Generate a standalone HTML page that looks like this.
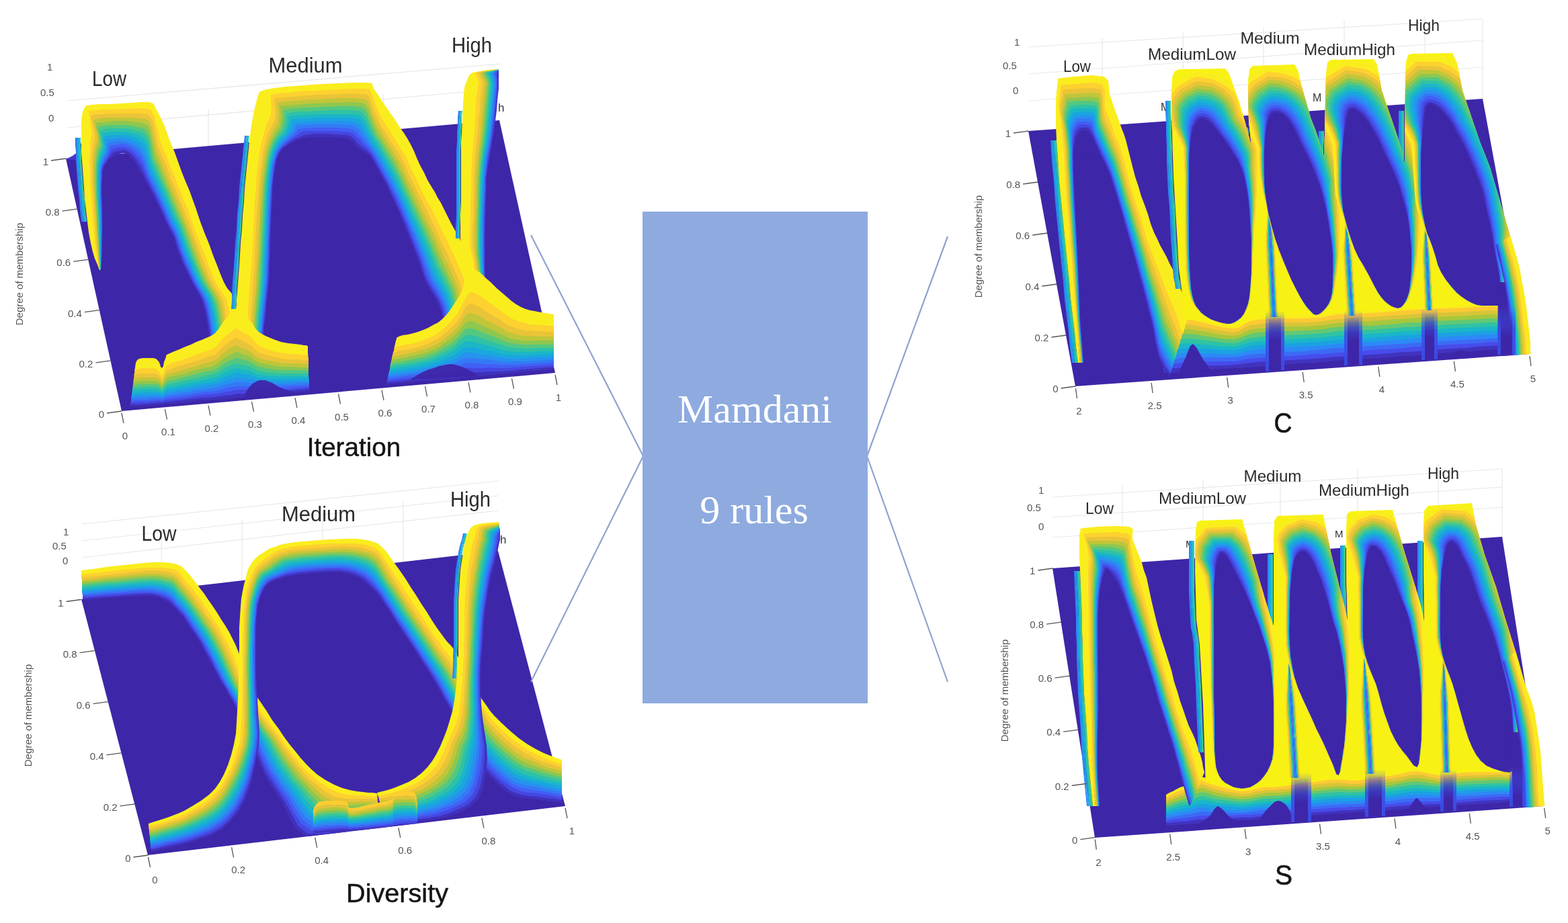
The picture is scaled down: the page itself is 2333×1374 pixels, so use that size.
<!DOCTYPE html>
<html><head><meta charset="utf-8"><style>html,body{margin:0;padding:0;background:#fff;overflow:hidden}svg{display:block}</style></head><body>
<svg xmlns="http://www.w3.org/2000/svg" width="2333" height="1374" viewBox="0 0 2333 1374">
<defs><clipPath id="cTL"><polygon points="60.0,0.0 870.0,0.0 870.0,551.1 60.0,622.7"/></clipPath>
<clipPath id="cBL"><polygon points="60.0,700.0 880.0,700.0 880.0,1195.4 60.0,1291.9"/></clipPath>
<clipPath id="cTR"><polygon points="1450.0,0.0 2330.0,0.0 2330.0,523.2 1450.0,585.7"/></clipPath>
<clipPath id="u1"><polygon points="1762,492 1758,430 1754,400 1750,330 1746,263 1744,200 1743,150 1744,115 1748,106 1755,103 1823,102 1829,110 1836,130 1843,150 1852,180 1860,210 1862,218 1858,180 1857,150 1857,122 1859,103 1864,98 1926,96 1931,104 1936,126 1943,150 1950,175 1959,198 1966,220 1970,232 1971,200 1972,150 1973,110 1975,93 1980,89 2044,88 2049,96 2056,135 2069,173 2082,211 2088,232 2090,245 2090,200 2091,122 2092,92 2095,82 2100,80 2161,79 2168,94 2176,135 2189,173 2202,211 2217,249 2232,300 2247,351 2261,400 2270,450 2276,500 2277,528 2250,473 2231,455 2180,455 2110,458 2079,460 2040,463 1990,465 1958,470 1900,471 1860,475 1836,487 1790,477 1762,475"/></clipPath>
<linearGradient id="g1" gradientUnits="userSpaceOnUse" x1="0.0" y1="462.0" x2="0.0" y2="497.0"><stop offset="0" stop-color="#3a4ee8" stop-opacity="0.00"/><stop offset="1" stop-color="#3a4ee8" stop-opacity="0.90"/></linearGradient>
<linearGradient id="g2" gradientUnits="userSpaceOnUse" x1="0.0" y1="470.0" x2="0.0" y2="507.0"><stop offset="0" stop-color="#3e26a8" stop-opacity="0.00"/><stop offset="1" stop-color="#3e26a8" stop-opacity="1.00"/></linearGradient>
<linearGradient id="g3" gradientUnits="userSpaceOnUse" x1="0.0" y1="462.0" x2="0.0" y2="497.0"><stop offset="0" stop-color="#3a4ee8" stop-opacity="0.00"/><stop offset="1" stop-color="#3a4ee8" stop-opacity="0.90"/></linearGradient>
<linearGradient id="g4" gradientUnits="userSpaceOnUse" x1="0.0" y1="470.0" x2="0.0" y2="507.0"><stop offset="0" stop-color="#3e26a8" stop-opacity="0.00"/><stop offset="1" stop-color="#3e26a8" stop-opacity="1.00"/></linearGradient>
<linearGradient id="g5" gradientUnits="userSpaceOnUse" x1="0.0" y1="458.0" x2="0.0" y2="493.0"><stop offset="0" stop-color="#3a4ee8" stop-opacity="0.00"/><stop offset="1" stop-color="#3a4ee8" stop-opacity="0.90"/></linearGradient>
<linearGradient id="g6" gradientUnits="userSpaceOnUse" x1="0.0" y1="466.0" x2="0.0" y2="503.0"><stop offset="0" stop-color="#3e26a8" stop-opacity="0.00"/><stop offset="1" stop-color="#3e26a8" stop-opacity="1.00"/></linearGradient>
<linearGradient id="g7" gradientUnits="userSpaceOnUse" x1="0.0" y1="455.0" x2="0.0" y2="490.0"><stop offset="0" stop-color="#3a4ee8" stop-opacity="0.00"/><stop offset="1" stop-color="#3a4ee8" stop-opacity="0.90"/></linearGradient>
<linearGradient id="g8" gradientUnits="userSpaceOnUse" x1="0.0" y1="463.0" x2="0.0" y2="500.0"><stop offset="0" stop-color="#3e26a8" stop-opacity="0.00"/><stop offset="1" stop-color="#3e26a8" stop-opacity="1.00"/></linearGradient>
<clipPath id="cBR"><polygon points="1450.0,690.0 2333.0,690.0 2333.0,1197.5 1450.0,1259.1"/></clipPath>
<clipPath id="u2"><polygon points="1794,1172 1790,1050 1785,960 1780,922 1778,850 1779,790 1781,777 1786,775 1848,773 1853,790 1863,826 1877,874 1889,915 1895,932 1895,850 1895,802 1896,775 1901,768 1969,766 1971,778 1981,826 1993,874 2001,905 2005,925 2003,850 2003,790 2004,765 2010,761 2072,759 2077,778 2091,826 2106,874 2115,905 2119,925 2118,850 2118,790 2119,760 2125,753 2190,749 2195,778 2209,826 2226,874 2240,922 2255,970 2269,1018 2283,1060 2292,1120 2298,1200 2265,1173 2251,1150 2180,1149 2140,1153 2108,1146 2070,1153 2020,1161 1990,1159 1950,1163 1905,1170 1880,1171 1848,1177 1810,1168 1794,1165"/></clipPath>
<linearGradient id="g9" gradientUnits="userSpaceOnUse" x1="0.0" y1="1150.0" x2="0.0" y2="1185.0"><stop offset="0" stop-color="#3a4ee8" stop-opacity="0.00"/><stop offset="1" stop-color="#3a4ee8" stop-opacity="0.90"/></linearGradient>
<linearGradient id="g10" gradientUnits="userSpaceOnUse" x1="0.0" y1="1158.0" x2="0.0" y2="1195.0"><stop offset="0" stop-color="#3e26a8" stop-opacity="0.00"/><stop offset="1" stop-color="#3e26a8" stop-opacity="1.00"/></linearGradient>
<linearGradient id="g11" gradientUnits="userSpaceOnUse" x1="0.0" y1="1145.0" x2="0.0" y2="1180.0"><stop offset="0" stop-color="#3a4ee8" stop-opacity="0.00"/><stop offset="1" stop-color="#3a4ee8" stop-opacity="0.90"/></linearGradient>
<linearGradient id="g12" gradientUnits="userSpaceOnUse" x1="0.0" y1="1153.0" x2="0.0" y2="1190.0"><stop offset="0" stop-color="#3e26a8" stop-opacity="0.00"/><stop offset="1" stop-color="#3e26a8" stop-opacity="1.00"/></linearGradient>
<linearGradient id="g13" gradientUnits="userSpaceOnUse" x1="0.0" y1="1145.0" x2="0.0" y2="1180.0"><stop offset="0" stop-color="#3a4ee8" stop-opacity="0.00"/><stop offset="1" stop-color="#3a4ee8" stop-opacity="0.90"/></linearGradient>
<linearGradient id="g14" gradientUnits="userSpaceOnUse" x1="0.0" y1="1153.0" x2="0.0" y2="1190.0"><stop offset="0" stop-color="#3e26a8" stop-opacity="0.00"/><stop offset="1" stop-color="#3e26a8" stop-opacity="1.00"/></linearGradient>
<linearGradient id="g15" gradientUnits="userSpaceOnUse" x1="0.0" y1="1140.0" x2="0.0" y2="1175.0"><stop offset="0" stop-color="#3a4ee8" stop-opacity="0.00"/><stop offset="1" stop-color="#3a4ee8" stop-opacity="0.90"/></linearGradient>
<linearGradient id="g16" gradientUnits="userSpaceOnUse" x1="0.0" y1="1148.0" x2="0.0" y2="1185.0"><stop offset="0" stop-color="#3e26a8" stop-opacity="0.00"/><stop offset="1" stop-color="#3e26a8" stop-opacity="1.00"/></linearGradient></defs>
<rect width="2333" height="1374" fill="#fff"/>
<g stroke="#e6e6e6" stroke-width="1.2" fill="none">
<line x1="180" y1="175" x2="180" y2="240"/>
<line x1="310" y1="163" x2="310" y2="228"/>
<line x1="440" y1="152" x2="440" y2="217"/>
<line x1="570" y1="141" x2="570" y2="206"/>
<line x1="700" y1="129" x2="700" y2="194"/>
<polyline points="100,190 745,132"/><polyline points="100,150 745,95"/>
</g>
<text x="741.0" y="166.0" font-family="Liberation Sans, Arial, sans-serif" font-size="17.0" font-weight="normal" fill="#333">h</text>
<polygon points="181,612 826,555 743,179 98,236" fill="#3e26a8"/>
<g clip-path="url(#cTL)">
<polygon points="98,237 108,232 116,226 121,212 126,240" fill="#4636c8"/>
<polygon points="123,330 121,313 120,296 118,280 117,265 116,252 115,239 115,227 114,216 114,205 112,205 112,216 113,227 113,239 114,252 115,265 116,280 118,296 119,313 121,330" fill="#3676f6"/>
<polygon points="125,330 123,313 121,296 120,280 118,265 117,252 117,239 116,227 116,216 116,205 114,205 114,216 114,227 115,239 115,252 116,265 118,280 119,296 121,313 123,330" fill="#2791ef"/>
<polygon points="126,330 125,313 123,296 121,280 120,265 119,252 118,239 118,227 118,216 117,205 115,205 115,216 116,227 116,239 117,252 118,265 119,280 121,296 122,313 124,330" fill="#18a9dd"/>
<polygon points="128,330 126,313 124,296 123,280 122,265 121,252 120,239 119,227 119,216 119,205 117,205 117,216 117,227 118,239 119,252 120,265 121,280 122,296 124,313 126,330" fill="#1fb9bf"/>
<polygon points="129,330 127,313 126,296 124,280 123,265 122,252 121,239 121,227 120,216 120,205 118,205 119,216 119,227 119,239 120,252 121,265 122,280 124,296 126,313 127,330" fill="#34c69c"/>
<polygon points="150,402 150,394 151,385 151,375 151,361 151,345 151,330 151,316 150,302 150,289 150,276 150,264 150,255 151,248 152,244 154,241 155,237 157,234 159,231 161,229 163,226 165,223 167,222 170,221 173,220 178,219 183,219 189,220 194,223 200,228 204,233 208,237 210,242 213,246 215,252 218,258 221,264 223,269 226,274 229,280 232,287 236,295 240,304 244,312 247,321 251,329 255,336 258,343 262,351 265,360 268,369 272,380 277,393 284,407 290,420 295,429 300,437 304,445 307,453 309,460 311,469 313,480 314,492 316,505 312,505 310,493 308,481 306,470 304,461 302,453 299,445 295,437 290,429 285,420 279,407 272,393 267,380 263,370 261,361 258,353 254,346 251,339 247,332 244,324 240,317 237,309 233,301 229,294 226,287 223,281 221,277 218,272 215,267 213,263 210,258 207,253 205,249 202,244 198,239 194,233 190,229 186,228 182,228 178,229 175,230 172,231 170,232 168,233 165,235 163,237 161,239 159,242 157,245 155,248 154,251 153,256 152,265 152,277 152,290 152,303 153,316 153,330 153,345 152,361 152,375 151,385 151,394 150,402" fill="#4031bb"/>
<polygon points="150,402 150,394 150,385 150,375 150,361 150,345 150,330 150,316 149,302 149,289 149,276 149,264 149,254 150,248 151,243 153,240 154,236 156,232 158,229 160,226 161,223 162,219 164,217 167,216 170,216 176,215 182,215 188,215 194,218 200,223 206,227 209,232 211,236 214,241 216,248 219,254 222,260 224,266 227,271 230,277 234,285 238,293 242,302 245,310 249,319 253,327 256,335 260,342 264,350 267,359 270,369 274,380 279,393 286,407 292,420 297,429 302,437 306,445 309,452 310,460 312,469 314,480 316,492 318,504 314,505 312,493 310,481 308,470 306,461 304,453 301,445 297,437 292,429 287,420 281,407 274,393 269,380 265,370 262,360 260,352 256,345 252,338 249,331 245,323 242,315 238,307 234,299 231,291 227,284 224,279 222,274 219,269 216,263 214,258 211,252 209,248 206,243 203,238 199,233 194,228 189,225 185,223 180,224 175,225 172,225 170,226 167,228 166,230 164,233 162,235 160,238 158,241 156,244 154,247 153,250 152,256 152,265 151,277 151,290 152,303 152,316 152,330 152,345 152,361 152,375 151,385 151,394 150,402" fill="#4647e1"/>
<polygon points="150,402 150,394 150,385 150,375 150,361 150,345 150,330 149,316 148,302 148,289 148,276 148,263 148,253 149,247 150,242 152,238 153,234 155,230 157,227 158,224 159,220 160,214 162,213 164,212 168,211 174,211 181,210 188,211 194,214 201,218 207,222 210,226 213,230 215,235 218,243 220,250 223,257 226,262 228,268 231,274 235,282 239,291 243,299 247,308 250,317 254,326 258,334 262,341 265,349 269,358 272,369 276,380 281,393 288,407 294,420 299,429 304,437 308,445 311,452 312,459 314,468 316,479 318,492 320,504 315,505 314,492 312,480 310,469 308,460 306,453 303,445 299,437 294,429 289,420 283,407 276,393 271,380 267,369 264,360 261,351 258,344 254,337 250,329 247,321 243,313 240,305 236,297 232,289 228,281 225,275 223,270 220,265 218,259 215,253 213,246 210,242 208,237 204,233 200,228 194,223 189,220 183,219 178,219 173,220 170,221 167,222 165,223 164,227 162,230 161,233 159,236 157,239 155,242 153,246 152,249 151,255 151,265 150,277 150,289 151,302 151,316 152,330 152,345 151,361 151,375 151,385 150,394 150,402" fill="#425ff5"/>
<polygon points="150,402 150,394 150,385 149,375 149,361 149,345 149,330 148,316 148,302 147,288 147,275 147,263 147,253 148,246 149,241 150,237 152,232 154,229 156,225 157,221 157,216 157,210 159,208 161,207 165,207 171,206 179,206 187,206 195,209 202,212 208,216 212,220 214,224 217,229 219,238 222,246 224,253 227,259 229,264 232,271 236,279 240,288 244,297 248,306 252,316 256,324 260,332 263,340 267,348 270,358 274,368 278,380 284,393 290,408 296,420 301,429 306,437 310,445 313,452 314,459 316,468 318,479 320,491 322,504 317,504 315,492 313,480 311,469 310,460 308,452 305,445 301,437 296,429 291,420 285,407 278,393 273,380 269,369 266,359 263,350 259,342 255,335 252,328 248,320 245,311 241,303 237,294 233,286 229,278 226,272 224,267 221,262 219,255 216,248 214,241 212,236 209,231 206,227 201,223 194,218 188,215 182,214 176,215 170,216 167,216 164,217 162,219 162,224 161,228 159,231 157,234 155,237 154,241 152,244 151,248 150,254 150,264 150,276 150,289 150,302 151,316 151,330 151,345 151,361 151,375 151,385 150,394 150,402" fill="#347af6"/>
<polygon points="150,402 149,394 149,385 149,375 149,361 148,345 148,330 147,315 147,301 146,288 146,275 146,263 146,252 147,245 148,240 149,235 151,231 152,226 154,223 155,218 155,213 154,205 156,204 159,203 163,202 169,201 178,201 186,201 195,203 203,207 209,210 213,214 216,218 218,223 220,232 223,241 225,250 228,255 231,261 234,268 238,276 242,285 246,295 250,304 254,314 258,323 261,331 265,338 269,347 272,357 276,368 280,380 286,393 292,408 298,420 303,429 308,437 312,444 315,452 317,459 318,467 320,478 322,491 324,504 319,504 317,492 315,479 313,468 312,460 310,452 307,445 303,437 298,429 293,420 287,407 281,393 275,380 271,369 268,359 264,349 261,341 257,334 253,326 250,318 246,309 242,300 238,292 234,283 231,275 228,269 225,264 222,258 220,251 218,243 215,235 213,230 210,226 207,222 201,217 194,213 188,211 181,210 173,210 168,211 164,212 162,213 159,214 160,220 159,225 158,229 156,232 154,236 153,240 151,243 150,247 149,254 149,264 149,276 149,289 149,302 150,316 150,330 150,345 150,361 150,375 150,385 150,394 150,402" fill="#2792ef"/>
<polygon points="149,402 149,394 149,385 148,375 148,361 148,345 147,330 146,315 146,301 145,287 145,274 145,262 145,252 146,244 147,239 148,234 149,229 151,224 153,221 153,215 153,209 151,200 153,199 156,198 160,197 167,197 176,196 186,197 195,198 204,201 211,204 215,208 217,212 220,216 222,227 224,237 227,246 229,251 232,257 235,264 239,273 243,282 247,292 252,302 256,312 260,321 263,329 267,337 271,346 274,356 278,368 283,380 288,393 294,408 300,420 305,429 310,437 314,444 317,451 319,458 320,467 322,478 324,491 326,503 321,504 319,491 317,479 316,468 314,459 312,452 309,445 305,437 300,429 295,420 289,408 283,393 277,380 273,368 270,358 266,348 263,340 259,333 255,325 252,316 248,307 244,298 240,289 236,280 232,272 229,266 226,260 224,255 221,247 219,238 217,228 214,224 212,220 208,216 202,212 195,208 187,206 179,205 171,206 165,207 161,207 159,208 157,210 158,217 157,222 157,227 155,230 153,234 151,238 150,242 149,247 148,253 148,263 148,276 148,288 148,302 149,316 149,330 150,345 150,361 150,375 150,385 150,394 150,402" fill="#19a7de"/>
<polygon points="149,402 149,394 148,385 148,375 147,361 147,346 146,330 145,315 145,301 144,287 144,274 144,262 144,251 144,243 145,237 146,232 148,227 149,222 151,218 151,212 150,205 149,196 150,194 153,193 157,193 165,192 175,191 185,192 195,193 204,195 212,198 216,201 219,205 221,210 223,221 226,232 228,241 231,247 233,253 237,261 240,269 245,279 249,289 253,299 258,310 262,320 265,328 269,336 273,345 277,355 281,367 285,380 291,394 297,408 303,420 308,429 313,437 317,444 320,451 321,458 323,466 325,478 326,490 328,503 323,504 321,491 320,479 318,467 316,459 314,452 312,444 307,437 303,429 297,420 291,408 285,393 280,380 275,368 272,357 268,347 265,339 261,331 257,323 253,314 249,305 245,295 241,286 237,277 233,269 230,262 228,256 225,251 223,242 220,233 218,222 216,217 213,213 209,210 203,206 195,203 186,201 178,201 169,201 162,202 158,202 156,203 154,205 155,213 156,219 155,224 153,228 151,232 150,236 149,241 148,246 147,253 147,263 147,275 147,288 147,301 148,316 149,330 149,345 149,361 149,375 149,385 150,394 150,402" fill="#1bb7c6"/>
<polygon points="149,402 149,394 148,385 147,375 147,361 146,346 145,330 144,315 144,300 143,287 143,273 142,261 143,250 143,242 144,236 145,230 146,224 147,219 149,215 149,208 148,201 146,191 148,189 150,188 154,188 163,187 174,186 184,187 195,188 205,189 213,192 218,195 220,199 222,204 225,215 227,227 229,237 232,243 235,249 238,257 242,266 246,276 251,286 255,297 260,308 264,318 268,326 271,334 275,343 279,355 283,367 288,380 294,394 299,408 305,420 310,429 316,437 320,444 322,451 324,458 325,466 327,477 329,490 330,503 325,503 324,491 322,478 320,467 318,458 317,452 314,444 310,437 305,429 300,420 294,408 288,393 282,380 278,368 274,356 270,346 267,337 263,330 259,322 255,312 251,302 247,292 243,283 239,273 235,265 232,258 229,252 226,246 224,237 222,227 220,216 217,211 215,207 211,204 204,200 195,198 186,196 176,196 167,196 160,197 155,198 153,198 151,200 153,209 154,216 153,222 152,225 150,230 149,234 147,239 146,245 146,252 145,262 145,275 146,288 146,301 147,315 148,330 148,345 148,361 149,375 149,385 149,394 150,402" fill="#2ec2a7"/>
<polygon points="149,402 148,394 147,385 147,375 146,361 145,346 144,330 143,315 142,300 142,286 141,273 141,260 141,249 141,241 142,234 143,228 144,222 146,216 147,212 147,205 145,196 143,186 144,184 147,183 151,183 160,182 172,181 184,181 195,182 206,183 215,185 219,188 222,192 224,197 226,209 229,221 231,232 234,238 237,245 240,253 244,262 248,272 253,283 257,294 262,305 266,316 270,325 273,333 277,342 281,354 286,367 291,380 296,394 302,408 308,420 313,429 318,437 322,444 325,451 327,457 328,465 330,476 331,490 333,503 328,503 326,490 324,478 323,466 321,458 319,451 317,444 313,437 308,429 302,420 297,408 291,394 285,380 280,368 276,356 272,345 269,336 265,328 261,320 257,310 253,300 249,290 245,280 240,270 236,261 233,254 231,248 228,242 225,232 223,221 221,209 219,205 216,201 212,197 204,195 195,192 185,191 175,191 165,191 157,192 152,193 150,194 148,195 151,205 151,212 152,219 150,223 148,227 147,232 146,238 145,244 144,251 144,262 144,274 144,287 145,301 146,315 147,330 147,346 148,361 148,375 149,385 149,394 149,402" fill="#54c880"/>
<polygon points="149,402 148,394 147,385 146,375 145,361 144,346 143,330 142,315 141,300 140,286 140,272 139,260 139,248 140,239 140,232 141,225 142,219 143,213 145,208 144,200 142,191 140,180 141,179 143,178 148,177 158,177 171,176 183,176 195,176 207,177 216,179 221,182 223,185 226,190 228,203 230,215 233,226 236,233 238,240 242,248 246,258 250,269 255,280 260,291 264,303 269,314 272,323 276,331 280,341 284,353 289,366 294,380 300,394 306,408 311,420 316,429 322,437 326,444 328,450 330,457 331,465 333,476 334,489 336,502 330,503 329,490 327,477 325,466 324,458 322,451 319,444 315,437 310,429 305,420 299,408 293,394 288,380 283,367 279,355 275,343 271,334 267,326 264,318 260,308 255,297 251,286 246,276 242,266 238,257 235,249 232,243 229,237 227,226 225,215 223,203 220,198 218,194 214,191 205,189 195,187 184,186 173,186 162,186 154,187 149,188 147,188 145,190 148,201 149,209 150,216 148,220 146,225 145,230 144,236 143,242 143,250 143,261 143,274 143,287 144,301 145,315 145,330 146,346 147,361 147,375 148,385 149,394 149,402" fill="#8ec750"/>
<polygon points="149,402 148,394 146,385 145,375 144,361 142,346 141,330 140,315 139,299 138,285 138,271 137,259 137,247 138,238 138,230 139,222 140,215 141,209 142,204 141,195 139,186 136,175 138,173 140,172 145,172 155,171 169,171 182,170 195,170 208,171 218,172 223,174 225,178 227,183 230,196 232,209 235,220 238,227 241,234 244,243 248,253 253,264 257,276 262,288 267,300 272,311 275,320 279,329 283,339 287,352 292,366 298,380 303,394 309,408 315,420 320,429 325,437 329,444 332,450 333,456 334,464 336,475 338,489 339,502 333,503 332,490 330,476 328,465 327,457 325,451 323,444 319,437 314,429 308,420 303,408 297,394 291,380 286,367 282,354 277,342 274,332 270,324 266,316 262,305 257,294 253,283 248,272 244,262 240,252 237,245 234,238 231,231 229,220 226,208 224,196 222,191 220,187 215,184 206,182 195,181 184,180 172,180 160,181 151,182 146,182 144,183 142,185 145,196 147,204 147,212 146,217 144,222 143,228 142,234 142,241 141,250 141,260 141,273 142,286 142,300 143,315 144,330 145,346 146,361 147,375 147,385 148,394 149,402" fill="#c0c639"/>
<polygon points="149,402 147,394 145,385 144,375 142,361 141,346 140,330 138,314 137,299 136,284 135,270 135,258 135,246 135,236 135,227 136,219 137,211 138,204 139,199 138,190 136,180 133,169 134,167 136,167 142,166 153,165 167,165 181,164 195,164 209,164 219,165 224,167 227,170 229,175 232,188 234,201 237,213 240,220 243,228 246,237 251,247 255,259 260,271 265,284 270,296 275,308 279,318 282,327 286,337 291,350 296,365 302,380 308,394 313,408 319,420 324,429 329,437 333,444 336,450 337,455 338,463 340,474 341,488 343,501 336,502 335,489 333,476 332,464 330,456 329,450 326,444 322,437 317,429 312,420 306,408 300,394 295,380 290,366 285,353 280,340 276,331 273,322 269,313 265,302 260,290 255,279 251,268 246,257 242,247 239,239 236,232 233,225 231,214 228,201 226,189 223,184 221,180 216,177 207,176 195,175 183,175 170,175 157,175 148,176 143,177 141,178 139,179 142,190 144,200 145,208 143,213 142,218 141,225 140,232 139,239 139,248 139,259 139,272 140,286 141,300 142,315 143,330 144,346 145,361 146,375 147,385 148,394 149,402" fill="#e9c438"/>
<polygon points="149,402 146,394 144,385 142,375 140,361 139,346 137,330 136,314 134,298 133,283 132,269 132,256 131,244 131,233 131,223 132,214 132,205 133,198 134,192 133,182 131,172 129,163 131,161 133,160 138,160 150,159 165,158 181,158 195,157 210,156 221,157 226,159 229,162 231,167 234,179 237,192 240,204 243,212 246,219 250,229 254,240 259,252 264,265 269,278 274,292 279,304 283,315 286,324 290,334 296,349 302,365 308,380 313,394 319,408 324,420 329,429 335,437 339,443 341,449 342,454 343,462 345,473 346,487 348,501 340,502 339,488 337,475 335,464 334,456 333,450 330,444 326,437 321,429 316,420 310,408 305,394 299,380 294,366 288,351 284,338 280,328 276,320 273,310 268,299 263,286 258,274 253,263 249,251 245,241 241,232 238,225 235,218 233,206 230,193 228,181 225,176 223,173 218,170 208,169 195,169 182,169 168,169 155,170 144,170 139,171 137,172 135,173 138,184 140,194 141,203 140,208 139,214 138,221 137,229 137,237 137,247 137,258 137,271 138,285 139,299 140,315 141,330 142,346 143,361 145,375 146,385 147,394 149,402" fill="#fdd12f"/>
<polygon points="148,402 145,394 141,385 138,375 135,362 132,346 130,330 128,313 126,296 125,280 124,266 123,252 122,239 121,225 121,212 121,200 121,189 121,180 122,172 123,166 125,162 127,159 128,157 130,157 136,156 148,155 164,155 180,154 195,153 210,152 222,152 228,154 230,157 232,162 236,169 241,179 245,188 248,196 251,205 255,215 260,227 265,241 270,255 276,270 282,284 287,298 291,309 294,318 298,330 304,346 311,363 317,380 323,395 328,408 333,420 338,429 344,436 348,443 350,448 351,453 352,460 353,472 355,486 356,500 345,501 344,488 342,474 341,462 339,455 338,449 336,443 332,437 326,429 321,420 316,408 310,394 305,380 299,365 293,350 288,336 284,325 281,316 277,306 272,294 267,281 262,268 257,256 252,244 248,233 244,224 241,216 238,209 236,197 232,184 230,173 227,168 225,164 220,162 209,161 195,162 181,162 167,163 152,163 141,164 135,165 133,165 132,167 134,177 135,186 137,196 136,201 135,208 134,216 134,225 133,235 133,245 134,257 134,270 135,284 136,299 137,314 138,330 140,346 141,361 143,375 145,385 147,394 149,402" fill="#faed1e"/>
<polygon points="346,460 346,447 347,434 348,421 349,408 350,395 351,380 352,361 353,341 355,320 356,300 358,280 360,260 362,241 364,221 366,202 364,202 362,221 360,241 358,260 356,280 355,300 353,320 352,341 350,361 349,380 348,395 347,408 346,421 345,434 345,447 344,460" fill="#3676f6"/>
<polygon points="347,460 348,447 348,434 349,421 350,408 351,395 352,380 353,361 355,341 356,320 358,300 359,280 361,260 363,241 365,221 367,202 365,202 363,221 361,241 359,260 358,280 356,300 354,320 353,341 352,361 350,380 349,395 348,408 347,421 347,434 346,447 345,460" fill="#2791ef"/>
<polygon points="349,460 349,447 350,434 351,421 352,408 353,395 354,380 355,361 356,341 358,320 359,300 361,280 363,260 365,241 367,221 369,202 367,202 365,221 363,241 361,260 359,280 357,300 356,320 354,341 353,361 352,380 351,395 350,408 349,421 348,434 347,447 347,460" fill="#18a9dd"/>
<polygon points="350,460 351,447 351,434 352,421 353,408 354,395 355,380 356,361 358,341 359,320 361,300 362,280 364,260 366,241 368,221 370,202 368,202 366,221 364,241 362,260 360,280 359,300 357,320 356,341 354,361 353,380 352,395 351,408 350,421 349,434 349,447 348,460" fill="#1fb9bf"/>
<polygon points="351,460 352,447 352,434 353,421 354,408 355,395 356,380 357,361 359,341 360,320 362,300 363,280 365,260 367,241 369,221 371,202 370,202 368,221 366,241 364,260 362,280 360,300 359,320 357,341 356,361 355,380 353,395 352,408 352,421 351,434 350,447 350,460" fill="#34c69c"/>
<polygon points="389,500 390,487 391,473 392,460 394,447 395,434 396,421 397,408 397,395 398,380 399,361 399,341 400,320 401,299 403,278 404,260 406,246 409,235 412,226 417,218 424,211 431,206 436,202 442,199 448,196 457,195 466,195 475,195 484,195 493,195 502,195 510,196 517,196 523,198 528,202 533,206 538,211 542,216 547,220 552,225 558,233 563,242 568,251 573,260 578,269 582,278 586,287 590,295 594,304 598,313 602,322 606,331 609,340 613,348 616,356 620,365 624,375 628,384 631,394 635,404 638,414 642,421 646,428 650,435 654,441 657,448 660,454 662,461 663,469 665,476 660,480 659,473 657,467 655,460 652,453 649,447 645,440 641,434 637,427 633,420 630,411 626,400 623,390 619,380 616,371 612,362 609,354 605,345 602,337 598,328 595,319 591,310 587,302 583,293 579,285 575,276 570,267 565,258 560,249 555,239 550,232 545,228 540,225 535,222 530,217 525,212 520,208 515,206 511,205 505,205 497,204 489,204 480,204 471,204 463,204 455,205 448,207 441,209 435,212 428,216 421,221 416,228 412,236 410,247 408,260 406,278 405,299 404,320 403,341 403,361 402,380 401,395 401,408 400,421 399,434 397,447 396,460 395,473 393,487 392,500" fill="#4031bb"/>
<polygon points="387,500 389,487 390,473 391,460 392,447 394,434 395,421 396,408 396,395 397,380 398,361 398,341 399,320 400,299 402,278 403,260 405,246 408,235 411,225 416,217 423,210 429,204 434,200 440,196 445,192 453,191 463,190 473,190 482,190 492,190 500,191 509,191 518,191 525,193 530,196 534,201 539,206 543,211 548,216 553,222 559,230 564,239 569,249 574,258 579,266 583,275 588,284 592,292 596,301 600,310 604,320 608,329 611,337 615,345 618,354 622,363 626,373 630,382 633,392 637,402 640,411 644,419 648,426 652,433 656,439 659,445 661,452 663,459 665,467 666,474 662,478 660,472 659,465 657,458 654,451 651,445 647,438 643,432 639,425 635,418 631,408 628,398 625,388 621,378 617,369 614,360 610,351 607,343 604,335 600,326 596,317 592,308 588,299 584,291 580,282 576,273 571,264 566,255 561,246 556,237 551,229 546,224 541,221 536,217 531,212 527,207 522,203 516,201 510,201 504,200 495,200 487,199 478,199 469,199 460,200 452,201 446,204 440,206 434,210 427,215 420,220 415,227 411,236 409,247 407,260 405,278 404,299 403,320 402,341 401,361 401,380 400,395 400,408 399,421 398,434 396,447 395,460 394,473 392,487 391,500" fill="#4647e1"/>
<polygon points="386,500 387,487 389,473 390,460 391,447 392,434 393,421 394,408 395,395 396,380 396,361 397,341 398,320 399,299 400,278 402,260 404,246 406,234 410,224 415,215 421,208 428,202 433,197 437,193 441,188 450,186 460,186 470,186 480,185 490,185 499,186 509,186 518,186 527,187 532,191 536,195 540,200 545,207 550,212 554,219 560,227 565,236 570,246 575,255 580,264 585,272 589,281 593,290 597,299 601,308 605,317 609,326 613,335 616,343 620,351 624,361 628,370 632,380 635,390 639,399 642,408 646,416 650,424 654,431 658,437 661,443 663,450 665,457 667,465 668,473 664,477 662,470 661,462 659,455 656,449 653,442 649,436 645,429 641,423 637,415 633,406 630,396 627,386 623,376 619,366 615,357 612,349 609,341 605,332 601,323 598,314 594,305 590,296 586,288 581,280 577,271 572,262 567,253 562,243 557,234 552,226 547,221 542,216 538,211 533,206 528,201 523,198 517,196 510,196 502,195 493,195 484,195 475,195 466,195 456,195 448,196 443,200 438,204 432,208 426,213 419,219 414,227 410,236 408,246 406,260 404,278 403,299 402,320 401,341 400,361 400,380 399,395 398,408 398,421 396,434 395,447 394,460 392,473 391,487 390,500" fill="#425ff5"/>
<polygon points="385,500 386,487 387,473 388,460 390,447 391,434 392,421 393,408 394,395 394,380 395,361 396,341 397,320 398,299 399,278 401,260 403,246 405,234 408,223 413,214 420,206 426,200 431,195 434,190 437,183 447,182 457,181 468,181 478,181 487,181 497,181 508,181 519,181 528,182 534,185 537,190 541,195 546,202 551,209 556,216 561,224 566,233 572,243 577,252 582,261 586,269 590,278 594,287 599,296 603,305 607,315 611,324 615,332 618,340 622,349 626,358 630,368 634,378 637,387 641,397 644,406 648,414 653,421 657,428 660,435 663,441 665,447 667,455 669,463 670,471 665,475 664,468 663,460 661,453 658,446 655,440 651,434 647,427 643,420 639,412 636,403 632,393 629,383 625,374 621,364 617,355 614,346 610,338 607,330 603,321 599,312 595,302 591,294 587,285 583,277 578,268 573,259 569,250 563,241 558,231 553,223 548,217 543,212 539,206 534,201 530,196 525,193 518,191 509,191 500,190 491,190 482,190 473,190 463,190 453,191 444,192 440,197 436,202 431,206 424,211 418,218 412,226 409,235 406,246 405,260 403,278 402,299 400,320 400,341 399,361 398,380 398,395 397,408 396,421 395,434 394,447 392,460 391,473 390,487 389,500" fill="#347af6"/>
<polygon points="384,500 385,487 386,473 387,460 388,447 389,434 391,421 391,408 392,395 393,380 393,361 394,341 395,320 396,299 398,278 399,260 401,245 404,233 407,223 412,213 418,205 424,198 428,192 431,186 434,179 443,177 454,176 465,176 475,176 485,176 496,176 508,175 520,175 530,177 536,180 539,184 543,189 547,197 552,205 557,213 562,221 568,230 573,240 578,249 583,257 588,266 592,275 596,284 600,293 604,302 609,312 613,321 616,330 620,338 624,346 628,355 632,365 636,375 640,384 643,394 647,403 651,411 655,419 659,426 662,432 665,438 668,444 669,452 671,461 672,469 667,474 666,466 665,458 663,451 660,444 657,438 653,431 650,425 645,417 641,409 638,400 634,391 631,381 627,371 623,362 619,352 616,344 612,336 608,327 605,318 601,309 597,300 593,291 588,282 584,274 580,265 575,256 570,247 565,238 559,228 554,220 549,213 545,207 540,200 536,195 532,191 527,187 518,186 509,185 499,185 489,185 480,185 470,185 460,186 450,186 441,187 438,194 434,199 429,204 423,210 416,217 411,225 408,235 405,246 403,260 402,278 400,299 399,320 398,341 398,361 397,380 396,395 396,408 395,421 394,434 392,447 391,460 390,473 389,487 387,500" fill="#2792ef"/>
<polygon points="382,500 383,487 384,473 385,460 387,447 388,434 389,421 390,408 390,395 391,380 392,361 393,341 394,320 395,299 396,278 398,260 400,245 402,233 405,222 410,212 416,203 422,196 426,189 428,182 430,174 440,172 451,172 463,171 473,171 483,170 494,170 507,170 521,170 532,171 538,174 541,178 544,183 548,192 553,201 558,209 563,218 569,227 574,237 580,245 584,254 589,263 593,272 598,281 602,290 606,299 610,309 615,318 618,327 622,335 626,343 630,353 634,363 638,372 642,382 645,391 649,400 653,408 658,416 661,423 665,430 667,435 670,442 672,450 673,459 674,467 670,472 668,464 667,456 665,448 662,441 659,435 656,429 652,422 648,415 644,407 640,398 637,388 633,378 629,369 625,359 621,350 617,341 614,333 610,325 606,316 602,306 598,297 594,288 590,279 586,270 581,262 576,253 571,244 566,234 561,225 555,217 550,210 546,202 541,194 538,189 534,185 528,182 519,180 508,180 497,180 487,180 478,180 468,181 457,181 446,182 437,183 435,190 432,196 427,202 421,208 415,215 410,224 406,234 404,246 402,260 400,278 399,299 398,320 397,341 396,361 395,380 395,395 394,408 393,421 392,434 391,447 390,460 388,473 387,487 386,500" fill="#19a7de"/>
<polygon points="381,500 382,487 383,473 384,460 385,447 386,434 387,421 388,408 389,395 389,380 390,361 391,341 392,320 393,299 395,278 396,260 398,245 400,232 404,221 409,210 414,201 420,193 424,186 425,179 426,169 436,168 448,167 460,166 471,166 481,165 493,165 507,165 522,165 533,166 539,168 542,172 545,177 550,187 554,196 559,206 565,214 571,224 576,233 581,242 586,251 591,259 595,268 599,277 603,287 608,296 612,306 617,315 621,324 624,332 628,340 632,350 637,360 641,370 645,379 648,388 652,396 656,405 660,413 664,421 667,427 670,432 672,439 674,447 675,456 677,465 672,470 670,461 669,453 667,445 665,439 662,433 658,426 654,419 650,412 646,403 642,395 639,385 636,376 631,366 627,356 623,347 620,338 616,330 612,322 608,313 604,303 600,294 596,285 591,276 587,267 583,258 578,250 573,241 567,231 562,222 556,214 552,205 547,198 543,188 539,184 536,179 530,176 520,175 508,175 496,175 485,175 475,175 465,176 454,176 443,177 433,178 432,187 429,193 426,200 419,206 413,214 408,223 405,234 402,246 400,260 399,278 397,299 396,320 395,341 395,361 394,380 393,395 392,408 392,421 391,434 389,447 388,460 387,473 386,487 385,500" fill="#1bb7c6"/>
<polygon points="379,500 380,487 381,473 382,460 383,447 384,434 385,421 386,408 387,395 388,380 388,361 389,341 390,320 391,299 393,279 395,260 396,245 399,232 402,220 407,208 412,198 418,190 421,182 422,175 422,164 433,163 445,162 457,161 468,160 479,160 491,160 506,159 523,159 535,160 541,162 544,166 547,171 551,182 556,192 560,202 566,210 572,220 578,229 583,238 588,247 592,256 597,265 601,274 605,283 610,293 614,303 619,312 623,321 627,328 630,337 635,346 639,357 644,366 647,376 651,384 654,393 659,401 663,410 667,418 670,424 673,429 675,436 677,444 678,454 679,463 674,468 673,459 671,450 669,442 667,436 664,430 661,424 657,416 653,408 649,400 645,391 642,382 638,373 634,363 630,353 625,344 622,335 618,327 614,319 610,310 606,300 601,290 597,281 593,272 589,264 584,255 579,246 574,237 569,228 563,218 558,210 553,201 548,192 544,183 541,178 538,174 532,171 521,170 507,170 494,170 483,170 473,170 462,171 451,171 439,172 430,173 429,183 427,190 424,197 417,204 411,212 406,222 403,233 401,245 399,260 397,278 396,299 395,320 394,341 393,361 392,380 391,395 391,408 390,421 389,434 388,447 386,460 385,473 384,487 383,500" fill="#2ec2a7"/>
<polygon points="377,500 378,487 379,473 380,460 381,447 382,434 383,421 384,408 385,395 385,380 386,361 387,341 388,320 389,299 391,279 393,260 394,244 397,231 400,218 404,206 410,196 416,187 418,178 419,170 418,159 429,157 442,156 455,156 466,155 477,154 489,154 505,154 523,153 537,154 543,156 546,160 548,165 552,176 557,187 562,198 568,206 574,216 579,225 585,234 590,243 594,252 599,261 603,270 607,279 612,289 617,299 621,309 625,317 629,325 633,333 637,343 642,353 646,363 650,372 654,380 657,389 662,398 666,407 670,415 673,421 675,426 677,432 679,441 681,451 682,461 677,466 675,456 674,447 672,439 670,433 667,427 664,421 660,413 656,405 651,397 648,388 644,379 641,370 636,360 632,350 628,340 624,332 620,324 616,316 612,306 608,297 603,287 599,278 595,269 591,260 586,251 581,242 576,234 570,224 565,214 559,206 554,197 550,187 546,176 542,172 540,168 534,165 522,164 507,164 492,164 481,165 470,165 460,166 448,166 436,167 426,169 426,179 424,187 421,195 415,202 409,211 405,221 401,232 399,245 397,260 395,278 394,299 393,320 392,341 391,361 390,380 390,395 389,408 388,421 387,434 386,447 385,460 383,473 383,487 382,500" fill="#54c880"/>
<polygon points="375,500 376,487 377,473 377,460 379,447 380,434 381,421 381,408 382,395 383,380 384,361 385,341 386,320 387,299 389,279 390,260 392,244 394,230 397,217 402,204 407,193 413,184 415,174 415,165 414,154 425,152 438,151 452,150 463,149 474,149 487,148 505,148 524,147 539,148 545,150 547,153 550,158 554,170 559,182 564,193 570,202 576,212 581,221 587,230 592,238 596,247 601,256 605,266 609,275 614,285 619,295 624,305 628,313 632,321 636,329 640,339 645,350 650,360 653,368 657,376 661,385 665,394 669,403 673,411 676,417 678,422 681,429 682,438 684,448 685,458 679,463 678,454 676,444 675,436 672,429 670,424 667,418 663,410 659,402 654,393 651,384 647,376 643,367 639,357 635,347 630,337 626,328 623,321 619,312 614,303 610,293 605,283 601,274 597,265 592,256 588,247 583,238 578,230 572,220 566,210 560,202 556,192 551,181 547,170 544,165 542,162 536,159 523,158 506,158 491,159 479,159 468,160 457,160 445,161 432,162 422,164 422,174 421,183 419,191 413,199 407,209 402,220 399,232 397,245 395,260 393,279 392,299 391,320 390,341 389,361 388,380 387,395 387,408 386,421 385,434 384,447 382,460 381,473 381,487 380,500" fill="#8ec750"/>
<polygon points="373,500 373,487 374,473 375,460 376,447 377,434 378,421 379,408 379,395 380,380 381,361 382,341 383,320 385,299 386,279 388,260 390,244 392,229 395,215 399,202 404,189 410,180 411,169 410,160 410,149 421,147 435,145 449,144 460,144 472,143 485,142 504,142 525,141 541,141 548,143 549,147 551,152 555,164 560,176 565,188 571,197 578,207 583,216 589,225 594,233 599,242 603,251 607,261 612,271 617,281 622,291 627,301 631,309 635,317 639,325 644,335 649,346 653,356 657,364 661,372 664,380 669,389 673,399 677,407 680,413 682,418 684,424 686,434 687,444 688,455 682,461 681,451 679,441 678,432 676,426 673,420 670,414 666,406 662,398 658,389 654,380 650,372 647,363 642,353 638,343 633,333 629,325 625,317 621,309 617,299 612,289 607,279 603,270 599,260 594,251 590,242 585,234 579,225 574,216 568,206 562,197 557,187 553,175 549,164 546,159 544,155 537,153 524,152 505,153 489,153 476,154 465,154 454,155 441,156 428,157 417,158 418,170 418,178 416,188 410,196 405,207 400,219 397,231 395,244 393,260 391,279 390,299 388,320 387,341 387,361 386,380 385,395 384,408 383,421 382,434 381,447 380,460 379,473 378,487 378,500" fill="#c0c639"/>
<polygon points="370,500 370,487 371,473 371,460 372,447 373,434 374,421 375,408 376,395 377,380 378,361 379,341 380,320 381,300 383,279 384,260 386,243 388,228 391,213 396,199 401,185 406,174 406,163 405,154 405,143 417,141 431,140 446,138 458,137 469,137 483,136 504,135 526,134 543,135 550,137 551,140 553,144 557,157 562,169 568,182 574,191 580,201 586,210 591,219 597,227 601,236 606,245 610,255 615,265 620,275 625,286 630,296 634,304 639,312 643,320 648,330 653,341 657,351 661,359 665,366 669,374 673,384 678,394 681,403 684,409 686,413 688,419 690,429 691,440 692,452 686,458 684,447 683,437 681,428 679,421 677,417 674,411 670,402 666,393 661,384 658,376 654,368 650,359 646,349 641,339 636,329 632,320 628,313 624,304 620,295 615,284 610,274 605,265 601,255 597,246 592,237 587,229 582,220 576,211 570,201 564,192 559,181 554,169 550,157 548,152 546,149 540,147 524,146 505,146 487,147 474,148 463,148 451,149 438,150 424,151 413,153 414,164 414,174 413,184 407,193 402,204 397,217 394,230 392,244 390,260 388,279 387,299 386,320 385,341 384,361 383,380 382,395 381,408 381,421 380,434 378,447 377,460 377,473 376,487 375,500" fill="#e9c438"/>
<polygon points="365,500 366,487 366,473 367,460 367,447 368,434 369,421 370,408 371,395 372,380 373,361 374,341 375,320 377,300 378,279 380,260 382,243 384,226 387,211 390,194 395,179 400,167 400,155 399,146 400,137 412,134 427,133 442,132 454,131 466,130 481,129 503,128 527,127 546,127 552,129 553,132 555,137 559,148 565,161 570,174 577,183 583,193 589,203 595,211 600,220 605,228 610,238 614,248 619,258 624,269 629,279 634,289 639,297 643,305 648,313 653,324 658,335 663,345 667,353 671,360 674,367 679,377 683,388 687,397 690,403 692,407 693,413 695,423 696,435 697,448 689,454 688,443 687,432 685,423 683,417 681,412 678,406 674,397 670,388 666,378 662,370 658,363 654,354 650,344 645,334 640,324 636,315 632,308 628,299 623,290 618,279 613,269 608,259 604,249 600,240 595,231 590,223 584,214 578,205 572,195 566,186 561,174 556,162 552,150 550,145 548,142 542,140 525,139 504,140 485,141 471,141 460,142 448,143 434,144 420,145 408,147 409,158 410,168 409,178 404,188 398,201 394,215 391,229 389,244 387,260 385,279 384,299 382,320 381,341 380,361 379,380 379,395 378,408 377,421 376,434 375,447 374,460 373,473 373,487 372,500" fill="#fdd12f"/>
<polygon points="352,500 352,487 352,473 352,460 352,447 353,434 354,421 355,408 356,395 357,380 358,361 360,341 361,320 363,300 364,280 366,260 368,240 370,221 372,202 375,181 379,161 383,145 386,137 390,135 397,133 409,131 425,129 440,128 453,127 465,126 480,125 502,124 528,123 547,123 554,124 554,127 556,132 562,140 568,150 575,160 582,170 589,180 595,190 601,198 606,206 611,215 616,225 620,235 625,246 631,257 636,268 642,278 647,286 651,294 656,302 661,312 667,324 672,334 676,341 680,348 684,355 689,365 693,377 697,387 699,392 701,396 702,402 703,413 705,426 706,440 695,450 693,438 692,426 690,416 689,410 687,406 684,400 680,391 676,381 671,371 667,363 664,356 660,348 655,338 650,327 645,317 641,309 636,301 632,293 627,283 622,272 617,262 612,252 608,242 603,232 598,224 593,216 588,207 581,197 575,187 569,178 563,166 558,153 554,142 552,137 551,134 544,132 527,132 503,133 483,134 468,135 457,135 444,136 430,138 415,139 403,141 403,150 404,160 403,171 398,182 393,197 389,212 386,227 384,243 382,260 381,279 379,300 378,320 377,341 376,361 375,380 374,395 373,408 372,421 371,434 370,447 369,460 369,473 368,487 368,500" fill="#faed1e"/>
<polygon points="680,355 680,337 680,319 681,300 681,280 681,259 681,240 681,224 681,210 682,197 682,186 683,175 684,165 682,165 681,175 681,186 680,197 680,210 679,224 679,240 679,259 679,280 679,300 679,319 678,337 678,355" fill="#3676f6"/>
<polygon points="681,355 681,337 682,319 682,300 682,280 682,259 682,240 682,224 682,210 683,197 683,186 684,175 685,165 683,165 682,175 682,186 681,197 681,210 680,224 680,240 680,259 680,280 680,300 680,319 680,337 679,355" fill="#2791ef"/>
<polygon points="682,355 682,337 683,319 683,300 683,280 683,259 683,240 683,224 684,210 684,197 685,186 685,175 686,165 684,165 684,175 683,186 682,197 682,210 682,224 681,240 681,259 681,280 681,300 681,319 681,337 680,355" fill="#18a9dd"/>
<polygon points="683,355 684,337 684,319 684,300 684,280 684,259 684,240 684,224 685,210 685,197 686,186 686,175 687,165 686,165 685,175 684,186 684,197 683,210 683,224 683,240 683,259 683,280 683,300 682,319 682,337 682,355" fill="#1fb9bf"/>
<polygon points="684,355 684,337 685,319 685,300 685,280 685,259 685,240 685,224 686,210 686,197 687,186 687,175 688,165 687,165 686,175 685,186 685,197 684,210 684,224 684,240 684,259 684,280 684,300 684,319 683,337 683,355" fill="#34c69c"/>
<polygon points="720,420 720,413 720,406 719,398 719,390 719,382 719,369 719,348 719,323 720,300 720,282 721,266 723,249 725,232 728,214 731,197 733,180 734,163 736,149 737,139 737,131 738,125 738,119 738,114 737,110 739,107 740,106 742,104 742,104 742,106 742,107 742,110 742,114 742,119 742,125 742,132 741,140 740,150 739,164 737,180 735,197 732,214 729,232 726,250 724,266 724,282 723,300 722,323 722,349 722,370 722,383 722,392 722,400 722,407 722,414 722,420" fill="#4031bb"/>
<polygon points="720,420 719,413 719,406 719,398 718,390 718,381 718,368 718,348 718,323 719,300 719,282 720,265 721,249 724,231 727,214 730,197 731,180 733,163 734,149 735,139 736,131 737,125 736,119 736,114 735,110 737,107 739,105 742,104 742,104 741,106 740,107 740,110 740,114 741,119 741,125 740,132 740,139 739,150 737,164 736,180 734,197 731,214 728,232 725,250 723,266 723,282 722,300 722,323 721,349 721,370 721,383 721,392 721,399 721,407 721,414 721,420" fill="#4647e1"/>
<polygon points="719,420 718,413 718,405 718,397 717,389 717,381 717,368 717,347 717,323 718,300 718,282 719,265 720,249 723,231 726,214 728,197 730,180 732,163 733,149 734,138 735,131 735,125 735,119 734,114 733,110 735,107 739,105 742,104 742,104 740,106 739,107 738,110 738,114 739,119 739,125 739,131 738,139 737,149 736,163 734,180 732,197 730,214 726,232 724,249 722,266 722,282 721,300 720,323 720,348 720,369 720,382 720,391 720,399 721,407 721,413 721,420" fill="#425ff5"/>
<polygon points="718,420 718,412 717,405 717,397 716,389 716,380 716,367 716,347 716,323 717,300 717,282 718,265 719,248 721,231 724,214 727,197 729,180 730,163 731,148 732,138 733,131 734,124 733,118 732,113 731,109 734,107 738,105 742,104 742,104 740,105 737,107 735,110 737,114 738,119 738,125 738,131 737,139 736,149 735,163 733,180 731,197 728,214 725,232 723,249 721,266 721,282 720,300 719,323 719,348 719,369 719,382 719,391 720,398 720,406 720,413 720,420" fill="#347af6"/>
<polygon points="717,420 717,412 716,404 716,396 715,388 715,380 714,367 714,347 715,323 715,300 716,282 717,265 718,248 720,231 723,214 725,197 727,180 728,162 730,148 731,138 731,131 732,124 731,118 730,113 728,109 732,107 737,105 742,104 742,104 739,105 736,107 733,110 735,114 736,119 737,125 736,131 735,139 734,149 733,163 731,180 730,197 727,214 724,231 721,249 720,265 719,282 719,300 718,323 718,348 718,368 718,381 718,390 719,398 719,406 719,413 720,420" fill="#2792ef"/>
<polygon points="717,420 716,412 715,404 715,395 714,387 713,379 713,366 713,347 714,322 714,300 715,281 715,264 716,248 718,231 721,214 723,197 725,179 727,162 728,148 729,138 730,130 730,124 729,118 728,113 726,109 730,107 736,105 742,104 742,104 738,105 734,107 731,109 732,114 734,119 735,125 734,131 734,138 733,149 731,163 730,180 728,197 725,214 722,231 720,249 719,265 718,282 718,300 717,323 717,347 717,368 717,381 717,389 718,397 718,405 718,413 719,420" fill="#19a7de"/>
<polygon points="716,420 715,412 714,403 714,394 713,386 712,378 712,366 712,346 712,322 713,300 713,281 714,264 715,247 717,230 719,214 722,197 723,179 725,162 726,147 727,137 728,130 729,124 727,118 725,113 724,109 729,107 735,105 742,104 742,104 737,105 732,107 728,109 730,113 732,118 733,124 733,131 732,138 731,148 730,163 728,180 726,197 724,214 721,231 719,248 718,265 717,282 716,300 716,323 715,347 715,367 716,380 716,388 717,396 717,405 718,412 718,420" fill="#1bb7c6"/>
<polygon points="715,420 714,411 713,403 712,394 711,386 711,377 710,365 710,346 711,322 711,300 712,281 712,264 713,247 715,230 717,214 720,197 721,179 723,162 724,147 725,137 726,130 727,124 725,118 723,113 721,109 727,106 734,105 741,103 742,104 736,105 730,107 726,109 728,113 730,118 731,124 731,131 730,138 729,148 728,162 726,180 724,197 722,214 719,231 717,248 716,265 715,281 715,300 714,323 714,347 714,367 714,379 715,388 715,396 716,404 717,412 717,420" fill="#2ec2a7"/>
<polygon points="714,420 713,411 712,402 711,393 710,385 709,377 708,364 708,345 709,322 709,300 710,281 710,263 711,246 713,230 715,213 717,197 719,179 720,161 722,146 723,136 723,130 724,124 723,118 720,113 718,109 725,106 733,105 741,103 742,104 735,105 728,107 723,109 725,113 728,118 729,124 729,130 728,137 727,147 726,162 724,179 722,197 720,214 718,230 716,247 714,264 714,281 713,300 713,322 712,346 712,366 713,379 713,387 714,395 715,403 716,412 716,420" fill="#54c880"/>
<polygon points="713,420 712,411 710,401 709,392 708,384 707,376 706,364 706,345 707,322 707,300 708,281 708,263 709,246 711,229 713,213 715,197 716,179 718,161 719,146 720,136 721,129 722,124 720,118 717,113 716,109 723,106 732,105 741,103 741,103 734,105 726,106 721,109 723,113 725,118 727,124 726,130 726,137 725,147 723,162 722,179 720,197 718,214 716,230 714,247 713,264 712,281 712,300 711,322 711,346 711,365 711,378 712,386 713,394 714,403 714,411 715,420" fill="#8ec750"/>
<polygon points="711,420 710,410 709,400 708,390 706,382 705,374 704,363 704,344 705,322 705,300 705,281 706,263 707,245 708,229 710,213 712,197 713,179 715,160 716,145 717,135 718,129 719,124 717,118 714,113 713,108 721,106 731,105 741,103 741,103 733,105 724,106 718,109 720,113 723,118 725,124 724,130 723,137 722,146 721,161 719,179 718,197 716,213 713,230 712,246 711,264 710,281 710,300 709,322 709,345 709,365 709,377 710,385 711,393 712,402 713,411 714,420" fill="#c0c639"/>
<polygon points="710,420 708,409 707,399 705,389 704,381 702,373 701,362 701,343 702,321 702,300 703,281 703,262 704,244 705,228 707,213 708,197 709,179 711,160 712,144 713,135 714,129 715,123 713,118 710,112 709,108 718,106 730,105 741,103 741,103 732,105 722,106 715,109 717,113 719,118 722,124 721,129 720,136 719,146 718,161 716,179 715,197 713,213 711,229 709,246 708,263 708,281 707,300 707,322 706,345 706,364 707,376 708,384 709,392 710,401 712,410 713,420" fill="#e9c438"/>
<polygon points="707,420 705,409 704,397 702,387 700,378 698,371 697,360 697,342 698,321 698,300 698,280 699,261 699,243 700,227 702,213 703,197 704,178 705,159 706,143 708,134 709,128 710,123 708,117 705,112 706,108 716,106 728,104 741,103 741,103 731,105 720,106 712,108 713,113 716,118 718,123 717,129 716,135 715,145 714,160 712,179 711,197 709,213 707,229 706,245 705,263 705,281 704,300 704,322 703,344 703,362 704,374 706,382 707,390 708,400 710,410 711,420" fill="#fdd12f"/>
<polygon points="700,420 697,406 695,392 692,380 689,372 687,365 685,355 685,339 685,320 686,300 686,280 686,259 686,240 686,225 686,212 687,197 688,178 689,157 690,140 691,131 692,126 694,122 696,117 698,112 703,108 714,106 727,104 741,103 741,103 729,105 717,106 708,108 708,112 710,117 713,123 711,128 711,134 709,144 708,159 707,179 706,197 704,213 703,228 702,244 701,262 701,281 700,300 700,321 699,343 699,361 700,372 702,380 704,388 705,398 707,409 709,420" fill="#faed1e"/>
<polygon points="195,599 196,599 196,598 199,598 205,597 213,597 221,597 227,596 232,596 236,595 238,596 240,596 241,596 243,596 244,595 246,594 247,594 247,594 250,593 257,593 267,592 276,590 284,589 292,588 300,587 307,586 314,585 320,585 325,584 329,583 333,582 337,581 341,581 345,580 348,579 350,579 352,579 354,578 357,578 360,578 364,578 368,578 372,578 376,579 380,579 386,579 395,579 407,579 418,578 428,577 439,576 447,576 452,575 456,575 460,575 460,582 456,582 453,583 447,583 439,584 428,585 418,586 407,587 395,588 386,589 380,589 376,590 372,590 368,590 364,591 360,591 357,591 354,592 352,592 350,592 348,593 345,593 341,593 337,594 333,594 329,594 325,595 320,595 314,595 307,596 300,596 292,597 284,598 276,599 267,600 257,601 250,601 247,601 247,601 246,601 244,601 243,602 241,602 240,602 238,602 236,602 232,603 226,603 220,604 212,604 204,605 198,605 195,605 195,606 194,606" fill="#4031bb"/>
<polygon points="195,596 196,596 197,595 199,595 206,594 214,594 221,594 227,593 232,593 236,593 238,593 240,594 241,594 243,593 244,592 246,591 247,591 247,591 250,590 257,589 267,588 276,587 284,585 292,584 300,583 307,582 314,581 320,580 325,579 329,578 333,577 337,576 341,575 345,574 348,574 350,573 352,573 354,573 357,573 360,573 364,573 368,573 372,573 376,574 380,575 386,575 395,575 407,575 418,575 428,574 439,573 447,573 452,572 456,572 460,572 460,579 456,579 452,580 447,580 439,581 428,582 418,583 407,584 395,584 386,585 380,585 376,585 372,585 368,585 364,586 360,586 357,586 354,586 352,586 350,587 348,587 345,588 341,588 337,589 333,589 329,590 325,590 320,591 314,591 307,592 300,592 292,593 284,594 276,595 267,596 257,597 250,598 247,598 247,598 246,598 244,599 243,599 241,600 240,600 238,599 236,599 232,600 226,600 220,601 213,601 205,602 198,602 196,602 195,603 194,603" fill="#4647e1"/>
<polygon points="196,593 196,593 197,592 200,591 206,591 214,591 222,590 227,590 232,590 236,590 238,590 240,591 241,592 243,591 244,589 246,588 247,588 247,587 250,587 257,586 267,584 276,583 284,582 292,580 300,579 307,578 314,577 320,576 325,575 329,573 333,572 337,571 341,569 345,569 348,568 350,567 352,567 354,567 357,567 360,567 364,568 368,568 372,568 376,569 380,570 386,571 395,571 407,571 418,571 428,571 439,570 447,570 452,569 456,569 460,569 460,576 456,576 452,577 447,577 439,578 428,579 418,579 407,580 395,581 386,581 380,581 376,580 372,580 368,580 364,580 360,580 357,580 354,580 352,581 350,581 348,581 345,582 341,583 337,583 333,584 329,585 325,586 320,586 314,587 307,587 300,588 292,589 284,591 276,592 267,593 257,594 250,595 247,595 247,595 246,595 244,596 243,597 241,597 240,597 238,597 236,596 232,597 227,597 221,598 213,598 205,598 199,599 196,599 195,600 195,600" fill="#425ff5"/>
<polygon points="196,590 197,589 197,589 200,588 206,588 215,587 222,587 228,587 232,587 236,587 238,588 240,589 241,589 243,588 244,586 246,585 247,584 247,584 250,583 257,582 267,581 276,579 284,578 292,576 300,574 307,573 314,572 320,571 325,570 329,568 333,566 337,565 341,564 345,563 348,562 350,561 352,561 354,561 357,561 360,562 364,562 368,562 372,563 376,564 380,565 386,566 395,567 407,567 418,568 428,567 439,567 447,566 452,566 456,566 460,566 460,573 456,573 452,573 447,574 439,574 428,575 418,576 407,576 395,577 386,577 380,576 376,576 372,575 368,575 364,575 360,575 357,575 354,575 352,575 350,575 348,576 345,576 341,577 337,578 333,579 329,580 325,581 320,582 314,583 307,583 300,584 292,585 284,587 276,588 267,589 257,590 250,591 247,592 247,592 246,592 244,593 243,594 241,595 240,595 238,594 236,594 232,594 227,594 221,595 214,595 205,595 199,596 196,596 196,597 195,597" fill="#347af6"/>
<polygon points="196,587 197,586 198,585 201,584 207,584 215,584 222,583 228,583 232,583 236,584 238,585 240,586 241,586 243,585 244,583 246,582 247,581 247,580 250,580 257,578 267,577 276,575 284,573 292,572 300,570 307,569 314,568 320,566 325,565 329,562 333,560 337,559 341,557 345,556 348,555 350,555 352,554 354,554 357,555 360,555 364,556 368,557 372,557 376,559 380,560 386,562 395,563 407,563 418,564 429,564 439,563 447,563 452,563 456,563 459,563 460,570 456,570 452,570 447,570 439,571 428,572 418,572 407,572 395,572 386,572 380,571 376,570 372,570 368,569 364,569 360,569 357,569 354,568 352,568 350,569 348,569 345,570 341,571 337,572 333,573 329,574 325,576 320,577 314,578 307,579 300,580 292,581 284,583 276,584 267,585 257,587 250,588 247,588 247,588 246,589 244,590 243,591 241,592 240,592 238,591 236,591 232,591 227,591 221,591 214,592 206,592 200,592 197,593 196,593 195,594" fill="#2792ef"/>
<polygon points="197,584 198,583 198,582 201,581 207,580 215,580 223,580 228,580 232,580 236,580 238,581 240,583 241,584 243,582 244,580 246,578 247,577 247,577 250,576 257,574 267,573 276,571 284,569 292,567 300,565 307,564 314,563 320,561 325,559 329,557 333,555 337,553 341,551 345,550 348,549 350,548 352,547 354,548 357,548 360,549 364,550 368,550 372,552 376,553 380,555 386,557 395,558 407,559 418,560 429,560 439,559 447,559 452,559 456,559 459,559 460,567 456,567 452,567 447,567 439,567 428,568 418,568 407,568 395,568 386,567 380,566 376,565 372,564 368,564 364,563 360,563 357,562 354,562 352,562 350,562 348,563 345,564 341,565 337,566 333,567 329,569 325,571 320,572 314,573 307,574 300,575 292,577 284,578 276,580 267,581 257,583 250,584 247,585 247,585 246,586 244,587 243,589 241,590 240,589 238,588 236,587 232,587 227,587 222,588 214,588 206,588 200,589 197,589 197,590 196,591" fill="#19a7de"/>
<polygon points="197,580 198,579 199,578 202,577 208,576 216,576 223,576 228,576 233,576 236,577 238,578 240,580 241,581 243,579 244,577 246,575 247,573 247,573 250,572 257,570 267,568 276,566 284,564 292,562 300,560 307,559 314,558 320,556 325,553 329,551 333,548 337,546 341,544 345,543 348,542 350,541 352,540 354,541 357,541 360,542 364,543 368,544 372,545 376,547 380,550 386,552 395,553 407,555 418,556 429,556 439,556 447,555 452,555 456,555 459,556 459,563 456,563 452,563 447,563 439,564 429,564 418,564 407,564 395,564 386,563 380,561 376,560 372,558 368,557 364,557 360,556 357,556 354,555 352,555 350,556 348,556 345,557 341,559 337,560 333,561 329,563 325,565 320,567 314,569 307,570 300,571 292,572 284,574 276,576 267,577 257,579 250,580 247,581 247,581 246,582 244,584 243,586 241,587 240,586 238,585 236,584 232,584 228,584 222,584 215,584 207,585 201,585 198,586 197,587 196,587" fill="#1bb7c6"/>
<polygon points="198,576 198,575 199,574 202,573 208,572 216,572 224,572 229,572 233,572 236,573 238,575 240,577 241,578 243,576 244,573 246,571 247,569 247,569 250,568 257,566 267,564 276,561 284,559 292,557 300,555 307,554 314,552 320,550 325,547 329,544 333,542 337,539 341,537 345,536 348,534 350,533 352,533 354,533 357,534 360,535 364,536 368,537 372,539 376,541 380,544 386,546 395,548 407,550 418,551 429,552 439,551 447,551 452,551 456,552 459,552 459,560 456,560 452,560 447,560 439,560 429,560 418,560 407,560 395,559 386,558 380,556 376,554 372,552 368,551 364,550 360,550 357,549 354,548 352,548 350,549 348,549 345,550 341,552 337,553 333,555 329,557 325,560 320,562 314,563 307,565 300,566 292,568 284,569 276,571 267,573 257,575 250,576 247,577 247,578 246,579 244,580 243,583 241,584 240,583 238,582 236,581 232,580 228,580 223,580 215,580 207,581 201,581 198,582 197,583 197,584" fill="#2ec2a7"/>
<polygon points="198,572 199,571 200,569 203,568 209,568 217,568 224,567 229,568 233,568 236,569 238,571 240,573 241,574 243,572 244,569 246,567 247,565 247,564 250,563 257,561 267,559 276,556 284,554 292,552 300,550 307,548 314,546 320,544 325,541 329,538 333,534 337,532 341,530 345,528 348,526 350,525 352,525 354,525 357,526 360,528 364,529 368,530 372,532 376,535 380,538 386,541 395,543 407,545 418,546 429,547 439,547 447,547 452,547 456,547 459,548 459,556 456,556 452,556 447,556 439,556 429,556 418,556 407,555 395,554 386,552 380,550 376,548 372,546 368,544 364,544 360,543 357,542 354,541 352,541 350,541 348,542 345,543 341,545 337,546 333,548 329,551 325,554 320,556 314,558 307,559 300,561 292,563 284,564 276,566 267,568 257,570 250,572 247,573 247,574 246,575 244,577 243,579 241,581 240,580 238,578 236,577 233,576 228,576 223,576 216,576 208,577 202,577 199,578 198,579 197,580" fill="#54c880"/>
<polygon points="199,568 200,566 200,565 203,564 209,563 218,563 225,563 229,563 233,564 236,565 238,567 240,570 241,571 243,569 244,565 246,562 247,560 247,559 250,558 257,556 267,553 276,551 284,548 292,546 300,544 307,542 314,540 320,537 325,534 329,530 333,527 337,524 341,521 345,519 348,517 350,516 352,516 354,516 357,518 360,519 364,521 368,522 372,524 376,527 380,531 386,534 395,537 407,539 418,541 429,542 439,542 447,542 452,543 456,543 459,543 459,552 456,551 452,551 447,551 439,551 429,551 418,551 407,550 395,548 386,546 380,544 376,541 372,539 368,537 364,536 360,535 357,534 354,533 352,532 350,533 348,534 345,535 341,537 337,539 333,541 329,544 325,547 320,550 314,552 307,553 300,555 292,557 284,559 276,561 267,563 257,566 250,567 247,569 247,569 246,571 244,573 243,576 241,577 240,577 238,575 236,573 233,572 229,572 224,572 216,572 208,572 202,573 199,574 198,575 198,576" fill="#8ec750"/>
<polygon points="199,563 200,561 201,560 204,558 210,558 218,557 225,557 230,558 233,559 236,560 238,563 240,565 241,567 243,564 244,560 246,557 247,555 247,554 250,552 257,550 267,547 276,545 284,542 292,539 300,537 307,535 314,533 320,530 325,526 329,522 333,518 337,515 341,512 345,510 348,508 350,507 352,506 354,507 357,509 360,510 364,512 368,514 372,516 376,519 380,524 386,527 395,531 407,533 418,535 429,537 439,537 447,537 452,537 455,538 459,538 459,547 456,547 452,547 447,547 439,546 429,546 418,546 407,544 395,542 386,540 380,537 376,534 372,531 368,529 364,528 360,527 357,525 354,524 352,524 350,524 348,525 345,527 341,529 337,531 333,534 329,537 325,540 320,543 314,546 307,547 300,549 292,551 284,553 276,556 267,558 257,560 250,562 247,564 247,565 246,566 244,569 243,572 241,574 240,573 238,571 236,569 233,568 229,567 224,567 217,567 209,567 203,568 200,569 199,570 198,572" fill="#c0c639"/>
<polygon points="200,557 201,555 202,554 205,552 211,552 219,551 226,551 230,552 233,553 236,555 238,557 240,561 241,562 243,560 244,555 246,551 247,549 247,548 250,546 257,543 267,540 276,537 284,535 292,532 300,529 307,527 314,525 320,522 325,517 329,512 333,508 337,504 341,501 345,499 348,497 350,495 352,495 354,496 357,498 360,500 364,502 368,504 372,506 376,510 380,515 386,519 395,523 407,526 418,529 429,530 439,531 447,531 452,532 455,532 459,532 459,542 456,542 452,542 447,541 439,541 429,541 418,540 407,538 395,536 386,533 380,530 376,526 372,523 368,521 364,519 360,518 357,516 354,515 352,514 350,514 348,516 345,517 341,519 337,522 333,525 329,528 325,533 320,536 314,538 307,540 300,542 292,545 284,547 276,550 267,552 257,555 250,557 247,558 247,559 246,561 244,564 243,568 241,570 240,569 238,566 236,564 233,563 229,562 225,562 218,562 210,562 203,563 201,564 200,565 199,567" fill="#e9c438"/>
<polygon points="201,550 202,548 203,546 206,545 212,544 220,544 227,544 231,545 234,546 236,548 238,551 239,555 241,556 243,553 244,548 246,544 247,542 247,540 250,538 257,535 267,532 276,529 284,526 292,523 300,520 307,517 314,514 320,511 325,506 329,501 333,496 337,492 341,488 345,485 348,483 350,481 352,481 354,482 357,484 360,487 364,489 368,491 372,494 376,499 380,504 386,509 395,514 407,518 418,521 429,522 439,523 447,524 452,524 455,525 458,525 459,536 455,536 452,536 447,535 439,535 429,535 418,534 407,531 395,528 386,525 380,521 376,517 372,513 368,511 364,509 360,507 357,505 354,504 352,503 350,503 348,505 345,506 341,509 337,512 333,515 329,519 325,524 320,528 314,530 307,532 300,535 292,537 284,540 276,542 267,545 257,548 250,551 247,552 247,553 246,555 244,559 243,563 241,565 240,564 238,561 236,558 233,557 230,556 225,556 219,556 210,556 204,557 201,558 200,559 199,561" fill="#fdd12f"/>
<polygon points="202,540 203,538 204,536 207,534 213,533 221,533 228,533 232,534 234,536 236,538 238,542 239,546 241,548 243,545 244,539 246,534 247,531 247,529 250,527 257,524 267,520 276,516 284,513 292,509 300,506 307,503 314,500 320,496 325,490 329,484 333,478 337,473 341,469 345,466 348,463 350,462 352,461 354,462 357,465 360,468 364,471 368,473 372,477 376,482 380,489 386,495 395,500 407,505 418,509 429,511 439,512 447,513 452,514 455,514 458,515 458,529 455,529 452,528 447,528 439,527 429,527 418,525 407,523 395,519 386,515 380,510 376,505 372,501 368,498 364,496 360,494 357,492 354,490 352,489 350,489 348,491 345,493 341,496 337,499 333,503 329,507 325,512 320,517 314,520 307,523 300,525 292,528 284,531 276,534 267,537 257,540 250,543 247,545 247,546 246,548 244,552 243,557 241,559 240,558 238,555 236,552 234,550 231,549 226,548 219,548 211,548 205,549 202,550 201,552 200,554" fill="#faed1e"/>
<polygon points="362,593 365,587 368,580 372,575 376,571 381,568 386,566 391,566 395,566 400,568 405,570 410,573 415,576 420,578 425,580 430,582 434,583 437,584 440,585" fill="#3e26a8" opacity="0.95"/>
<polygon points="576,565 578,565 579,565 581,565 587,564 594,563 602,562 608,562 615,561 622,560 629,559 636,558 642,557 647,556 652,555 657,554 662,553 667,552 671,551 675,550 678,549 681,548 685,547 688,546 691,546 694,545 698,545 701,545 705,545 710,545 715,546 720,546 726,545 732,545 737,546 742,546 748,546 755,546 763,546 770,545 777,545 783,545 791,544 801,543 812,542 824,542 824,550 812,551 800,552 789,553 781,554 775,554 768,555 761,556 753,556 746,557 740,557 735,558 730,558 724,559 718,559 713,560 708,560 704,561 700,561 696,561 693,562 690,562 687,562 683,563 680,563 677,563 674,564 670,564 665,564 660,565 655,565 650,565 645,566 640,566 634,567 627,567 620,568 613,569 607,569 600,570 593,571 586,571 580,572 577,572 576,572 575,572" fill="#4031bb"/>
<polygon points="577,562 578,562 579,562 582,562 588,561 595,560 602,559 609,558 616,557 622,556 629,555 636,554 643,553 648,552 653,550 657,549 663,548 668,547 672,546 676,544 679,543 682,542 685,540 688,539 691,539 695,538 698,538 702,538 706,538 711,539 715,539 721,540 727,540 732,540 738,541 743,541 749,542 756,542 764,542 771,541 777,541 784,541 791,540 801,539 813,539 824,538 824,547 812,547 800,548 790,549 782,550 775,550 769,551 761,552 754,552 747,553 741,553 736,553 731,553 725,553 719,554 714,554 709,554 705,554 701,554 697,555 694,555 690,555 687,556 684,556 681,557 677,557 674,558 671,559 666,559 661,560 656,560 651,561 646,562 641,562 634,563 628,564 621,565 614,565 607,566 601,567 593,568 586,568 581,569 578,569 577,569 576,569" fill="#4647e1"/>
<polygon points="578,560 579,559 580,559 582,558 588,558 596,557 603,556 610,555 616,554 623,553 630,551 637,550 643,549 649,547 654,546 658,544 663,543 668,542 673,540 676,538 679,537 682,535 686,534 689,532 692,531 695,531 699,531 702,531 707,532 711,532 716,533 722,534 727,534 733,534 739,535 744,536 750,537 757,537 765,537 772,537 778,537 785,537 792,536 802,536 813,535 824,534 824,543 812,544 801,545 790,545 783,546 776,546 770,547 762,547 755,548 748,548 742,548 737,548 731,547 726,547 720,548 714,548 710,548 705,548 701,547 697,548 694,548 691,548 688,549 684,550 681,550 678,551 675,552 671,553 667,554 662,555 656,556 652,557 647,557 642,558 635,559 628,560 621,561 615,562 608,563 601,564 594,564 587,565 581,566 578,566 577,566 576,566" fill="#425ff5"/>
<polygon points="578,556 579,556 580,556 583,555 589,554 596,553 604,552 610,551 617,550 624,549 631,547 638,546 644,544 650,543 654,541 659,539 664,538 669,536 673,534 677,532 680,530 683,528 686,526 689,525 692,524 696,523 699,523 703,524 707,524 712,525 717,526 722,527 728,528 734,529 739,530 745,531 751,532 758,533 766,533 773,533 779,533 785,532 793,532 802,531 813,531 824,530 824,539 813,540 801,541 791,541 783,542 777,542 771,543 763,543 756,543 749,543 743,543 738,542 732,542 726,542 721,542 715,541 710,541 706,541 702,540 698,540 695,540 691,541 688,542 685,543 682,544 679,545 676,546 672,548 667,549 662,550 657,551 653,552 648,553 642,554 636,555 629,556 622,557 616,558 609,559 602,560 595,561 587,562 582,563 579,563 578,563 577,563" fill="#347af6"/>
<polygon points="579,553 580,553 581,552 584,551 589,551 597,550 604,549 611,547 618,546 625,545 632,543 639,542 645,540 651,538 655,536 660,534 665,532 670,530 674,528 678,526 681,523 684,521 687,519 690,517 693,516 696,515 700,515 704,516 708,517 713,518 718,520 723,521 729,521 735,522 740,524 746,526 752,527 759,528 767,528 774,528 780,528 786,528 794,528 803,527 813,527 824,526 824,535 813,536 802,537 792,537 784,538 778,538 772,538 764,538 757,539 750,538 744,538 738,537 733,536 727,535 721,535 716,535 711,534 707,533 702,533 699,533 695,533 692,533 689,534 685,536 682,537 679,538 676,540 673,542 668,543 663,544 658,546 653,547 649,548 643,550 637,551 630,552 623,554 616,555 609,556 603,557 595,558 588,559 582,559 580,560 579,560 578,560" fill="#2792ef"/>
<polygon points="580,550 581,549 582,549 584,548 590,547 598,546 605,545 612,544 619,542 626,541 633,539 640,537 646,535 651,533 656,531 661,529 666,526 670,524 675,522 678,519 681,516 684,514 687,511 690,509 693,508 697,507 700,507 704,508 709,509 714,511 719,512 724,514 730,515 735,516 741,518 747,520 753,522 761,523 768,523 775,523 781,523 787,523 794,523 804,523 814,522 824,522 824,531 813,532 802,532 793,533 785,533 779,534 773,534 766,534 758,534 751,533 745,532 739,531 734,530 728,529 722,529 717,528 712,527 707,526 703,525 699,525 696,525 692,525 689,526 686,528 683,530 680,532 677,534 673,536 669,537 664,539 659,541 654,542 649,544 644,545 638,547 631,548 624,550 617,551 610,552 603,553 596,554 589,555 583,556 580,556 579,557 578,557" fill="#19a7de"/>
<polygon points="581,546 581,546 582,545 585,544 591,543 598,542 606,541 613,539 620,538 627,536 634,534 641,532 647,530 652,528 657,525 662,523 667,520 671,518 676,515 679,512 682,509 685,506 688,503 691,500 694,499 697,498 701,499 705,499 710,501 715,503 720,505 725,506 731,508 736,509 742,512 748,514 755,516 762,517 769,518 776,518 782,518 788,518 795,518 804,518 814,518 824,518 824,527 813,527 803,528 793,528 786,529 780,529 774,529 767,529 759,528 752,528 746,527 740,525 734,523 729,522 723,522 718,521 713,519 708,518 704,517 700,517 696,517 693,517 690,518 687,520 684,522 681,525 678,527 674,529 670,531 665,533 660,535 655,537 650,539 645,540 639,542 632,544 625,546 618,547 611,548 604,549 597,550 589,551 584,552 581,553 580,553 579,554" fill="#1bb7c6"/>
<polygon points="581,543 582,542 583,541 586,540 592,539 599,538 607,537 614,535 621,534 628,532 635,530 642,527 648,525 653,522 658,519 663,517 667,514 672,511 676,508 680,504 683,501 686,497 689,494 691,491 695,490 698,489 702,489 706,490 710,492 715,494 721,497 726,499 731,500 737,502 743,505 749,508 756,510 763,511 770,512 778,513 784,513 789,513 796,513 805,513 814,513 824,513 824,523 814,523 803,523 794,524 787,524 781,524 775,524 768,524 760,523 753,522 747,521 741,519 735,517 730,515 724,514 719,513 714,512 709,510 704,509 700,508 697,508 693,508 690,510 687,512 684,514 681,517 678,520 675,522 670,525 666,527 661,529 656,531 651,533 646,536 640,538 633,539 626,541 619,543 612,544 605,545 598,546 590,547 584,548 582,549 581,550 580,550" fill="#2ec2a7"/>
<polygon points="582,539 583,538 584,537 587,535 592,534 600,533 608,532 615,530 622,529 629,527 636,525 643,522 649,519 655,516 659,513 664,510 668,507 673,504 677,500 681,496 684,492 687,488 689,485 692,482 695,480 699,479 702,480 707,481 711,483 716,485 722,488 727,490 732,492 738,495 744,498 751,501 757,504 764,505 772,506 779,507 785,508 791,508 797,508 806,508 815,508 824,508 824,518 814,518 804,518 795,518 788,519 782,519 776,518 769,518 762,517 755,516 748,514 742,512 736,510 731,508 725,507 720,505 715,503 710,501 705,500 701,499 697,499 694,499 691,501 688,503 685,506 682,509 679,512 675,515 671,518 666,521 662,523 657,525 652,528 647,530 641,533 634,535 627,537 620,538 613,540 606,541 598,542 591,543 585,544 582,545 581,546 580,546" fill="#54c880"/>
<polygon points="583,534 584,533 585,532 588,531 593,530 601,528 609,527 616,525 623,524 630,521 637,519 644,516 650,513 656,510 660,506 665,503 670,499 674,496 678,492 682,488 685,483 688,479 690,475 693,471 696,469 699,468 703,469 708,470 712,473 718,476 723,479 728,481 734,484 739,486 745,490 752,494 759,497 766,499 773,500 780,501 786,502 792,502 798,502 806,502 815,502 824,502 824,513 814,513 805,513 796,513 789,513 784,513 778,513 770,512 763,511 756,510 749,507 743,505 737,502 732,500 726,498 721,496 716,494 711,492 706,490 702,489 698,489 695,489 691,491 689,494 686,497 683,501 680,504 676,508 672,511 667,514 663,516 658,519 653,522 648,525 642,527 635,530 628,532 621,533 614,535 607,536 599,538 592,539 586,540 583,541 582,542 581,542" fill="#8ec750"/>
<polygon points="584,529 585,528 586,527 589,525 594,524 602,523 610,521 617,520 624,518 631,516 638,513 645,510 652,506 657,503 662,499 666,495 671,491 675,487 679,483 683,478 686,473 689,468 691,464 694,460 697,457 700,456 704,457 709,459 713,461 719,465 724,468 729,471 735,474 740,477 747,481 754,485 760,489 768,491 775,493 782,494 788,495 793,495 799,495 807,496 816,496 824,496 824,507 815,507 806,507 797,507 791,507 785,507 779,507 772,506 765,505 757,503 751,500 744,497 738,494 733,491 727,489 722,487 717,484 711,482 707,480 703,478 699,478 695,479 692,481 690,484 687,487 684,491 681,495 677,499 673,503 669,506 664,509 659,512 655,516 649,519 643,521 636,524 629,526 622,528 615,530 608,531 600,533 593,534 587,535 584,536 583,537 582,538" fill="#c0c639"/>
<polygon points="585,524 586,522 587,521 590,519 596,518 603,517 611,515 618,513 626,511 633,509 640,506 647,502 653,499 659,494 663,490 668,486 672,481 676,477 680,472 684,467 687,461 690,455 692,451 695,446 697,443 701,443 705,443 710,445 715,448 720,452 726,456 731,460 736,463 742,467 748,471 755,476 762,480 769,483 777,485 784,486 789,487 795,487 801,488 808,488 816,489 824,489 824,501 815,501 806,501 799,501 792,500 786,500 781,500 774,499 766,497 759,495 752,492 746,488 740,485 734,482 728,479 723,477 718,473 713,470 708,468 703,467 699,466 696,467 693,469 690,473 688,477 685,481 682,486 678,490 674,494 670,498 665,501 661,505 656,508 651,512 644,515 637,518 630,520 623,522 616,524 609,526 601,527 594,529 588,530 585,531 584,532 583,533" fill="#e9c438"/>
<polygon points="587,517 588,515 588,513 591,512 597,510 605,509 613,507 620,505 627,503 634,500 642,497 649,493 655,489 661,484 665,479 669,474 674,469 678,464 682,459 685,453 688,446 691,440 693,434 696,429 698,426 702,426 706,427 711,429 716,432 722,437 727,441 733,445 738,449 744,454 750,459 757,464 765,469 772,472 779,474 786,476 792,477 797,478 803,478 809,479 817,480 824,480 824,494 816,494 807,493 800,493 794,493 788,492 782,492 775,490 768,489 761,486 754,483 747,478 741,474 735,471 730,468 725,465 719,461 714,457 709,455 704,453 700,452 697,453 694,456 691,460 689,464 686,469 683,474 680,479 676,484 671,488 667,492 662,496 658,500 652,504 646,507 639,511 632,513 625,516 617,518 610,520 602,521 595,522 589,524 586,525 585,526 585,528" fill="#fdd12f"/>
<polygon points="589,507 590,505 590,503 593,501 599,499 607,498 615,496 622,494 630,491 637,488 644,484 652,480 658,475 663,470 668,464 672,458 676,452 680,446 684,440 687,433 690,425 693,418 695,412 697,406 700,402 704,401 708,402 713,405 718,409 724,415 730,420 735,425 740,430 746,435 753,441 761,448 768,453 775,457 782,460 789,462 795,463 800,464 805,465 811,466 818,467 824,468 824,485 816,485 809,484 802,484 796,483 790,483 785,482 778,480 771,478 763,475 756,471 749,466 743,461 737,457 732,453 726,450 721,445 715,441 710,438 706,436 702,435 698,436 695,439 693,444 690,449 687,454 684,460 681,466 677,471 673,476 668,481 664,485 659,490 654,494 648,498 641,502 633,505 626,508 619,510 612,512 604,513 596,515 590,516 588,518 587,519 586,521" fill="#faed1e"/>
<polygon points="610,565 615,562 620,559 625,556 631,553 638,550 645,548 653,545 663,543 671,542 678,543 684,545 690,547 696,550 702,553 706,556 709,558 710,559 712,560" fill="#3e26a8" opacity="0.95"/>
</g>
<g stroke="#555" stroke-width="1.3">
<line x1="159.0" y1="615.0" x2="181.0" y2="612.0"/>
<line x1="142.4" y1="539.8" x2="164.4" y2="536.8"/>
<line x1="125.8" y1="464.6" x2="147.8" y2="461.6"/>
<line x1="109.2" y1="389.4" x2="131.2" y2="386.4"/>
<line x1="92.6" y1="314.2" x2="114.6" y2="311.2"/>
<line x1="76.0" y1="239.0" x2="98.0" y2="236.0"/>
<line x1="181.0" y1="615.0" x2="184.0" y2="630.0"/>
<line x1="245.5" y1="609.3" x2="248.5" y2="624.3"/>
<line x1="310.0" y1="603.6" x2="313.0" y2="618.6"/>
<line x1="374.5" y1="597.9" x2="377.5" y2="612.9"/>
<line x1="439.0" y1="592.2" x2="442.0" y2="607.2"/>
<line x1="503.5" y1="586.5" x2="506.5" y2="601.5"/>
<line x1="568.0" y1="580.8" x2="571.0" y2="595.8"/>
<line x1="632.5" y1="575.1" x2="635.5" y2="590.1"/>
<line x1="697.0" y1="569.4" x2="700.0" y2="584.4"/>
<line x1="761.5" y1="563.7" x2="764.5" y2="578.7"/>
<line x1="826.0" y1="558.0" x2="829.0" y2="573.0"/>
</g>
<g font-family="Liberation Sans, Arial, sans-serif" font-size="15" fill="#555">
<text x="155.0" y="622.0" text-anchor="end">0</text>
<text x="138.4" y="546.8" text-anchor="end">0.2</text>
<text x="121.8" y="471.6" text-anchor="end">0.4</text>
<text x="105.2" y="396.4" text-anchor="end">0.6</text>
<text x="88.6" y="321.2" text-anchor="end">0.8</text>
<text x="72.0" y="246.0" text-anchor="end">1</text>
<text x="186.0" y="654.0" text-anchor="middle">0</text>
<text x="250.5" y="648.3" text-anchor="middle">0.1</text>
<text x="315.0" y="642.6" text-anchor="middle">0.2</text>
<text x="379.5" y="636.9" text-anchor="middle">0.3</text>
<text x="444.0" y="631.2" text-anchor="middle">0.4</text>
<text x="508.5" y="625.5" text-anchor="middle">0.5</text>
<text x="573.0" y="619.8" text-anchor="middle">0.6</text>
<text x="637.5" y="614.1" text-anchor="middle">0.7</text>
<text x="702.0" y="608.4" text-anchor="middle">0.8</text>
<text x="766.5" y="602.7" text-anchor="middle">0.9</text>
<text x="831.0" y="597.0" text-anchor="middle">1</text>
<text transform="translate(34,408) rotate(-90)" text-anchor="middle" font-size="15">Degree of membership</text>
<text x="70" y="105">1</text><text x="60" y="143">0.5</text><text x="72" y="181">0</text>
</g>
<text x="137.0" y="128.0" font-family="Liberation Sans, Arial, sans-serif" font-size="31.0" font-weight="normal" fill="#2b2b2b" textLength="51.0" lengthAdjust="spacingAndGlyphs">Low</text>
<text x="399.5" y="108.0" font-family="Liberation Sans, Arial, sans-serif" font-size="31.0" font-weight="normal" fill="#2b2b2b" textLength="110.0" lengthAdjust="spacingAndGlyphs">Medium</text>
<text x="672.0" y="78.0" font-family="Liberation Sans, Arial, sans-serif" font-size="31.0" font-weight="normal" fill="#2b2b2b" textLength="60.0" lengthAdjust="spacingAndGlyphs">High</text>
<text x="456.7" y="678.5" font-family="Liberation Sans, Arial, sans-serif" font-size="39.0" font-weight="normal" fill="#141414" textLength="139.5" lengthAdjust="spacingAndGlyphs" stroke="#141414" stroke-width="0.5">Iteration</text>
<g stroke="#e8e8e8" stroke-width="1.2" fill="none">
<polyline points="122,830 742,760"/><polyline points="122,805 742,738"/><polyline points="122,780 742,716"/>
<line x1="240" y1="788" x2="240" y2="878"/>
<line x1="360" y1="774" x2="360" y2="864"/>
<line x1="480" y1="761" x2="480" y2="851"/>
<line x1="600" y1="747" x2="600" y2="837"/>
</g>
<text x="744.0" y="809.0" font-family="Liberation Sans, Arial, sans-serif" font-size="17.0" font-weight="normal" fill="#333">h</text>
<polygon points="220,1273 841,1200 741,820 121,892" fill="#3e26a8"/>
<g clip-path="url(#cBL)">
<polygon points="123,888 141,887 159,885 176,884 194,882 211,881 226,881 236,883 244,886 250,889 254,892 257,894 260,898 265,902 270,908 275,914 279,920 283,926 287,933 292,939 296,946 301,953 305,961 310,970 314,978 318,986 322,993 326,1001 330,1009 334,1016 339,1025 344,1033 349,1041 355,1053 363,1069 372,1089 381,1107 387,1121 392,1134 399,1147 407,1161 416,1175 426,1190 436,1207 446,1225 462,1236 487,1237 516,1231 540,1226 552,1225 558,1225 565,1224 565,1230 559,1231 553,1231 540,1233 514,1239 482,1245 455,1245 439,1233 429,1214 420,1195 410,1180 400,1165 392,1150 386,1136 381,1123 375,1108 367,1089 358,1069 350,1052 344,1041 339,1033 335,1025 330,1017 326,1010 322,1003 318,995 314,988 310,980 306,972 301,964 297,956 293,949 288,942 284,936 280,930 276,924 272,918 267,913 262,907 258,903 255,900 252,897 248,895 242,892 235,889 225,887 211,887 194,888 176,889 159,890 141,892 123,893" fill="#4031bb"/>
<polygon points="123,886 141,884 158,883 176,881 194,880 211,879 226,879 236,880 244,883 250,886 255,889 258,892 261,896 266,900 271,906 276,912 280,918 284,924 289,931 293,938 298,945 303,952 307,960 312,969 316,977 320,985 324,993 328,1000 332,1008 336,1016 341,1025 345,1033 351,1042 357,1053 365,1069 375,1088 384,1106 390,1120 396,1133 402,1146 410,1159 420,1173 430,1187 439,1204 450,1221 465,1232 489,1232 517,1227 540,1223 552,1222 558,1221 564,1221 565,1227 559,1228 552,1228 540,1230 515,1235 484,1241 458,1241 443,1229 433,1210 423,1192 413,1177 404,1163 395,1149 389,1135 384,1122 378,1107 369,1089 360,1069 352,1052 346,1041 341,1033 337,1025 332,1017 328,1010 324,1002 320,995 316,987 312,979 307,971 303,963 299,955 294,948 290,941 285,935 281,928 277,922 273,916 268,911 263,905 259,901 256,897 253,895 249,892 243,889 235,886 225,884 211,884 194,885 176,887 159,888 141,889 123,891" fill="#4647e1"/>
<polygon points="123,883 140,882 158,880 176,879 194,877 211,876 226,876 237,878 245,880 251,883 256,886 259,889 262,893 267,898 272,904 277,910 281,916 286,923 290,930 295,937 300,944 304,951 309,959 314,968 318,976 322,984 325,992 329,1000 333,1008 338,1016 342,1024 347,1033 353,1042 359,1053 368,1070 377,1088 387,1105 393,1119 399,1132 406,1145 414,1158 423,1171 433,1185 443,1200 454,1216 468,1227 491,1228 518,1223 540,1220 552,1219 558,1218 564,1218 564,1224 558,1224 552,1225 540,1226 516,1231 487,1237 462,1236 447,1225 436,1207 427,1190 416,1175 407,1161 399,1147 392,1134 387,1121 381,1106 372,1089 362,1069 354,1053 348,1041 343,1033 338,1025 334,1017 329,1009 325,1001 321,994 318,986 314,978 309,970 305,962 300,954 296,947 291,940 287,933 283,927 278,920 274,914 269,909 264,903 260,899 257,895 254,892 250,889 243,886 236,884 226,882 211,882 194,883 176,884 159,885 141,887 123,888" fill="#425ff5"/>
<polygon points="122,881 140,879 158,878 176,876 194,875 212,873 226,873 237,875 245,877 252,880 257,883 260,887 263,891 268,896 273,902 278,908 283,914 287,921 292,928 297,935 301,942 306,950 311,958 315,967 320,975 324,983 327,991 331,999 335,1007 339,1015 344,1024 349,1033 355,1042 361,1054 370,1070 380,1088 390,1104 396,1118 402,1131 409,1143 417,1156 426,1169 436,1182 446,1197 457,1212 472,1222 494,1224 519,1220 540,1216 551,1215 557,1215 564,1215 564,1221 558,1221 552,1222 540,1223 517,1227 489,1232 465,1231 450,1220 440,1204 430,1187 420,1173 411,1159 402,1146 396,1133 390,1120 384,1106 375,1088 365,1069 356,1053 350,1041 345,1033 340,1025 335,1016 331,1008 327,1001 323,993 319,985 315,977 311,969 307,961 302,953 297,945 293,938 288,932 284,925 280,918 275,912 270,906 265,901 261,896 258,892 255,889 250,886 244,883 236,881 226,879 211,879 194,880 176,882 158,883 141,884 123,886" fill="#347af6"/>
<polygon points="122,878 140,877 158,875 176,873 194,872 212,871 227,870 238,872 246,874 253,877 258,880 261,884 264,888 269,893 274,899 279,906 284,912 289,919 294,926 298,934 303,941 308,949 313,957 317,966 322,975 326,982 329,990 333,998 337,1006 341,1015 346,1024 351,1033 357,1042 364,1054 373,1070 383,1087 393,1103 400,1117 406,1129 413,1142 421,1154 430,1167 440,1179 450,1193 461,1208 475,1218 496,1219 520,1216 540,1213 551,1212 557,1212 563,1211 564,1218 558,1218 552,1218 540,1219 518,1223 492,1228 469,1227 454,1216 443,1200 433,1184 423,1171 414,1158 406,1144 399,1132 393,1119 387,1105 377,1088 367,1070 358,1053 352,1042 347,1033 342,1024 337,1016 333,1008 329,1000 325,992 321,984 317,977 313,968 308,960 304,952 299,944 295,937 290,930 285,923 281,917 276,910 272,904 266,899 262,894 259,890 256,886 251,883 245,880 237,878 226,876 211,876 194,878 176,879 158,880 141,882 123,884" fill="#2792ef"/>
<polygon points="122,876 140,874 158,872 176,871 194,869 212,868 227,868 238,869 247,871 254,874 259,877 262,881 265,886 270,891 275,897 281,903 285,910 290,917 295,925 300,932 305,940 310,947 315,956 320,965 324,974 328,981 331,989 335,997 339,1006 343,1015 348,1024 353,1033 359,1043 366,1054 375,1070 386,1087 396,1103 403,1116 409,1128 416,1140 425,1152 433,1164 443,1176 454,1190 465,1204 479,1213 499,1215 522,1212 540,1209 551,1208 557,1208 563,1208 564,1214 557,1215 551,1215 540,1216 519,1219 494,1223 472,1222 458,1212 447,1197 437,1182 427,1169 418,1156 410,1143 403,1130 397,1118 390,1104 380,1088 370,1070 361,1054 354,1042 349,1033 344,1024 339,1015 335,1007 331,999 327,991 323,983 319,976 315,967 310,959 306,950 301,943 296,935 292,928 287,921 282,915 278,908 273,902 268,896 263,891 260,887 257,884 252,880 245,877 237,875 226,873 212,874 194,875 176,876 158,878 140,879 122,881" fill="#19a7de"/>
<polygon points="122,873 140,871 158,869 176,868 194,866 212,865 227,864 239,866 248,868 255,870 260,874 263,878 266,883 271,888 277,894 282,901 287,908 292,915 297,923 302,930 307,938 312,946 317,955 322,964 326,972 330,980 333,988 337,996 341,1005 345,1014 350,1024 356,1033 362,1043 369,1055 378,1070 389,1087 399,1102 406,1115 413,1127 420,1139 428,1150 437,1162 447,1173 457,1186 469,1199 483,1208 501,1210 523,1207 540,1205 550,1205 557,1205 563,1205 563,1211 557,1211 551,1212 540,1212 521,1215 497,1219 476,1217 461,1208 450,1193 440,1179 430,1166 421,1154 413,1142 406,1129 400,1117 393,1103 383,1087 373,1070 363,1054 357,1042 351,1033 346,1024 341,1015 337,1006 333,998 329,990 325,983 322,975 317,966 312,957 308,949 303,941 298,934 293,927 289,920 284,913 279,906 274,900 269,894 264,889 261,884 258,880 253,877 246,874 238,872 227,871 212,871 194,872 176,874 158,875 140,877 122,879" fill="#1bb7c6"/>
<polygon points="122,870 140,868 158,867 176,865 194,863 212,862 228,861 239,862 248,864 256,867 261,871 264,875 268,880 273,885 278,892 283,899 289,906 294,913 299,921 304,929 309,937 314,945 319,953 324,963 329,971 332,979 336,987 339,995 343,1004 347,1014 352,1024 358,1033 364,1043 371,1055 381,1070 392,1087 402,1101 410,1114 417,1126 424,1137 432,1149 441,1160 450,1171 461,1183 473,1195 486,1203 504,1205 524,1203 540,1202 550,1201 556,1201 563,1202 563,1208 557,1208 550,1208 540,1209 522,1211 499,1214 479,1212 465,1203 454,1190 444,1176 434,1164 425,1152 417,1140 410,1128 403,1116 396,1103 386,1087 375,1070 366,1054 359,1043 353,1033 348,1024 343,1015 339,1006 335,997 331,989 328,981 324,974 319,965 315,956 310,948 305,940 300,932 295,925 290,918 285,910 280,904 275,897 270,891 265,886 262,881 259,877 254,874 247,871 238,869 227,867 212,868 194,869 176,871 158,872 140,874 122,876" fill="#2ec2a7"/>
<polygon points="122,867 140,865 158,863 176,862 194,860 212,858 228,858 240,859 249,861 257,863 262,867 265,872 269,877 274,882 279,889 285,896 290,903 296,911 301,919 306,927 311,935 317,943 322,952 327,961 331,970 335,978 338,986 342,994 345,1003 350,1013 355,1023 360,1033 367,1044 374,1056 384,1070 395,1086 406,1100 413,1113 420,1124 428,1136 436,1147 444,1157 454,1168 465,1179 477,1190 490,1198 507,1200 525,1199 540,1198 549,1198 556,1198 562,1198 563,1204 557,1205 550,1205 540,1205 523,1207 502,1209 483,1207 469,1199 458,1186 447,1173 437,1162 429,1150 421,1139 413,1127 407,1115 400,1102 389,1087 378,1070 368,1055 362,1043 355,1033 350,1024 345,1014 341,1005 337,996 333,988 330,980 326,973 322,964 317,955 312,946 307,938 302,931 297,923 292,916 287,908 282,901 277,894 271,888 266,883 263,878 260,874 255,870 248,867 239,865 227,864 212,865 194,866 176,868 158,869 140,871 122,873" fill="#54c880"/>
<polygon points="122,864 140,862 158,860 176,858 194,857 213,855 228,854 240,855 250,857 258,859 263,863 266,868 270,873 275,879 281,886 287,893 292,901 298,909 303,917 309,925 314,933 319,941 324,951 329,960 334,969 337,977 341,984 344,993 348,1002 352,1013 357,1023 363,1034 370,1044 377,1056 387,1071 398,1086 409,1099 417,1112 424,1123 432,1134 440,1145 448,1155 458,1165 469,1175 481,1186 494,1193 510,1195 526,1195 540,1194 549,1194 556,1194 562,1195 563,1201 556,1201 550,1201 540,1201 524,1203 505,1204 487,1202 473,1194 461,1182 451,1170 441,1159 433,1148 425,1137 417,1125 410,1114 403,1101 392,1086 381,1070 371,1055 364,1043 358,1033 352,1024 347,1014 343,1004 339,995 336,987 332,979 329,971 324,963 319,953 314,945 309,936 304,929 299,921 294,913 289,906 283,898 278,892 273,885 268,880 264,875 261,870 256,866 248,864 239,862 228,861 212,861 194,863 176,865 158,866 140,868 122,870" fill="#8ec750"/>
<polygon points="122,861 140,859 158,857 176,855 195,853 213,851 229,851 241,851 251,853 259,855 264,859 268,864 272,870 277,875 283,882 288,890 294,898 300,906 306,914 311,923 317,931 322,940 327,949 332,958 337,968 340,975 344,983 347,991 351,1001 355,1012 360,1023 366,1034 373,1045 381,1057 391,1071 402,1085 413,1098 420,1110 428,1122 436,1132 444,1143 452,1152 461,1161 473,1171 485,1181 498,1188 512,1190 527,1190 540,1190 549,1190 555,1191 562,1191 562,1197 556,1197 549,1197 540,1197 525,1198 507,1199 491,1197 477,1189 465,1178 455,1167 445,1157 437,1146 428,1135 421,1124 414,1113 406,1100 395,1086 385,1070 375,1056 367,1044 361,1033 355,1023 350,1013 346,1003 342,994 338,985 335,978 331,970 327,961 322,952 317,943 312,935 306,927 301,919 296,911 290,903 285,896 280,889 274,882 269,876 265,871 262,867 257,862 249,860 240,858 228,857 212,858 194,859 176,861 158,863 140,865 122,867" fill="#c0c639"/>
<polygon points="121,857 140,855 158,853 176,851 195,849 213,847 229,846 242,847 252,848 260,850 266,855 270,859 274,865 279,871 285,878 291,886 296,894 303,903 308,912 314,920 320,929 325,937 331,947 336,957 340,966 344,974 347,981 350,990 354,1000 358,1011 363,1023 370,1034 377,1045 385,1057 395,1071 406,1085 416,1097 424,1109 432,1120 440,1131 448,1140 456,1150 466,1158 477,1167 490,1176 502,1182 515,1185 529,1185 540,1186 548,1186 555,1187 561,1187 562,1194 556,1194 549,1193 540,1193 526,1194 510,1194 495,1192 482,1185 469,1174 458,1164 449,1154 441,1144 433,1134 425,1123 417,1111 410,1099 399,1086 388,1071 378,1056 371,1044 364,1034 358,1023 353,1012 348,1002 345,992 341,984 338,977 334,969 330,960 325,950 320,941 314,933 309,924 304,916 298,908 292,900 287,892 281,885 276,878 271,873 267,867 263,862 258,858 250,856 240,854 228,854 213,854 194,856 176,858 158,859 140,862 122,864" fill="#e9c438"/>
<polygon points="121,853 140,851 158,848 176,846 195,844 213,842 230,842 242,842 253,843 262,845 268,849 272,854 276,860 281,866 287,874 293,882 299,890 306,899 312,908 318,917 324,926 329,935 335,945 340,954 345,964 348,972 351,979 354,988 358,998 362,1010 367,1022 374,1034 382,1046 390,1058 400,1071 410,1084 420,1096 428,1108 437,1119 445,1129 453,1138 461,1147 470,1155 481,1163 494,1170 507,1176 519,1179 530,1180 540,1181 548,1182 555,1183 561,1183 562,1190 555,1190 549,1189 540,1189 528,1189 513,1189 499,1186 486,1180 474,1170 462,1161 453,1152 445,1142 437,1132 429,1121 421,1110 413,1098 403,1085 392,1071 382,1057 374,1045 367,1034 361,1023 356,1012 352,1001 348,991 345,982 342,975 338,967 333,958 328,948 323,939 318,930 312,922 306,914 301,905 295,897 289,889 283,881 278,874 272,868 268,863 265,858 259,854 251,851 241,850 229,849 213,850 195,852 176,854 158,856 140,858 121,860" fill="#fdd12f"/>
<polygon points="121,849 139,847 158,844 176,842 195,840 214,838 230,837 243,837 254,838 263,840 270,843 274,847 279,852 285,859 291,867 297,875 304,884 310,893 317,903 323,912 329,922 335,931 341,941 346,951 351,961 354,969 357,976 360,985 364,996 368,1009 373,1022 380,1034 389,1047 397,1059 405,1072 414,1084 422,1096 430,1107 439,1118 447,1128 455,1137 463,1145 472,1153 484,1161 497,1168 509,1173 520,1176 531,1178 540,1179 548,1180 554,1180 561,1181 561,1186 555,1186 548,1185 540,1184 529,1184 516,1183 504,1180 491,1174 478,1166 467,1157 457,1149 449,1140 441,1130 433,1120 425,1109 417,1097 407,1085 397,1071 387,1058 379,1045 372,1034 365,1023 360,1011 356,999 352,989 349,980 346,973 342,965 338,956 332,946 327,936 321,927 316,919 310,910 304,901 298,892 292,884 286,876 280,869 275,863 270,857 267,852 261,848 252,846 242,845 229,845 213,845 195,847 176,849 158,851 140,853 121,856" fill="#faed1e"/>
<polygon points="225,1263 233,1261 241,1259 250,1256 259,1255 268,1253 279,1249 295,1244 312,1238 328,1229 340,1217 352,1203 361,1185 370,1162 377,1134 381,1110 383,1092 382,1076 381,1060 380,1040 379,1020 378,1000 378,982 378,966 378,950 379,935 379,921 380,909 382,900 383,893 385,886 388,879 391,873 395,867 400,863 406,861 412,858 418,856 425,854 432,852 439,851 447,850 458,849 473,847 491,846 507,846 519,848 529,851 537,855 543,858 547,862 552,866 557,871 562,877 568,885 575,894 582,906 589,918 597,930 605,942 613,954 622,966 630,979 637,991 644,1002 651,1013 657,1024 663,1034 668,1044 674,1055 683,1067 694,1080 702,1093 707,1106 711,1118 717,1131 730,1146 746,1161 761,1173 775,1178 788,1180 801,1182 813,1184 825,1185 836,1187 836,1195 824,1193 812,1192 800,1190 787,1189 774,1188 760,1183 744,1171 728,1155 715,1140 708,1126 705,1113 700,1100 691,1086 681,1073 672,1060 666,1049 660,1040 655,1030 649,1019 642,1008 635,996 627,984 619,971 611,959 603,947 595,935 587,923 580,911 573,900 566,890 560,883 555,878 550,873 545,869 541,865 535,861 527,857 517,854 506,852 491,852 474,853 460,854 450,855 442,856 435,857 428,858 421,860 415,862 409,864 403,866 398,870 394,875 391,881 388,888 386,894 384,901 383,910 382,922 381,935 381,950 381,966 381,982 381,1000 382,1020 383,1040 384,1060 385,1076 386,1091 385,1110 380,1136 374,1165 365,1190 355,1209 343,1223 330,1235 314,1244 296,1250 280,1255 268,1258 259,1260 250,1262 241,1264 233,1266 225,1268" fill="#4031bb"/>
<polygon points="224,1260 233,1258 241,1256 250,1254 259,1252 268,1250 279,1246 294,1241 311,1234 326,1225 339,1214 350,1200 359,1183 368,1160 375,1134 380,1110 381,1092 380,1076 379,1060 379,1040 378,1020 377,1000 377,982 377,966 377,950 378,935 378,921 379,909 381,900 382,892 384,885 387,878 390,871 394,866 399,862 405,859 411,857 417,854 423,852 431,850 438,848 446,847 457,846 472,845 491,843 507,843 519,845 529,848 538,851 544,855 548,858 553,863 558,868 563,874 569,882 576,892 583,904 591,916 598,928 606,940 615,952 623,964 631,977 639,989 645,1000 652,1011 658,1021 664,1031 669,1041 676,1052 685,1065 695,1077 704,1090 709,1102 712,1114 719,1126 731,1141 747,1156 762,1167 776,1173 789,1175 802,1177 813,1179 825,1181 836,1183 836,1191 824,1189 813,1188 801,1186 788,1185 775,1183 761,1178 745,1166 729,1150 716,1135 710,1122 706,1109 701,1097 692,1083 682,1070 673,1058 667,1047 661,1037 656,1027 650,1017 643,1005 636,994 628,982 620,969 612,957 604,945 596,933 588,921 581,909 573,898 567,888 561,880 556,875 551,870 546,865 542,861 536,858 528,854 518,851 506,849 491,849 474,850 459,851 449,852 441,853 434,855 426,856 420,858 414,860 408,863 402,865 397,869 393,874 390,880 387,887 385,894 383,901 382,910 381,921 380,935 380,950 380,966 380,982 380,1000 381,1020 382,1040 383,1060 384,1076 385,1092 383,1110 379,1135 372,1163 363,1188 353,1206 342,1220 329,1232 313,1241 295,1247 280,1252 268,1255 259,1257 250,1259 241,1261 233,1263 225,1265" fill="#4647e1"/>
<polygon points="224,1258 232,1255 241,1253 250,1251 258,1249 267,1247 279,1243 293,1238 310,1231 325,1222 337,1211 348,1198 357,1181 366,1159 373,1133 378,1110 379,1092 379,1076 378,1060 377,1040 377,1020 376,1000 376,982 376,966 376,950 377,935 377,921 378,909 379,899 381,892 383,885 386,877 389,870 393,865 398,861 403,858 409,855 415,852 422,850 429,847 436,846 444,844 455,843 472,842 491,841 508,841 520,842 530,845 538,848 545,851 549,855 554,859 559,865 564,872 570,880 577,890 584,902 592,914 599,925 608,938 616,950 624,962 632,975 640,987 647,998 653,1008 659,1018 665,1029 670,1039 677,1050 686,1062 696,1075 705,1086 710,1098 713,1109 720,1121 732,1136 748,1150 763,1162 777,1168 790,1171 802,1173 814,1175 825,1177 836,1179 836,1187 825,1185 813,1183 801,1181 788,1180 775,1178 762,1172 746,1161 730,1145 718,1131 711,1118 707,1106 703,1093 694,1081 683,1068 674,1055 668,1045 662,1035 657,1025 651,1014 644,1003 637,992 629,980 621,967 613,955 605,943 597,931 589,919 582,907 574,895 568,885 562,878 557,872 552,866 547,862 543,858 537,855 529,851 519,848 507,846 491,846 473,847 458,849 447,850 439,851 432,852 425,854 419,856 412,859 406,861 401,864 396,868 392,873 389,879 386,886 384,893 382,900 381,909 380,921 379,935 379,950 379,966 379,982 379,1000 379,1020 381,1040 381,1060 382,1076 383,1092 382,1110 377,1135 370,1162 361,1185 351,1203 340,1217 328,1228 312,1237 295,1244 279,1249 268,1252 259,1254 250,1256 241,1259 233,1261 224,1263" fill="#425ff5"/>
<polygon points="224,1255 232,1253 241,1250 250,1248 258,1246 267,1244 278,1240 293,1235 309,1228 324,1219 336,1208 346,1195 355,1178 364,1158 371,1133 376,1110 378,1092 377,1076 377,1060 376,1040 375,1020 375,1000 375,982 375,966 375,950 375,935 376,921 377,908 378,899 380,891 382,884 385,876 388,869 392,863 397,859 402,856 408,853 414,850 420,847 428,845 435,843 443,842 454,840 471,839 491,838 508,838 521,839 531,842 539,845 546,848 550,851 555,856 560,862 565,869 571,877 578,887 585,899 593,911 601,923 609,935 617,948 625,960 633,972 641,984 648,995 654,1005 660,1015 666,1026 671,1036 678,1048 687,1059 697,1071 706,1083 711,1094 715,1105 721,1116 734,1130 749,1145 764,1157 777,1163 790,1166 803,1168 814,1171 825,1173 836,1175 836,1183 825,1181 814,1179 802,1177 789,1175 776,1173 762,1167 747,1155 731,1140 719,1126 712,1113 709,1102 704,1090 695,1078 684,1065 675,1053 669,1042 663,1032 658,1022 652,1011 645,1001 638,990 630,978 622,965 614,953 606,940 598,928 590,917 583,905 575,893 569,883 563,875 558,869 553,863 548,858 544,855 538,852 529,848 519,845 507,844 491,844 472,845 457,846 446,847 438,848 431,850 424,852 417,855 411,857 405,860 399,862 395,866 391,872 387,878 385,886 383,892 381,900 380,909 379,921 378,935 378,950 377,966 377,982 378,1000 378,1020 379,1040 380,1060 381,1076 382,1092 380,1110 375,1134 368,1161 359,1183 350,1200 339,1214 326,1225 311,1234 294,1241 279,1246 268,1249 259,1252 250,1253 241,1256 233,1258 224,1260" fill="#347af6"/>
<polygon points="223,1252 232,1250 241,1247 250,1245 258,1243 267,1241 278,1237 292,1231 308,1224 323,1215 334,1205 344,1192 353,1176 362,1156 369,1132 374,1109 376,1092 376,1076 375,1060 375,1040 374,1020 373,1000 373,982 373,966 374,950 374,935 375,920 376,908 377,898 379,890 381,883 383,875 387,868 390,862 395,858 401,854 407,852 413,848 419,845 426,842 433,840 442,839 453,838 470,836 491,835 508,835 521,836 532,839 540,842 547,844 551,848 556,852 561,859 566,866 572,875 579,885 586,897 594,909 602,921 610,933 618,945 626,958 634,970 642,982 649,992 655,1002 661,1012 667,1023 672,1034 679,1045 688,1056 698,1068 708,1079 712,1090 716,1100 723,1112 735,1125 750,1140 765,1151 778,1158 791,1161 803,1164 815,1167 825,1169 836,1171 836,1179 825,1177 814,1175 802,1172 790,1170 777,1168 763,1162 748,1150 732,1135 720,1121 713,1109 710,1098 705,1086 696,1075 686,1062 676,1051 670,1040 665,1029 659,1019 653,1009 646,998 639,987 632,975 623,963 615,950 607,938 599,926 591,914 584,902 576,890 570,880 564,872 559,865 554,859 549,855 545,851 538,848 530,845 520,842 508,841 491,841 472,842 455,843 445,844 436,846 429,847 422,850 416,853 410,856 404,858 398,861 393,865 389,871 386,877 384,885 381,892 380,899 379,909 378,921 377,935 377,950 376,966 376,982 376,1000 377,1020 378,1040 378,1060 379,1076 380,1092 378,1110 373,1133 366,1159 357,1181 348,1197 337,1211 325,1222 310,1231 293,1238 278,1243 267,1246 258,1249 250,1251 241,1253 232,1255 224,1257" fill="#2792ef"/>
<polygon points="223,1249 232,1247 241,1244 250,1242 258,1240 267,1237 277,1234 291,1228 307,1221 322,1212 333,1201 342,1189 351,1174 360,1155 367,1131 372,1109 374,1092 374,1076 373,1060 373,1040 373,1020 372,1000 372,982 372,966 372,950 373,935 374,920 374,908 376,898 377,890 379,882 382,874 385,867 389,860 394,856 399,853 405,850 411,846 417,843 424,839 432,838 440,836 452,835 470,833 491,832 509,832 522,833 533,835 541,838 548,841 552,844 557,848 562,855 567,863 573,872 580,882 587,894 595,906 603,918 611,930 619,943 627,955 636,968 643,979 650,990 656,999 662,1009 668,1020 674,1031 680,1042 689,1054 700,1065 709,1076 714,1086 717,1096 724,1107 736,1120 751,1134 765,1146 779,1152 792,1156 804,1159 815,1162 826,1164 836,1167 836,1175 825,1173 814,1171 803,1168 790,1165 777,1162 764,1156 749,1145 734,1130 721,1116 715,1105 711,1094 706,1082 697,1072 687,1060 677,1048 671,1037 666,1026 660,1016 654,1006 647,996 640,985 633,973 625,960 616,948 608,936 600,924 592,912 585,900 577,888 571,878 565,869 560,862 555,856 550,851 546,848 539,845 531,842 521,839 508,838 491,838 471,839 454,840 443,842 435,843 428,845 421,848 414,851 408,854 402,856 397,859 392,864 388,869 385,876 382,884 380,891 379,899 377,908 376,921 376,935 375,950 375,966 375,982 375,1000 376,1020 376,1040 377,1060 378,1076 378,1092 377,1110 371,1133 364,1158 355,1178 346,1194 336,1207 324,1218 309,1227 293,1234 278,1240 267,1243 258,1246 250,1248 241,1250 232,1252 224,1255" fill="#19a7de"/>
<polygon points="223,1246 232,1244 241,1242 249,1239 258,1237 267,1234 277,1230 291,1225 306,1217 320,1208 331,1198 341,1186 349,1171 357,1153 365,1131 370,1109 372,1092 372,1076 372,1060 372,1040 371,1020 371,1000 371,982 371,966 371,950 372,935 372,920 373,907 374,897 376,889 378,881 381,873 384,865 388,859 392,854 398,851 404,848 409,844 416,840 423,837 430,835 439,833 451,832 469,830 490,829 509,828 523,830 533,832 542,834 549,837 553,840 558,845 563,852 568,860 574,869 581,879 589,891 596,904 604,916 612,928 620,940 629,953 637,965 644,977 651,987 658,996 664,1006 669,1017 675,1028 681,1039 691,1051 701,1062 710,1072 715,1082 719,1091 725,1102 737,1115 752,1129 766,1140 779,1147 792,1151 805,1155 816,1158 826,1160 836,1162 836,1170 825,1168 815,1166 803,1163 791,1161 778,1157 765,1151 750,1139 735,1125 723,1111 716,1100 713,1090 708,1079 699,1068 688,1057 679,1045 672,1034 667,1023 661,1013 655,1003 649,993 642,982 634,970 626,958 618,946 610,933 602,921 594,909 586,897 579,885 572,875 566,866 561,859 556,852 551,848 547,844 540,841 532,838 521,836 508,835 491,835 470,836 453,838 442,839 433,840 426,842 419,845 413,848 407,852 401,855 395,858 391,862 387,868 384,875 381,883 379,890 377,898 376,908 375,920 374,935 374,950 374,966 374,982 374,1000 374,1020 375,1040 375,1060 376,1076 376,1092 375,1109 369,1132 362,1156 353,1176 344,1191 334,1204 323,1215 308,1224 292,1231 278,1237 267,1240 258,1243 250,1245 241,1247 232,1249 223,1252" fill="#1bb7c6"/>
<polygon points="223,1244 232,1241 240,1238 249,1236 258,1234 266,1231 277,1227 290,1221 305,1214 319,1205 330,1195 339,1183 346,1168 355,1151 363,1130 368,1109 370,1092 370,1076 370,1060 370,1040 369,1020 369,1000 369,982 369,966 370,950 370,935 371,920 372,907 373,896 375,888 377,880 379,872 382,864 386,857 391,853 396,849 402,846 408,842 414,838 421,834 429,832 437,830 449,829 468,827 490,826 510,825 524,826 534,828 543,831 550,833 554,836 559,841 564,848 569,856 575,866 582,876 590,889 598,901 606,913 614,925 622,937 630,950 638,962 646,974 653,984 659,993 665,1002 671,1013 676,1025 683,1036 692,1047 702,1059 712,1068 716,1078 720,1087 727,1096 738,1109 753,1123 767,1134 780,1141 793,1146 805,1150 816,1153 826,1155 836,1158 836,1166 826,1164 815,1162 804,1159 792,1156 779,1152 765,1145 751,1134 736,1119 724,1106 718,1095 714,1086 709,1075 700,1065 689,1054 680,1043 674,1031 668,1020 662,1010 656,1000 650,990 643,980 635,968 627,955 619,943 611,931 603,919 595,907 587,894 580,883 573,872 567,863 562,855 557,848 552,844 548,841 541,838 533,835 522,833 509,831 491,832 470,833 452,835 440,836 432,837 424,839 417,843 411,846 405,850 399,853 394,856 389,861 385,867 382,874 380,882 378,890 376,898 375,908 374,920 373,935 373,950 372,966 372,982 372,1000 373,1020 373,1040 374,1060 374,1076 374,1092 373,1109 367,1131 360,1154 351,1173 342,1189 333,1201 321,1211 307,1220 291,1228 277,1233 267,1237 258,1239 250,1242 241,1244 232,1247 223,1249" fill="#2ec2a7"/>
<polygon points="222,1241 231,1238 240,1235 249,1233 258,1230 266,1228 276,1224 289,1218 304,1210 318,1201 328,1191 337,1180 344,1166 353,1150 360,1129 366,1109 368,1092 368,1076 368,1059 368,1040 368,1019 368,1000 368,982 368,966 368,950 369,934 369,920 370,906 371,896 373,887 375,879 378,870 381,862 385,856 389,851 394,847 400,843 406,839 412,835 419,831 427,829 436,827 448,825 467,824 490,822 510,822 524,823 535,825 544,827 551,829 555,832 560,837 565,844 570,853 576,863 584,873 591,885 599,898 607,910 615,922 623,934 632,947 640,959 647,971 654,980 660,989 666,999 672,1010 678,1021 684,1033 694,1044 704,1055 713,1064 718,1074 722,1082 728,1091 740,1104 754,1117 768,1128 781,1136 794,1141 806,1145 816,1148 826,1151 836,1153 836,1162 826,1159 816,1157 805,1154 792,1150 780,1146 766,1139 752,1128 737,1114 725,1101 719,1091 715,1082 710,1071 701,1062 691,1051 681,1040 675,1028 669,1017 664,1006 658,996 651,987 644,977 637,965 629,953 620,940 612,928 604,916 596,904 589,892 581,880 574,869 568,860 563,852 558,844 553,840 549,837 542,834 533,831 523,829 509,828 490,828 469,830 450,831 439,833 430,834 423,836 416,840 409,844 404,848 398,851 392,854 388,859 384,865 381,873 378,881 376,889 374,897 373,907 372,920 372,935 371,950 371,966 371,982 371,1000 371,1020 372,1040 372,1060 372,1076 372,1092 370,1109 365,1131 357,1153 348,1171 340,1185 331,1198 320,1208 306,1217 291,1224 277,1230 267,1234 258,1236 249,1239 241,1241 232,1244 223,1246" fill="#54c880"/>
<polygon points="222,1238 231,1235 240,1232 249,1229 258,1227 266,1224 276,1220 289,1214 303,1206 316,1197 326,1188 335,1177 342,1163 350,1148 358,1128 363,1109 365,1092 366,1076 366,1059 366,1040 366,1019 366,1000 366,982 366,966 366,950 367,934 368,919 368,906 370,895 371,886 373,878 376,869 379,861 383,854 387,849 392,845 398,841 404,837 410,832 417,828 425,826 434,824 446,822 466,820 490,819 511,818 525,819 536,821 545,823 552,825 557,828 562,832 567,840 572,849 578,859 585,870 593,882 601,895 609,907 617,919 625,931 633,944 641,956 649,968 656,977 662,985 668,995 674,1006 679,1017 686,1030 695,1041 705,1051 714,1060 719,1069 723,1077 729,1086 741,1098 755,1111 769,1122 782,1130 795,1135 807,1140 817,1144 826,1146 836,1149 836,1157 826,1155 816,1152 805,1149 793,1145 780,1141 767,1133 753,1122 738,1108 727,1096 720,1086 717,1077 712,1067 703,1058 692,1047 683,1036 676,1024 671,1013 665,1002 659,993 653,984 646,974 638,962 630,950 622,937 614,925 606,913 598,901 590,888 582,876 575,866 569,856 564,848 559,840 554,836 550,833 543,830 534,828 524,826 510,825 490,825 468,827 449,828 437,830 429,831 421,833 414,837 408,841 402,846 396,849 391,852 386,857 382,864 379,872 377,880 375,888 373,896 372,907 371,920 370,935 370,950 369,966 369,982 369,1000 369,1020 370,1040 370,1060 370,1076 370,1092 368,1109 362,1130 355,1151 346,1168 338,1182 329,1194 319,1204 305,1213 290,1221 276,1227 266,1231 258,1233 249,1235 240,1238 232,1241 223,1243" fill="#8ec750"/>
<polygon points="222,1234 231,1232 240,1229 249,1226 257,1224 266,1221 275,1217 288,1210 302,1202 315,1194 324,1184 332,1173 339,1160 348,1146 355,1127 361,1109 363,1092 363,1076 364,1059 364,1040 364,1019 364,1000 364,982 364,966 365,950 365,934 366,919 367,905 368,894 370,885 372,876 374,867 377,859 381,852 385,846 390,842 396,838 402,834 408,829 415,825 423,822 432,820 445,819 465,817 490,815 511,814 526,815 537,817 546,819 553,821 558,824 563,828 568,836 573,845 579,855 587,866 595,878 603,891 611,903 619,915 627,928 635,940 643,953 651,964 657,973 663,981 669,990 675,1001 681,1013 688,1026 697,1037 707,1047 716,1056 721,1065 725,1072 731,1080 742,1092 756,1105 770,1116 783,1124 795,1130 807,1135 817,1139 827,1141 836,1144 836,1153 826,1150 817,1148 806,1144 794,1140 781,1135 768,1127 754,1116 740,1103 728,1090 722,1081 718,1073 713,1064 704,1054 694,1044 685,1033 678,1021 672,1009 666,998 660,989 654,980 648,970 640,959 632,946 624,934 615,922 607,910 600,897 592,885 584,873 576,862 571,852 565,844 561,836 556,832 551,829 544,826 535,824 524,822 510,821 490,822 467,823 448,825 435,826 427,828 419,830 412,835 406,839 400,843 394,847 389,850 384,855 381,862 378,870 375,879 373,887 371,896 370,906 369,919 368,934 368,950 368,966 367,982 367,1000 368,1019 368,1040 368,1059 368,1076 368,1092 366,1109 360,1129 352,1149 344,1165 336,1179 328,1191 317,1200 304,1209 289,1217 276,1223 266,1227 258,1230 249,1232 240,1235 231,1238 222,1240" fill="#c0c639"/>
<polygon points="221,1231 231,1228 240,1226 249,1223 257,1220 265,1217 275,1213 287,1206 301,1198 313,1189 323,1180 330,1170 337,1158 345,1144 352,1126 358,1109 360,1092 361,1076 361,1059 361,1040 362,1019 362,1000 362,982 362,966 362,950 363,934 364,919 364,905 366,893 367,884 369,875 372,865 375,857 379,849 383,844 388,839 393,835 399,830 406,826 413,821 421,819 430,817 443,815 464,813 490,811 512,810 527,811 538,812 548,814 554,816 559,819 564,823 569,831 575,840 581,851 588,862 597,874 605,887 613,899 621,911 629,923 637,936 645,948 653,960 659,968 665,976 671,985 677,996 683,1009 690,1021 699,1032 709,1043 718,1052 722,1060 726,1066 733,1074 744,1086 757,1098 771,1109 783,1118 796,1124 808,1130 818,1133 827,1136 836,1139 836,1148 827,1145 817,1143 807,1139 795,1134 782,1129 769,1121 755,1110 741,1097 730,1085 723,1076 720,1068 715,1059 706,1050 696,1040 686,1029 680,1017 674,1005 668,994 662,984 656,976 649,967 642,955 633,943 625,930 617,918 609,906 601,894 593,881 585,869 578,858 572,848 567,839 562,831 557,827 552,824 545,822 536,820 525,818 511,817 490,818 466,820 446,821 433,823 425,825 417,827 410,831 403,836 398,841 392,844 387,848 383,853 379,860 376,869 373,877 371,886 369,895 368,906 367,919 367,934 366,950 366,966 366,982 366,1000 366,1019 366,1040 366,1059 365,1076 365,1092 363,1109 357,1128 350,1147 341,1163 334,1176 326,1187 316,1197 303,1206 289,1213 276,1220 266,1224 258,1226 249,1229 240,1232 231,1234 222,1237" fill="#e9c438"/>
<polygon points="221,1228 231,1225 240,1222 249,1219 257,1216 265,1213 274,1209 286,1202 300,1194 312,1185 321,1176 328,1166 334,1155 342,1141 348,1125 354,1108 356,1092 357,1076 358,1059 358,1040 359,1019 359,1000 359,983 359,966 360,950 360,934 361,918 362,904 363,892 365,882 367,873 369,863 372,854 376,846 380,840 385,836 390,831 396,826 403,822 411,817 419,814 428,812 441,810 463,808 490,806 513,806 528,806 540,807 549,809 556,811 561,813 566,817 571,825 577,834 583,845 591,856 599,869 607,881 615,894 623,906 631,918 640,931 648,943 655,954 662,963 668,970 674,978 680,990 686,1003 692,1016 701,1027 711,1038 719,1047 724,1055 728,1061 734,1068 745,1079 758,1091 772,1102 784,1111 797,1118 809,1124 818,1128 827,1131 836,1134 836,1143 827,1140 818,1137 807,1134 796,1129 783,1122 770,1114 756,1103 742,1090 731,1079 725,1071 721,1064 716,1055 708,1046 698,1035 688,1025 682,1012 676,1000 670,988 664,979 658,972 651,963 644,951 636,939 627,926 619,914 611,902 603,890 595,877 587,865 580,854 574,843 568,834 563,826 558,822 553,820 547,818 537,815 526,814 511,813 490,814 465,816 444,818 432,819 423,821 415,824 407,828 401,833 395,837 390,841 385,845 380,851 377,858 374,867 371,876 369,885 367,894 366,905 365,919 364,934 364,950 364,966 363,982 363,1000 363,1019 363,1040 363,1059 363,1076 362,1092 360,1109 354,1127 347,1145 339,1160 332,1172 324,1183 314,1193 302,1202 288,1209 275,1216 266,1220 257,1223 249,1225 240,1228 231,1231 222,1234" fill="#fdd12f"/>
<polygon points="221,1226 230,1223 240,1220 249,1217 257,1214 265,1211 274,1207 286,1200 299,1192 311,1183 320,1174 327,1164 333,1153 339,1139 344,1124 348,1108 351,1092 352,1076 353,1059 354,1040 355,1019 355,1000 355,983 356,966 356,950 356,934 357,918 358,903 359,891 361,880 363,870 366,860 368,850 372,842 376,836 380,831 386,826 393,822 400,817 409,814 417,811 426,809 440,807 463,805 490,803 513,802 529,802 540,803 550,805 557,807 562,809 567,813 573,819 579,827 586,837 594,848 603,861 611,874 619,886 627,899 635,911 643,924 651,936 659,947 665,955 671,961 677,969 683,981 689,995 696,1008 704,1021 712,1034 720,1045 725,1052 729,1058 735,1065 746,1076 759,1088 772,1099 785,1108 797,1115 809,1121 819,1125 827,1128 836,1131 836,1137 827,1135 818,1132 808,1128 796,1122 784,1116 771,1107 757,1096 744,1084 733,1073 727,1065 723,1059 718,1051 710,1041 700,1030 691,1019 684,1006 678,993 672,982 666,973 660,966 654,957 646,946 638,934 630,921 622,909 614,897 606,884 598,872 589,859 582,848 576,838 570,829 565,821 560,817 555,814 548,812 539,810 527,809 512,809 490,809 464,811 443,813 429,815 420,817 412,820 405,824 398,829 392,834 386,838 382,842 378,848 374,856 371,864 368,874 366,883 365,893 363,904 362,918 362,934 361,950 361,966 361,982 361,1000 360,1019 360,1040 360,1059 359,1076 358,1092 356,1108 350,1126 344,1143 336,1157 330,1169 322,1179 313,1188 301,1197 287,1205 275,1212 265,1216 257,1219 249,1222 240,1225 231,1227 221,1230" fill="#faed1e"/>
<polygon points="675,1010 675,993 676,977 677,960 677,944 676,927 677,911 677,894 678,878 679,862 680,848 682,835 684,823 686,813 688,803 691,794 689,794 687,803 684,813 682,823 680,835 678,848 677,862 676,878 675,894 675,911 675,927 675,944 675,960 674,977 674,993 673,1010" fill="#3676f6"/>
<polygon points="676,1010 677,993 677,977 678,960 678,944 678,927 678,911 678,894 679,878 680,862 681,848 683,835 685,823 687,813 689,803 692,794 690,794 688,803 685,813 683,823 681,835 680,848 678,862 677,878 677,894 676,911 676,927 676,944 676,960 676,977 675,993 674,1010" fill="#2791ef"/>
<polygon points="677,1010 678,993 678,977 679,960 679,944 679,927 679,911 679,894 680,878 681,862 682,848 684,835 686,823 688,813 691,803 693,794 691,794 689,803 687,813 684,823 682,835 681,848 679,862 678,878 678,894 677,911 677,927 677,944 677,960 677,977 676,993 675,1010" fill="#18a9dd"/>
<polygon points="678,1010 679,993 680,977 680,960 680,944 680,927 680,911 681,894 681,878 682,862 684,848 685,835 687,823 689,813 692,803 694,794 693,794 690,803 688,813 686,823 684,835 682,848 681,862 680,878 679,894 679,911 679,927 679,944 679,960 678,977 677,993 677,1010" fill="#1fb9bf"/>
<polygon points="679,1010 680,993 680,977 681,960 681,944 681,927 681,911 681,894 682,878 683,862 684,848 686,835 688,823 690,813 693,803 695,794 694,794 691,803 689,813 687,823 685,835 683,848 682,862 681,878 680,894 680,911 680,927 680,944 680,960 679,977 679,993 678,1010" fill="#34c69c"/>
<polygon points="573,1223 591,1221 608,1218 625,1216 638,1214 651,1211 664,1207 678,1201 692,1194 704,1183 711,1167 715,1146 717,1126 717,1107 715,1088 713,1069 712,1048 712,1028 711,1008 712,991 713,976 714,960 715,944 716,927 718,911 720,894 723,877 725,862 728,849 731,839 733,829 735,822 736,816 737,810 738,805 739,801 740,798 741,794 742,791 744,788 744,790 744,793 744,797 744,800 744,804 743,807 742,812 741,817 740,823 738,830 736,839 733,850 730,862 727,877 724,894 722,911 720,927 719,944 718,960 717,976 716,991 715,1008 715,1028 716,1049 718,1070 721,1090 724,1110 725,1130 723,1151 719,1173 712,1190 700,1201 685,1209 670,1214 657,1218 644,1220 630,1222 613,1224 594,1227 575,1229" fill="#4031bb"/>
<polygon points="572,1220 589,1218 606,1215 622,1213 635,1211 648,1208 660,1204 674,1198 688,1190 699,1179 706,1163 711,1144 713,1124 714,1106 713,1088 712,1068 711,1048 710,1028 710,1008 711,991 712,976 713,960 714,944 715,927 716,911 718,894 721,877 723,862 726,849 729,838 731,829 733,821 734,815 735,809 736,805 737,801 738,797 740,794 742,791 744,788 744,789 743,792 743,796 742,799 742,803 741,807 740,811 739,816 738,822 736,830 734,839 731,849 728,862 725,877 723,894 720,911 719,927 718,944 717,960 715,976 714,991 714,1008 714,1028 715,1049 716,1070 718,1089 721,1109 721,1128 719,1149 715,1170 708,1186 696,1198 681,1205 667,1211 654,1215 641,1217 627,1219 611,1221 592,1224 574,1226" fill="#4647e1"/>
<polygon points="572,1217 588,1215 604,1212 619,1210 632,1207 645,1204 657,1200 671,1194 684,1187 695,1176 702,1160 706,1141 709,1122 711,1105 710,1087 710,1068 709,1048 709,1028 709,1008 709,991 710,976 711,960 712,944 713,927 715,911 717,894 719,877 721,862 724,849 727,838 729,829 731,821 732,814 733,809 734,804 735,799 736,796 738,793 741,790 744,787 744,789 742,792 741,795 740,798 739,802 739,806 738,811 737,816 736,822 734,829 732,839 729,849 726,862 724,877 721,894 719,911 717,927 716,944 715,960 714,976 713,991 712,1008 712,1028 713,1049 714,1069 716,1089 718,1108 717,1126 715,1146 710,1166 703,1183 692,1194 678,1201 663,1207 651,1211 638,1214 624,1216 608,1218 591,1221 573,1223" fill="#425ff5"/>
<polygon points="571,1214 586,1211 602,1209 616,1207 629,1204 642,1201 654,1196 667,1190 680,1183 690,1172 697,1157 702,1139 705,1120 708,1103 708,1086 708,1067 707,1048 707,1027 707,1008 708,992 709,976 710,960 711,944 711,927 713,911 715,894 717,877 719,862 722,849 724,838 727,828 728,820 730,814 731,808 732,803 733,798 734,795 737,791 740,789 743,786 744,788 742,791 740,794 738,797 737,801 737,805 736,810 735,815 734,821 732,829 730,838 727,849 724,862 722,877 719,894 717,911 716,927 714,944 713,960 712,976 711,991 711,1008 711,1028 711,1048 712,1069 713,1088 714,1106 713,1124 710,1144 706,1163 699,1179 688,1190 674,1198 660,1203 648,1208 635,1210 622,1213 606,1215 589,1217 572,1220" fill="#347af6"/>
<polygon points="570,1210 584,1208 599,1206 613,1203 626,1201 638,1197 650,1193 663,1187 676,1179 686,1168 693,1154 697,1136 700,1118 704,1102 705,1085 706,1067 705,1047 705,1027 705,1009 706,992 707,976 708,960 709,944 710,927 711,911 713,894 715,877 717,862 720,849 722,838 724,828 726,820 728,813 729,807 730,802 730,797 731,793 735,790 739,788 743,785 744,787 741,790 738,793 736,796 735,800 735,804 734,809 733,814 731,821 730,829 727,838 725,849 722,862 720,877 717,894 715,911 714,927 713,944 712,960 711,976 710,991 709,1008 709,1028 710,1048 710,1068 711,1087 711,1105 709,1122 706,1141 702,1160 694,1176 684,1186 670,1194 657,1200 645,1204 632,1207 619,1210 604,1212 588,1214 571,1217" fill="#2792ef"/>
<polygon points="569,1207 583,1205 597,1203 610,1200 623,1197 635,1194 647,1189 659,1183 671,1175 681,1165 688,1150 693,1133 696,1116 701,1101 702,1084 703,1066 703,1047 703,1027 704,1009 704,992 705,976 706,960 707,944 708,927 709,911 711,894 713,877 715,862 717,849 720,838 722,828 724,819 725,812 727,806 727,801 728,796 729,792 733,789 738,787 743,785 743,786 740,789 737,791 734,795 733,799 732,803 732,808 731,814 729,820 727,828 725,838 722,849 720,862 718,877 715,894 713,911 712,927 711,944 710,960 709,976 708,992 707,1008 707,1027 708,1048 708,1068 708,1086 708,1104 704,1120 701,1139 697,1157 690,1172 679,1182 666,1190 653,1196 641,1201 629,1204 616,1206 601,1209 586,1211 571,1213" fill="#19a7de"/>
<polygon points="568,1204 581,1202 595,1200 607,1197 620,1194 632,1190 643,1185 655,1179 667,1171 677,1161 683,1147 688,1131 692,1114 697,1099 699,1083 701,1066 701,1047 701,1027 702,1009 702,992 703,976 704,960 705,944 706,927 707,911 708,894 710,877 713,862 715,849 717,837 719,827 721,819 723,811 725,805 725,800 725,795 727,791 732,788 737,786 743,784 743,785 739,788 735,790 731,793 730,797 730,802 730,807 728,813 727,820 725,828 723,838 720,849 718,862 715,877 713,894 711,911 710,927 709,944 708,960 707,976 706,992 706,1009 705,1027 706,1047 706,1067 705,1085 704,1102 700,1118 697,1136 692,1153 685,1168 675,1179 663,1186 650,1192 638,1197 626,1200 613,1203 599,1206 584,1208 570,1210" fill="#1bb7c6"/>
<polygon points="567,1201 579,1198 592,1196 604,1194 616,1190 628,1187 640,1181 651,1175 663,1167 672,1157 679,1144 684,1128 687,1112 693,1098 696,1082 698,1065 699,1047 699,1027 700,1009 701,992 701,976 702,960 703,944 704,927 705,911 706,894 708,877 710,862 712,849 714,837 717,827 718,818 720,811 722,804 722,798 723,794 725,790 730,787 736,785 743,783 743,785 738,787 733,789 729,792 728,796 728,801 727,806 726,812 724,819 722,828 720,838 718,849 715,862 713,877 711,894 709,911 708,927 707,944 706,960 706,976 705,992 704,1009 704,1027 704,1047 704,1066 703,1084 700,1101 696,1116 692,1133 688,1150 681,1164 671,1175 659,1182 646,1189 635,1194 623,1197 610,1200 597,1202 583,1205 569,1207" fill="#2ec2a7"/>
<polygon points="566,1197 578,1195 590,1193 601,1190 613,1187 625,1183 636,1178 647,1171 658,1163 667,1153 674,1140 679,1125 683,1110 689,1096 693,1081 696,1065 696,1046 697,1027 698,1009 698,992 699,976 700,960 701,944 701,927 702,911 704,894 705,877 707,862 709,849 712,837 714,827 716,817 717,810 719,803 720,797 720,793 722,788 728,786 735,784 743,782 743,784 737,786 731,788 727,791 725,795 725,800 725,805 723,811 721,819 720,827 717,837 715,849 713,862 711,877 709,894 707,911 706,927 705,944 704,960 704,976 703,992 702,1009 701,1027 701,1047 701,1066 699,1083 697,1099 691,1114 688,1130 683,1147 676,1160 666,1171 655,1178 643,1185 631,1190 619,1193 607,1196 594,1199 581,1201 568,1203" fill="#54c880"/>
<polygon points="565,1194 576,1191 587,1189 598,1187 610,1183 621,1179 632,1173 643,1167 653,1159 662,1149 669,1136 674,1122 678,1108 685,1094 690,1080 693,1064 694,1046 695,1027 695,1009 696,992 697,976 698,960 698,944 699,927 700,911 701,894 702,877 704,862 706,849 708,837 710,826 712,817 714,809 716,802 717,796 717,791 720,787 726,785 734,783 743,781 743,783 736,785 730,787 724,790 723,794 722,798 722,804 720,811 718,818 717,827 714,837 712,849 710,862 708,877 706,894 705,911 704,927 703,944 702,960 701,976 701,992 700,1009 699,1027 699,1047 698,1065 696,1082 693,1098 687,1112 683,1128 678,1143 671,1156 662,1166 651,1174 639,1181 628,1186 616,1190 604,1193 592,1196 579,1198 567,1200" fill="#8ec750"/>
<polygon points="564,1190 574,1188 584,1186 595,1183 606,1179 618,1175 629,1169 639,1162 649,1154 657,1145 664,1133 669,1119 673,1105 680,1093 686,1079 689,1063 691,1045 692,1027 693,1009 694,993 694,976 695,960 696,944 696,927 697,911 698,894 699,877 701,862 703,848 705,836 707,826 709,816 711,808 713,801 713,795 714,790 717,786 724,783 733,782 742,780 743,782 735,784 728,786 722,788 720,792 719,797 719,803 717,810 715,817 713,826 711,837 709,849 707,862 705,877 703,894 702,911 701,927 701,944 700,960 699,976 698,992 697,1009 697,1027 696,1046 695,1064 693,1081 689,1096 682,1109 678,1125 673,1139 666,1152 657,1162 647,1170 635,1177 624,1182 613,1186 601,1189 589,1192 577,1194 566,1196" fill="#c0c639"/>
<polygon points="563,1186 572,1184 582,1182 591,1179 602,1175 614,1171 624,1165 634,1158 644,1150 652,1140 658,1129 663,1116 668,1103 676,1091 681,1077 686,1062 687,1045 689,1027 690,1009 691,993 691,976 692,960 692,944 693,927 693,911 694,894 695,877 697,862 699,848 701,836 703,825 705,815 707,806 709,799 710,793 711,788 714,784 722,782 732,780 742,779 743,781 734,783 726,784 719,787 717,791 716,796 716,802 714,808 712,817 710,826 708,837 706,849 704,862 702,877 700,894 699,911 698,927 698,944 697,960 697,976 696,992 695,1009 694,1027 693,1046 692,1064 689,1080 684,1094 677,1107 673,1122 668,1136 661,1148 652,1158 642,1166 632,1173 621,1178 609,1182 598,1186 586,1189 576,1191 565,1193" fill="#e9c438"/>
<polygon points="562,1182 570,1180 579,1178 588,1175 598,1171 610,1166 620,1160 630,1153 638,1145 646,1135 652,1125 658,1113 663,1100 670,1088 676,1075 681,1061 683,1044 685,1027 686,1010 687,993 688,976 688,960 688,944 688,927 689,911 690,894 691,878 692,862 693,848 695,836 697,824 699,814 701,805 704,797 705,791 707,786 711,782 720,780 731,779 742,778 742,780 733,781 724,783 716,785 713,789 712,794 712,800 709,807 708,816 706,825 704,836 701,848 700,862 698,877 697,894 696,911 695,927 695,944 694,960 694,976 693,993 692,1009 691,1027 690,1045 688,1063 684,1078 679,1092 672,1105 668,1119 662,1132 656,1143 647,1153 638,1161 628,1168 617,1174 605,1178 594,1182 584,1185 574,1187 564,1189" fill="#fdd12f"/>
<polygon points="561,1180 569,1178 577,1176 586,1173 596,1169 608,1164 618,1158 627,1151 636,1142 643,1133 649,1123 655,1111 660,1099 665,1086 669,1073 673,1059 676,1043 678,1027 680,1010 681,993 682,977 682,960 682,944 682,927 682,911 682,894 683,878 684,862 685,848 687,835 689,823 691,812 693,802 696,794 699,788 702,784 708,781 718,779 730,778 742,777 742,779 732,780 721,781 713,783 709,787 708,792 707,798 704,806 702,814 700,825 698,836 696,848 695,862 693,877 692,894 691,911 691,927 691,944 690,960 690,976 689,993 688,1010 687,1027 685,1045 683,1062 679,1076 673,1090 667,1102 662,1115 656,1128 650,1139 642,1148 633,1157 623,1164 613,1169 601,1174 590,1178 581,1181 572,1183 562,1185" fill="#faed1e"/>
<polygon points="466,1236 467,1235 468,1235 470,1235 472,1234 474,1234 478,1234 485,1233 493,1233 500,1232 506,1232 512,1231 516,1231 518,1232 518,1232 520,1233 525,1232 533,1232 540,1231 547,1231 554,1230 561,1229 569,1228 577,1227 583,1227 585,1226 585,1226 586,1225 590,1225 595,1224 600,1223 605,1223 611,1223 615,1223 617,1222 618,1222 619,1222 620,1222 620,1222 621,1222 621,1226 620,1227 620,1227 619,1228 618,1228 617,1229 615,1229 611,1229 605,1230 600,1230 595,1231 590,1231 586,1232 585,1232 585,1232 583,1232 577,1233 569,1233 561,1234 554,1235 547,1235 540,1236 533,1236 525,1237 520,1237 518,1237 518,1237 516,1237 512,1237 506,1238 500,1238 493,1239 485,1239 478,1240 474,1240 472,1240 470,1240 468,1240 467,1240 466,1240" fill="#4132bc"/>
<polygon points="466,1233 467,1233 468,1232 470,1232 472,1231 474,1231 478,1231 485,1230 493,1229 500,1229 506,1228 512,1228 516,1228 518,1229 518,1230 520,1230 525,1230 533,1229 540,1229 547,1228 554,1227 561,1226 569,1225 577,1224 583,1224 585,1223 585,1222 586,1222 590,1221 595,1220 600,1220 605,1219 611,1219 615,1219 617,1219 618,1219 619,1219 620,1219 620,1220 621,1220 621,1224 620,1224 620,1225 619,1225 618,1225 617,1225 615,1226 611,1226 605,1226 600,1226 595,1227 590,1228 586,1228 585,1229 585,1229 583,1229 577,1230 569,1230 561,1231 554,1232 547,1233 540,1233 533,1234 525,1234 520,1235 518,1234 518,1234 516,1234 512,1234 506,1234 500,1235 493,1235 485,1236 478,1237 474,1237 472,1237 470,1237 468,1237 467,1237 466,1238" fill="#4649e5"/>
<polygon points="466,1231 467,1230 468,1229 470,1229 472,1228 474,1228 478,1227 485,1227 493,1226 500,1225 506,1225 512,1225 516,1225 518,1226 518,1227 520,1228 525,1228 533,1227 540,1226 547,1225 554,1224 561,1223 569,1222 577,1221 583,1221 585,1220 585,1219 586,1218 590,1217 595,1216 600,1216 605,1215 611,1215 615,1215 617,1216 618,1216 619,1216 620,1217 620,1217 621,1218 621,1222 620,1222 620,1222 619,1222 618,1222 617,1222 615,1222 611,1222 605,1222 600,1223 595,1223 590,1224 586,1225 585,1225 585,1226 583,1226 577,1227 569,1228 561,1229 554,1229 547,1230 540,1231 533,1232 525,1232 520,1232 518,1232 518,1231 516,1231 512,1231 506,1231 500,1232 493,1232 485,1233 478,1233 474,1234 472,1234 470,1234 468,1234 467,1235 466,1235" fill="#3f64f5"/>
<polygon points="466,1229 467,1227 468,1226 470,1225 472,1225 474,1224 478,1224 485,1223 493,1222 500,1222 506,1222 512,1222 516,1222 518,1223 518,1224 520,1225 525,1225 533,1224 540,1224 547,1223 554,1222 561,1220 569,1219 577,1218 583,1217 585,1216 585,1215 586,1214 590,1213 595,1212 600,1212 605,1212 611,1212 615,1212 617,1212 618,1212 619,1213 620,1214 620,1215 621,1215 621,1219 620,1219 620,1219 619,1219 618,1219 617,1218 615,1218 611,1218 605,1219 600,1219 595,1219 590,1220 586,1221 585,1222 585,1222 583,1223 577,1224 569,1225 561,1226 554,1227 547,1228 540,1228 533,1229 525,1230 520,1230 518,1229 518,1228 516,1228 512,1228 506,1228 500,1228 493,1229 485,1229 478,1230 474,1230 472,1231 470,1231 468,1232 467,1232 466,1233" fill="#3181f7"/>
<polygon points="466,1226 467,1225 468,1223 470,1222 472,1221 474,1221 478,1220 485,1220 493,1219 500,1219 506,1218 512,1218 516,1219 518,1220 518,1222 520,1223 525,1223 533,1222 540,1221 547,1220 554,1219 561,1218 569,1216 577,1215 583,1214 585,1213 585,1211 586,1210 590,1209 595,1209 600,1208 605,1208 611,1208 615,1208 617,1208 618,1209 619,1210 620,1211 620,1212 621,1213 621,1217 620,1217 620,1216 619,1216 618,1215 617,1215 615,1215 611,1215 605,1215 600,1215 595,1216 590,1216 586,1217 585,1218 585,1219 583,1220 577,1221 569,1222 561,1223 554,1224 547,1225 540,1226 533,1226 525,1227 520,1227 518,1227 518,1225 516,1225 512,1224 506,1225 500,1225 493,1225 485,1226 478,1227 474,1227 472,1227 470,1228 468,1229 467,1230 466,1231" fill="#2298e9"/>
<polygon points="466,1224 467,1222 468,1220 470,1219 472,1218 474,1217 478,1217 485,1216 493,1215 500,1215 506,1215 512,1215 516,1216 518,1217 518,1219 520,1220 525,1220 533,1219 540,1218 547,1217 554,1216 561,1215 569,1213 577,1212 583,1211 585,1209 585,1208 586,1206 590,1205 595,1204 600,1204 605,1204 611,1204 615,1204 617,1205 618,1206 619,1207 620,1208 620,1209 621,1211 621,1215 620,1214 620,1213 619,1212 618,1212 617,1211 615,1211 611,1211 605,1211 600,1211 595,1212 590,1212 586,1213 585,1214 585,1216 583,1217 577,1218 569,1219 561,1220 554,1221 547,1222 540,1223 533,1224 525,1225 520,1225 518,1224 518,1222 516,1221 512,1221 506,1221 500,1221 493,1222 485,1222 478,1223 474,1224 472,1224 470,1225 468,1226 467,1227 466,1228" fill="#13afd8"/>
<polygon points="466,1221 467,1219 468,1217 470,1216 472,1215 474,1214 478,1213 485,1212 493,1212 500,1211 506,1211 512,1211 516,1212 518,1214 518,1216 520,1217 525,1217 533,1216 540,1215 547,1214 554,1213 561,1211 569,1210 577,1209 583,1208 585,1206 585,1204 586,1202 590,1201 595,1200 600,1200 605,1200 611,1200 615,1200 617,1201 618,1202 619,1203 620,1205 620,1206 621,1208 621,1212 620,1211 620,1210 619,1209 618,1208 617,1208 615,1207 611,1207 605,1207 600,1207 595,1208 590,1208 586,1209 585,1211 585,1212 583,1214 577,1215 569,1216 561,1217 554,1218 547,1219 540,1220 533,1221 525,1222 520,1222 518,1221 518,1219 516,1218 512,1218 506,1218 500,1218 493,1218 485,1219 478,1219 474,1220 472,1221 470,1222 468,1223 467,1224 466,1226" fill="#24bcb7"/>
<polygon points="466,1218 467,1216 468,1214 470,1212 472,1211 474,1210 478,1209 485,1208 493,1208 500,1208 506,1208 512,1208 516,1209 518,1211 518,1213 520,1215 525,1214 533,1213 540,1212 547,1211 554,1210 561,1208 569,1207 577,1206 583,1204 585,1202 585,1200 586,1198 590,1197 595,1196 600,1196 605,1196 611,1196 615,1196 617,1197 618,1198 619,1200 620,1201 620,1203 621,1206 621,1210 620,1208 620,1207 619,1206 618,1205 617,1204 615,1203 611,1203 605,1203 600,1203 595,1203 590,1204 586,1205 585,1207 585,1209 583,1210 577,1212 569,1213 561,1214 554,1215 547,1216 540,1217 533,1218 525,1219 520,1219 518,1218 518,1216 516,1215 512,1214 506,1214 500,1214 493,1214 485,1215 478,1216 474,1216 472,1217 470,1218 468,1220 467,1221 466,1223" fill="#3ac895"/>
<polygon points="466,1215 467,1213 468,1211 470,1209 472,1207 474,1206 478,1205 485,1204 493,1204 500,1204 506,1204 512,1204 516,1205 518,1207 518,1210 520,1212 525,1212 533,1210 540,1209 547,1208 554,1206 561,1205 569,1204 577,1202 583,1201 585,1198 585,1195 586,1193 590,1192 595,1192 600,1191 605,1191 611,1191 615,1192 617,1193 618,1194 619,1196 620,1198 620,1200 621,1203 621,1207 620,1206 620,1204 619,1202 618,1201 617,1200 615,1199 611,1199 605,1199 600,1199 595,1199 590,1200 586,1201 585,1203 585,1205 583,1207 577,1208 569,1209 561,1211 554,1212 547,1213 540,1214 533,1216 525,1216 520,1217 518,1215 518,1213 516,1211 512,1211 506,1210 500,1210 493,1211 485,1211 478,1212 474,1213 472,1214 470,1215 468,1216 467,1218 466,1220" fill="#78c762"/>
<polygon points="466,1212 467,1210 468,1207 470,1205 472,1203 474,1202 478,1201 485,1200 493,1200 500,1200 506,1200 512,1200 516,1201 518,1204 518,1207 520,1209 525,1209 533,1207 540,1206 547,1205 554,1203 561,1201 569,1200 577,1199 583,1197 585,1194 585,1191 586,1189 590,1187 595,1187 600,1187 605,1186 611,1187 615,1187 617,1188 618,1190 619,1192 620,1195 620,1197 621,1200 621,1205 620,1203 620,1200 619,1199 618,1197 617,1196 615,1195 611,1194 605,1194 600,1194 595,1195 590,1195 586,1196 585,1198 585,1201 583,1203 577,1205 569,1206 561,1207 554,1209 547,1210 540,1211 533,1213 525,1214 520,1214 518,1212 518,1210 516,1208 512,1207 506,1206 500,1206 493,1207 485,1207 478,1208 474,1209 472,1210 470,1211 468,1213 467,1215 466,1217" fill="#b3c739"/>
<polygon points="466,1209 467,1206 468,1203 470,1201 472,1199 474,1197 478,1196 485,1195 493,1195 500,1195 506,1195 512,1196 516,1197 518,1200 518,1203 520,1205 525,1205 533,1204 540,1202 547,1201 554,1199 561,1198 569,1196 577,1195 583,1193 585,1190 585,1186 586,1183 590,1182 595,1182 600,1181 605,1181 611,1182 615,1182 617,1184 618,1186 619,1188 620,1191 620,1194 621,1197 621,1202 620,1199 620,1197 619,1195 618,1193 617,1191 615,1190 611,1190 605,1190 600,1190 595,1190 590,1190 586,1192 585,1194 585,1197 583,1199 577,1201 569,1202 561,1204 554,1205 547,1207 540,1208 533,1209 525,1211 520,1211 518,1209 518,1206 516,1204 512,1203 506,1202 500,1202 493,1202 485,1203 478,1204 474,1205 472,1206 470,1207 468,1210 467,1212 466,1214" fill="#e0c438"/>
<polygon points="466,1207 467,1204 468,1201 470,1198 472,1196 474,1194 478,1193 485,1192 493,1192 500,1192 506,1192 512,1193 516,1194 518,1197 518,1201 520,1203 525,1203 533,1202 540,1200 547,1198 554,1197 561,1195 569,1194 577,1192 583,1190 585,1187 585,1183 586,1180 590,1179 595,1178 600,1178 605,1178 611,1178 615,1179 617,1180 618,1183 619,1185 620,1188 620,1192 621,1195 621,1199 620,1196 620,1193 619,1190 618,1188 617,1187 615,1185 611,1185 605,1184 600,1185 595,1185 590,1185 586,1187 585,1189 585,1192 583,1195 577,1197 569,1199 561,1200 554,1202 547,1203 540,1205 533,1206 525,1207 520,1207 518,1205 518,1202 516,1199 512,1198 506,1198 500,1198 493,1198 485,1198 478,1199 474,1200 472,1201 470,1203 468,1206 467,1208 466,1211" fill="#fdcd32"/>
</g>
<g stroke="#555" stroke-width="1.3">
<line x1="198.5" y1="1276.0" x2="220.5" y2="1273.0"/>
<line x1="178.5" y1="1199.9" x2="200.5" y2="1196.9"/>
<line x1="158.5" y1="1123.8" x2="180.5" y2="1120.8"/>
<line x1="138.6" y1="1047.7" x2="160.6" y2="1044.7"/>
<line x1="118.6" y1="971.6" x2="140.6" y2="968.6"/>
<line x1="98.6" y1="895.5" x2="120.6" y2="892.5"/>
<line x1="220.5" y1="1276.0" x2="223.5" y2="1291.0"/>
<line x1="344.6" y1="1261.4" x2="347.6" y2="1276.4"/>
<line x1="468.7" y1="1246.8" x2="471.7" y2="1261.8"/>
<line x1="592.8" y1="1232.2" x2="595.8" y2="1247.2"/>
<line x1="716.9" y1="1217.6" x2="719.9" y2="1232.6"/>
<line x1="841.0" y1="1203.0" x2="844.0" y2="1218.0"/>
</g>
<g font-family="Liberation Sans, Arial, sans-serif" font-size="15" fill="#555">
<text x="194.5" y="1283.0" text-anchor="end">0</text>
<text x="174.5" y="1206.9" text-anchor="end">0.2</text>
<text x="154.5" y="1130.8" text-anchor="end">0.4</text>
<text x="134.6" y="1054.7" text-anchor="end">0.6</text>
<text x="114.6" y="978.6" text-anchor="end">0.8</text>
<text x="94.6" y="902.5" text-anchor="end">1</text>
<text x="230.5" y="1315.0" text-anchor="middle">0</text>
<text x="354.6" y="1300.4" text-anchor="middle">0.2</text>
<text x="478.7" y="1285.8" text-anchor="middle">0.4</text>
<text x="602.8" y="1271.2" text-anchor="middle">0.6</text>
<text x="726.9" y="1256.6" text-anchor="middle">0.8</text>
<text x="851.0" y="1242.0" text-anchor="middle">1</text>
<text transform="translate(47,1065) rotate(-90)" text-anchor="middle" font-size="15">Degree of membership</text>
<text x="94" y="797">1</text><text x="78" y="818">0.5</text><text x="93" y="840">0</text>
</g>
<text x="210.5" y="805.0" font-family="Liberation Sans, Arial, sans-serif" font-size="31.0" font-weight="normal" fill="#2b2b2b" textLength="52.0" lengthAdjust="spacingAndGlyphs">Low</text>
<text x="419.0" y="776.0" font-family="Liberation Sans, Arial, sans-serif" font-size="31.0" font-weight="normal" fill="#2b2b2b" textLength="110.0" lengthAdjust="spacingAndGlyphs">Medium</text>
<text x="670.0" y="754.0" font-family="Liberation Sans, Arial, sans-serif" font-size="31.0" font-weight="normal" fill="#2b2b2b" textLength="60.0" lengthAdjust="spacingAndGlyphs">High</text>
<text x="515.0" y="1343.0" font-family="Liberation Sans, Arial, sans-serif" font-size="39.0" font-weight="normal" fill="#141414" textLength="152.0" lengthAdjust="spacingAndGlyphs" stroke="#141414" stroke-width="0.5">Diversity</text>
<g stroke="#e8e8e8" stroke-width="1.2" fill="none">
<polyline points="1530,150 2206,100"/><polyline points="1530,110 2206,60"/><polyline points="1530,70 2206,28"/>
<line x1="1640" y1="57" x2="1640" y2="187"/>
<line x1="1760" y1="48" x2="1760" y2="178"/>
<line x1="1880" y1="40" x2="1880" y2="170"/>
<line x1="2000" y1="31" x2="2000" y2="161"/>
<line x1="2120" y1="23" x2="2120" y2="153"/>
<line x1="2206" y1="30" x2="2206" y2="147"/>
</g>
<text x="1727.0" y="165.0" font-family="Liberation Sans, Arial, sans-serif" font-size="16.0" font-weight="normal" fill="#333">M</text>
<text x="1953.0" y="151.0" font-family="Liberation Sans, Arial, sans-serif" font-size="16.0" font-weight="normal" fill="#333">M</text>
<polygon points="1600,575 2276,527 2206,147 1530,195" fill="#3e26a8"/>
<g clip-path="url(#cTR)">
<polygon points="1731,547 1735,546 1740,545 1745,544 1751,543 1757,542 1764,541 1771,541 1780,541 1790,540 1805,540 1822,540 1836,539 1845,538 1852,537 1860,536 1871,535 1885,534 1900,533 1919,532 1940,530 1958,529 1970,528 1979,527 1990,527 2006,525 2023,524 2040,523 2054,522 2067,521 2079,520 2088,520 2097,519 2110,518 2131,517 2157,515 2180,514 2200,512 2217,511 2231,510 2240,510 2245,511 2250,512 2257,513 2265,514 2272,515 2272,517 2265,518 2257,518 2250,519 2245,519 2240,520 2231,520 2217,521 2200,522 2180,524 2157,525 2131,527 2110,529 2097,530 2088,530 2079,531 2067,532 2054,533 2040,534 2023,535 2006,536 1990,537 1979,538 1970,539 1958,540 1940,541 1919,542 1900,544 1885,545 1871,546 1860,547 1852,547 1845,548 1836,548 1822,549 1805,550 1790,552 1780,552 1771,553 1764,553 1757,554 1751,554 1745,555 1740,555 1735,555 1731,556" fill="#4133be"/>
<polygon points="1731,541 1735,540 1740,539 1745,537 1751,536 1757,535 1764,534 1771,534 1780,534 1790,534 1805,534 1822,534 1836,534 1845,533 1852,531 1860,530 1871,529 1885,528 1900,527 1919,525 1940,524 1958,523 1970,522 1979,521 1990,520 2006,519 2023,518 2040,517 2054,516 2067,515 2079,514 2088,514 2097,513 2110,512 2131,511 2157,509 2180,508 2200,506 2217,505 2231,505 2240,505 2245,506 2250,508 2257,509 2265,511 2272,513 2272,516 2265,515 2257,515 2250,515 2245,514 2240,514 2231,514 2217,515 2200,516 2180,518 2157,519 2131,521 2110,523 2097,524 2088,524 2079,525 2067,526 2054,527 2040,528 2023,529 2006,530 1990,531 1979,532 1970,533 1958,534 1940,535 1919,536 1900,537 1885,538 1871,539 1860,540 1852,541 1845,542 1836,543 1822,544 1805,544 1790,545 1780,546 1771,546 1764,546 1757,547 1751,548 1745,548 1740,549 1735,550 1731,550" fill="#474cea"/>
<polygon points="1731,536 1735,534 1740,533 1745,531 1751,529 1757,528 1764,527 1771,527 1780,527 1790,527 1805,528 1822,528 1836,528 1845,527 1852,525 1860,523 1871,522 1885,521 1900,520 1919,519 1940,518 1958,517 1970,516 1979,515 1990,514 2006,513 2023,512 2040,511 2054,510 2067,509 2079,508 2088,507 2097,507 2110,506 2131,505 2157,503 2180,502 2200,500 2217,499 2231,499 2240,500 2245,502 2250,504 2257,506 2265,509 2272,512 2272,514 2265,513 2257,512 2250,511 2245,510 2240,509 2231,509 2217,509 2200,511 2180,512 2157,513 2131,515 2110,516 2097,517 2088,518 2079,519 2067,520 2054,520 2040,521 2023,523 2006,524 1990,525 1979,526 1970,527 1958,527 1940,529 1919,530 1900,531 1885,532 1871,533 1860,534 1852,535 1845,537 1836,538 1822,538 1805,538 1790,539 1780,539 1771,539 1764,539 1757,540 1751,541 1745,542 1740,543 1735,544 1731,545" fill="#3c6af5"/>
<polygon points="1731,531 1735,529 1740,526 1745,525 1751,523 1757,521 1764,520 1771,520 1780,520 1790,521 1805,522 1822,523 1836,523 1845,522 1852,519 1860,517 1871,516 1885,515 1900,514 1919,513 1940,512 1958,511 1970,510 1979,509 1990,508 2006,507 2023,506 2040,505 2054,504 2067,503 2079,502 2088,501 2097,501 2110,500 2131,498 2157,497 2180,496 2200,494 2217,493 2231,493 2240,495 2245,497 2250,500 2257,503 2265,507 2272,510 2272,513 2265,511 2257,509 2250,507 2245,505 2240,504 2231,503 2217,504 2200,505 2180,506 2157,507 2131,509 2110,510 2097,511 2088,512 2079,512 2067,513 2054,514 2040,515 2023,516 2006,517 1990,518 1979,519 1970,520 1958,521 1940,523 1919,524 1900,525 1885,526 1871,527 1860,528 1852,529 1845,531 1836,532 1822,532 1805,532 1790,532 1780,532 1771,532 1764,532 1757,533 1751,534 1745,536 1740,537 1735,538 1731,540" fill="#2d89f6"/>
<polygon points="1731,525 1735,523 1740,520 1745,518 1751,516 1757,514 1764,513 1771,513 1780,514 1790,515 1805,516 1822,517 1836,518 1845,516 1852,513 1860,511 1871,510 1885,509 1900,508 1919,507 1940,506 1958,505 1970,504 1979,503 1990,501 2006,500 2023,500 2040,499 2054,498 2067,497 2079,496 2088,495 2097,494 2110,494 2131,492 2157,491 2180,490 2200,488 2217,488 2231,488 2240,489 2245,492 2250,496 2257,500 2265,504 2272,509 2272,512 2265,508 2257,505 2250,503 2245,500 2240,498 2231,497 2217,498 2200,499 2180,500 2157,501 2131,503 2110,504 2097,505 2088,506 2079,506 2067,507 2054,508 2040,509 2023,510 2006,511 1990,512 1979,513 1970,514 1958,515 1940,516 1919,517 1900,518 1885,519 1871,520 1860,522 1852,524 1845,526 1836,527 1822,527 1805,526 1790,526 1780,525 1771,525 1764,525 1757,526 1751,528 1745,529 1740,531 1735,533 1731,534" fill="#1ca1e2"/>
<polygon points="1731,520 1735,517 1740,514 1745,512 1751,509 1757,507 1764,506 1771,506 1780,507 1790,508 1805,510 1822,512 1836,512 1845,510 1852,507 1860,505 1871,503 1885,502 1900,501 1919,500 1940,500 1958,499 1970,498 1979,496 1990,495 2006,494 2023,493 2040,492 2054,491 2067,490 2079,490 2088,489 2097,488 2110,487 2131,486 2157,485 2180,484 2200,482 2217,482 2231,482 2240,484 2245,487 2250,491 2257,496 2265,502 2272,508 2272,510 2265,506 2257,502 2250,498 2245,496 2240,493 2231,492 2217,492 2200,493 2180,494 2157,495 2131,497 2110,498 2097,499 2088,499 2079,500 2067,501 2054,502 2040,503 2023,504 2006,505 1990,506 1979,507 1970,508 1958,509 1940,510 1919,511 1900,512 1885,513 1871,514 1860,515 1852,518 1845,520 1836,521 1822,521 1805,520 1790,519 1780,519 1771,518 1764,518 1757,519 1751,521 1745,523 1740,525 1735,527 1731,529" fill="#1ab6c9"/>
<polygon points="1731,515 1735,511 1740,508 1745,505 1751,503 1757,500 1764,499 1771,499 1780,500 1790,502 1805,504 1822,506 1836,507 1845,505 1852,502 1860,499 1871,497 1885,496 1900,495 1919,494 1940,494 1958,493 1970,492 1979,490 1990,489 2006,488 2023,487 2040,486 2054,485 2067,484 2079,483 2088,483 2097,482 2110,481 2131,480 2157,479 2180,478 2200,477 2217,476 2231,476 2240,479 2245,483 2250,487 2257,493 2265,500 2272,506 2272,509 2265,504 2257,499 2250,494 2245,491 2240,488 2231,486 2217,486 2200,487 2180,488 2157,489 2131,491 2110,492 2097,493 2088,493 2079,494 2067,495 2054,496 2040,497 2023,498 2006,499 1990,500 1979,501 1970,502 1958,503 1940,504 1919,505 1900,506 1885,507 1871,508 1860,509 1852,512 1845,514 1836,516 1822,516 1805,514 1790,513 1780,512 1771,511 1764,511 1757,512 1751,514 1745,516 1740,519 1735,521 1731,524" fill="#2fc3a4"/>
<polygon points="1731,509 1735,506 1740,502 1745,499 1751,496 1757,493 1764,492 1771,492 1780,494 1790,495 1805,498 1822,500 1836,502 1845,499 1852,496 1860,492 1871,491 1885,490 1900,489 1919,488 1940,488 1958,487 1970,486 1979,484 1990,483 2006,482 2023,481 2040,480 2054,479 2067,478 2079,477 2088,477 2097,476 2110,475 2131,474 2157,473 2180,472 2200,471 2217,470 2231,471 2240,474 2245,478 2250,483 2257,490 2265,497 2272,505 2272,507 2265,501 2257,495 2250,490 2245,486 2240,483 2231,480 2217,480 2200,481 2180,482 2157,483 2131,485 2110,486 2097,487 2088,487 2079,488 2067,489 2054,490 2040,491 2023,492 2006,492 1990,493 1979,495 1970,496 1958,497 1940,498 1919,499 1900,500 1885,500 1871,502 1860,503 1852,506 1845,509 1836,511 1822,510 1805,508 1790,506 1780,505 1771,504 1764,504 1757,505 1751,508 1745,510 1740,513 1735,516 1731,519" fill="#62c874"/>
<polygon points="1731,504 1735,500 1740,496 1745,493 1751,489 1757,487 1764,485 1771,485 1780,487 1790,489 1805,492 1822,495 1836,496 1845,494 1852,490 1860,486 1871,484 1885,483 1900,482 1919,482 1940,481 1958,481 1970,479 1979,478 1990,476 2006,475 2023,475 2040,474 2054,473 2067,472 2079,471 2088,470 2097,470 2110,469 2131,468 2157,467 2180,466 2200,465 2217,464 2231,465 2240,468 2245,473 2250,479 2257,487 2265,495 2272,503 2272,506 2265,499 2257,492 2250,486 2245,481 2240,477 2231,475 2217,474 2200,475 2180,476 2157,477 2131,478 2110,480 2097,480 2088,481 2079,482 2067,483 2054,484 2040,485 2023,485 2006,486 1990,487 1979,488 1970,490 1958,491 1940,492 1919,493 1900,493 1885,494 1871,495 1860,497 1852,500 1845,503 1836,505 1822,505 1805,502 1790,500 1780,498 1771,497 1764,497 1757,498 1751,501 1745,504 1740,507 1735,510 1731,513" fill="#a6c73d"/>
<polygon points="1731,499 1735,494 1740,490 1745,486 1751,483 1757,480 1764,478 1771,478 1780,480 1790,482 1805,486 1822,489 1836,491 1845,488 1852,484 1860,480 1871,478 1885,477 1900,476 1919,476 1940,475 1958,475 1970,473 1979,472 1990,470 2006,469 2023,469 2040,468 2054,467 2067,466 2079,465 2088,464 2097,464 2110,463 2131,462 2157,461 2180,460 2200,459 2217,458 2231,459 2240,463 2245,468 2250,475 2257,483 2265,493 2272,502 2272,504 2265,497 2257,489 2250,482 2245,477 2240,472 2231,469 2217,468 2200,469 2180,470 2157,471 2131,472 2110,473 2097,474 2088,475 2079,475 2067,476 2054,477 2040,478 2023,479 2006,480 1990,481 1979,482 1970,484 1958,485 1940,486 1919,486 1900,487 1885,488 1871,489 1860,491 1852,494 1845,498 1836,500 1822,499 1805,496 1790,493 1780,492 1771,490 1764,490 1757,492 1751,494 1745,497 1740,500 1735,504 1731,508" fill="#d8c538"/>
<polygon points="1731,493 1735,489 1740,484 1745,480 1751,476 1757,473 1764,471 1771,471 1780,473 1790,476 1805,479 1822,484 1836,485 1845,483 1852,478 1860,474 1871,472 1885,471 1900,470 1919,469 1940,469 1958,469 1970,467 1979,465 1990,464 2006,463 2023,462 2040,462 2054,461 2067,460 2079,459 2088,458 2097,457 2110,457 2131,456 2157,455 2180,454 2200,453 2217,452 2231,454 2240,458 2245,464 2250,471 2257,480 2265,490 2272,500 2272,503 2265,494 2257,486 2250,478 2245,472 2240,467 2231,463 2217,462 2200,463 2180,464 2157,465 2131,466 2110,467 2097,468 2088,469 2079,469 2067,470 2054,471 2040,472 2023,473 2006,474 1990,475 1979,476 1970,478 1958,479 1940,480 1919,480 1900,481 1885,481 1871,483 1860,484 1852,488 1845,492 1836,495 1822,493 1805,490 1790,487 1780,485 1771,483 1764,483 1757,485 1751,487 1745,491 1740,494 1735,499 1731,503" fill="#fdca34"/>
<polygon points="1731,492 1735,487 1740,482 1745,478 1751,474 1757,471 1764,469 1771,469 1780,471 1790,474 1805,478 1822,482 1836,484 1845,481 1852,476 1860,472 1871,470 1885,469 1900,468 1919,468 1940,468 1958,467 1970,466 1979,464 1990,462 2006,461 2023,461 2040,460 2054,459 2067,458 2079,457 2088,456 2097,456 2110,455 2131,454 2157,453 2180,452 2200,451 2217,451 2231,452 2240,456 2245,462 2250,470 2257,479 2265,490 2272,500 2272,501 2265,492 2257,482 2250,474 2245,467 2240,462 2231,458 2217,456 2200,457 2180,458 2157,459 2131,460 2110,461 2097,462 2088,462 2079,463 2067,464 2054,465 2040,466 2023,467 2006,467 1990,468 1979,470 1970,472 1958,473 1940,474 1919,474 1900,474 1885,475 1871,476 1860,478 1852,482 1845,487 1836,489 1822,488 1805,484 1790,480 1780,478 1771,476 1764,476 1757,478 1751,481 1745,484 1740,488 1735,493 1731,497" fill="#faeb1f"/>
<polygon points="1752,560 1756,550 1761,539 1765,530 1768,522 1771,515 1775,512 1780,517 1785,526 1790,535 1796,543 1802,552 1808,560" fill="#3e26a8"/>
<polygon points="2150,535 2155,531 2160,527 2165,524 2169,522 2172,521 2175,521 2178,522 2182,523 2185,525 2188,527 2192,530 2195,533" fill="#3e26a8"/>
<polygon points="1597,230 1597,221 1598,215 1599,212 1600,208 1601,204 1603,201 1604,199 1606,197 1608,196 1609,195 1611,194 1613,194 1615,194 1616,194 1618,195 1620,197 1622,199 1624,202 1626,205 1628,210 1631,216 1635,224 1639,233" fill="#3e26a8"/>
<polygon points="1597,540 1595,517 1592,494 1589,470 1587,445 1584,419 1581,391 1578,362 1575,331 1572,300 1570,270 1568,239 1565,209 1563,209 1565,239 1568,270 1570,300 1573,331 1576,362 1579,391 1582,419 1584,445 1587,470 1590,494 1592,517 1595,540" fill="#2e87f7"/>
<polygon points="1599,540 1596,517 1594,494 1591,470 1589,445 1586,419 1583,391 1580,362 1577,331 1574,300 1572,270 1569,239 1567,209 1565,209 1567,239 1569,270 1572,300 1575,331 1578,362 1581,391 1584,419 1586,445 1589,470 1591,494 1594,517 1597,540" fill="#1f9de6"/>
<polygon points="1601,540 1598,517 1596,494 1593,470 1590,445 1588,419 1585,391 1582,362 1579,331 1576,300 1573,270 1571,239 1569,209 1567,209 1569,239 1571,270 1574,300 1576,331 1580,362 1583,391 1585,419 1588,445 1591,470 1593,494 1596,517 1599,540" fill="#14b2d3"/>
<polygon points="1603,540 1600,517 1597,494 1595,470 1592,445 1589,419 1587,391 1584,362 1581,331 1578,300 1575,270 1573,239 1571,209 1568,209 1571,239 1573,270 1575,300 1578,331 1581,362 1584,391 1587,419 1590,445 1592,470 1595,494 1598,517 1600,540" fill="#27beb3"/>
<polygon points="1604,540 1601,517 1599,494 1596,470 1593,445 1591,419 1588,391 1585,362 1582,331 1579,300 1577,270 1574,239 1572,209 1570,209 1572,239 1575,270 1577,300 1580,331 1583,362 1586,391 1589,419 1592,445 1594,470 1597,494 1600,517 1602,540" fill="#40c88f"/>
<polygon points="1611,540 1610,517 1608,494 1606,470 1605,445 1604,419 1603,391 1601,361 1599,329 1597,300 1596,273 1595,248 1595,228 1595,216 1596,208 1597,201 1598,196 1600,191 1602,188 1604,186 1606,185 1609,185 1613,185 1618,186 1623,187 1625,192 1627,197 1630,203 1635,213 1640,224 1644,235 1648,242 1651,248 1654,258 1659,274 1665,293 1671,313 1676,331 1682,349 1687,368 1692,386 1697,403 1702,421 1707,439 1711,457 1716,474 1719,489 1721,503 1724,514 1727,523 1730,529 1733,535 1736,541 1739,546 1743,552 1740,560 1737,555 1733,550 1730,545 1727,540 1725,534 1722,526 1720,514 1717,500 1714,484 1710,467 1705,448 1700,429 1695,411 1690,392 1685,374 1680,355 1674,337 1669,318 1663,298 1657,279 1652,263 1648,253 1645,247 1642,240 1637,230 1632,219 1628,210 1625,204 1622,200 1620,197 1618,195 1615,194 1613,194 1611,194 1608,195 1606,197 1604,200 1602,203 1600,208 1599,213 1598,219 1597,230 1597,249 1598,273 1599,300 1601,329 1602,361 1604,391 1605,419 1606,445 1607,470 1609,494 1610,517 1612,540" fill="#4031bb"/>
<polygon points="1611,540 1609,517 1607,494 1606,470 1605,445 1603,419 1602,391 1600,361 1598,329 1597,300 1596,273 1595,248 1594,228 1594,215 1595,206 1595,198 1597,192 1598,187 1601,184 1602,182 1604,181 1607,181 1612,180 1619,181 1624,183 1626,188 1628,194 1631,201 1635,211 1641,222 1645,233 1649,240 1651,246 1655,256 1660,272 1666,292 1672,311 1677,329 1682,347 1687,365 1692,383 1697,401 1702,418 1707,436 1712,454 1716,470 1719,485 1722,499 1725,510 1728,519 1731,525 1734,531 1737,537 1740,543 1744,549 1741,557 1738,552 1734,547 1731,541 1728,536 1725,530 1723,522 1720,510 1718,496 1715,480 1710,463 1706,445 1701,426 1696,408 1691,390 1686,372 1680,353 1675,335 1670,316 1664,297 1658,277 1653,261 1649,251 1646,245 1643,238 1638,228 1633,217 1629,208 1626,201 1624,196 1621,192 1618,190 1614,190 1611,190 1609,190 1606,191 1604,193 1602,196 1600,200 1598,205 1598,211 1597,218 1596,229 1597,249 1597,273 1599,300 1600,329 1602,361 1604,391 1605,419 1606,445 1607,470 1608,494 1610,517 1612,540" fill="#4647e1"/>
<polygon points="1611,540 1609,517 1607,494 1605,470 1604,445 1603,419 1602,391 1600,361 1598,329 1596,300 1595,273 1594,247 1594,227 1593,214 1594,204 1593,195 1595,188 1597,183 1599,180 1600,177 1602,176 1605,176 1612,176 1619,176 1625,178 1628,184 1629,191 1632,199 1636,208 1641,220 1646,231 1649,238 1652,244 1656,254 1661,270 1667,290 1672,309 1678,327 1683,345 1688,363 1693,380 1698,398 1703,415 1708,433 1713,450 1717,466 1720,481 1723,494 1726,506 1729,514 1732,521 1735,527 1738,533 1741,539 1745,545 1742,554 1738,549 1735,543 1732,537 1729,532 1726,526 1724,518 1721,506 1718,492 1715,477 1711,460 1706,442 1701,423 1696,405 1691,387 1686,369 1681,351 1676,333 1670,314 1665,295 1659,275 1654,259 1650,250 1647,243 1644,236 1639,226 1634,215 1630,205 1627,198 1625,193 1623,188 1618,186 1613,185 1609,185 1606,186 1604,186 1602,189 1600,192 1598,196 1597,202 1596,209 1596,217 1596,229 1596,248 1597,273 1598,300 1600,329 1602,361 1603,391 1604,419 1605,445 1606,470 1608,494 1610,517 1612,540" fill="#425ff5"/>
<polygon points="1611,540 1609,517 1607,494 1605,470 1604,445 1603,419 1601,391 1599,361 1597,329 1596,300 1594,273 1593,247 1593,227 1593,212 1592,202 1592,191 1593,184 1595,179 1597,175 1598,173 1600,172 1603,172 1611,171 1619,171 1627,173 1629,180 1630,187 1633,196 1637,206 1642,218 1647,229 1650,236 1653,242 1657,252 1662,268 1667,288 1673,307 1678,325 1684,342 1689,360 1694,378 1699,395 1703,412 1708,429 1713,446 1717,462 1721,476 1724,489 1727,501 1730,509 1733,516 1736,523 1739,529 1742,536 1746,542 1743,551 1740,545 1736,539 1733,533 1730,528 1727,521 1724,513 1722,501 1719,488 1716,473 1712,456 1707,438 1702,420 1697,403 1692,385 1687,367 1682,349 1676,331 1671,312 1665,293 1659,273 1654,257 1651,248 1648,241 1645,234 1640,224 1635,212 1630,203 1628,195 1626,189 1624,183 1619,181 1613,181 1607,181 1604,181 1602,182 1601,184 1599,187 1597,192 1595,198 1595,207 1595,216 1595,228 1595,248 1596,273 1597,300 1599,329 1601,361 1603,391 1604,419 1605,445 1606,470 1608,494 1610,517 1611,540" fill="#347af6"/>
<polygon points="1610,540 1609,517 1607,494 1605,470 1603,445 1602,419 1601,391 1599,361 1597,330 1595,300 1594,272 1593,247 1592,226 1592,211 1591,200 1590,188 1591,180 1593,175 1595,171 1596,168 1598,167 1602,167 1610,166 1620,166 1628,168 1631,176 1632,184 1634,193 1638,203 1643,216 1648,227 1651,234 1654,240 1658,250 1663,266 1668,285 1674,305 1679,322 1684,340 1689,357 1694,375 1699,392 1704,409 1709,426 1714,442 1718,457 1722,472 1725,485 1728,496 1731,504 1734,511 1737,518 1740,525 1743,532 1747,538 1744,547 1741,541 1737,535 1734,529 1731,523 1728,517 1725,508 1723,497 1720,483 1716,468 1712,452 1707,435 1702,417 1698,400 1693,382 1688,364 1682,346 1677,328 1672,310 1666,291 1660,271 1655,255 1652,246 1649,239 1646,232 1641,222 1636,210 1631,200 1629,192 1628,185 1625,178 1619,176 1612,176 1605,176 1602,177 1600,177 1599,180 1597,183 1595,188 1593,195 1594,205 1594,214 1594,228 1595,248 1596,273 1597,300 1599,329 1601,361 1602,391 1604,419 1605,445 1606,470 1607,494 1609,517 1611,540" fill="#2792ef"/>
<polygon points="1610,540 1608,517 1606,494 1604,470 1603,445 1602,419 1600,391 1598,361 1596,330 1594,300 1593,272 1592,246 1591,225 1590,210 1590,198 1588,184 1589,176 1591,170 1593,166 1594,163 1595,162 1599,162 1609,161 1620,161 1629,163 1632,172 1633,180 1635,190 1639,201 1644,213 1649,225 1652,232 1655,238 1659,247 1663,263 1669,283 1675,302 1680,320 1685,337 1690,354 1695,372 1700,389 1705,405 1710,422 1715,438 1719,453 1722,467 1725,479 1729,490 1732,499 1735,506 1738,513 1741,521 1745,527 1748,534 1745,544 1742,537 1738,531 1735,525 1732,518 1729,512 1726,503 1723,492 1720,479 1717,464 1713,448 1708,431 1703,414 1698,397 1693,379 1688,361 1683,344 1678,326 1673,308 1667,289 1661,269 1656,253 1653,243 1650,237 1647,230 1642,219 1637,207 1632,197 1630,188 1629,181 1627,173 1619,171 1611,171 1603,172 1600,172 1598,173 1597,175 1595,179 1593,184 1592,191 1593,203 1593,213 1594,227 1594,247 1595,273 1596,300 1598,329 1600,361 1602,391 1603,419 1604,445 1605,470 1607,494 1609,517 1611,540" fill="#19a7de"/>
<polygon points="1610,540 1608,517 1606,494 1604,470 1603,445 1601,419 1600,391 1598,361 1596,330 1594,300 1592,272 1591,246 1590,224 1589,209 1588,196 1586,181 1587,172 1589,166 1591,161 1592,158 1593,157 1597,157 1607,156 1621,156 1631,158 1634,167 1634,177 1636,187 1640,198 1646,211 1650,222 1654,229 1656,235 1660,245 1664,261 1670,281 1676,300 1681,317 1686,334 1691,351 1696,368 1701,385 1706,402 1710,418 1715,433 1720,448 1723,461 1726,474 1730,485 1733,494 1736,501 1739,508 1743,516 1746,523 1749,530 1746,540 1743,533 1740,527 1736,520 1733,513 1730,507 1727,498 1724,487 1721,474 1718,459 1714,444 1709,427 1704,410 1699,393 1694,376 1689,359 1684,341 1679,323 1673,306 1668,286 1662,267 1657,251 1654,241 1651,235 1648,228 1643,217 1638,205 1633,194 1631,185 1630,176 1628,168 1620,166 1610,166 1601,167 1598,167 1596,168 1595,170 1593,175 1591,180 1590,188 1591,201 1592,212 1593,226 1593,247 1594,273 1596,300 1597,329 1599,361 1601,391 1603,419 1604,445 1605,470 1607,494 1609,517 1611,540" fill="#1bb7c6"/>
<polygon points="1610,540 1608,517 1606,494 1604,470 1602,445 1601,419 1599,391 1597,361 1595,330 1593,300 1591,272 1590,245 1589,224 1588,207 1587,193 1584,177 1585,168 1587,161 1589,156 1590,153 1591,152 1595,152 1606,151 1621,151 1632,152 1635,162 1635,172 1637,183 1641,195 1647,208 1651,219 1655,227 1657,233 1661,242 1666,258 1671,278 1677,297 1682,314 1687,331 1692,348 1697,365 1702,381 1706,397 1711,413 1716,428 1720,442 1724,455 1727,468 1731,479 1734,488 1737,495 1741,503 1744,511 1747,518 1751,526 1748,536 1744,529 1741,522 1738,515 1734,508 1731,501 1728,492 1725,481 1722,468 1719,454 1714,439 1709,423 1705,407 1700,390 1695,373 1690,355 1685,338 1680,321 1674,303 1669,284 1663,264 1658,248 1655,239 1652,233 1649,225 1644,214 1639,202 1634,191 1632,181 1632,172 1630,163 1620,161 1608,161 1599,162 1595,162 1594,163 1593,166 1591,170 1589,176 1588,184 1590,198 1591,211 1592,226 1592,247 1593,272 1595,300 1597,330 1599,361 1601,391 1602,419 1603,445 1605,470 1606,494 1608,517 1610,540" fill="#2ec2a7"/>
<polygon points="1609,540 1607,517 1605,494 1603,470 1602,445 1600,419 1598,391 1596,361 1594,330 1592,300 1590,272 1589,245 1588,223 1587,205 1585,190 1582,173 1583,163 1585,156 1587,151 1587,148 1588,147 1593,147 1605,146 1621,145 1634,147 1637,157 1637,168 1638,180 1643,191 1648,205 1653,217 1656,224 1659,230 1662,239 1667,255 1672,275 1678,294 1683,311 1688,328 1693,344 1698,361 1703,377 1707,393 1712,408 1717,423 1721,436 1725,449 1729,461 1732,472 1735,481 1739,489 1742,497 1745,505 1749,513 1752,521 1749,531 1746,524 1742,517 1739,510 1736,502 1733,495 1729,486 1726,475 1723,462 1719,449 1715,434 1710,419 1705,402 1701,386 1696,369 1691,352 1686,335 1681,318 1675,300 1670,281 1664,261 1659,245 1656,236 1653,230 1650,223 1645,211 1640,198 1635,188 1634,177 1634,167 1631,157 1621,156 1607,156 1597,157 1593,157 1592,158 1591,161 1589,165 1587,172 1586,180 1588,196 1590,209 1591,225 1591,246 1593,272 1594,300 1596,330 1598,361 1600,391 1602,419 1603,445 1604,470 1606,494 1608,517 1610,540" fill="#54c880"/>
<polygon points="1609,540 1607,517 1605,494 1603,470 1601,445 1599,419 1598,391 1595,361 1593,330 1591,300 1589,271 1588,244 1587,222 1585,204 1583,187 1580,169 1581,158 1583,151 1584,145 1585,142 1586,142 1591,141 1604,140 1622,139 1636,141 1639,152 1638,163 1639,175 1644,187 1650,201 1654,213 1658,221 1660,226 1663,236 1668,252 1674,272 1679,291 1684,308 1689,324 1694,340 1699,356 1704,372 1708,388 1713,403 1718,417 1722,430 1726,442 1730,454 1733,464 1737,474 1740,482 1744,490 1747,499 1751,507 1754,516 1750,526 1747,519 1744,511 1740,504 1737,496 1734,488 1731,479 1727,468 1724,456 1720,443 1716,429 1711,414 1706,398 1702,382 1697,365 1692,348 1687,332 1682,315 1676,297 1671,278 1665,259 1661,242 1657,233 1655,227 1651,220 1647,208 1641,195 1637,184 1635,173 1635,162 1633,152 1621,150 1606,150 1595,151 1590,152 1589,153 1588,155 1587,160 1585,167 1584,176 1587,193 1588,207 1590,224 1590,246 1592,272 1593,300 1595,330 1597,361 1599,391 1601,419 1602,445 1604,470 1606,494 1608,517 1610,540" fill="#8ec750"/>
<polygon points="1608,540 1606,517 1604,494 1602,470 1600,445 1598,419 1597,391 1594,361 1592,330 1590,300 1588,271 1586,243 1585,220 1584,201 1581,184 1578,164 1579,153 1580,145 1582,140 1582,137 1583,136 1588,135 1603,134 1622,133 1637,134 1641,146 1640,158 1641,171 1646,183 1651,197 1656,210 1659,217 1662,223 1665,232 1670,248 1675,268 1680,287 1685,304 1690,319 1695,335 1700,351 1705,367 1710,382 1714,396 1719,409 1724,422 1728,434 1731,445 1735,456 1739,465 1742,474 1746,482 1749,491 1752,500 1756,509 1752,521 1749,513 1746,505 1742,497 1739,489 1735,481 1732,472 1729,461 1725,449 1721,436 1717,423 1712,408 1707,393 1703,377 1698,361 1693,344 1688,328 1683,311 1678,294 1672,275 1667,255 1662,239 1659,230 1656,224 1653,217 1648,205 1643,191 1638,180 1637,168 1637,156 1634,146 1622,144 1605,145 1593,146 1588,146 1587,147 1586,150 1585,155 1583,162 1582,172 1585,190 1587,205 1588,223 1589,245 1591,272 1592,300 1594,330 1596,361 1599,391 1600,419 1602,445 1603,470 1605,494 1607,517 1609,540" fill="#c0c639"/>
<polygon points="1608,540 1605,517 1603,494 1601,470 1599,445 1597,419 1595,391 1593,361 1591,330 1588,300 1586,271 1585,243 1584,219 1581,199 1579,180 1576,160 1577,148 1578,140 1579,133 1579,130 1580,129 1585,129 1602,127 1623,126 1639,128 1643,139 1642,151 1643,165 1648,177 1653,192 1658,205 1661,213 1664,218 1667,227 1671,244 1677,263 1682,282 1687,299 1692,314 1697,329 1701,345 1706,361 1711,375 1716,389 1721,401 1725,413 1729,424 1733,435 1737,445 1741,455 1744,464 1748,473 1752,483 1755,492 1758,502 1754,515 1751,506 1747,498 1744,489 1741,481 1737,472 1734,463 1730,452 1726,441 1723,429 1718,416 1713,402 1709,387 1704,372 1699,356 1694,339 1689,323 1684,307 1679,290 1674,271 1668,251 1664,235 1660,226 1658,220 1655,213 1650,201 1644,187 1640,175 1639,162 1639,150 1636,139 1622,138 1604,139 1590,140 1585,140 1584,141 1584,144 1582,150 1581,157 1580,168 1583,187 1585,203 1587,222 1588,244 1589,271 1591,300 1593,330 1595,361 1598,391 1599,419 1601,445 1603,470 1605,494 1607,517 1609,540" fill="#e9c438"/>
<polygon points="1607,540 1605,517 1602,494 1600,470 1598,445 1596,419 1594,391 1591,361 1589,330 1586,300 1584,270 1582,241 1581,216 1578,195 1576,175 1573,154 1574,142 1575,133 1576,126 1576,123 1576,122 1582,122 1600,120 1624,118 1641,120 1646,130 1645,143 1645,157 1650,170 1656,186 1661,199 1664,207 1666,212 1669,221 1674,238 1679,257 1684,276 1689,292 1694,307 1699,322 1703,337 1708,352 1713,366 1718,378 1722,390 1727,401 1731,411 1735,421 1739,431 1744,441 1747,451 1751,461 1755,471 1758,481 1761,492 1756,507 1753,498 1750,489 1746,480 1743,471 1739,462 1736,453 1732,442 1728,431 1724,419 1720,407 1715,394 1710,380 1705,365 1700,349 1696,333 1691,318 1686,302 1681,286 1675,267 1670,247 1666,231 1662,221 1660,216 1657,208 1652,196 1646,181 1642,169 1641,156 1641,144 1638,133 1623,131 1603,132 1587,133 1582,134 1581,135 1581,138 1580,144 1578,152 1577,163 1581,183 1583,201 1585,220 1586,243 1588,271 1589,300 1592,330 1594,361 1596,391 1598,419 1600,445 1602,470 1604,494 1606,517 1608,540" fill="#fdd12f"/>
<polygon points="1604,540 1601,517 1599,494 1596,470 1593,445 1591,419 1588,391 1585,362 1582,331 1579,300 1576,268 1574,237 1572,209 1571,186 1571,166 1571,150 1572,137 1573,128 1574,121 1574,117 1574,117 1580,116 1599,114 1624,112 1643,114 1649,120 1650,129 1651,140 1656,155 1662,172 1667,186 1670,194 1672,199 1675,208 1679,224 1684,244 1689,263 1694,278 1698,292 1703,305 1708,319 1712,333 1717,346 1722,356 1726,365 1731,374 1736,383 1740,392 1745,401 1750,411 1754,423 1758,434 1762,446 1765,458 1768,470 1760,497 1756,487 1753,477 1750,467 1746,458 1742,448 1738,439 1734,429 1730,418 1726,407 1721,396 1717,384 1712,371 1707,357 1702,341 1698,326 1693,311 1688,296 1683,280 1678,261 1673,241 1668,225 1665,215 1663,210 1659,202 1655,189 1649,174 1644,161 1644,148 1644,135 1640,125 1623,123 1601,125 1584,126 1579,127 1578,128 1578,131 1577,137 1576,146 1575,158 1578,178 1580,197 1582,218 1584,242 1585,270 1587,300 1590,330 1592,361 1595,391 1597,419 1599,445 1601,470 1603,494 1605,517 1607,540" fill="#faed1e"/>
<polygon points="1751,430 1750,421 1748,413 1747,400 1746,380 1744,355 1743,330 1742,307 1740,285 1739,263 1738,241 1738,220 1737,200 1737,182 1736,166 1736,150 1734,150 1734,166 1735,182 1735,200 1736,220 1736,241 1737,263 1738,285 1740,307 1741,330 1742,355 1744,380 1745,400 1746,413 1748,421 1749,430" fill="#2e87f7"/>
<polygon points="1753,430 1751,421 1750,413 1749,400 1747,380 1746,355 1745,330 1743,307 1742,285 1741,263 1740,241 1739,220 1739,200 1738,182 1738,166 1738,150 1736,150 1736,166 1736,182 1737,200 1737,220 1738,241 1739,263 1740,285 1741,307 1743,330 1744,355 1745,380 1747,400 1748,413 1749,421 1751,430" fill="#1f9de6"/>
<polygon points="1754,430 1753,421 1752,413 1750,400 1749,380 1748,355 1746,330 1745,307 1743,285 1742,263 1741,241 1741,220 1740,200 1740,182 1740,166 1739,150 1737,150 1737,166 1738,182 1738,200 1739,220 1739,241 1740,263 1741,285 1743,307 1744,330 1746,355 1747,380 1748,400 1750,413 1751,421 1752,430" fill="#14b2d3"/>
<polygon points="1756,430 1755,421 1753,413 1752,400 1751,380 1749,355 1748,330 1746,307 1745,285 1744,263 1743,241 1742,220 1742,200 1741,182 1741,166 1741,150 1739,150 1739,166 1739,182 1740,200 1740,220 1741,241 1742,263 1743,285 1744,307 1746,330 1747,355 1748,380 1750,400 1751,413 1752,421 1754,430" fill="#27beb3"/>
<polygon points="1757,430 1756,421 1754,413 1753,400 1752,380 1750,355 1749,330 1748,307 1746,285 1745,263 1744,241 1744,220 1743,200 1743,182 1742,166 1742,150 1740,150 1741,166 1741,182 1741,200 1742,220 1743,241 1743,263 1745,285 1746,307 1747,330 1749,355 1750,380 1751,400 1753,413 1754,421 1755,430" fill="#40c88f"/>
<polygon points="1853,215 1852,207 1852,198 1851,190 1849,190 1850,198 1850,207 1851,215" fill="#2e87f7"/>
<polygon points="1855,215 1854,207 1853,198 1853,190 1851,190 1851,198 1852,207 1853,215" fill="#1f9de6"/>
<polygon points="1856,215 1856,207 1855,198 1854,190 1852,190 1853,198 1854,207 1854,215" fill="#14b2d3"/>
<polygon points="1858,215 1857,207 1857,198 1856,190 1854,190 1854,198 1855,207 1856,215" fill="#27beb3"/>
<polygon points="1859,215 1858,207 1858,198 1857,190 1855,190 1856,198 1857,207 1857,215" fill="#40c88f"/>
<polygon points="1963,230 1963,218 1964,207 1964,195 1962,195 1962,207 1961,218 1961,230" fill="#2e87f7"/>
<polygon points="1965,230 1965,218 1965,207 1966,195 1964,195 1963,207 1963,218 1963,230" fill="#1f9de6"/>
<polygon points="1966,230 1967,218 1967,207 1967,195 1965,195 1965,207 1965,218 1964,230" fill="#14b2d3"/>
<polygon points="1968,230 1968,218 1969,207 1969,195 1967,195 1966,207 1966,218 1966,230" fill="#27beb3"/>
<polygon points="1969,230 1969,218 1970,207 1970,195 1968,195 1968,207 1968,218 1967,230" fill="#40c88f"/>
<polygon points="2083,243 2083,228 2083,214 2083,200 2083,188 2083,176 2083,165 2081,165 2081,176 2081,188 2081,200 2081,214 2081,228 2081,243" fill="#2e87f7"/>
<polygon points="2085,243 2085,228 2085,214 2085,200 2085,188 2085,176 2085,165 2083,165 2083,176 2083,188 2083,200 2083,214 2083,228 2083,243" fill="#1f9de6"/>
<polygon points="2086,243 2086,228 2086,214 2086,200 2086,188 2086,176 2086,165 2084,165 2084,176 2084,188 2084,200 2084,214 2084,228 2084,243" fill="#14b2d3"/>
<polygon points="2088,243 2088,228 2088,214 2088,200 2088,188 2088,176 2088,165 2086,165 2086,176 2086,188 2086,200 2086,214 2086,228 2086,243" fill="#27beb3"/>
<polygon points="2089,243 2089,228 2089,214 2089,200 2089,188 2089,176 2089,165 2087,165 2087,176 2087,188 2087,200 2087,214 2087,228 2087,243" fill="#40c88f"/>
<polygon points="1762,492 1758,430 1754,400 1750,330 1746,263 1744,200 1743,150 1744,115 1748,106 1755,103 1823,102 1829,110 1836,130 1843,150 1852,180 1860,210 1862,218 1858,180 1857,150 1857,122 1859,103 1864,98 1926,96 1931,104 1936,126 1943,150 1950,175 1959,198 1966,220 1970,232 1971,200 1972,150 1973,110 1975,93 1980,89 2044,88 2049,96 2056,135 2069,173 2082,211 2088,232 2090,245 2090,200 2091,122 2092,92 2095,82 2100,80 2161,79 2168,94 2176,135 2189,173 2202,211 2217,249 2232,300 2247,351 2261,400 2270,450 2276,500 2277,528 2250,473 2231,455 2180,455 2110,458 2079,460 2040,463 1990,465 1958,470 1900,471 1860,475 1836,487 1790,477 1762,475" fill="#f8f214"/>
<polygon points="1888,300 1888,310 1888,319 1889,329 1889,338 1889,348 1889,357 1890,367 1890,376 1891,386 1891,396 1891,405 1892,415 1892,424 1893,434 1893,443 1894,453 1894,462 1895,472 1896,472 1896,462 1895,453 1895,443 1894,434 1894,424 1893,415 1893,405 1892,396 1892,386 1892,376 1891,367 1891,357 1890,348 1890,338 1889,329 1889,319 1888,310 1888,300" fill="#425ef5"/>
<polygon points="1888,300 1888,310 1888,319 1888,329 1888,338 1888,348 1888,357 1889,367 1889,376 1890,386 1890,396 1891,405 1891,415 1891,424 1892,434 1892,443 1893,453 1893,462 1894,472 1895,472 1895,462 1894,453 1894,443 1893,434 1893,424 1892,415 1892,405 1892,396 1891,386 1891,376 1890,367 1890,357 1889,348 1889,338 1889,329 1889,319 1888,310 1888,300" fill="#2e87f7"/>
<polygon points="1888,300 1888,310 1888,319 1888,329 1888,338 1887,348 1888,357 1888,367 1888,376 1889,386 1889,396 1890,405 1890,415 1891,424 1891,434 1891,443 1892,453 1892,462 1893,472 1894,472 1894,462 1893,453 1893,443 1892,434 1892,424 1892,415 1891,405 1891,396 1890,386 1890,376 1889,367 1889,357 1889,348 1889,338 1888,329 1888,319 1888,310 1888,300" fill="#19a7de"/>
<polygon points="1887,300 1887,310 1887,319 1887,329 1887,338 1887,348 1887,357 1887,367 1887,376 1888,386 1888,396 1889,405 1889,415 1890,424 1890,434 1890,443 1891,453 1891,462 1892,472 1893,472 1893,462 1892,453 1892,443 1891,434 1891,424 1891,415 1890,405 1890,396 1889,386 1889,376 1888,367 1888,357 1888,348 1888,338 1888,329 1888,319 1888,310 1888,300" fill="#26bdb4"/>
<polygon points="1887,300 1887,310 1887,319 1886,329 1886,338 1886,348 1886,357 1886,367 1886,376 1887,386 1887,396 1888,405 1888,415 1888,424 1889,434 1889,443 1890,453 1890,462 1891,472 1892,472 1892,462 1891,453 1891,443 1891,434 1890,424 1890,415 1889,405 1889,396 1888,386 1888,376 1887,367 1887,357 1887,348 1887,338 1887,329 1887,319 1887,310 1887,300" fill="#5ac87a"/>
<polygon points="1887,300 1887,310 1886,319 1886,329 1885,338 1885,348 1885,357 1885,367 1885,376 1886,386 1886,396 1886,405 1887,415 1887,424 1888,434 1888,443 1889,453 1889,462 1890,472 1891,472 1891,462 1890,453 1890,443 1889,434 1889,424 1889,415 1888,405 1888,396 1887,386 1887,376 1886,367 1886,357 1886,348 1886,338 1887,329 1887,319 1887,310 1887,300" fill="#b1c739"/>
<polygon points="1887,300 1886,310 1886,319 1885,329 1884,338 1884,348 1883,357 1883,367 1884,376 1884,386 1885,396 1885,405 1886,415 1886,424 1887,434 1887,443 1887,453 1888,462 1888,472 1890,472 1890,462 1889,453 1889,443 1888,434 1888,424 1887,415 1887,405 1887,396 1886,386 1886,376 1885,367 1885,357 1885,348 1886,338 1886,329 1886,319 1887,310 1887,300" fill="#f1c438"/>
<polygon points="1887,300 1886,310 1885,319 1884,329 1884,338 1883,348 1882,357 1882,367 1883,376 1883,386 1883,396 1884,405 1884,415 1885,424 1885,434 1886,443 1886,453 1887,462 1887,472 1889,472 1888,462 1888,453 1887,443 1887,434 1887,424 1886,415 1886,405 1885,396 1885,386 1884,376 1884,367 1884,357 1884,348 1885,338 1885,329 1886,319 1886,310 1887,300" fill="#fbe522"/>
<polygon points="1888,300 1889,310 1889,319 1890,329 1891,338 1891,348 1892,357 1892,367 1893,376 1893,386 1894,396 1894,405 1895,415 1895,424 1895,434 1896,443 1896,453 1897,462 1897,472 1896,472 1896,462 1895,453 1895,443 1894,434 1894,424 1893,415 1893,405 1892,396 1892,386 1892,376 1891,367 1891,357 1890,348 1890,338 1889,329 1889,319 1888,310 1888,300" fill="#3f65f5"/>
<polygon points="1888,300 1889,310 1890,319 1890,329 1891,338 1892,348 1893,357 1893,367 1894,376 1894,386 1895,396 1895,405 1895,415 1896,424 1896,434 1897,443 1897,453 1898,462 1898,472 1897,472 1896,462 1896,453 1895,443 1895,434 1895,424 1894,415 1894,405 1893,396 1893,386 1892,376 1892,367 1891,357 1891,348 1890,338 1890,329 1889,319 1889,310 1888,300" fill="#2397ea"/>
<polygon points="1888,300 1889,310 1890,319 1891,329 1892,338 1893,348 1893,357 1894,367 1895,376 1895,386 1895,396 1896,405 1896,415 1897,424 1897,434 1898,443 1898,453 1899,462 1899,472 1898,472 1897,462 1897,453 1896,443 1896,434 1895,424 1895,415 1895,405 1894,396 1894,386 1893,376 1893,367 1892,357 1892,348 1891,338 1890,329 1890,319 1889,310 1888,300" fill="#21babc"/>
<polygon points="1889,300 1890,310 1891,319 1892,329 1893,338 1894,348 1894,357 1895,367 1896,376 1896,386 1896,396 1897,405 1897,415 1898,424 1898,434 1899,443 1899,453 1900,462 1900,472 1899,472 1898,462 1898,453 1897,443 1897,434 1896,424 1896,415 1895,405 1895,396 1895,386 1894,376 1894,367 1893,357 1892,348 1892,338 1891,329 1890,319 1889,310 1888,300" fill="#69c86e"/>
<polygon points="1889,300 1890,310 1891,319 1892,329 1893,338 1895,348 1896,357 1896,367 1897,376 1897,386 1898,396 1898,405 1898,415 1899,424 1899,434 1900,443 1900,453 1901,462 1901,472 1900,472 1899,462 1899,453 1898,443 1898,434 1897,424 1897,415 1896,405 1896,396 1896,386 1895,376 1895,367 1894,357 1893,348 1892,338 1891,329 1890,319 1889,310 1889,300" fill="#d1c539"/>
<polygon points="1889,300 1890,310 1892,319 1893,329 1894,338 1896,348 1897,357 1897,367 1898,376 1898,386 1899,396 1899,405 1900,415 1900,424 1901,434 1901,443 1901,453 1902,462 1902,472 1901,472 1900,462 1900,453 1899,443 1899,434 1898,424 1898,415 1898,405 1897,396 1897,386 1896,376 1896,367 1895,357 1894,348 1893,338 1892,329 1891,319 1890,310 1889,300" fill="#fcde27"/>
<polygon points="2003,325 2003,333 2003,341 2004,349 2004,357 2004,365 2005,373 2005,381 2006,389 2006,398 2007,406 2007,414 2008,422 2008,430 2009,438 2009,446 2010,454 2010,462 2011,470 2012,470 2012,462 2011,454 2010,446 2010,438 2010,430 2009,422 2008,414 2008,406 2008,398 2007,389 2006,381 2006,373 2006,365 2005,357 2004,349 2004,341 2004,333 2003,325" fill="#425ef5"/>
<polygon points="2003,325 2003,333 2003,341 2003,349 2003,357 2004,365 2004,373 2004,381 2005,389 2005,398 2006,406 2006,414 2007,422 2007,430 2008,438 2008,446 2009,454 2009,462 2010,470 2011,470 2011,462 2010,454 2010,446 2009,438 2009,430 2008,422 2008,414 2007,406 2007,398 2006,389 2006,381 2005,373 2005,365 2004,357 2004,349 2004,341 2003,333 2003,325" fill="#2e87f7"/>
<polygon points="2003,325 2003,333 2003,341 2003,349 2003,357 2003,365 2003,373 2003,381 2004,389 2004,398 2005,406 2005,414 2006,422 2006,430 2007,438 2007,446 2008,454 2008,462 2009,470 2010,470 2010,462 2009,454 2009,446 2008,438 2008,430 2007,422 2007,414 2006,406 2006,398 2005,389 2005,381 2004,373 2004,365 2004,357 2004,349 2003,341 2003,333 2003,325" fill="#19a7de"/>
<polygon points="2002,325 2002,333 2002,341 2002,349 2002,357 2002,365 2002,373 2002,381 2003,389 2003,398 2004,406 2004,414 2005,422 2005,430 2006,438 2006,446 2007,454 2007,462 2008,470 2009,470 2009,462 2008,454 2008,446 2007,438 2007,430 2006,422 2006,414 2005,406 2005,398 2004,389 2004,381 2003,373 2003,365 2003,357 2003,349 2003,341 2003,333 2003,325" fill="#26bdb4"/>
<polygon points="2002,325 2002,333 2002,341 2002,349 2001,357 2001,365 2001,373 2001,381 2002,389 2002,398 2003,406 2003,414 2004,422 2004,430 2005,438 2005,446 2006,454 2006,462 2007,470 2008,470 2008,462 2007,454 2007,446 2006,438 2006,430 2005,422 2005,414 2004,406 2004,398 2003,389 2003,381 2002,373 2002,365 2002,357 2002,349 2002,341 2002,333 2002,325" fill="#5ac87a"/>
<polygon points="2002,325 2002,333 2001,341 2001,349 2001,357 2000,365 2000,373 2000,381 2001,389 2001,398 2002,406 2002,414 2003,422 2003,430 2004,438 2004,446 2005,454 2005,462 2006,470 2007,470 2007,462 2006,454 2006,446 2005,438 2005,430 2004,422 2004,414 2003,406 2003,398 2002,389 2002,381 2001,373 2001,365 2002,357 2002,349 2002,341 2002,333 2002,325" fill="#b1c739"/>
<polygon points="2002,325 2001,333 2001,341 2000,349 2000,357 1999,365 1999,373 1999,381 1999,389 2000,398 2000,406 2001,414 2001,422 2002,430 2002,438 2003,446 2003,454 2004,462 2004,470 2006,470 2006,462 2005,454 2005,446 2004,438 2004,430 2003,422 2003,414 2002,406 2002,398 2001,389 2001,381 2000,373 2001,365 2001,357 2001,349 2002,341 2002,333 2002,325" fill="#f1c438"/>
<polygon points="2002,325 2001,333 2000,341 2000,349 1999,357 1998,365 1997,373 1998,381 1998,389 1998,398 1999,406 1999,414 2000,422 2000,430 2001,438 2002,446 2002,454 2002,462 2003,470 2005,470 2004,462 2004,454 2003,446 2003,438 2002,430 2002,422 2001,414 2001,406 2000,398 2000,389 1999,381 1999,373 1999,365 2000,357 2001,349 2001,341 2001,333 2002,325" fill="#fbe522"/>
<polygon points="2003,325 2004,333 2005,341 2005,349 2006,357 2007,365 2007,373 2008,381 2008,389 2009,398 2009,406 2010,414 2010,422 2011,430 2011,438 2012,446 2012,454 2013,462 2013,470 2012,470 2012,462 2011,454 2010,446 2010,438 2010,430 2009,422 2008,414 2008,406 2008,398 2007,389 2006,381 2006,373 2006,365 2005,357 2004,349 2004,341 2004,333 2003,325" fill="#3f65f5"/>
<polygon points="2003,325 2004,333 2005,341 2006,349 2006,357 2007,365 2008,373 2009,381 2009,389 2010,398 2010,406 2011,414 2011,422 2012,430 2012,438 2013,446 2013,454 2014,462 2014,470 2013,470 2012,462 2012,454 2011,446 2011,438 2010,430 2010,422 2009,414 2009,406 2008,398 2008,389 2007,381 2007,373 2006,365 2006,357 2005,349 2004,341 2004,333 2003,325" fill="#2397ea"/>
<polygon points="2003,325 2004,333 2005,341 2006,349 2007,357 2008,365 2009,373 2009,381 2010,389 2010,398 2011,406 2011,414 2012,422 2012,430 2013,438 2013,446 2014,454 2014,462 2015,470 2014,470 2013,462 2013,454 2012,446 2012,438 2011,430 2011,422 2010,414 2010,406 2009,398 2009,389 2008,381 2008,373 2007,365 2006,357 2005,349 2005,341 2004,333 2003,325" fill="#21babc"/>
<polygon points="2004,325 2005,333 2006,341 2007,349 2008,357 2009,365 2010,373 2010,381 2011,389 2011,398 2012,406 2012,414 2013,422 2013,430 2014,438 2014,446 2015,454 2015,462 2016,470 2015,470 2014,462 2014,454 2013,446 2013,438 2012,430 2012,422 2011,414 2011,406 2010,398 2010,389 2009,381 2008,373 2008,365 2007,357 2006,349 2005,341 2004,333 2003,325" fill="#69c86e"/>
<polygon points="2004,325 2005,333 2006,341 2007,349 2009,357 2010,365 2011,373 2012,381 2012,389 2013,398 2013,406 2014,414 2014,422 2015,430 2015,438 2016,446 2016,454 2017,462 2017,470 2016,470 2015,462 2015,454 2014,446 2014,438 2013,430 2013,422 2012,414 2012,406 2011,398 2011,389 2010,381 2009,373 2009,365 2008,357 2006,349 2005,341 2005,333 2004,325" fill="#d1c539"/>
<polygon points="2004,325 2005,333 2007,341 2008,349 2009,357 2011,365 2012,373 2013,381 2013,389 2014,398 2014,406 2015,414 2015,422 2016,430 2016,438 2017,446 2017,454 2018,462 2018,470 2017,470 2016,462 2016,454 2015,446 2015,438 2014,430 2014,422 2013,414 2013,406 2012,398 2012,389 2011,381 2010,373 2009,365 2008,357 2007,349 2006,341 2005,333 2004,325" fill="#fcde27"/>
<polygon points="2121,335 2121,342 2121,349 2121,356 2121,363 2122,370 2122,377 2122,384 2122,391 2123,398 2123,406 2123,413 2124,420 2124,427 2124,434 2125,441 2125,448 2125,455 2126,462 2127,462 2127,455 2126,448 2126,441 2126,434 2125,427 2125,420 2125,413 2124,406 2124,398 2124,391 2123,384 2123,377 2123,370 2122,363 2122,356 2122,349 2121,342 2121,335" fill="#425ef5"/>
<polygon points="2121,335 2121,342 2121,349 2121,356 2121,363 2121,370 2121,377 2121,384 2122,391 2122,398 2122,406 2123,413 2123,420 2123,427 2124,434 2124,441 2124,448 2125,455 2125,462 2126,462 2126,455 2126,448 2125,441 2125,434 2125,427 2124,420 2124,413 2124,406 2123,398 2123,391 2123,384 2122,377 2122,370 2122,363 2122,356 2121,349 2121,342 2121,335" fill="#2e87f7"/>
<polygon points="2121,335 2121,342 2120,349 2120,356 2120,363 2120,370 2120,377 2120,384 2121,391 2121,398 2121,406 2122,413 2122,420 2122,427 2123,434 2123,441 2123,448 2124,455 2124,462 2125,462 2125,455 2125,448 2124,441 2124,434 2124,427 2123,420 2123,413 2123,406 2122,398 2122,391 2122,384 2121,377 2121,370 2121,363 2121,356 2121,349 2121,342 2121,335" fill="#19a7de"/>
<polygon points="2120,335 2120,342 2120,349 2120,356 2120,363 2119,370 2119,377 2120,384 2120,391 2120,398 2121,406 2121,413 2121,420 2122,427 2122,434 2122,441 2123,448 2123,455 2123,462 2125,462 2124,455 2124,448 2124,441 2123,434 2123,427 2123,420 2122,413 2122,406 2122,398 2121,391 2121,384 2121,377 2121,370 2121,363 2121,356 2121,349 2121,342 2121,335" fill="#26bdb4"/>
<polygon points="2120,335 2120,342 2120,349 2119,356 2119,363 2119,370 2119,377 2119,384 2119,391 2119,398 2120,406 2120,413 2120,420 2121,427 2121,434 2121,441 2122,448 2122,455 2122,462 2124,462 2123,455 2123,448 2123,441 2122,434 2122,427 2122,420 2121,413 2121,406 2121,398 2120,391 2120,384 2120,377 2120,370 2120,363 2120,356 2120,349 2120,342 2121,335" fill="#5ac87a"/>
<polygon points="2120,335 2120,342 2119,349 2119,356 2118,363 2118,370 2118,377 2118,384 2118,391 2118,398 2119,406 2119,413 2119,420 2120,427 2120,434 2120,441 2121,448 2121,455 2121,462 2123,462 2122,455 2122,448 2122,441 2121,434 2121,427 2121,420 2120,413 2120,406 2120,398 2119,391 2119,384 2119,377 2119,370 2119,363 2120,356 2120,349 2120,342 2120,335" fill="#b1c739"/>
<polygon points="2120,335 2119,342 2119,349 2118,356 2118,363 2117,370 2116,377 2117,384 2117,391 2117,398 2117,406 2118,413 2118,420 2118,427 2119,434 2119,441 2119,448 2120,455 2120,462 2122,462 2121,455 2121,448 2121,441 2120,434 2120,427 2120,420 2119,413 2119,406 2119,398 2118,391 2118,384 2118,377 2118,370 2119,363 2119,356 2119,349 2120,342 2120,335" fill="#f1c438"/>
<polygon points="2120,335 2119,342 2118,349 2118,356 2117,363 2116,370 2115,377 2115,384 2116,391 2116,398 2116,406 2117,413 2117,420 2117,427 2118,434 2118,441 2118,448 2119,455 2119,462 2121,462 2120,455 2120,448 2120,441 2119,434 2119,427 2119,420 2118,413 2118,406 2118,398 2117,391 2117,384 2117,377 2117,370 2118,363 2118,356 2119,349 2120,342 2120,335" fill="#fbe522"/>
<polygon points="2121,335 2122,342 2122,349 2123,356 2123,363 2124,370 2124,377 2124,384 2125,391 2125,398 2125,406 2126,413 2126,420 2126,427 2127,434 2127,441 2127,448 2128,455 2128,462 2127,462 2127,455 2126,448 2126,441 2126,434 2125,427 2125,420 2125,413 2124,406 2124,398 2124,391 2123,384 2123,377 2123,370 2122,363 2122,356 2122,349 2121,342 2121,335" fill="#3f65f5"/>
<polygon points="2121,335 2122,342 2122,349 2123,356 2124,363 2124,370 2125,377 2125,384 2126,391 2126,398 2126,406 2127,413 2127,420 2127,427 2128,434 2128,441 2128,448 2129,455 2129,462 2128,462 2127,455 2127,448 2127,441 2126,434 2126,427 2126,420 2125,413 2125,406 2125,398 2124,391 2124,384 2124,377 2123,370 2123,363 2122,356 2122,349 2122,342 2121,335" fill="#2397ea"/>
<polygon points="2121,335 2122,342 2123,349 2123,356 2124,363 2125,370 2126,377 2126,384 2126,391 2127,398 2127,406 2127,413 2128,420 2128,427 2128,434 2129,441 2129,448 2129,455 2130,462 2129,462 2128,455 2128,448 2128,441 2127,434 2127,427 2127,420 2126,413 2126,406 2126,398 2125,391 2125,384 2124,377 2124,370 2123,363 2123,356 2122,349 2122,342 2121,335" fill="#21babc"/>
<polygon points="2122,335 2122,342 2123,349 2124,356 2125,363 2126,370 2126,377 2127,384 2127,391 2128,398 2128,406 2128,413 2129,420 2129,427 2129,434 2130,441 2130,448 2130,455 2131,462 2129,462 2129,455 2129,448 2128,441 2128,434 2128,427 2127,420 2127,413 2127,406 2126,398 2126,391 2126,384 2125,377 2125,370 2124,363 2123,356 2123,349 2122,342 2121,335" fill="#69c86e"/>
<polygon points="2122,335 2123,342 2124,349 2124,356 2125,363 2126,370 2127,377 2128,384 2128,391 2129,398 2129,406 2129,413 2130,420 2130,427 2130,434 2131,441 2131,448 2131,455 2132,462 2130,462 2130,455 2130,448 2129,441 2129,434 2129,427 2128,420 2128,413 2128,406 2127,398 2127,391 2127,384 2126,377 2125,370 2125,363 2124,356 2123,349 2122,342 2121,335" fill="#d1c539"/>
<polygon points="2122,335 2123,342 2124,349 2125,356 2126,363 2127,370 2128,377 2129,384 2129,391 2130,398 2130,406 2130,413 2131,420 2131,427 2131,434 2132,441 2132,448 2132,455 2133,462 2131,462 2131,455 2131,448 2130,441 2130,434 2130,427 2129,420 2129,413 2129,406 2128,398 2128,391 2127,384 2127,377 2126,370 2125,363 2124,356 2123,349 2123,342 2122,335" fill="#fcde27"/>
<g clip-path="url(#u1)">
<path d="M1787,169 L1793,169 L1798,172 L1803,175 L1807,180 L1811,185 L1815,191 L1820,197 L1825,204 L1830,212 L1835,219 L1840,228 L1844,236 L1847,244 L1850,252 L1853,261 L1855,273 L1857,286 L1859,300 L1860,313 L1860,327 L1861,340 L1861,353 L1861,367 L1861,380 L1861,394 L1861,407 L1860,420 L1859,432 L1858,443 L1856,452 L1854,460 L1850,467 L1846,472 L1842,476 L1836,479 L1831,481 L1826,482 L1820,481 L1815,479 L1809,477 L1803,475 L1798,472 L1793,469 L1788,465 L1784,460 L1780,455 L1777,449 L1774,440 L1773,429 L1771,416 L1770,400 L1770,379 L1769,354 L1769,330 L1769,307 L1769,283 L1769,263 L1769,246 L1769,232 L1770,220 L1770,210 L1770,201 L1771,194 L1772,188 L1774,183 L1775,179 L1778,175 L1781,171 L1787,169Z M1788,177 L1785,178 L1783,180 L1781,183 L1779,186 L1777,190 L1775,195 L1773,202 L1772,210 L1771,220 L1770,232 L1770,246 L1770,263 L1770,283 L1770,307 L1770,330 L1770,354 L1770,379 L1771,400 L1772,416 L1773,429 L1775,440 L1777,448 L1780,455 L1784,460 L1788,465 L1793,469 L1798,472 L1803,475 L1809,477 L1815,479 L1820,480 L1826,481 L1831,481 L1836,479 L1841,476 L1846,472 L1850,467 L1853,460 L1856,452 L1858,443 L1859,432 L1860,420 L1861,407 L1861,394 L1861,380 L1861,367 L1861,353 L1860,340 L1859,327 L1858,313 L1857,300 L1855,287 L1853,274 L1850,262 L1847,253 L1844,245 L1840,238 L1835,230 L1830,222 L1825,215 L1820,208 L1815,201 L1810,195 L1806,190 L1802,185 L1798,181 L1794,179 L1791,177 L1788,177Z" fill="#4031bb" fill-rule="evenodd"/>
<path d="M1786,164 L1794,165 L1800,168 L1805,172 L1810,178 L1813,183 L1817,189 L1822,196 L1827,203 L1832,210 L1837,218 L1842,226 L1846,235 L1849,243 L1851,251 L1854,261 L1856,273 L1858,286 L1859,300 L1860,313 L1861,327 L1861,340 L1861,353 L1862,367 L1862,380 L1861,394 L1861,407 L1860,420 L1860,432 L1858,443 L1856,452 L1854,460 L1850,467 L1846,472 L1842,476 L1836,479 L1831,481 L1826,482 L1820,481 L1815,479 L1809,477 L1803,475 L1798,472 L1793,469 L1788,465 L1784,460 L1780,455 L1777,449 L1774,440 L1772,429 L1771,416 L1770,400 L1769,379 L1769,354 L1769,330 L1769,307 L1769,283 L1769,263 L1769,246 L1769,232 L1769,220 L1769,209 L1769,201 L1769,193 L1770,187 L1771,181 L1772,177 L1775,173 L1779,168 L1786,164Z M1787,173 L1783,175 L1780,178 L1778,181 L1776,185 L1774,189 L1773,194 L1772,201 L1771,210 L1770,220 L1770,232 L1770,246 L1770,263 L1770,283 L1770,307 L1770,330 L1770,354 L1770,379 L1771,400 L1772,416 L1773,429 L1775,440 L1777,449 L1780,455 L1784,460 L1788,465 L1793,469 L1798,472 L1803,475 L1809,477 L1815,479 L1820,481 L1826,481 L1831,481 L1836,479 L1841,476 L1846,472 L1850,467 L1853,460 L1856,452 L1858,443 L1859,432 L1860,420 L1861,407 L1861,394 L1861,380 L1861,367 L1861,353 L1860,340 L1860,327 L1859,313 L1858,300 L1856,287 L1854,273 L1851,262 L1848,252 L1845,245 L1842,237 L1837,229 L1832,221 L1827,213 L1822,206 L1817,199 L1812,193 L1808,187 L1804,182 L1800,178 L1796,175 L1792,173 L1787,173Z" fill="#4647e1" fill-rule="evenodd"/>
<path d="M1786,160 L1795,161 L1802,165 L1808,169 L1812,175 L1816,181 L1820,187 L1824,194 L1829,201 L1834,208 L1839,216 L1844,225 L1848,234 L1850,242 L1853,251 L1855,261 L1857,273 L1859,286 L1860,300 L1861,313 L1861,326 L1861,340 L1862,353 L1862,367 L1862,380 L1862,394 L1861,407 L1861,420 L1860,432 L1858,443 L1857,452 L1854,460 L1850,467 L1846,472 L1842,477 L1836,480 L1831,481 L1826,482 L1820,481 L1815,479 L1809,478 L1803,475 L1798,472 L1793,469 L1788,465 L1784,460 L1780,455 L1777,449 L1774,440 L1772,429 L1771,416 L1769,400 L1769,379 L1768,354 L1768,330 L1768,307 L1768,283 L1768,263 L1768,246 L1768,232 L1769,220 L1768,209 L1768,201 L1767,193 L1767,186 L1768,180 L1770,175 L1772,170 L1777,165 L1786,160Z M1787,169 L1781,171 L1778,175 L1775,179 L1774,183 L1772,188 L1771,194 L1771,201 L1770,210 L1770,220 L1769,232 L1769,246 L1769,263 L1769,283 L1769,307 L1769,330 L1769,354 L1770,379 L1770,400 L1771,416 L1773,429 L1775,440 L1777,449 L1780,455 L1784,460 L1788,465 L1793,469 L1798,472 L1803,475 L1809,477 L1815,479 L1820,481 L1826,481 L1831,481 L1836,479 L1841,476 L1846,472 L1850,467 L1853,460 L1856,452 L1858,443 L1859,432 L1860,420 L1861,407 L1861,394 L1861,380 L1861,367 L1861,353 L1861,340 L1860,327 L1859,313 L1858,300 L1857,286 L1854,273 L1852,261 L1850,252 L1847,244 L1844,236 L1839,228 L1834,219 L1830,212 L1824,204 L1819,198 L1815,191 L1811,185 L1807,180 L1803,175 L1798,172 L1793,169 L1787,169Z" fill="#425ff5" fill-rule="evenodd"/>
<path d="M1785,156 L1796,157 L1804,161 L1810,166 L1815,173 L1819,179 L1822,186 L1827,192 L1832,199 L1837,207 L1841,215 L1846,224 L1850,232 L1852,241 L1854,250 L1856,260 L1858,273 L1859,286 L1861,300 L1861,313 L1862,326 L1862,340 L1862,353 L1862,367 L1862,380 L1862,394 L1861,407 L1861,420 L1860,432 L1859,443 L1857,452 L1854,460 L1850,467 L1846,472 L1842,477 L1836,480 L1831,481 L1826,482 L1820,481 L1815,479 L1809,478 L1803,475 L1798,472 L1793,469 L1788,465 L1783,460 L1780,455 L1776,449 L1774,440 L1772,429 L1770,416 L1769,400 L1768,379 L1768,354 L1768,330 L1768,307 L1768,283 L1768,263 L1768,246 L1768,232 L1768,220 L1767,209 L1766,200 L1765,192 L1765,185 L1766,178 L1767,173 L1769,168 L1774,161 L1785,156Z M1786,164 L1779,168 L1775,173 L1772,177 L1771,181 L1770,187 L1769,193 L1769,201 L1769,209 L1769,220 L1769,232 L1769,246 L1769,263 L1769,283 L1769,307 L1769,330 L1769,354 L1769,379 L1770,400 L1771,416 L1772,429 L1774,440 L1777,449 L1780,455 L1784,460 L1788,465 L1793,469 L1798,472 L1803,475 L1809,477 L1815,479 L1820,481 L1826,482 L1831,481 L1836,479 L1842,476 L1846,472 L1850,467 L1854,460 L1856,452 L1858,443 L1859,432 L1860,420 L1861,407 L1861,394 L1861,380 L1861,367 L1861,353 L1861,340 L1861,327 L1860,313 L1859,300 L1857,286 L1855,273 L1853,261 L1851,252 L1849,243 L1846,235 L1842,226 L1837,218 L1832,210 L1827,203 L1822,196 L1817,189 L1813,183 L1810,178 L1805,172 L1800,168 L1794,165 L1786,164Z" fill="#347af6" fill-rule="evenodd"/>
<path d="M1784,152 L1797,153 L1806,157 L1813,163 L1818,170 L1821,177 L1825,184 L1829,190 L1834,197 L1839,205 L1843,213 L1848,222 L1852,231 L1854,241 L1855,250 L1857,260 L1859,272 L1860,286 L1861,299 L1862,313 L1862,326 L1862,340 L1862,353 L1862,367 L1862,380 L1862,394 L1861,407 L1861,420 L1860,432 L1859,443 L1857,452 L1854,460 L1850,467 L1846,472 L1842,477 L1836,480 L1831,482 L1826,482 L1820,481 L1815,479 L1809,478 L1803,475 L1798,472 L1793,469 L1788,465 L1783,460 L1780,455 L1776,449 L1773,440 L1771,429 L1770,416 L1769,400 L1768,379 L1768,354 L1767,330 L1767,307 L1767,283 L1767,263 L1767,246 L1767,232 L1767,220 L1766,209 L1765,200 L1763,191 L1762,184 L1763,176 L1764,170 L1766,165 L1772,158 L1784,152Z M1786,160 L1777,165 L1772,170 L1770,175 L1768,180 L1767,186 L1767,193 L1768,201 L1768,209 L1769,220 L1768,232 L1768,246 L1768,263 L1768,283 L1768,307 L1768,330 L1769,354 L1769,379 L1770,400 L1771,416 L1772,429 L1774,440 L1777,449 L1780,455 L1784,460 L1788,465 L1793,469 L1798,472 L1803,475 L1809,478 L1815,479 L1820,481 L1826,482 L1831,481 L1836,480 L1842,476 L1846,472 L1850,467 L1854,460 L1856,452 L1858,443 L1860,432 L1860,420 L1861,407 L1861,394 L1862,380 L1862,367 L1862,353 L1861,340 L1861,326 L1861,313 L1860,300 L1858,286 L1856,273 L1854,261 L1852,251 L1850,242 L1848,234 L1844,225 L1839,216 L1834,208 L1829,201 L1824,194 L1820,187 L1816,181 L1812,175 L1808,169 L1802,165 L1795,161 L1786,160Z" fill="#2792ef" fill-rule="evenodd"/>
<path d="M1784,147 L1798,149 L1808,154 L1816,160 L1821,168 L1824,175 L1827,182 L1832,188 L1837,196 L1841,203 L1846,212 L1850,221 L1854,230 L1856,240 L1857,249 L1858,260 L1860,272 L1861,286 L1862,299 L1863,313 L1863,326 L1862,340 L1863,353 L1863,367 L1862,380 L1862,394 L1862,407 L1861,420 L1860,432 L1859,443 L1857,452 L1854,460 L1851,467 L1846,472 L1842,477 L1837,480 L1831,482 L1826,482 L1820,481 L1815,480 L1809,478 L1803,475 L1798,473 L1793,469 L1788,465 L1783,461 L1779,455 L1776,449 L1773,440 L1771,430 L1770,416 L1768,400 L1768,379 L1767,354 L1767,330 L1767,307 L1767,283 L1767,263 L1767,246 L1767,232 L1767,220 L1765,209 L1763,200 L1760,191 L1760,182 L1760,175 L1761,168 L1763,162 L1770,154 L1784,147Z M1785,156 L1774,161 L1769,168 L1767,172 L1766,178 L1765,185 L1765,192 L1766,200 L1767,209 L1768,220 L1768,232 L1768,246 L1768,263 L1768,283 L1768,307 L1768,330 L1768,354 L1769,379 L1769,400 L1770,416 L1772,429 L1774,440 L1777,449 L1780,455 L1784,460 L1788,465 L1793,469 L1798,472 L1803,475 L1809,478 L1815,479 L1820,481 L1826,482 L1831,481 L1836,480 L1842,477 L1846,472 L1850,467 L1854,460 L1857,452 L1858,443 L1860,432 L1861,420 L1861,407 L1862,394 L1862,380 L1862,367 L1862,353 L1862,340 L1861,326 L1861,313 L1860,300 L1859,286 L1857,273 L1855,261 L1854,250 L1852,242 L1850,232 L1846,223 L1841,215 L1837,207 L1832,199 L1827,192 L1822,185 L1819,179 L1815,173 L1810,166 L1804,161 L1796,157 L1785,156Z" fill="#19a7de" fill-rule="evenodd"/>
<path d="M1783,142 L1799,144 L1810,150 L1818,157 L1824,165 L1827,172 L1830,179 L1834,186 L1839,194 L1844,202 L1848,210 L1853,219 L1857,229 L1858,239 L1859,249 L1860,259 L1861,272 L1862,285 L1863,299 L1863,313 L1863,326 L1863,340 L1863,353 L1863,367 L1862,380 L1862,394 L1862,407 L1861,420 L1860,432 L1859,443 L1857,452 L1854,460 L1851,467 L1847,472 L1842,477 L1837,480 L1831,482 L1826,482 L1820,481 L1815,480 L1809,478 L1803,476 L1798,473 L1792,469 L1788,465 L1783,461 L1779,455 L1776,449 L1773,440 L1771,430 L1769,417 L1768,400 L1767,379 L1767,354 L1766,330 L1766,307 L1766,283 L1766,263 L1766,246 L1766,232 L1766,220 L1764,209 L1761,199 L1758,190 L1757,181 L1757,173 L1757,166 L1760,160 L1767,150 L1783,142Z M1784,151 L1772,158 L1766,165 L1764,170 L1763,176 L1762,184 L1763,191 L1765,200 L1766,209 L1768,220 L1767,232 L1767,246 L1768,263 L1767,283 L1767,307 L1768,330 L1768,354 L1768,379 L1769,400 L1770,416 L1771,429 L1774,440 L1776,449 L1780,455 L1783,460 L1788,465 L1793,469 L1798,472 L1803,475 L1809,478 L1815,479 L1820,481 L1826,482 L1831,481 L1836,480 L1842,477 L1846,472 L1850,467 L1854,460 L1857,452 L1859,443 L1860,432 L1861,420 L1861,407 L1862,394 L1862,380 L1862,367 L1862,353 L1862,340 L1862,326 L1862,313 L1861,299 L1860,286 L1859,272 L1857,260 L1855,250 L1854,241 L1852,231 L1848,222 L1844,213 L1839,205 L1834,197 L1829,190 L1825,183 L1822,177 L1818,170 L1813,163 L1806,157 L1797,153 L1784,151Z" fill="#1bb7c6" fill-rule="evenodd"/>
<path d="M1782,138 L1800,140 L1812,146 L1821,153 L1827,162 L1830,170 L1833,177 L1837,184 L1842,192 L1847,200 L1851,208 L1855,218 L1859,228 L1860,238 L1860,248 L1861,259 L1862,272 L1863,285 L1864,299 L1864,313 L1864,326 L1863,340 L1863,353 L1863,367 L1863,380 L1862,394 L1862,407 L1861,420 L1860,432 L1859,443 L1857,452 L1854,460 L1851,467 L1847,473 L1842,477 L1837,480 L1831,482 L1826,482 L1820,481 L1815,480 L1809,478 L1803,476 L1798,473 L1792,469 L1787,466 L1783,461 L1779,455 L1776,449 L1773,441 L1770,430 L1769,417 L1767,400 L1767,379 L1766,354 L1766,330 L1766,307 L1766,283 L1766,263 L1766,246 L1765,232 L1765,220 L1763,209 L1760,199 L1756,190 L1755,180 L1754,171 L1754,163 L1757,157 L1765,147 L1782,138Z M1784,147 L1770,154 L1763,162 L1760,168 L1760,174 L1760,182 L1760,191 L1763,200 L1765,209 L1767,220 L1767,232 L1767,246 L1767,263 L1767,283 L1767,307 L1767,330 L1767,354 L1768,379 L1768,400 L1770,416 L1771,430 L1773,440 L1776,449 L1779,455 L1783,461 L1788,465 L1793,469 L1798,473 L1803,475 L1809,478 L1815,480 L1820,481 L1826,482 L1831,482 L1837,480 L1842,477 L1846,472 L1851,467 L1854,460 L1857,452 L1859,443 L1860,432 L1861,420 L1862,407 L1862,394 L1862,380 L1862,367 L1863,353 L1862,340 L1863,326 L1862,313 L1862,299 L1861,286 L1860,272 L1858,260 L1857,249 L1856,240 L1855,230 L1850,221 L1846,212 L1842,203 L1837,195 L1832,188 L1827,181 L1824,175 L1821,167 L1816,160 L1808,153 L1798,148 L1784,147Z" fill="#2ec2a7" fill-rule="evenodd"/>
<path d="M1782,133 L1801,135 L1814,142 L1824,150 L1830,159 L1833,168 L1835,175 L1840,182 L1845,190 L1849,198 L1853,207 L1857,216 L1861,226 L1862,237 L1862,247 L1862,259 L1864,271 L1865,285 L1865,299 L1865,313 L1864,326 L1864,340 L1864,353 L1863,367 L1863,380 L1863,394 L1862,407 L1861,420 L1860,432 L1859,443 L1857,452 L1854,460 L1851,467 L1847,473 L1842,477 L1837,480 L1831,482 L1826,482 L1820,481 L1815,480 L1809,478 L1803,476 L1798,473 L1792,470 L1787,466 L1783,461 L1779,456 L1775,449 L1772,441 L1770,430 L1768,417 L1767,400 L1766,379 L1766,354 L1765,330 L1765,307 L1765,283 L1765,263 L1765,246 L1765,232 L1765,220 L1761,208 L1758,199 L1754,189 L1752,179 L1751,169 L1751,161 L1753,154 L1762,143 L1782,133Z M1783,142 L1767,150 L1760,159 L1757,166 L1757,173 L1757,181 L1758,190 L1761,199 L1764,209 L1766,220 L1766,232 L1766,246 L1767,263 L1766,283 L1766,307 L1767,330 L1767,354 L1767,379 L1768,400 L1769,417 L1771,430 L1773,440 L1776,449 L1779,455 L1783,461 L1788,465 L1792,469 L1798,473 L1803,476 L1809,478 L1815,480 L1820,481 L1826,482 L1831,482 L1837,480 L1842,477 L1847,472 L1851,467 L1854,460 L1857,452 L1859,443 L1860,432 L1861,420 L1862,407 L1862,394 L1862,380 L1863,367 L1863,353 L1863,340 L1863,326 L1863,313 L1863,299 L1862,286 L1861,272 L1859,259 L1858,249 L1858,239 L1857,229 L1853,219 L1848,210 L1844,201 L1839,193 L1835,186 L1830,179 L1827,172 L1824,165 L1819,156 L1810,149 L1799,144 L1783,142Z" fill="#54c880" fill-rule="evenodd"/>
<path d="M1781,128 L1802,130 L1817,138 L1827,146 L1833,157 L1836,165 L1838,173 L1843,180 L1847,188 L1852,196 L1856,205 L1860,215 L1864,225 L1864,236 L1864,247 L1864,258 L1865,271 L1866,285 L1866,299 L1866,313 L1865,326 L1864,340 L1864,353 L1864,367 L1863,380 L1863,394 L1862,407 L1862,420 L1861,432 L1859,443 L1858,452 L1855,461 L1851,467 L1847,473 L1842,477 L1837,480 L1831,482 L1826,482 L1820,481 L1815,480 L1809,478 L1803,476 L1797,473 L1792,470 L1787,466 L1783,461 L1779,456 L1775,449 L1772,441 L1770,430 L1768,417 L1766,400 L1766,379 L1765,354 L1765,330 L1765,307 L1765,283 L1765,263 L1764,246 L1764,232 L1764,219 L1760,208 L1756,198 L1751,188 L1749,178 L1748,167 L1747,158 L1750,151 L1760,139 L1781,128Z M1782,137 L1764,146 L1756,156 L1754,163 L1754,171 L1754,180 L1756,189 L1759,199 L1763,209 L1765,220 L1765,232 L1766,246 L1766,263 L1766,283 L1766,307 L1766,330 L1766,354 L1767,379 L1767,400 L1769,417 L1770,430 L1773,441 L1776,449 L1779,455 L1783,461 L1787,466 L1792,469 L1798,473 L1803,476 L1809,478 L1815,480 L1820,481 L1826,482 L1831,482 L1837,480 L1842,477 L1847,473 L1851,467 L1854,460 L1857,452 L1859,443 L1860,432 L1861,420 L1862,407 L1862,394 L1863,380 L1863,367 L1863,353 L1863,340 L1864,326 L1864,313 L1864,299 L1863,285 L1862,272 L1861,259 L1860,248 L1860,238 L1859,227 L1855,218 L1851,208 L1847,199 L1842,191 L1837,184 L1833,177 L1830,170 L1827,162 L1821,153 L1812,145 L1800,139 L1782,137Z" fill="#8ec750" fill-rule="evenodd"/>
<path d="M1780,122 L1804,125 L1819,133 L1830,143 L1836,153 L1839,162 L1841,170 L1846,177 L1850,185 L1855,194 L1859,203 L1863,213 L1866,223 L1866,235 L1866,246 L1866,258 L1867,271 L1867,285 L1867,299 L1867,312 L1866,326 L1865,340 L1865,353 L1864,367 L1863,380 L1863,394 L1863,407 L1862,420 L1861,432 L1860,443 L1858,452 L1855,461 L1851,467 L1847,473 L1842,477 L1837,480 L1831,482 L1826,483 L1820,482 L1815,480 L1809,478 L1803,476 L1797,473 L1792,470 L1787,466 L1783,461 L1778,456 L1775,449 L1772,441 L1769,430 L1767,417 L1766,400 L1765,379 L1764,354 L1764,330 L1764,307 L1764,283 L1764,263 L1763,246 L1763,232 L1763,219 L1758,208 L1754,198 L1748,187 L1746,176 L1745,165 L1744,156 L1746,148 L1757,134 L1780,122Z M1781,132 L1762,142 L1753,153 L1750,161 L1751,169 L1751,179 L1753,189 L1757,199 L1761,208 L1765,220 L1765,232 L1765,246 L1765,263 L1765,283 L1765,307 L1765,330 L1766,354 L1766,379 L1767,400 L1768,417 L1770,430 L1772,441 L1775,449 L1779,456 L1783,461 L1787,466 L1792,470 L1798,473 L1803,476 L1809,478 L1815,480 L1820,481 L1826,482 L1831,482 L1837,480 L1842,477 L1847,473 L1851,467 L1854,460 L1857,452 L1859,443 L1861,432 L1861,420 L1862,407 L1863,394 L1863,380 L1863,367 L1864,353 L1864,340 L1864,326 L1865,313 L1865,299 L1865,285 L1864,271 L1863,259 L1862,247 L1862,237 L1862,226 L1858,216 L1854,206 L1850,197 L1845,189 L1840,182 L1836,175 L1834,167 L1830,159 L1824,149 L1815,141 L1801,134 L1781,132Z" fill="#c0c639" fill-rule="evenodd"/>
<path d="M1779,116 L1805,120 L1822,128 L1833,139 L1840,150 L1843,160 L1845,168 L1849,175 L1854,183 L1858,191 L1862,201 L1866,211 L1869,222 L1869,234 L1869,245 L1868,257 L1869,270 L1869,284 L1869,299 L1868,312 L1867,326 L1865,340 L1865,353 L1865,367 L1864,380 L1863,394 L1863,407 L1862,420 L1861,432 L1860,443 L1858,453 L1855,461 L1851,467 L1847,473 L1842,477 L1837,480 L1831,482 L1826,483 L1820,482 L1815,480 L1809,479 L1803,476 L1797,473 L1792,470 L1787,466 L1782,461 L1778,456 L1774,450 L1771,441 L1768,430 L1766,417 L1765,400 L1764,379 L1764,354 L1763,330 L1763,307 L1763,283 L1763,263 L1762,246 L1762,232 L1761,219 L1757,208 L1751,197 L1746,187 L1743,175 L1741,163 L1740,153 L1743,144 L1754,130 L1779,116Z M1781,127 L1759,138 L1749,150 L1747,158 L1747,167 L1748,177 L1750,188 L1755,198 L1760,208 L1764,219 L1764,232 L1764,246 L1765,263 L1765,283 L1765,307 L1765,330 L1765,354 L1765,379 L1766,400 L1768,417 L1769,430 L1772,441 L1775,449 L1779,456 L1783,461 L1787,466 L1792,470 L1797,473 L1803,476 L1809,478 L1815,480 L1820,481 L1826,482 L1831,482 L1837,480 L1842,477 L1847,473 L1851,467 L1855,461 L1858,452 L1859,443 L1861,432 L1862,420 L1862,407 L1863,394 L1863,380 L1864,367 L1864,353 L1864,340 L1865,326 L1866,313 L1866,299 L1866,285 L1866,271 L1865,258 L1864,246 L1864,236 L1864,225 L1861,214 L1856,204 L1853,195 L1848,187 L1843,179 L1839,172 L1837,165 L1834,156 L1828,146 L1817,137 L1803,129 L1781,127Z" fill="#e9c438" fill-rule="evenodd"/>
<path d="M1778,110 L1806,114 L1825,123 L1837,134 L1844,146 L1847,156 L1848,165 L1853,172 L1857,180 L1862,189 L1865,199 L1869,209 L1872,220 L1872,232 L1872,244 L1871,256 L1872,270 L1871,284 L1870,298 L1869,312 L1868,326 L1866,340 L1866,353 L1865,367 L1864,380 L1864,394 L1863,407 L1862,420 L1861,432 L1860,443 L1858,453 L1855,461 L1852,468 L1847,473 L1842,477 L1837,481 L1831,483 L1826,483 L1820,482 L1815,481 L1809,479 L1803,476 L1797,473 L1792,470 L1787,466 L1782,461 L1778,456 L1774,450 L1770,441 L1768,430 L1766,417 L1764,400 L1763,379 L1762,354 L1762,330 L1762,307 L1762,283 L1762,263 L1761,246 L1760,232 L1760,219 L1754,208 L1748,197 L1743,186 L1739,173 L1737,161 L1735,150 L1738,140 L1750,125 L1778,110Z M1780,121 L1756,133 L1745,147 L1743,155 L1744,165 L1745,176 L1748,187 L1753,198 L1758,208 L1762,219 L1763,232 L1763,246 L1764,263 L1764,283 L1764,307 L1764,330 L1764,354 L1765,379 L1765,400 L1767,417 L1769,430 L1771,441 L1775,450 L1778,456 L1783,461 L1787,466 L1792,470 L1797,473 L1803,476 L1809,478 L1815,480 L1820,482 L1826,483 L1831,482 L1837,480 L1842,477 L1847,473 L1851,467 L1855,461 L1858,452 L1860,443 L1861,432 L1862,420 L1863,407 L1863,394 L1863,380 L1864,367 L1865,353 L1865,340 L1866,326 L1867,312 L1867,299 L1868,285 L1868,271 L1867,257 L1867,246 L1867,234 L1867,223 L1863,212 L1859,202 L1856,193 L1851,185 L1847,177 L1842,170 L1840,162 L1837,153 L1831,142 L1820,132 L1804,124 L1780,121Z" fill="#fdd12f" fill-rule="evenodd"/>
<path d="M1778,106 L1807,110 L1827,119 L1840,131 L1847,144 L1850,154 L1851,163 L1855,170 L1860,179 L1864,187 L1867,197 L1871,208 L1874,219 L1876,230 L1877,242 L1877,255 L1877,269 L1875,283 L1874,298 L1872,312 L1870,326 L1868,340 L1867,353 L1866,367 L1865,380 L1865,394 L1864,407 L1863,420 L1862,432 L1861,443 L1859,453 L1856,461 L1852,468 L1847,473 L1843,478 L1837,481 L1831,483 L1826,483 L1820,482 L1814,481 L1809,479 L1803,477 L1797,474 L1792,471 L1786,467 L1782,462 L1777,457 L1773,450 L1769,441 L1766,430 L1764,417 L1762,400 L1761,379 L1760,354 L1760,330 L1760,307 L1760,283 L1760,263 L1759,246 L1758,232 L1757,219 L1751,207 L1745,196 L1740,185 L1736,172 L1735,159 L1733,148 L1735,138 L1748,121 L1778,106Z M1779,114 L1753,128 L1741,143 L1738,152 L1740,162 L1741,174 L1745,186 L1750,197 L1756,208 L1761,219 L1761,232 L1762,246 L1763,263 L1763,283 L1763,307 L1763,330 L1763,354 L1764,379 L1764,400 L1766,417 L1768,430 L1771,441 L1774,450 L1778,456 L1782,461 L1787,466 L1792,470 L1797,473 L1803,476 L1809,479 L1815,480 L1820,482 L1826,483 L1831,482 L1837,481 L1842,477 L1847,473 L1851,467 L1855,461 L1858,453 L1860,443 L1861,432 L1862,420 L1863,407 L1864,394 L1864,380 L1865,367 L1865,353 L1866,340 L1867,326 L1869,312 L1869,298 L1870,284 L1870,270 L1870,257 L1870,244 L1870,233 L1870,221 L1867,210 L1863,200 L1859,191 L1855,182 L1850,174 L1846,167 L1844,159 L1841,149 L1835,137 L1823,127 L1805,118 L1779,114Z" fill="#faed1e" fill-rule="evenodd"/>
<polygon points="1788,177 1791,177 1794,179 1798,181 1802,185 1806,190 1810,195 1815,201 1820,208 1825,215 1830,222 1835,230 1840,238 1844,245 1847,253 1850,262 1853,274 1855,287 1857,300 1858,313 1859,327 1860,340 1861,353 1861,367 1861,380 1861,394 1861,407 1860,420 1859,432 1858,443 1856,452 1853,460 1850,467 1846,472 1841,476 1836,479 1831,481 1826,481 1820,480 1815,479 1809,477 1803,475 1798,472 1793,469 1788,465 1784,460 1780,455 1777,448 1775,440 1773,429 1772,416 1771,400 1770,379 1770,354 1770,330 1770,307 1770,283 1770,263 1770,246 1770,232 1771,220 1772,210 1773,202 1775,195 1777,190 1779,186 1781,183 1783,180 1785,178" fill="#3e26a8" stroke="#3e26a8" stroke-width="1.5"/>
<path d="M1895,160 L1900,160 L1906,162 L1912,165 L1917,169 L1921,174 L1926,182 L1931,191 L1936,202 L1940,212 L1945,222 L1950,233 L1955,243 L1959,253 L1963,263 L1966,274 L1969,285 L1972,297 L1975,309 L1977,321 L1978,333 L1980,345 L1981,356 L1983,368 L1983,380 L1984,392 L1983,404 L1983,415 L1982,426 L1981,436 L1979,445 L1976,452 L1972,458 L1968,462 L1965,466 L1961,468 L1958,468 L1955,467 L1951,464 L1948,460 L1944,455 L1940,449 L1935,441 L1929,430 L1922,416 L1916,402 L1910,387 L1903,372 L1898,355 L1893,337 L1888,318 L1885,300 L1883,286 L1882,273 L1881,260 L1881,246 L1881,233 L1881,220 L1881,209 L1881,198 L1882,189 L1883,182 L1883,176 L1884,171 L1886,167 L1889,163 L1895,160Z M1896,168 L1894,169 L1892,171 L1890,174 L1888,178 L1886,183 L1885,190 L1884,199 L1883,209 L1882,220 L1882,233 L1882,246 L1882,260 L1882,273 L1883,286 L1885,300 L1888,318 L1893,337 L1898,355 L1904,372 L1910,387 L1916,402 L1922,416 L1929,430 L1935,441 L1940,449 L1944,455 L1948,460 L1952,464 L1955,467 L1958,468 L1961,467 L1965,465 L1968,462 L1972,458 L1976,452 L1979,445 L1981,436 L1982,426 L1982,415 L1982,404 L1982,392 L1982,380 L1981,368 L1980,357 L1978,345 L1976,333 L1974,322 L1972,310 L1969,298 L1966,286 L1962,275 L1958,265 L1954,255 L1950,245 L1945,235 L1940,225 L1935,215 L1930,204 L1925,194 L1920,185 L1916,179 L1912,174 L1908,171 L1904,169 L1900,168 L1896,168Z" fill="#4031bb" fill-rule="evenodd"/>
<path d="M1894,156 L1901,156 L1908,158 L1914,162 L1920,167 L1924,172 L1929,180 L1934,189 L1938,200 L1943,211 L1948,221 L1953,231 L1957,242 L1961,252 L1965,262 L1968,273 L1971,285 L1973,297 L1976,309 L1978,321 L1979,333 L1981,345 L1982,356 L1983,368 L1984,380 L1984,392 L1984,404 L1983,415 L1982,426 L1981,436 L1980,445 L1976,452 L1972,458 L1968,462 L1965,466 L1961,468 L1958,468 L1955,467 L1951,464 L1948,460 L1944,455 L1940,449 L1935,441 L1929,430 L1922,416 L1916,402 L1909,387 L1903,372 L1898,355 L1893,337 L1888,318 L1885,300 L1882,286 L1881,273 L1881,260 L1880,246 L1880,233 L1880,220 L1880,209 L1880,198 L1881,189 L1881,182 L1881,175 L1881,170 L1883,165 L1887,160 L1894,156Z M1895,164 L1891,166 L1889,169 L1887,173 L1886,177 L1885,183 L1884,190 L1883,198 L1882,209 L1882,220 L1881,233 L1881,246 L1882,260 L1882,273 L1883,286 L1885,300 L1888,318 L1893,337 L1898,355 L1904,372 L1910,387 L1916,402 L1922,416 L1929,430 L1935,441 L1940,449 L1944,455 L1948,460 L1952,464 L1955,467 L1958,468 L1961,468 L1965,465 L1968,462 L1972,458 L1976,452 L1979,445 L1981,436 L1982,426 L1982,415 L1983,404 L1983,392 L1983,380 L1982,368 L1980,357 L1979,345 L1977,333 L1975,321 L1973,310 L1970,298 L1967,286 L1964,274 L1960,264 L1957,254 L1952,244 L1948,234 L1943,224 L1938,214 L1933,203 L1928,192 L1923,183 L1919,177 L1914,172 L1910,168 L1905,165 L1900,164 L1895,164Z" fill="#4647e1" fill-rule="evenodd"/>
<path d="M1893,152 L1901,152 L1909,154 L1916,158 L1922,164 L1927,170 L1932,178 L1937,188 L1941,199 L1946,210 L1951,220 L1955,230 L1960,241 L1963,251 L1967,261 L1970,272 L1972,284 L1975,297 L1977,309 L1979,321 L1980,333 L1981,345 L1983,356 L1984,368 L1984,380 L1984,392 L1984,404 L1983,415 L1983,426 L1982,436 L1980,445 L1976,452 L1972,458 L1968,462 L1965,466 L1961,468 L1958,468 L1955,467 L1951,464 L1948,460 L1944,455 L1940,449 L1935,441 L1929,430 L1922,416 L1916,402 L1909,387 L1903,372 L1898,355 L1893,337 L1888,318 L1884,300 L1882,286 L1881,273 L1880,260 L1880,246 L1880,233 L1880,220 L1879,208 L1879,198 L1880,189 L1879,181 L1879,175 L1878,168 L1880,163 L1885,156 L1893,152Z M1895,160 L1889,163 L1886,167 L1884,171 L1884,176 L1883,182 L1883,190 L1882,198 L1881,209 L1881,220 L1881,233 L1881,246 L1881,260 L1882,273 L1883,286 L1885,300 L1888,318 L1893,337 L1898,355 L1903,372 L1910,387 L1916,402 L1922,416 L1929,430 L1935,441 L1940,449 L1944,455 L1948,460 L1951,464 L1955,467 L1958,468 L1961,468 L1965,465 L1968,462 L1972,458 L1976,452 L1979,445 L1981,436 L1982,426 L1983,415 L1983,404 L1983,392 L1983,380 L1982,368 L1981,356 L1979,345 L1978,333 L1976,321 L1974,310 L1972,297 L1969,285 L1966,274 L1962,263 L1959,253 L1955,243 L1950,233 L1945,222 L1940,212 L1936,202 L1931,191 L1926,182 L1921,175 L1917,169 L1912,165 L1906,162 L1900,160 L1895,160Z" fill="#425ff5" fill-rule="evenodd"/>
<path d="M1892,148 L1902,148 L1910,150 L1919,155 L1925,161 L1930,168 L1935,176 L1940,186 L1944,197 L1949,208 L1953,218 L1958,229 L1962,239 L1966,250 L1969,261 L1972,272 L1974,284 L1976,296 L1978,309 L1980,321 L1981,333 L1982,344 L1983,356 L1984,368 L1985,380 L1985,392 L1985,404 L1984,415 L1983,426 L1982,436 L1980,445 L1977,452 L1972,458 L1968,462 L1965,466 L1961,468 L1958,468 L1955,467 L1951,464 L1948,460 L1944,455 L1940,449 L1935,441 L1929,430 L1922,417 L1916,402 L1909,387 L1903,372 L1898,355 L1892,337 L1888,318 L1884,300 L1882,286 L1881,273 L1880,260 L1879,246 L1879,233 L1879,220 L1879,208 L1878,198 L1878,189 L1877,181 L1877,174 L1875,167 L1877,161 L1883,153 L1892,148Z M1894,156 L1887,160 L1883,165 L1881,170 L1882,176 L1882,182 L1881,189 L1881,198 L1881,209 L1881,220 L1880,233 L1880,246 L1881,260 L1882,273 L1883,286 L1885,300 L1888,318 L1893,337 L1898,355 L1903,372 L1910,387 L1916,402 L1922,416 L1929,430 L1935,441 L1940,449 L1944,455 L1948,460 L1951,464 L1955,467 L1958,468 L1961,468 L1965,466 L1968,462 L1972,458 L1976,452 L1979,445 L1981,436 L1982,426 L1983,415 L1984,404 L1984,392 L1984,380 L1983,368 L1982,356 L1980,345 L1979,333 L1977,321 L1975,309 L1973,297 L1970,285 L1968,273 L1965,262 L1961,252 L1957,242 L1953,231 L1948,221 L1943,211 L1938,200 L1934,189 L1929,180 L1924,172 L1920,167 L1914,162 L1908,158 L1901,156 L1894,156Z" fill="#347af6" fill-rule="evenodd"/>
<path d="M1892,143 L1902,144 L1912,147 L1921,152 L1928,159 L1933,166 L1938,174 L1943,185 L1947,196 L1952,207 L1956,217 L1960,227 L1965,238 L1968,249 L1971,260 L1974,271 L1976,283 L1977,296 L1979,308 L1981,320 L1982,332 L1983,344 L1984,356 L1985,368 L1986,380 L1986,392 L1985,404 L1984,415 L1983,426 L1982,436 L1980,445 L1977,453 L1973,458 L1969,463 L1965,466 L1962,468 L1958,469 L1955,467 L1951,464 L1948,460 L1944,456 L1939,450 L1935,441 L1929,430 L1922,417 L1916,402 L1909,387 L1903,372 L1898,355 L1892,337 L1888,318 L1884,300 L1882,286 L1880,273 L1879,260 L1879,246 L1879,233 L1879,220 L1878,208 L1877,198 L1877,189 L1876,180 L1874,173 L1872,165 L1874,159 L1880,150 L1892,143Z M1893,152 L1885,156 L1880,163 L1878,168 L1879,175 L1880,181 L1880,189 L1880,198 L1880,209 L1880,220 L1880,233 L1880,246 L1880,260 L1881,273 L1882,286 L1885,300 L1888,318 L1893,337 L1898,355 L1903,372 L1909,387 L1916,402 L1922,416 L1929,430 L1935,441 L1940,449 L1944,455 L1948,460 L1951,464 L1955,467 L1958,468 L1961,468 L1965,466 L1968,462 L1972,458 L1976,452 L1980,445 L1982,436 L1983,426 L1983,415 L1984,404 L1984,392 L1984,380 L1984,368 L1982,356 L1981,345 L1980,333 L1978,321 L1976,309 L1974,297 L1972,284 L1970,272 L1967,261 L1963,251 L1960,241 L1955,230 L1951,220 L1946,210 L1941,199 L1937,188 L1932,178 L1927,170 L1922,164 L1916,158 L1909,154 L1901,152 L1893,152Z" fill="#2792ef" fill-rule="evenodd"/>
<path d="M1891,139 L1903,139 L1913,143 L1923,149 L1930,156 L1936,164 L1941,172 L1946,183 L1950,195 L1955,205 L1959,215 L1963,226 L1967,237 L1971,248 L1974,259 L1976,270 L1977,283 L1979,295 L1980,308 L1982,320 L1983,332 L1984,344 L1985,356 L1986,368 L1986,380 L1986,392 L1985,404 L1984,415 L1984,426 L1982,436 L1980,445 L1977,453 L1973,458 L1969,463 L1965,466 L1962,468 L1958,469 L1954,467 L1951,464 L1948,460 L1944,456 L1939,450 L1934,441 L1929,430 L1922,417 L1915,402 L1909,387 L1903,372 L1897,355 L1892,337 L1888,318 L1884,300 L1882,286 L1880,273 L1879,260 L1878,246 L1878,233 L1878,220 L1877,208 L1876,198 L1875,188 L1874,180 L1872,172 L1869,164 L1871,156 L1878,146 L1891,139Z M1892,147 L1883,153 L1877,161 L1875,167 L1877,174 L1878,181 L1879,189 L1879,198 L1879,208 L1880,220 L1879,233 L1880,246 L1880,260 L1881,273 L1882,286 L1884,300 L1888,318 L1892,337 L1898,355 L1903,372 L1909,387 L1916,402 L1922,417 L1929,430 L1935,441 L1940,449 L1944,455 L1948,460 L1951,464 L1955,467 L1958,468 L1961,468 L1965,466 L1968,462 L1972,458 L1977,452 L1980,445 L1982,436 L1983,426 L1984,415 L1984,404 L1985,392 L1985,380 L1984,368 L1983,356 L1982,344 L1981,333 L1979,321 L1977,309 L1976,296 L1974,284 L1972,272 L1969,260 L1966,250 L1962,239 L1958,229 L1953,218 L1949,208 L1944,197 L1940,186 L1935,176 L1930,168 L1925,161 L1919,155 L1911,150 L1902,148 L1892,147Z" fill="#19a7de" fill-rule="evenodd"/>
<path d="M1890,134 L1903,135 L1915,139 L1925,145 L1933,153 L1939,161 L1944,171 L1949,181 L1954,193 L1958,204 L1962,214 L1966,225 L1970,236 L1973,247 L1976,258 L1979,269 L1979,282 L1980,295 L1982,308 L1983,320 L1984,332 L1985,344 L1986,356 L1987,368 L1987,380 L1987,392 L1986,404 L1985,415 L1984,426 L1983,436 L1980,445 L1977,453 L1973,458 L1969,463 L1965,466 L1962,468 L1958,469 L1954,467 L1951,464 L1947,460 L1944,456 L1939,450 L1934,441 L1928,430 L1922,417 L1915,402 L1909,387 L1903,372 L1897,355 L1892,337 L1887,318 L1884,300 L1881,286 L1880,273 L1878,260 L1878,246 L1878,233 L1878,220 L1876,208 L1875,198 L1874,188 L1872,179 L1869,171 L1866,162 L1868,154 L1876,143 L1890,134Z M1892,143 L1880,150 L1874,159 L1872,165 L1874,173 L1876,180 L1877,189 L1878,198 L1878,208 L1879,220 L1879,233 L1879,246 L1880,260 L1881,273 L1882,286 L1884,300 L1888,318 L1892,337 L1898,355 L1903,372 L1909,387 L1916,402 L1922,417 L1929,430 L1935,441 L1939,449 L1944,456 L1948,460 L1951,464 L1955,467 L1958,468 L1962,468 L1965,466 L1969,463 L1973,458 L1977,452 L1980,445 L1982,436 L1983,426 L1984,415 L1985,404 L1985,392 L1985,380 L1985,368 L1984,356 L1983,344 L1982,332 L1980,321 L1979,308 L1977,296 L1976,283 L1974,271 L1971,260 L1968,249 L1965,238 L1961,227 L1956,217 L1952,207 L1947,196 L1943,185 L1938,174 L1933,166 L1928,158 L1921,152 L1912,146 L1902,144 L1892,143Z" fill="#1bb7c6" fill-rule="evenodd"/>
<path d="M1889,130 L1904,131 L1916,135 L1928,142 L1936,150 L1942,159 L1948,169 L1952,180 L1957,191 L1961,202 L1965,213 L1969,223 L1973,235 L1976,246 L1978,257 L1981,269 L1981,282 L1982,295 L1983,307 L1984,320 L1985,332 L1986,344 L1987,356 L1987,368 L1988,380 L1987,392 L1986,404 L1985,415 L1984,426 L1983,436 L1981,445 L1977,453 L1973,458 L1969,463 L1965,466 L1962,468 L1958,469 L1954,467 L1951,465 L1947,461 L1943,456 L1939,450 L1934,441 L1928,430 L1922,417 L1915,402 L1909,388 L1903,372 L1897,355 L1892,337 L1887,318 L1884,300 L1881,286 L1879,273 L1878,260 L1877,246 L1877,233 L1877,220 L1875,208 L1874,197 L1872,188 L1869,179 L1866,170 L1863,161 L1865,152 L1873,139 L1889,130Z M1891,139 L1878,146 L1871,156 L1869,164 L1872,172 L1874,180 L1876,188 L1876,198 L1877,208 L1878,220 L1878,233 L1879,246 L1879,260 L1880,273 L1882,286 L1884,300 L1888,318 L1892,337 L1897,355 L1903,372 L1909,387 L1915,402 L1922,417 L1929,430 L1934,441 L1939,450 L1944,456 L1948,460 L1951,464 L1954,467 L1958,469 L1962,468 L1965,466 L1969,463 L1973,458 L1977,453 L1980,445 L1982,436 L1983,426 L1984,415 L1985,404 L1986,392 L1986,380 L1986,368 L1985,356 L1984,344 L1983,332 L1982,320 L1980,308 L1979,296 L1977,283 L1977,270 L1974,259 L1971,248 L1967,237 L1963,226 L1959,215 L1955,205 L1951,194 L1946,183 L1941,172 L1936,163 L1931,156 L1923,148 L1913,142 L1903,139 L1891,139Z" fill="#2ec2a7" fill-rule="evenodd"/>
<path d="M1889,125 L1904,126 L1918,130 L1930,138 L1939,147 L1946,156 L1951,167 L1956,178 L1960,190 L1964,201 L1968,211 L1972,222 L1975,233 L1978,245 L1981,256 L1983,268 L1983,281 L1984,294 L1985,307 L1986,320 L1987,332 L1987,344 L1988,356 L1988,368 L1988,380 L1988,392 L1987,404 L1986,415 L1985,426 L1983,436 L1981,446 L1977,453 L1973,459 L1969,463 L1965,466 L1962,468 L1958,469 L1954,468 L1951,465 L1947,461 L1943,456 L1939,450 L1934,441 L1928,430 L1922,417 L1915,402 L1909,388 L1903,372 L1897,355 L1892,337 L1887,318 L1884,300 L1881,286 L1879,273 L1877,260 L1877,246 L1876,233 L1876,220 L1874,208 L1872,197 L1870,187 L1867,178 L1864,169 L1859,159 L1861,150 L1871,136 L1889,125Z M1890,134 L1876,143 L1867,154 L1866,162 L1869,171 L1872,179 L1874,188 L1875,198 L1876,208 L1878,220 L1878,233 L1878,246 L1879,260 L1880,273 L1881,286 L1884,300 L1888,318 L1892,337 L1897,355 L1903,372 L1909,387 L1915,402 L1922,417 L1928,430 L1934,441 L1939,450 L1944,456 L1947,460 L1951,464 L1954,467 L1958,469 L1962,468 L1965,466 L1969,463 L1973,458 L1977,453 L1980,445 L1983,436 L1984,426 L1985,415 L1986,404 L1987,392 L1987,380 L1987,368 L1986,356 L1985,344 L1984,332 L1983,320 L1981,308 L1980,295 L1979,282 L1979,269 L1976,258 L1973,247 L1970,236 L1966,225 L1962,214 L1958,204 L1954,193 L1949,181 L1945,170 L1939,161 L1933,153 L1925,145 L1915,138 L1903,135 L1890,134Z" fill="#54c880" fill-rule="evenodd"/>
<path d="M1888,120 L1905,121 L1919,126 L1933,134 L1942,144 L1949,154 L1955,164 L1959,176 L1964,188 L1967,199 L1971,209 L1975,220 L1978,232 L1981,244 L1984,255 L1986,267 L1986,280 L1986,294 L1986,307 L1987,319 L1988,332 L1988,344 L1989,355 L1989,367 L1989,380 L1989,392 L1988,404 L1986,415 L1985,426 L1983,437 L1981,446 L1978,453 L1973,459 L1969,463 L1965,466 L1962,469 L1958,469 L1954,468 L1951,465 L1947,461 L1943,456 L1939,450 L1934,442 L1928,430 L1922,417 L1915,402 L1909,388 L1903,372 L1897,355 L1892,337 L1887,318 L1883,300 L1880,286 L1878,273 L1877,260 L1876,246 L1876,233 L1876,220 L1873,208 L1871,197 L1868,187 L1865,177 L1860,168 L1856,157 L1858,147 L1868,132 L1888,120Z M1889,129 L1873,139 L1864,152 L1862,160 L1866,170 L1869,179 L1872,188 L1874,197 L1875,208 L1877,220 L1877,233 L1877,246 L1878,260 L1879,273 L1881,286 L1884,300 L1887,318 L1892,337 L1897,355 L1903,372 L1909,388 L1915,402 L1922,417 L1928,430 L1934,441 L1939,450 L1943,456 L1947,461 L1951,465 L1954,467 L1958,469 L1962,468 L1965,466 L1969,463 L1973,458 L1977,453 L1981,445 L1983,436 L1984,426 L1985,415 L1986,404 L1987,392 L1988,380 L1987,368 L1987,356 L1986,344 L1985,332 L1984,320 L1983,308 L1982,295 L1981,281 L1981,268 L1979,257 L1976,246 L1973,234 L1969,223 L1965,212 L1961,202 L1957,191 L1953,180 L1948,168 L1943,158 L1936,150 L1928,141 L1916,134 L1904,130 L1889,129Z" fill="#8ec750" fill-rule="evenodd"/>
<path d="M1887,115 L1905,116 L1921,121 L1935,130 L1945,140 L1953,151 L1958,162 L1963,174 L1967,186 L1971,197 L1974,208 L1978,219 L1981,231 L1984,242 L1986,254 L1988,266 L1988,279 L1988,293 L1988,306 L1989,319 L1990,331 L1990,343 L1990,355 L1991,367 L1990,380 L1990,392 L1988,404 L1987,415 L1985,426 L1984,437 L1981,446 L1978,453 L1973,459 L1969,463 L1966,467 L1962,469 L1958,469 L1954,468 L1951,465 L1947,461 L1943,456 L1939,450 L1934,442 L1928,430 L1921,417 L1915,402 L1909,388 L1902,372 L1897,355 L1892,337 L1887,318 L1883,300 L1880,286 L1878,273 L1876,260 L1875,246 L1875,233 L1875,220 L1872,208 L1869,197 L1866,187 L1862,177 L1857,166 L1852,155 L1854,145 L1865,128 L1887,115Z M1888,124 L1870,135 L1861,149 L1859,159 L1863,169 L1867,178 L1870,187 L1872,197 L1874,208 L1876,220 L1876,233 L1877,246 L1877,260 L1879,273 L1881,286 L1884,300 L1887,318 L1892,337 L1897,355 L1903,372 L1909,388 L1915,402 L1922,417 L1928,430 L1934,441 L1939,450 L1943,456 L1947,461 L1951,465 L1954,468 L1958,469 L1962,468 L1965,466 L1969,463 L1973,459 L1977,453 L1981,446 L1983,436 L1985,426 L1986,415 L1987,404 L1988,392 L1989,380 L1988,368 L1988,356 L1987,344 L1987,332 L1986,320 L1985,307 L1984,294 L1984,281 L1984,268 L1981,256 L1979,245 L1976,233 L1972,222 L1968,211 L1964,200 L1961,190 L1956,178 L1952,166 L1946,156 L1940,146 L1930,137 L1918,130 L1904,125 L1888,124Z" fill="#c0c639" fill-rule="evenodd"/>
<path d="M1886,109 L1906,111 L1923,116 L1938,126 L1949,137 L1956,148 L1962,160 L1967,172 L1971,184 L1975,195 L1978,206 L1981,217 L1985,229 L1987,241 L1989,253 L1991,265 L1991,279 L1991,292 L1991,306 L1991,319 L1992,331 L1992,343 L1992,355 L1992,367 L1992,379 L1991,392 L1989,404 L1987,415 L1986,426 L1984,437 L1982,446 L1978,453 L1974,459 L1969,463 L1966,467 L1962,469 L1958,469 L1954,468 L1951,465 L1947,461 L1943,456 L1939,450 L1934,442 L1928,430 L1921,417 L1915,403 L1908,388 L1902,372 L1897,355 L1891,337 L1887,318 L1883,300 L1880,286 L1877,273 L1875,260 L1874,246 L1874,232 L1874,220 L1870,208 L1867,196 L1864,186 L1858,176 L1853,165 L1848,153 L1850,142 L1862,123 L1886,109Z M1888,119 L1868,131 L1857,147 L1855,157 L1860,167 L1864,177 L1868,187 L1870,197 L1873,208 L1876,220 L1876,233 L1876,246 L1877,260 L1878,273 L1880,286 L1883,300 L1887,318 L1892,337 L1897,355 L1903,372 L1909,388 L1915,402 L1922,417 L1928,430 L1934,442 L1939,450 L1943,456 L1947,461 L1951,465 L1954,468 L1958,469 L1962,469 L1965,466 L1969,463 L1973,459 L1978,453 L1981,446 L1984,437 L1985,426 L1986,415 L1988,404 L1989,392 L1990,380 L1990,367 L1989,355 L1989,343 L1988,331 L1988,319 L1987,307 L1986,293 L1986,280 L1986,267 L1984,255 L1982,243 L1979,232 L1975,220 L1971,209 L1968,199 L1964,188 L1960,176 L1955,164 L1950,153 L1943,143 L1933,133 L1920,125 L1905,120 L1888,119Z" fill="#e9c438" fill-rule="evenodd"/>
<path d="M1885,103 L1907,104 L1925,111 L1941,121 L1953,133 L1961,145 L1967,157 L1972,170 L1976,182 L1979,193 L1982,204 L1985,215 L1988,227 L1991,240 L1992,252 L1994,264 L1994,278 L1994,291 L1994,305 L1994,318 L1994,331 L1994,343 L1994,355 L1994,367 L1993,379 L1992,392 L1990,404 L1988,415 L1987,426 L1985,437 L1982,446 L1978,453 L1974,459 L1970,464 L1966,467 L1962,469 L1958,470 L1954,468 L1950,465 L1947,461 L1943,456 L1939,450 L1934,442 L1928,430 L1921,417 L1915,403 L1908,388 L1902,372 L1896,355 L1891,337 L1886,318 L1883,300 L1879,286 L1876,273 L1874,260 L1873,246 L1873,232 L1872,220 L1868,208 L1864,196 L1860,186 L1854,175 L1849,163 L1844,151 L1846,139 L1859,119 L1885,103Z M1887,114 L1865,127 L1853,144 L1851,155 L1856,166 L1861,176 L1865,186 L1868,197 L1871,208 L1875,220 L1875,233 L1875,246 L1876,260 L1878,273 L1880,286 L1883,300 L1887,318 L1892,337 L1897,355 L1902,372 L1909,388 L1915,402 L1921,417 L1928,430 L1934,442 L1939,450 L1943,456 L1947,461 L1951,465 L1954,468 L1958,469 L1962,469 L1966,467 L1969,463 L1974,459 L1978,453 L1981,446 L1984,437 L1986,426 L1987,415 L1989,404 L1990,392 L1991,379 L1991,367 L1991,355 L1990,343 L1990,331 L1990,319 L1989,306 L1989,293 L1989,279 L1989,266 L1987,254 L1985,242 L1982,230 L1979,218 L1975,207 L1972,197 L1968,186 L1964,174 L1959,162 L1954,150 L1946,140 L1936,129 L1922,120 L1905,115 L1887,114Z" fill="#fdd12f" fill-rule="evenodd"/>
<path d="M1884,99 L1907,100 L1926,107 L1944,118 L1956,130 L1964,143 L1970,155 L1975,168 L1979,181 L1982,192 L1984,202 L1988,214 L1991,226 L1993,239 L1995,251 L1996,263 L1998,277 L1999,290 L1999,304 L1999,317 L1999,330 L1998,342 L1997,354 L1997,367 L1996,379 L1994,392 L1992,404 L1990,415 L1988,426 L1986,437 L1983,446 L1979,454 L1975,460 L1970,464 L1966,467 L1962,470 L1958,470 L1954,468 L1950,465 L1946,461 L1943,456 L1938,450 L1933,442 L1927,431 L1921,417 L1914,403 L1908,388 L1902,372 L1896,356 L1891,337 L1886,318 L1882,300 L1878,286 L1875,273 L1872,260 L1871,246 L1870,232 L1870,219 L1864,207 L1859,196 L1853,184 L1848,173 L1844,161 L1841,150 L1843,137 L1857,115 L1884,99Z M1886,107 L1861,122 L1848,141 L1847,153 L1852,164 L1857,175 L1862,186 L1865,196 L1869,208 L1873,220 L1873,232 L1874,246 L1875,260 L1877,273 L1879,286 L1883,300 L1886,318 L1891,337 L1897,355 L1902,372 L1908,388 L1915,403 L1921,417 L1928,430 L1934,442 L1939,450 L1943,456 L1947,461 L1951,465 L1954,468 L1958,469 L1962,469 L1966,467 L1970,464 L1974,459 L1978,453 L1982,446 L1985,437 L1986,426 L1988,415 L1990,404 L1991,392 L1992,379 L1993,367 L1993,355 L1993,343 L1993,331 L1993,318 L1992,305 L1992,292 L1992,278 L1992,265 L1990,252 L1988,240 L1986,229 L1983,217 L1979,205 L1976,195 L1973,184 L1969,171 L1964,159 L1958,147 L1950,136 L1939,124 L1924,114 L1906,109 L1886,107Z" fill="#faed1e" fill-rule="evenodd"/>
<polygon points="1896,168 1900,168 1904,169 1908,171 1912,174 1916,179 1920,185 1925,194 1930,204 1935,215 1940,225 1945,235 1950,245 1954,255 1958,265 1962,275 1966,286 1969,298 1972,310 1974,322 1976,333 1978,345 1980,357 1981,368 1982,380 1982,392 1982,404 1982,415 1982,426 1981,436 1979,445 1976,452 1972,458 1968,462 1965,465 1961,467 1958,468 1955,467 1952,464 1948,460 1944,455 1940,449 1935,441 1929,430 1922,416 1916,402 1910,387 1904,372 1898,355 1893,337 1888,318 1885,300 1883,286 1882,273 1882,260 1882,246 1882,233 1882,220 1883,209 1884,199 1885,190 1886,183 1888,178 1890,174 1892,171 1894,169" fill="#3e26a8" stroke="#3e26a8" stroke-width="1.5"/>
<path d="M2010,154 L2017,155 L2022,158 L2027,162 L2031,166 L2036,172 L2040,178 L2044,185 L2049,193 L2054,202 L2058,212 L2063,222 L2067,233 L2072,243 L2077,253 L2081,263 L2084,274 L2087,284 L2090,294 L2092,302 L2094,311 L2096,319 L2097,329 L2098,340 L2099,350 L2100,360 L2100,370 L2100,380 L2100,392 L2100,404 L2099,415 L2098,425 L2096,433 L2094,440 L2093,445 L2090,449 L2088,452 L2086,455 L2083,457 L2080,458 L2076,457 L2071,455 L2066,452 L2061,448 L2056,442 L2051,435 L2046,426 L2040,416 L2035,405 L2029,394 L2022,383 L2016,370 L2010,355 L2006,340 L2002,325 L1999,313 L1997,302 L1996,290 L1996,277 L1996,263 L1996,250 L1996,238 L1997,226 L1997,215 L1998,204 L1998,193 L1999,184 L1999,178 L1999,172 L1999,168 L2000,163 L2003,158 L2010,154Z M2011,163 L2009,164 L2007,167 L2006,170 L2005,174 L2004,179 L2003,185 L2002,194 L2000,204 L1999,215 L1998,226 L1997,238 L1997,250 L1997,263 L1997,277 L1997,290 L1998,302 L1999,313 L2002,325 L2006,340 L2011,355 L2016,370 L2022,383 L2029,394 L2035,405 L2041,416 L2046,426 L2051,435 L2056,442 L2061,448 L2066,452 L2071,455 L2076,457 L2080,458 L2083,457 L2086,455 L2088,452 L2090,449 L2092,445 L2094,440 L2096,433 L2097,425 L2098,415 L2099,404 L2099,392 L2099,380 L2099,370 L2098,360 L2097,350 L2096,340 L2095,330 L2093,320 L2091,311 L2089,304 L2086,295 L2083,285 L2080,275 L2076,265 L2072,255 L2067,245 L2062,235 L2057,225 L2053,214 L2048,205 L2043,196 L2039,189 L2034,182 L2030,176 L2026,172 L2022,168 L2018,165 L2014,163 L2011,163Z" fill="#4031bb" fill-rule="evenodd"/>
<path d="M2009,150 L2018,151 L2024,155 L2030,159 L2034,164 L2038,170 L2043,176 L2047,183 L2052,192 L2056,201 L2061,211 L2066,221 L2070,231 L2074,241 L2079,252 L2083,262 L2087,273 L2090,283 L2092,293 L2094,302 L2095,310 L2097,319 L2098,329 L2099,339 L2100,350 L2100,360 L2101,370 L2101,380 L2101,392 L2100,404 L2099,415 L2098,425 L2096,433 L2095,440 L2093,445 L2091,449 L2088,452 L2086,455 L2083,457 L2080,458 L2076,458 L2071,455 L2066,452 L2061,448 L2056,442 L2051,435 L2046,426 L2040,416 L2035,405 L2028,394 L2022,383 L2016,370 L2010,355 L2005,340 L2002,325 L1999,313 L1997,302 L1996,290 L1995,277 L1995,263 L1995,250 L1996,238 L1996,226 L1997,215 L1997,204 L1997,193 L1996,184 L1996,177 L1996,172 L1996,167 L1997,162 L2000,155 L2009,150Z M2010,159 L2006,161 L2004,165 L2003,169 L2002,173 L2001,178 L2001,185 L2000,193 L1999,204 L1998,215 L1998,226 L1997,238 L1997,250 L1996,263 L1996,277 L1997,290 L1998,302 L1999,313 L2002,325 L2006,340 L2011,355 L2016,370 L2022,383 L2029,394 L2035,405 L2041,416 L2046,426 L2051,435 L2056,442 L2061,448 L2066,452 L2071,455 L2076,457 L2080,458 L2083,457 L2086,455 L2088,452 L2090,449 L2092,445 L2094,440 L2096,433 L2097,425 L2098,415 L2099,404 L2099,392 L2100,380 L2099,370 L2099,360 L2098,350 L2097,340 L2096,329 L2094,320 L2092,311 L2090,303 L2088,294 L2085,285 L2082,274 L2078,264 L2074,254 L2069,244 L2065,234 L2060,224 L2055,213 L2051,204 L2046,195 L2041,187 L2037,180 L2033,174 L2029,169 L2024,165 L2020,162 L2015,159 L2010,159Z" fill="#4647e1" fill-rule="evenodd"/>
<path d="M2009,145 L2019,147 L2026,151 L2032,156 L2037,161 L2041,167 L2046,174 L2050,181 L2055,190 L2059,199 L2064,209 L2068,220 L2073,230 L2077,240 L2082,250 L2086,261 L2089,272 L2092,283 L2094,292 L2095,302 L2097,310 L2098,319 L2099,329 L2100,339 L2100,350 L2101,360 L2101,369 L2101,380 L2101,392 L2100,404 L2099,415 L2098,425 L2097,433 L2095,440 L2093,445 L2091,449 L2088,452 L2086,455 L2083,457 L2080,458 L2076,458 L2071,456 L2066,452 L2061,448 L2056,442 L2051,435 L2046,426 L2040,416 L2035,405 L2028,394 L2022,383 L2016,370 L2010,355 L2005,340 L2001,325 L1999,313 L1997,302 L1995,290 L1995,277 L1995,263 L1995,250 L1995,238 L1996,226 L1996,215 L1996,204 L1995,193 L1994,184 L1993,177 L1993,171 L1993,166 L1994,160 L1997,152 L2009,145Z M2010,154 L2003,158 L2001,163 L1999,168 L1999,172 L1999,178 L1999,184 L1999,193 L1998,204 L1998,215 L1997,226 L1996,238 L1996,250 L1996,263 L1996,277 L1996,290 L1997,302 L1999,313 L2002,325 L2006,340 L2010,355 L2016,370 L2022,383 L2029,394 L2035,405 L2040,416 L2046,426 L2051,435 L2056,442 L2061,448 L2066,452 L2071,455 L2076,457 L2080,458 L2083,457 L2086,455 L2088,452 L2090,449 L2092,445 L2094,440 L2096,433 L2097,425 L2099,415 L2099,404 L2100,392 L2100,380 L2100,370 L2099,360 L2098,350 L2098,340 L2096,329 L2095,320 L2094,311 L2092,303 L2090,294 L2087,284 L2084,274 L2081,263 L2077,253 L2072,243 L2067,233 L2063,222 L2058,212 L2054,202 L2049,193 L2044,185 L2040,178 L2036,172 L2031,166 L2027,162 L2022,158 L2017,155 L2010,154Z" fill="#425ff5" fill-rule="evenodd"/>
<path d="M2008,141 L2021,143 L2029,147 L2035,152 L2040,158 L2044,165 L2049,172 L2053,179 L2058,188 L2062,198 L2067,208 L2071,218 L2075,229 L2080,239 L2084,249 L2088,260 L2091,271 L2094,282 L2096,292 L2097,301 L2098,310 L2099,319 L2100,329 L2101,339 L2101,350 L2102,359 L2102,369 L2102,380 L2102,392 L2101,404 L2100,415 L2098,425 L2097,433 L2095,440 L2093,445 L2091,449 L2089,452 L2086,455 L2083,458 L2080,458 L2076,458 L2071,456 L2066,452 L2061,448 L2056,442 L2051,435 L2045,426 L2040,416 L2035,405 L2028,394 L2022,383 L2016,370 L2010,356 L2005,340 L2001,325 L1998,313 L1996,302 L1995,290 L1994,277 L1994,263 L1994,250 L1995,238 L1995,226 L1996,215 L1995,203 L1994,193 L1992,183 L1991,176 L1990,170 L1989,164 L1990,158 L1994,149 L2008,141Z M2009,150 L2000,155 L1997,162 L1996,167 L1996,172 L1996,177 L1996,184 L1997,193 L1997,204 L1997,215 L1996,226 L1996,238 L1996,250 L1995,263 L1995,277 L1996,290 L1997,302 L1999,313 L2002,325 L2006,340 L2010,355 L2016,370 L2022,383 L2029,394 L2035,405 L2040,416 L2046,426 L2051,435 L2056,442 L2061,448 L2066,452 L2071,455 L2076,458 L2080,458 L2083,457 L2086,455 L2088,452 L2091,449 L2093,445 L2094,440 L2096,433 L2098,425 L2099,415 L2100,404 L2100,392 L2101,380 L2100,370 L2100,360 L2099,350 L2098,340 L2097,329 L2096,319 L2095,310 L2093,302 L2092,293 L2090,283 L2087,273 L2083,262 L2079,252 L2074,241 L2070,231 L2066,221 L2061,211 L2056,201 L2052,192 L2047,183 L2043,176 L2038,170 L2034,164 L2030,159 L2024,155 L2018,151 L2009,150Z" fill="#347af6" fill-rule="evenodd"/>
<path d="M2008,136 L2022,139 L2031,143 L2037,149 L2043,156 L2047,162 L2052,170 L2056,178 L2061,186 L2065,196 L2070,206 L2074,217 L2078,227 L2082,237 L2087,248 L2091,259 L2094,270 L2096,281 L2098,291 L2099,300 L2099,309 L2100,319 L2101,329 L2102,339 L2102,349 L2103,359 L2103,369 L2103,380 L2102,392 L2101,404 L2100,415 L2099,425 L2097,433 L2095,440 L2093,446 L2091,449 L2089,452 L2086,455 L2083,458 L2080,459 L2076,458 L2071,456 L2066,452 L2061,448 L2056,442 L2051,435 L2045,426 L2040,416 L2035,405 L2028,394 L2022,383 L2016,370 L2010,356 L2005,340 L2001,325 L1998,313 L1996,302 L1994,290 L1994,277 L1994,263 L1994,250 L1994,238 L1994,226 L1995,215 L1994,203 L1992,192 L1990,183 L1988,176 L1987,170 L1986,163 L1986,157 L1991,146 L2008,136Z M2009,145 L1997,152 L1993,160 L1993,166 L1993,171 L1993,177 L1994,184 L1996,193 L1996,204 L1997,215 L1996,226 L1995,238 L1995,250 L1995,263 L1995,277 L1995,290 L1997,302 L1999,313 L2002,325 L2005,340 L2010,355 L2016,370 L2022,383 L2028,394 L2035,405 L2040,416 L2046,426 L2051,435 L2056,442 L2061,448 L2066,452 L2071,456 L2076,458 L2080,458 L2083,457 L2086,455 L2088,452 L2091,449 L2093,445 L2095,440 L2096,433 L2098,425 L2099,415 L2100,404 L2101,392 L2101,380 L2101,369 L2101,360 L2100,350 L2099,339 L2099,329 L2097,319 L2096,310 L2095,302 L2094,292 L2092,283 L2089,272 L2086,261 L2082,250 L2077,240 L2073,230 L2068,220 L2064,209 L2059,199 L2055,190 L2050,181 L2046,174 L2041,167 L2037,161 L2032,156 L2026,151 L2019,147 L2009,145Z" fill="#2792ef" fill-rule="evenodd"/>
<path d="M2007,132 L2023,134 L2033,140 L2040,146 L2046,153 L2051,160 L2055,167 L2059,176 L2064,185 L2068,194 L2073,205 L2077,216 L2081,226 L2085,236 L2089,247 L2094,258 L2096,269 L2099,280 L2100,291 L2101,300 L2101,309 L2101,318 L2102,329 L2103,339 L2103,349 L2103,359 L2103,369 L2103,380 L2103,392 L2102,404 L2100,415 L2099,425 L2097,433 L2095,440 L2093,446 L2091,449 L2089,453 L2086,455 L2084,458 L2080,459 L2076,458 L2071,456 L2066,452 L2061,448 L2056,442 L2050,435 L2045,426 L2040,416 L2034,405 L2028,394 L2022,383 L2015,370 L2010,356 L2005,340 L2001,325 L1998,313 L1996,302 L1994,290 L1993,277 L1993,263 L1993,250 L1993,238 L1994,226 L1994,215 L1992,203 L1990,192 L1987,183 L1985,175 L1983,169 L1982,162 L1983,155 L1988,143 L2007,132Z M2008,141 L1994,149 L1990,158 L1989,164 L1990,170 L1991,176 L1992,183 L1994,193 L1995,203 L1996,215 L1995,226 L1995,238 L1995,250 L1994,263 L1994,277 L1995,290 L1996,302 L1998,313 L2001,325 L2005,340 L2010,356 L2016,370 L2022,383 L2028,394 L2035,405 L2040,416 L2046,426 L2051,435 L2056,442 L2061,448 L2066,452 L2071,456 L2076,458 L2080,458 L2083,458 L2086,455 L2088,452 L2091,449 L2093,445 L2095,440 L2097,433 L2098,425 L2100,415 L2101,404 L2101,392 L2102,380 L2102,369 L2101,360 L2101,350 L2100,339 L2100,329 L2098,319 L2098,310 L2097,301 L2096,292 L2094,282 L2092,271 L2088,260 L2084,249 L2080,239 L2075,229 L2071,218 L2067,208 L2062,198 L2058,188 L2053,179 L2049,172 L2044,165 L2040,158 L2035,152 L2029,147 L2021,143 L2008,141Z" fill="#19a7de" fill-rule="evenodd"/>
<path d="M2006,127 L2025,130 L2035,136 L2043,143 L2049,150 L2054,157 L2058,165 L2062,174 L2067,183 L2071,193 L2076,204 L2080,214 L2084,225 L2088,235 L2092,246 L2096,257 L2099,269 L2101,280 L2103,290 L2102,299 L2102,308 L2103,318 L2103,328 L2104,339 L2104,349 L2104,359 L2104,369 L2104,380 L2103,392 L2102,404 L2101,415 L2099,425 L2097,433 L2095,440 L2093,446 L2091,450 L2089,453 L2086,456 L2084,458 L2080,459 L2076,458 L2071,456 L2066,453 L2061,448 L2056,442 L2050,435 L2045,426 L2040,416 L2034,405 L2028,394 L2021,383 L2015,370 L2010,356 L2005,340 L2001,325 L1998,313 L1995,302 L1993,290 L1993,277 L1993,263 L1993,250 L1993,238 L1993,226 L1993,214 L1991,203 L1989,192 L1985,182 L1982,175 L1980,168 L1978,161 L1979,153 L1985,140 L2006,127Z M2007,136 L1991,146 L1986,156 L1985,163 L1986,170 L1988,176 L1989,183 L1992,192 L1994,203 L1995,215 L1995,226 L1994,238 L1994,250 L1994,263 L1994,277 L1995,290 L1996,302 L1998,313 L2001,325 L2005,340 L2010,356 L2016,370 L2022,383 L2028,394 L2035,405 L2040,416 L2045,426 L2051,435 L2056,442 L2061,448 L2066,452 L2071,456 L2076,458 L2080,458 L2083,458 L2086,455 L2089,452 L2091,449 L2093,446 L2095,440 L2097,433 L2099,425 L2100,415 L2101,404 L2102,392 L2102,380 L2103,369 L2102,359 L2102,350 L2101,339 L2101,329 L2100,319 L2099,309 L2099,301 L2098,291 L2096,281 L2094,270 L2091,259 L2087,248 L2083,237 L2078,227 L2074,217 L2070,206 L2065,196 L2061,186 L2056,177 L2052,170 L2048,162 L2043,156 L2038,149 L2031,143 L2022,138 L2007,136Z" fill="#1bb7c6" fill-rule="evenodd"/>
<path d="M2006,122 L2026,125 L2038,132 L2046,139 L2052,147 L2057,155 L2061,163 L2066,171 L2070,181 L2074,191 L2079,202 L2083,213 L2087,223 L2091,233 L2095,244 L2099,256 L2102,268 L2104,279 L2105,289 L2104,299 L2104,308 L2104,318 L2105,328 L2105,339 L2105,349 L2105,359 L2105,369 L2105,380 L2104,392 L2103,404 L2101,415 L2100,425 L2098,433 L2096,440 L2094,446 L2091,450 L2089,453 L2086,456 L2084,458 L2080,459 L2076,458 L2071,456 L2066,453 L2061,448 L2055,443 L2050,435 L2045,427 L2040,416 L2034,405 L2028,394 L2021,383 L2015,370 L2010,356 L2005,340 L2001,325 L1997,313 L1995,302 L1993,290 L1992,277 L1992,263 L1992,250 L1992,238 L1992,226 L1993,214 L1990,203 L1987,192 L1982,182 L1979,174 L1977,167 L1975,160 L1975,151 L1982,137 L2006,122Z M2007,131 L1988,143 L1982,155 L1982,162 L1983,169 L1985,175 L1987,183 L1990,192 L1993,203 L1994,215 L1994,226 L1994,238 L1993,250 L1993,263 L1993,277 L1994,290 L1996,302 L1998,313 L2001,325 L2005,340 L2010,356 L2015,370 L2022,383 L2028,394 L2034,405 L2040,416 L2045,426 L2051,435 L2056,442 L2061,448 L2066,452 L2071,456 L2076,458 L2080,459 L2084,458 L2086,455 L2089,453 L2091,449 L2093,446 L2095,440 L2097,433 L2099,425 L2100,415 L2102,404 L2103,392 L2103,380 L2103,369 L2103,359 L2103,349 L2103,339 L2102,329 L2101,318 L2101,309 L2100,300 L2101,290 L2099,280 L2097,269 L2094,258 L2090,247 L2085,236 L2081,226 L2077,216 L2073,205 L2068,194 L2064,184 L2059,175 L2055,167 L2051,160 L2046,153 L2040,146 L2033,139 L2023,134 L2007,131Z" fill="#2ec2a7" fill-rule="evenodd"/>
<path d="M2005,117 L2028,120 L2040,127 L2049,135 L2055,144 L2060,152 L2065,161 L2069,169 L2073,179 L2078,189 L2082,200 L2086,212 L2090,222 L2094,232 L2098,243 L2102,255 L2104,267 L2106,278 L2107,288 L2106,298 L2106,308 L2106,317 L2106,328 L2106,339 L2106,349 L2106,359 L2106,369 L2105,380 L2105,392 L2103,404 L2102,415 L2100,425 L2098,433 L2096,440 L2094,446 L2092,450 L2089,453 L2087,456 L2084,458 L2080,459 L2076,458 L2071,456 L2065,453 L2060,448 L2055,443 L2050,436 L2045,427 L2040,416 L2034,405 L2028,395 L2021,383 L2015,370 L2010,356 L2005,340 L2001,325 L1997,313 L1994,302 L1992,290 L1992,277 L1991,263 L1991,250 L1991,237 L1991,226 L1992,214 L1989,203 L1985,191 L1980,181 L1976,174 L1973,166 L1971,158 L1971,149 L1978,133 L2005,117Z M2006,126 L1985,140 L1978,153 L1978,161 L1980,168 L1982,175 L1985,182 L1989,192 L1991,203 L1993,214 L1993,226 L1993,238 L1993,250 L1993,263 L1993,277 L1994,290 L1995,302 L1998,313 L2001,325 L2005,340 L2010,356 L2015,370 L2021,383 L2028,394 L2034,405 L2040,416 L2045,426 L2050,435 L2056,442 L2061,448 L2066,453 L2071,456 L2076,458 L2080,459 L2084,458 L2086,456 L2089,453 L2091,450 L2093,446 L2095,440 L2097,433 L2099,425 L2101,415 L2102,404 L2103,392 L2104,380 L2104,369 L2104,359 L2104,349 L2104,339 L2103,328 L2102,318 L2102,308 L2102,299 L2103,290 L2101,280 L2099,268 L2097,257 L2093,245 L2088,235 L2084,225 L2080,214 L2076,203 L2072,193 L2067,183 L2063,173 L2058,165 L2054,157 L2049,150 L2043,142 L2035,135 L2025,129 L2006,126Z" fill="#54c880" fill-rule="evenodd"/>
<path d="M2004,111 L2029,115 L2043,123 L2052,132 L2059,141 L2064,149 L2068,158 L2072,167 L2077,177 L2081,188 L2086,199 L2090,210 L2093,220 L2097,230 L2101,242 L2105,253 L2107,266 L2109,277 L2110,288 L2109,297 L2108,307 L2107,317 L2108,328 L2108,338 L2107,349 L2107,359 L2107,369 L2106,380 L2105,392 L2104,404 L2102,415 L2100,425 L2098,434 L2096,441 L2094,446 L2092,450 L2089,453 L2087,456 L2084,458 L2080,459 L2076,458 L2070,456 L2065,453 L2060,448 L2055,443 L2050,436 L2045,427 L2040,416 L2034,406 L2028,395 L2021,383 L2015,370 L2009,356 L2004,340 L2000,325 L1997,313 L1994,302 L1992,290 L1991,277 L1991,263 L1991,250 L1990,237 L1990,226 L1991,214 L1987,202 L1983,191 L1977,181 L1973,173 L1969,166 L1967,157 L1967,147 L1975,130 L2004,111Z M2006,121 L1981,136 L1974,151 L1974,159 L1976,167 L1979,174 L1982,182 L1987,192 L1990,203 L1993,214 L1992,226 L1992,238 L1992,250 L1992,263 L1992,277 L1993,290 L1995,302 L1997,313 L2001,325 L2005,340 L2010,356 L2015,370 L2021,383 L2028,394 L2034,405 L2040,416 L2045,427 L2050,435 L2055,443 L2061,448 L2066,453 L2071,456 L2076,458 L2080,459 L2084,458 L2086,456 L2089,453 L2091,450 L2094,446 L2096,440 L2098,433 L2100,425 L2101,415 L2103,404 L2104,392 L2105,380 L2105,369 L2105,359 L2105,349 L2105,339 L2105,328 L2104,318 L2104,308 L2105,299 L2105,289 L2104,279 L2102,267 L2099,256 L2095,244 L2091,233 L2087,223 L2084,213 L2079,202 L2075,191 L2070,181 L2066,171 L2062,163 L2057,155 L2053,147 L2046,139 L2038,131 L2026,125 L2006,121Z" fill="#8ec750" fill-rule="evenodd"/>
<path d="M2004,106 L2031,110 L2045,119 L2055,128 L2062,137 L2068,147 L2072,156 L2076,165 L2080,175 L2085,186 L2089,197 L2093,208 L2097,219 L2100,229 L2104,240 L2108,252 L2110,265 L2112,276 L2112,287 L2111,297 L2110,306 L2109,317 L2110,327 L2109,338 L2109,349 L2109,359 L2108,369 L2107,380 L2106,392 L2105,404 L2103,415 L2101,425 L2099,434 L2096,441 L2094,446 L2092,450 L2089,453 L2087,456 L2084,458 L2080,459 L2075,458 L2070,456 L2065,453 L2060,448 L2055,443 L2050,436 L2045,427 L2040,416 L2034,406 L2028,395 L2021,383 L2015,370 L2009,356 L2004,340 L2000,325 L1996,313 L1993,302 L1991,290 L1990,277 L1990,263 L1990,250 L1989,237 L1989,226 L1989,214 L1985,202 L1980,191 L1974,181 L1970,173 L1965,165 L1962,155 L1962,145 L1971,126 L2004,106Z M2005,116 L1978,133 L1970,149 L1970,158 L1972,166 L1976,174 L1979,181 L1984,191 L1988,203 L1992,214 L1991,226 L1991,237 L1991,250 L1991,263 L1992,277 L1992,290 L1994,302 L1997,313 L2001,325 L2005,340 L2010,356 L2015,370 L2021,383 L2028,395 L2034,405 L2040,416 L2045,427 L2050,436 L2055,443 L2060,448 L2065,453 L2071,456 L2076,458 L2080,459 L2084,458 L2087,456 L2089,453 L2092,450 L2094,446 L2096,440 L2098,433 L2100,425 L2102,415 L2103,404 L2105,392 L2106,380 L2106,369 L2106,359 L2106,349 L2106,339 L2106,328 L2106,317 L2106,307 L2107,298 L2108,288 L2107,278 L2105,267 L2102,254 L2098,243 L2094,232 L2091,222 L2087,211 L2083,200 L2078,189 L2074,179 L2069,169 L2065,160 L2061,152 L2056,143 L2049,135 L2040,127 L2028,120 L2005,116Z" fill="#c0c639" fill-rule="evenodd"/>
<path d="M2003,100 L2033,105 L2048,114 L2059,123 L2066,134 L2072,143 L2076,153 L2080,162 L2084,173 L2089,184 L2093,195 L2097,207 L2100,217 L2104,227 L2108,238 L2111,251 L2113,264 L2115,275 L2115,286 L2114,296 L2113,306 L2112,316 L2112,327 L2111,338 L2111,349 L2110,359 L2110,369 L2109,380 L2107,392 L2105,404 L2103,415 L2101,425 L2099,434 L2097,441 L2095,446 L2092,450 L2090,453 L2087,456 L2084,459 L2080,459 L2075,459 L2070,456 L2065,453 L2060,449 L2055,443 L2050,436 L2045,427 L2039,416 L2034,406 L2028,395 L2021,383 L2015,371 L2009,356 L2004,340 L2000,325 L1996,313 L1993,302 L1990,290 L1989,277 L1989,263 L1989,250 L1988,237 L1988,225 L1988,214 L1983,202 L1978,190 L1971,180 L1966,172 L1961,164 L1958,154 L1958,143 L1967,122 L2003,100Z M2004,110 L1974,129 L1966,147 L1966,157 L1969,165 L1972,173 L1976,181 L1982,191 L1987,202 L1990,214 L1990,226 L1990,237 L1991,250 L1991,263 L1991,277 L1992,290 L1994,302 L1997,313 L2000,325 L2004,340 L2009,356 L2015,370 L2021,383 L2028,395 L2034,406 L2040,416 L2045,427 L2050,436 L2055,443 L2060,448 L2065,453 L2070,456 L2076,458 L2080,459 L2084,458 L2087,456 L2089,453 L2092,450 L2094,446 L2096,441 L2098,434 L2101,425 L2102,415 L2104,404 L2105,392 L2107,380 L2107,369 L2108,359 L2108,349 L2108,338 L2108,328 L2108,317 L2108,307 L2109,297 L2110,287 L2109,277 L2108,265 L2106,253 L2102,241 L2098,230 L2094,220 L2090,210 L2086,199 L2082,187 L2078,176 L2073,167 L2069,158 L2065,149 L2060,140 L2053,131 L2043,122 L2030,114 L2004,110Z" fill="#e9c438" fill-rule="evenodd"/>
<path d="M2002,93 L2035,98 L2051,108 L2063,119 L2071,130 L2076,140 L2080,150 L2084,159 L2089,170 L2093,182 L2097,193 L2101,205 L2105,215 L2108,225 L2111,237 L2115,249 L2117,262 L2118,274 L2118,285 L2117,295 L2116,305 L2115,316 L2114,327 L2114,338 L2113,348 L2112,359 L2111,369 L2110,380 L2109,392 L2107,404 L2104,416 L2102,425 L2100,434 L2097,441 L2095,446 L2092,450 L2090,453 L2087,456 L2084,459 L2080,460 L2075,459 L2070,457 L2065,453 L2060,449 L2055,443 L2050,436 L2044,427 L2039,417 L2034,406 L2027,395 L2021,383 L2015,371 L2009,356 L2004,340 L2000,326 L1995,313 L1992,302 L1989,290 L1988,277 L1988,263 L1987,250 L1987,237 L1987,225 L1986,214 L1981,202 L1975,190 L1968,180 L1962,171 L1957,163 L1953,152 L1952,140 L1963,117 L2002,93Z M2003,104 L1970,125 L1961,144 L1961,155 L1964,164 L1969,173 L1973,180 L1980,190 L1985,202 L1989,214 L1989,225 L1989,237 L1990,250 L1990,263 L1990,277 L1991,290 L1993,302 L1996,313 L2000,325 L2004,340 L2009,356 L2015,370 L2021,383 L2028,395 L2034,406 L2039,416 L2045,427 L2050,436 L2055,443 L2060,449 L2065,453 L2070,456 L2075,458 L2080,459 L2084,458 L2087,456 L2089,453 L2092,450 L2094,446 L2096,441 L2099,434 L2101,425 L2103,415 L2105,404 L2106,392 L2108,380 L2109,369 L2109,359 L2109,349 L2110,338 L2110,327 L2110,317 L2111,306 L2112,296 L2113,287 L2112,276 L2111,264 L2109,252 L2105,240 L2101,228 L2098,218 L2094,208 L2090,197 L2086,185 L2081,174 L2077,164 L2073,155 L2069,146 L2063,136 L2056,127 L2046,117 L2031,109 L2003,104Z" fill="#fdd12f" fill-rule="evenodd"/>
<path d="M2001,89 L2036,94 L2053,104 L2065,116 L2074,127 L2079,138 L2083,148 L2087,157 L2092,168 L2096,180 L2100,192 L2104,203 L2107,214 L2110,224 L2114,236 L2118,248 L2119,261 L2120,274 L2120,284 L2121,294 L2121,304 L2120,315 L2120,326 L2118,337 L2117,348 L2116,358 L2115,369 L2113,380 L2111,392 L2109,404 L2106,416 L2104,425 L2101,434 L2098,441 L2096,447 L2093,451 L2090,454 L2088,457 L2084,459 L2080,460 L2075,459 L2070,457 L2065,454 L2060,449 L2055,443 L2049,436 L2044,427 L2039,417 L2033,406 L2027,395 L2020,384 L2014,371 L2008,356 L2003,340 L1999,326 L1994,314 L1990,302 L1987,291 L1986,277 L1985,263 L1985,250 L1984,237 L1983,225 L1983,213 L1977,201 L1971,189 L1965,179 L1959,171 L1954,162 L1949,151 L1949,138 L1960,114 L2001,89Z M2002,98 L1966,120 L1956,142 L1956,153 L1960,163 L1965,172 L1970,180 L1977,190 L1982,202 L1987,214 L1987,225 L1988,237 L1988,250 L1988,263 L1989,277 L1990,290 L1992,302 L1996,313 L2000,326 L2004,340 L2009,356 L2015,371 L2021,383 L2027,395 L2034,406 L2039,417 L2045,427 L2050,436 L2055,443 L2060,449 L2065,453 L2070,457 L2075,459 L2080,459 L2084,459 L2087,456 L2090,453 L2092,450 L2095,446 L2097,441 L2099,434 L2102,425 L2104,415 L2106,404 L2108,392 L2109,380 L2110,369 L2111,359 L2112,349 L2112,338 L2113,327 L2113,316 L2114,305 L2115,296 L2116,286 L2116,275 L2115,263 L2113,250 L2109,238 L2105,227 L2102,216 L2098,206 L2095,195 L2090,183 L2086,172 L2081,161 L2077,152 L2073,142 L2068,132 L2060,122 L2049,112 L2033,103 L2002,98Z" fill="#faed1e" fill-rule="evenodd"/>
<polygon points="2011,163 2014,163 2018,165 2022,168 2026,172 2030,176 2034,182 2039,189 2043,196 2048,205 2053,214 2057,225 2062,235 2067,245 2072,255 2076,265 2080,275 2083,285 2086,295 2089,304 2091,311 2093,320 2095,330 2096,340 2097,350 2098,360 2099,370 2099,380 2099,392 2099,404 2098,415 2097,425 2096,433 2094,440 2092,445 2090,449 2088,452 2086,455 2083,457 2080,458 2076,457 2071,455 2066,452 2061,448 2056,442 2051,435 2046,426 2041,416 2035,405 2029,394 2022,383 2016,370 2011,355 2006,340 2002,325 1999,313 1998,302 1997,290 1997,277 1997,263 1997,250 1997,238 1998,226 1999,215 2000,204 2002,194 2003,185 2004,179 2005,174 2006,170 2007,167 2009,164" fill="#3e26a8" stroke="#3e26a8" stroke-width="1.5"/>
<path d="M2124,147 L2131,148 L2137,150 L2143,153 L2147,157 L2152,162 L2156,167 L2160,173 L2164,180 L2168,187 L2172,194 L2177,203 L2182,212 L2187,223 L2192,234 L2197,246 L2201,256 L2205,267 L2208,278 L2211,290 L2214,302 L2216,313 L2218,323 L2220,334 L2222,344 L2224,356 L2225,367 L2227,378 L2229,389 L2231,399 L2232,410 L2232,421 L2232,431 L2232,440 L2232,446 L2233,451 L2231,454 L2226,456 L2218,456 L2211,455 L2204,454 L2197,453 L2190,450 L2183,446 L2175,442 L2168,435 L2160,426 L2152,416 L2145,405 L2140,394 L2136,382 L2133,370 L2129,358 L2124,347 L2121,335 L2118,324 L2116,312 L2115,300 L2114,287 L2114,274 L2114,260 L2114,245 L2114,229 L2114,215 L2114,203 L2114,193 L2114,184 L2114,176 L2115,169 L2115,164 L2115,159 L2117,153 L2124,147Z M2126,156 L2124,158 L2123,161 L2122,165 L2121,170 L2120,177 L2119,185 L2118,194 L2117,204 L2116,215 L2115,229 L2115,245 L2115,260 L2115,274 L2115,287 L2116,300 L2117,312 L2119,324 L2121,335 L2124,347 L2129,358 L2133,370 L2137,382 L2140,394 L2145,405 L2152,416 L2160,426 L2168,435 L2175,441 L2183,446 L2190,450 L2197,453 L2204,454 L2211,455 L2218,456 L2226,456 L2231,454 L2233,451 L2232,446 L2231,440 L2231,431 L2231,421 L2230,410 L2228,400 L2226,390 L2224,379 L2222,368 L2220,356 L2218,345 L2216,335 L2213,324 L2211,314 L2209,303 L2206,291 L2203,280 L2199,269 L2195,259 L2191,248 L2186,237 L2181,225 L2176,215 L2171,206 L2166,198 L2162,190 L2158,183 L2154,177 L2150,172 L2146,167 L2142,163 L2138,160 L2134,158 L2129,156 L2126,156Z" fill="#4031bb" fill-rule="evenodd"/>
<path d="M2122,143 L2132,143 L2139,146 L2145,150 L2150,154 L2154,160 L2159,165 L2163,171 L2166,178 L2170,185 L2175,193 L2180,201 L2184,211 L2190,221 L2195,233 L2199,244 L2204,255 L2208,266 L2211,278 L2214,289 L2216,301 L2218,312 L2220,323 L2222,333 L2224,344 L2225,355 L2227,367 L2228,378 L2230,389 L2232,399 L2233,410 L2233,421 L2233,431 L2232,440 L2233,446 L2233,451 L2231,454 L2226,456 L2218,456 L2211,455 L2204,454 L2197,453 L2190,450 L2183,447 L2175,442 L2168,435 L2160,426 L2152,416 L2145,405 L2140,394 L2136,382 L2133,370 L2128,358 L2124,347 L2121,335 L2118,324 L2116,312 L2115,300 L2114,287 L2114,274 L2113,260 L2113,245 L2113,229 L2114,215 L2113,203 L2113,193 L2112,184 L2112,176 L2111,169 L2111,163 L2112,158 L2113,151 L2122,143Z M2125,152 L2121,155 L2119,160 L2119,164 L2118,170 L2117,177 L2117,185 L2116,194 L2116,203 L2115,215 L2115,229 L2115,245 L2115,260 L2115,274 L2115,287 L2116,300 L2117,312 L2118,324 L2121,335 L2124,347 L2129,358 L2133,370 L2137,382 L2140,394 L2145,405 L2152,416 L2160,426 L2168,435 L2175,442 L2183,446 L2190,450 L2197,453 L2204,454 L2211,455 L2218,456 L2226,456 L2231,454 L2233,451 L2232,446 L2231,440 L2231,431 L2231,421 L2231,410 L2229,400 L2227,389 L2225,379 L2223,368 L2222,356 L2220,345 L2218,334 L2216,324 L2213,313 L2211,302 L2209,291 L2206,279 L2202,268 L2198,258 L2194,247 L2189,236 L2184,224 L2179,214 L2174,204 L2169,196 L2165,188 L2161,181 L2157,175 L2153,170 L2149,165 L2145,160 L2140,157 L2135,154 L2130,152 L2125,152Z" fill="#4647e1" fill-rule="evenodd"/>
<path d="M2121,139 L2133,139 L2141,142 L2147,146 L2153,151 L2157,157 L2161,163 L2166,169 L2169,176 L2173,183 L2178,191 L2182,200 L2187,209 L2192,220 L2198,232 L2202,243 L2206,254 L2210,265 L2214,277 L2217,289 L2219,301 L2221,312 L2223,322 L2225,333 L2226,343 L2227,355 L2228,367 L2229,378 L2231,389 L2233,399 L2234,410 L2234,421 L2233,431 L2232,440 L2233,446 L2233,451 L2231,454 L2226,456 L2218,456 L2211,455 L2204,454 L2197,453 L2190,450 L2183,447 L2175,442 L2168,435 L2160,427 L2152,416 L2145,405 L2140,394 L2136,382 L2133,370 L2128,358 L2124,347 L2120,335 L2118,324 L2116,312 L2114,300 L2113,287 L2113,274 L2113,260 L2113,245 L2113,229 L2113,215 L2112,203 L2111,193 L2110,184 L2109,176 L2108,168 L2108,162 L2108,157 L2110,149 L2121,139Z M2124,148 L2117,153 L2116,159 L2115,164 L2115,169 L2115,176 L2114,184 L2115,193 L2115,203 L2115,215 L2114,229 L2114,245 L2114,260 L2114,274 L2115,287 L2115,300 L2117,312 L2118,324 L2121,335 L2124,347 L2129,358 L2133,370 L2136,382 L2140,394 L2145,405 L2152,416 L2160,426 L2168,435 L2175,442 L2183,446 L2190,450 L2197,453 L2204,454 L2211,455 L2218,456 L2226,456 L2231,454 L2233,451 L2232,446 L2232,440 L2232,431 L2232,421 L2232,410 L2230,400 L2228,389 L2226,379 L2225,367 L2223,356 L2222,344 L2220,334 L2218,323 L2216,313 L2214,302 L2211,290 L2208,278 L2205,267 L2201,257 L2197,246 L2192,234 L2187,223 L2182,212 L2177,203 L2172,194 L2168,187 L2164,180 L2160,173 L2156,168 L2152,162 L2147,157 L2143,153 L2137,150 L2131,148 L2124,148Z" fill="#425ff5" fill-rule="evenodd"/>
<path d="M2120,134 L2134,135 L2143,138 L2150,143 L2155,148 L2160,154 L2164,161 L2168,167 L2172,174 L2176,181 L2181,189 L2185,198 L2190,208 L2195,219 L2200,230 L2205,242 L2209,253 L2213,264 L2217,276 L2219,288 L2221,300 L2223,311 L2225,322 L2227,332 L2228,343 L2229,355 L2230,366 L2231,378 L2232,388 L2234,399 L2234,409 L2234,421 L2234,431 L2233,440 L2233,446 L2234,451 L2231,455 L2226,456 L2218,456 L2211,455 L2204,455 L2197,453 L2190,450 L2183,447 L2175,442 L2168,435 L2160,427 L2152,416 L2145,405 L2140,394 L2136,382 L2133,370 L2128,359 L2124,347 L2120,335 L2118,324 L2115,312 L2114,300 L2113,287 L2113,274 L2112,260 L2112,245 L2112,229 L2113,215 L2111,203 L2110,193 L2107,184 L2106,175 L2105,168 L2104,161 L2104,155 L2106,146 L2120,134Z M2122,143 L2114,151 L2112,158 L2111,163 L2111,169 L2112,176 L2112,184 L2113,193 L2114,203 L2114,215 L2114,229 L2114,245 L2114,260 L2114,274 L2114,287 L2115,300 L2116,312 L2118,324 L2121,335 L2124,347 L2128,358 L2133,370 L2136,382 L2140,394 L2145,405 L2152,416 L2160,426 L2168,435 L2175,442 L2183,446 L2190,450 L2197,453 L2204,454 L2211,455 L2218,456 L2226,456 L2231,454 L2233,451 L2233,446 L2232,440 L2232,431 L2233,421 L2232,410 L2231,399 L2229,389 L2227,378 L2226,367 L2225,355 L2224,344 L2222,333 L2220,323 L2218,312 L2216,301 L2214,289 L2211,278 L2208,266 L2204,255 L2199,244 L2195,233 L2190,221 L2184,211 L2180,201 L2175,193 L2170,185 L2166,178 L2163,171 L2159,165 L2154,160 L2150,154 L2145,150 L2139,146 L2132,143 L2122,143Z" fill="#347af6" fill-rule="evenodd"/>
<path d="M2118,130 L2135,130 L2144,134 L2152,139 L2158,145 L2163,152 L2167,158 L2172,165 L2175,172 L2179,180 L2184,188 L2188,196 L2193,206 L2198,217 L2203,229 L2208,241 L2212,252 L2216,263 L2219,275 L2222,287 L2224,299 L2226,311 L2227,321 L2229,332 L2231,342 L2231,354 L2231,366 L2232,378 L2233,388 L2235,399 L2235,409 L2235,420 L2234,431 L2233,440 L2233,446 L2234,451 L2231,455 L2226,456 L2218,456 L2211,456 L2204,455 L2197,453 L2190,450 L2183,447 L2175,442 L2168,435 L2160,427 L2151,416 L2145,405 L2140,394 L2136,382 L2133,370 L2128,359 L2124,347 L2120,335 L2117,324 L2115,312 L2113,300 L2113,287 L2112,274 L2112,260 L2112,245 L2112,229 L2112,215 L2110,203 L2108,193 L2105,183 L2103,175 L2102,167 L2100,160 L2100,154 L2103,144 L2118,130Z M2121,139 L2110,148 L2108,157 L2108,162 L2108,168 L2109,176 L2110,184 L2112,193 L2113,203 L2114,215 L2113,229 L2113,245 L2113,260 L2113,274 L2114,287 L2114,300 L2116,312 L2118,324 L2121,335 L2124,347 L2128,358 L2133,370 L2136,382 L2140,394 L2145,405 L2152,416 L2160,426 L2168,435 L2175,442 L2183,447 L2190,450 L2197,453 L2204,454 L2211,455 L2218,456 L2226,456 L2231,454 L2233,451 L2233,446 L2232,440 L2233,431 L2233,421 L2233,410 L2232,399 L2230,389 L2229,378 L2228,367 L2227,355 L2226,343 L2225,333 L2223,322 L2221,312 L2219,301 L2217,289 L2214,277 L2210,265 L2206,254 L2202,243 L2198,232 L2192,220 L2187,209 L2183,200 L2178,191 L2173,183 L2169,176 L2166,169 L2161,163 L2157,157 L2153,151 L2147,146 L2141,142 L2133,139 L2121,139Z" fill="#2792ef" fill-rule="evenodd"/>
<path d="M2117,125 L2136,126 L2146,130 L2154,136 L2161,142 L2166,149 L2170,156 L2175,163 L2178,170 L2182,178 L2187,186 L2191,195 L2196,205 L2201,216 L2206,228 L2211,240 L2215,251 L2219,262 L2222,274 L2225,287 L2227,299 L2228,310 L2230,321 L2231,331 L2233,342 L2233,354 L2233,366 L2233,377 L2234,388 L2236,398 L2236,409 L2236,420 L2235,431 L2233,440 L2234,446 L2234,451 L2232,455 L2226,456 L2218,456 L2211,456 L2204,455 L2197,453 L2190,451 L2182,447 L2175,442 L2168,435 L2160,427 L2151,416 L2144,405 L2140,394 L2136,382 L2132,370 L2128,359 L2124,347 L2120,335 L2117,324 L2115,312 L2113,300 L2112,287 L2112,274 L2111,260 L2111,245 L2111,229 L2111,215 L2109,203 L2106,192 L2102,183 L2100,175 L2098,167 L2096,160 L2096,153 L2099,141 L2117,125Z M2120,134 L2106,146 L2104,155 L2104,161 L2105,168 L2106,175 L2107,184 L2110,193 L2112,203 L2113,215 L2113,229 L2112,245 L2113,260 L2113,274 L2113,287 L2114,300 L2116,312 L2118,324 L2120,335 L2124,347 L2128,358 L2133,370 L2136,382 L2140,394 L2145,405 L2152,416 L2160,427 L2168,435 L2175,442 L2183,447 L2190,450 L2197,453 L2204,455 L2211,455 L2218,456 L2226,456 L2231,454 L2233,451 L2233,446 L2233,440 L2233,431 L2234,421 L2234,410 L2233,399 L2232,388 L2230,378 L2229,367 L2229,355 L2229,343 L2227,332 L2225,322 L2223,311 L2221,300 L2219,288 L2217,276 L2213,264 L2209,253 L2205,242 L2201,230 L2195,219 L2190,208 L2185,198 L2181,189 L2176,181 L2172,174 L2169,167 L2164,161 L2160,154 L2155,148 L2150,143 L2143,138 L2134,134 L2120,134Z" fill="#19a7de" fill-rule="evenodd"/>
<path d="M2116,121 L2137,121 L2148,126 L2157,132 L2164,139 L2169,146 L2174,153 L2178,161 L2182,168 L2185,176 L2190,184 L2195,193 L2199,203 L2204,214 L2210,226 L2214,238 L2218,250 L2222,261 L2225,273 L2228,286 L2229,298 L2231,310 L2232,320 L2234,331 L2235,342 L2235,354 L2234,366 L2235,377 L2236,388 L2237,398 L2237,409 L2237,420 L2235,431 L2234,440 L2234,446 L2234,451 L2232,455 L2226,456 L2218,456 L2211,456 L2204,455 L2197,453 L2190,451 L2182,447 L2175,442 L2168,436 L2159,427 L2151,416 L2144,405 L2140,394 L2136,382 L2132,370 L2128,359 L2124,347 L2120,335 L2117,324 L2114,312 L2112,300 L2112,287 L2111,274 L2111,260 L2110,245 L2110,229 L2110,215 L2108,203 L2104,192 L2100,183 L2097,174 L2095,166 L2093,159 L2092,152 L2095,139 L2116,121Z M2118,130 L2102,144 L2100,154 L2100,160 L2101,167 L2103,175 L2105,183 L2108,193 L2110,203 L2112,215 L2112,229 L2112,245 L2112,260 L2112,274 L2113,287 L2114,300 L2115,312 L2117,324 L2120,335 L2124,347 L2128,359 L2133,370 L2136,382 L2140,394 L2145,405 L2151,416 L2160,427 L2168,435 L2175,442 L2183,447 L2190,450 L2197,453 L2204,455 L2211,455 L2218,456 L2226,456 L2231,455 L2234,451 L2233,446 L2233,440 L2234,431 L2235,420 L2235,409 L2234,399 L2233,388 L2231,378 L2231,366 L2231,354 L2231,342 L2229,332 L2228,321 L2226,311 L2224,299 L2222,287 L2220,275 L2216,263 L2212,252 L2208,241 L2204,229 L2198,217 L2193,206 L2189,196 L2184,187 L2179,180 L2176,172 L2172,165 L2168,158 L2163,152 L2158,145 L2152,139 L2145,134 L2135,130 L2118,130Z" fill="#1bb7c6" fill-rule="evenodd"/>
<path d="M2114,116 L2138,116 L2150,121 L2160,128 L2167,136 L2172,143 L2177,151 L2181,158 L2185,166 L2188,174 L2193,182 L2198,191 L2203,202 L2208,213 L2213,225 L2217,237 L2221,248 L2225,260 L2228,272 L2231,285 L2232,298 L2234,309 L2235,319 L2236,330 L2238,341 L2237,353 L2236,365 L2236,377 L2237,387 L2238,398 L2238,409 L2237,420 L2236,431 L2234,440 L2234,446 L2234,451 L2232,455 L2226,457 L2218,457 L2211,456 L2204,455 L2197,453 L2190,451 L2182,447 L2175,442 L2167,436 L2159,427 L2151,416 L2144,405 L2139,394 L2136,382 L2132,370 L2128,359 L2123,347 L2120,335 L2117,324 L2114,312 L2112,300 L2111,287 L2110,274 L2110,260 L2110,245 L2110,229 L2110,215 L2106,203 L2102,192 L2097,182 L2094,174 L2091,166 L2088,158 L2087,151 L2091,136 L2114,116Z M2117,125 L2099,141 L2096,153 L2096,160 L2098,167 L2100,175 L2102,183 L2106,192 L2109,203 L2111,215 L2111,229 L2111,245 L2111,260 L2112,274 L2112,287 L2113,300 L2115,312 L2117,324 L2120,335 L2124,347 L2128,359 L2132,370 L2136,382 L2140,394 L2144,405 L2151,416 L2160,427 L2168,435 L2175,442 L2182,447 L2190,451 L2197,453 L2204,455 L2211,456 L2218,456 L2226,456 L2232,455 L2234,451 L2234,446 L2233,440 L2235,431 L2236,420 L2236,409 L2235,399 L2234,388 L2233,377 L2233,366 L2233,354 L2233,342 L2232,331 L2230,321 L2228,310 L2227,299 L2225,287 L2223,274 L2219,262 L2215,251 L2211,239 L2207,228 L2202,216 L2197,205 L2192,195 L2187,186 L2182,178 L2179,170 L2175,163 L2171,156 L2166,149 L2161,142 L2155,135 L2146,130 L2136,125 L2117,125Z" fill="#2ec2a7" fill-rule="evenodd"/>
<path d="M2113,111 L2139,111 L2152,117 L2162,124 L2170,132 L2176,140 L2180,148 L2184,156 L2188,164 L2192,172 L2196,180 L2201,190 L2206,200 L2211,211 L2216,224 L2221,236 L2225,247 L2228,259 L2232,271 L2234,285 L2235,297 L2236,308 L2238,319 L2239,329 L2240,341 L2239,353 L2238,365 L2238,376 L2239,387 L2239,398 L2240,409 L2238,420 L2237,431 L2235,440 L2235,446 L2235,451 L2232,455 L2226,457 L2218,457 L2211,456 L2204,455 L2197,454 L2190,451 L2182,447 L2175,442 L2167,436 L2159,427 L2151,416 L2144,405 L2139,394 L2136,382 L2132,370 L2128,359 L2123,347 L2120,335 L2116,324 L2114,312 L2111,300 L2110,287 L2110,274 L2109,260 L2109,245 L2109,229 L2109,215 L2105,202 L2100,192 L2094,182 L2091,173 L2087,165 L2084,157 L2083,150 L2087,134 L2113,111Z M2116,120 L2095,139 L2091,152 L2092,159 L2094,166 L2097,174 L2099,183 L2104,192 L2108,203 L2110,215 L2110,229 L2111,245 L2111,260 L2111,274 L2112,287 L2113,300 L2114,312 L2117,324 L2120,335 L2124,347 L2128,359 L2132,370 L2136,382 L2140,394 L2144,405 L2151,416 L2159,427 L2168,435 L2175,442 L2182,447 L2190,451 L2197,453 L2204,455 L2211,456 L2218,456 L2226,456 L2232,455 L2234,451 L2234,446 L2234,440 L2235,431 L2236,420 L2237,409 L2237,398 L2236,388 L2235,377 L2234,366 L2235,354 L2235,342 L2234,331 L2233,320 L2231,309 L2230,298 L2228,286 L2226,273 L2222,261 L2219,249 L2215,238 L2210,226 L2205,214 L2200,203 L2195,193 L2190,184 L2186,176 L2182,168 L2178,160 L2174,153 L2170,146 L2164,139 L2157,131 L2148,125 L2137,120 L2116,120Z" fill="#54c880" fill-rule="evenodd"/>
<path d="M2111,105 L2140,106 L2154,112 L2165,120 L2173,129 L2179,137 L2184,145 L2188,154 L2192,162 L2195,170 L2200,178 L2204,188 L2209,198 L2215,210 L2220,222 L2224,234 L2228,246 L2232,258 L2235,270 L2237,284 L2238,296 L2239,308 L2240,318 L2241,329 L2242,340 L2241,352 L2240,365 L2240,376 L2240,387 L2241,398 L2241,409 L2239,420 L2237,431 L2235,440 L2235,446 L2235,451 L2232,455 L2226,457 L2218,457 L2211,456 L2204,455 L2197,454 L2190,451 L2182,447 L2175,442 L2167,436 L2159,427 L2151,417 L2144,405 L2139,394 L2136,382 L2132,370 L2128,359 L2123,347 L2119,335 L2116,324 L2113,312 L2111,300 L2110,287 L2109,274 L2109,260 L2108,245 L2108,229 L2108,215 L2103,202 L2098,191 L2091,182 L2087,173 L2084,164 L2080,156 L2078,148 L2083,131 L2111,105Z M2114,115 L2090,136 L2087,151 L2088,158 L2091,165 L2094,174 L2097,182 L2102,192 L2106,203 L2110,215 L2110,229 L2110,245 L2110,260 L2110,274 L2111,287 L2112,300 L2114,312 L2117,324 L2120,335 L2123,347 L2128,359 L2132,370 L2136,382 L2139,394 L2144,405 L2151,416 L2159,427 L2167,436 L2175,442 L2182,447 L2190,451 L2197,453 L2204,455 L2211,456 L2218,457 L2226,457 L2232,455 L2234,451 L2234,446 L2234,440 L2236,431 L2237,420 L2238,409 L2238,398 L2237,387 L2236,377 L2236,365 L2237,353 L2238,341 L2237,330 L2235,319 L2234,309 L2233,298 L2231,285 L2229,272 L2225,260 L2222,248 L2218,237 L2213,225 L2208,213 L2203,201 L2198,191 L2193,182 L2189,174 L2185,166 L2182,158 L2177,150 L2173,143 L2167,135 L2160,127 L2150,121 L2138,115 L2114,115Z" fill="#8ec750" fill-rule="evenodd"/>
<path d="M2110,100 L2141,100 L2157,107 L2168,115 L2177,125 L2183,134 L2187,142 L2192,151 L2195,159 L2199,168 L2203,176 L2208,186 L2213,196 L2218,208 L2223,220 L2228,233 L2232,244 L2235,256 L2238,269 L2240,283 L2242,296 L2242,307 L2243,317 L2244,328 L2245,340 L2244,352 L2243,364 L2242,376 L2242,386 L2243,397 L2242,409 L2241,420 L2238,431 L2236,440 L2236,446 L2235,451 L2232,455 L2226,457 L2218,457 L2211,456 L2204,455 L2197,454 L2190,451 L2182,447 L2175,442 L2167,436 L2159,427 L2151,417 L2144,406 L2139,394 L2135,382 L2132,370 L2127,359 L2123,347 L2119,335 L2116,324 L2113,313 L2110,300 L2109,287 L2108,274 L2108,260 L2107,245 L2107,229 L2106,214 L2101,202 L2096,191 L2088,181 L2084,172 L2079,164 L2075,155 L2074,147 L2078,128 L2110,100Z M2113,110 L2086,133 L2082,149 L2084,157 L2087,165 L2090,173 L2094,182 L2100,192 L2105,202 L2109,215 L2109,229 L2109,245 L2109,260 L2110,274 L2110,287 L2111,300 L2114,312 L2116,324 L2120,335 L2123,347 L2128,359 L2132,370 L2136,382 L2139,394 L2144,405 L2151,416 L2159,427 L2167,436 L2175,442 L2182,447 L2190,451 L2197,454 L2204,455 L2211,456 L2218,457 L2226,457 L2232,455 L2235,451 L2235,446 L2235,440 L2237,431 L2238,420 L2240,409 L2240,398 L2239,387 L2238,376 L2238,365 L2239,353 L2240,341 L2239,329 L2238,319 L2237,308 L2236,297 L2234,284 L2232,271 L2229,259 L2225,247 L2221,235 L2217,223 L2212,211 L2207,200 L2202,189 L2197,180 L2192,172 L2189,164 L2185,156 L2181,148 L2176,140 L2171,132 L2163,123 L2153,116 L2139,110 L2113,110Z" fill="#c0c639" fill-rule="evenodd"/>
<path d="M2108,94 L2142,95 L2159,102 L2171,111 L2180,121 L2187,130 L2191,139 L2196,148 L2199,157 L2203,165 L2207,174 L2212,184 L2217,194 L2222,206 L2227,219 L2232,231 L2235,243 L2239,255 L2242,268 L2244,282 L2245,295 L2246,306 L2247,317 L2247,328 L2248,339 L2247,352 L2246,364 L2245,375 L2245,386 L2245,397 L2244,408 L2242,420 L2239,431 L2236,440 L2236,446 L2236,451 L2232,456 L2226,457 L2218,457 L2211,456 L2204,455 L2197,454 L2189,451 L2182,447 L2175,443 L2167,436 L2159,427 L2151,417 L2144,406 L2139,394 L2135,382 L2132,370 L2127,359 L2123,347 L2119,335 L2115,324 L2112,313 L2109,300 L2108,287 L2107,274 L2107,260 L2106,245 L2105,229 L2105,214 L2099,202 L2093,191 L2085,181 L2080,172 L2075,163 L2070,154 L2068,146 L2073,125 L2108,94Z M2111,104 L2082,130 L2077,148 L2079,156 L2083,164 L2087,173 L2091,182 L2098,191 L2103,202 L2107,215 L2108,229 L2108,245 L2109,260 L2109,274 L2110,287 L2111,300 L2113,313 L2116,324 L2119,335 L2123,347 L2128,359 L2132,370 L2136,382 L2139,394 L2144,406 L2151,417 L2159,427 L2167,436 L2175,442 L2182,447 L2190,451 L2197,454 L2204,455 L2211,456 L2218,457 L2226,457 L2232,455 L2235,451 L2235,446 L2235,440 L2238,431 L2240,420 L2241,409 L2241,397 L2241,387 L2240,376 L2241,365 L2242,352 L2243,340 L2242,329 L2241,318 L2240,307 L2239,296 L2238,284 L2236,270 L2232,257 L2229,245 L2225,234 L2220,222 L2215,209 L2210,198 L2205,187 L2200,178 L2196,169 L2193,161 L2189,153 L2184,145 L2180,136 L2174,128 L2166,119 L2155,111 L2140,105 L2111,104Z" fill="#e9c438" fill-rule="evenodd"/>
<path d="M2106,87 L2143,88 L2162,96 L2175,106 L2184,116 L2191,126 L2196,136 L2200,145 L2204,154 L2207,163 L2211,171 L2216,181 L2221,192 L2226,204 L2231,217 L2236,229 L2240,241 L2243,254 L2246,267 L2248,281 L2249,294 L2249,305 L2250,316 L2251,327 L2251,338 L2250,351 L2249,363 L2248,374 L2248,385 L2247,396 L2247,408 L2244,420 L2241,431 L2237,440 L2237,446 L2236,451 L2232,456 L2226,458 L2218,457 L2211,457 L2204,456 L2197,454 L2189,451 L2182,448 L2174,443 L2167,436 L2159,427 L2151,417 L2144,406 L2139,394 L2135,382 L2131,371 L2127,359 L2122,347 L2119,336 L2114,324 L2111,313 L2108,301 L2107,288 L2106,274 L2105,260 L2105,245 L2104,229 L2103,214 L2097,202 L2090,190 L2082,180 L2076,171 L2070,162 L2065,153 L2063,144 L2068,121 L2106,87Z M2109,98 L2077,127 L2072,147 L2074,155 L2078,163 L2083,172 L2088,181 L2095,191 L2101,202 L2106,214 L2106,229 L2107,245 L2108,260 L2108,274 L2109,287 L2110,300 L2112,313 L2115,324 L2119,335 L2123,347 L2127,359 L2132,370 L2135,382 L2139,394 L2144,406 L2151,417 L2159,427 L2167,436 L2175,442 L2182,447 L2189,451 L2197,454 L2204,455 L2211,456 L2218,457 L2226,457 L2232,456 L2235,451 L2236,446 L2236,440 L2239,431 L2241,420 L2243,409 L2243,397 L2243,386 L2243,375 L2244,364 L2245,352 L2246,339 L2245,328 L2244,317 L2243,307 L2242,295 L2241,283 L2239,269 L2236,256 L2233,244 L2229,232 L2224,220 L2219,208 L2214,196 L2209,185 L2204,176 L2200,167 L2196,159 L2193,150 L2188,142 L2184,133 L2178,124 L2169,114 L2157,106 L2141,99 L2109,98Z" fill="#fdd12f" fill-rule="evenodd"/>
<path d="M2105,83 L2144,84 L2164,92 L2177,102 L2187,113 L2194,124 L2199,134 L2203,143 L2207,152 L2210,161 L2214,170 L2219,180 L2224,191 L2229,203 L2234,215 L2239,228 L2242,240 L2246,253 L2249,266 L2251,280 L2252,293 L2252,305 L2252,315 L2253,326 L2253,338 L2254,350 L2254,362 L2254,373 L2253,384 L2252,395 L2251,408 L2247,420 L2243,431 L2239,440 L2238,445 L2237,451 L2233,456 L2226,458 L2218,458 L2211,457 L2204,456 L2197,455 L2189,452 L2182,448 L2174,443 L2167,436 L2158,428 L2150,417 L2143,406 L2138,394 L2135,382 L2131,371 L2127,359 L2122,348 L2118,336 L2113,324 L2109,313 L2106,301 L2105,288 L2104,274 L2103,260 L2102,245 L2101,229 L2100,214 L2093,201 L2086,190 L2079,180 L2073,171 L2067,161 L2061,152 L2059,143 L2064,119 L2105,83Z M2107,92 L2071,124 L2066,145 L2069,154 L2074,163 L2079,172 L2084,181 L2092,191 L2098,202 L2104,214 L2105,229 L2105,245 L2106,260 L2107,274 L2107,288 L2109,301 L2112,313 L2115,324 L2119,336 L2123,347 L2127,359 L2132,370 L2135,382 L2139,394 L2144,406 L2151,417 L2159,427 L2167,436 L2175,443 L2182,448 L2189,451 L2197,454 L2204,456 L2211,456 L2218,457 L2226,457 L2232,456 L2236,451 L2236,446 L2237,440 L2240,431 L2243,420 L2245,408 L2246,397 L2246,385 L2246,375 L2247,363 L2248,351 L2249,339 L2248,327 L2248,316 L2247,306 L2246,294 L2245,282 L2243,268 L2240,255 L2237,242 L2233,230 L2229,218 L2223,206 L2218,194 L2213,183 L2209,173 L2204,165 L2201,156 L2197,147 L2193,138 L2188,129 L2182,119 L2172,109 L2160,100 L2143,92 L2107,92Z" fill="#faed1e" fill-rule="evenodd"/>
<polygon points="2126,156 2129,156 2134,158 2138,160 2142,163 2146,167 2150,172 2154,177 2158,183 2162,190 2166,198 2171,206 2176,215 2181,225 2186,237 2191,248 2195,259 2199,269 2203,280 2206,291 2209,303 2211,314 2213,324 2216,335 2218,345 2220,356 2222,368 2224,379 2226,390 2228,400 2230,410 2231,421 2231,431 2231,440 2232,446 2233,451 2231,454 2226,456 2218,456 2211,455 2204,454 2197,453 2190,450 2183,446 2175,441 2168,435 2160,426 2152,416 2145,405 2140,394 2137,382 2133,370 2129,358 2124,347 2121,335 2119,324 2117,312 2116,300 2115,287 2115,274 2115,260 2115,245 2115,229 2116,215 2117,204 2118,194 2119,185 2120,177 2121,170 2122,165 2123,161 2124,158" fill="#3e26a8" stroke="#3e26a8" stroke-width="1.5"/>
</g>
<polygon points="2228,420 2250,420 2252,530 2230,530" fill="#3e26a8"/>
<polygon points="2228,363 2232,379 2235,394 2239,409 2241,423 2244,436 2246,450 2248,467 2250,484 2251,500 2252,511 2252,521 2253,530 2250,530 2249,521 2249,511 2248,500 2247,484 2245,467 2243,450 2241,436 2239,423 2236,410 2233,395 2229,380 2226,365" fill="#4133be"/>
<polygon points="2229,363 2233,378 2237,394 2240,408 2243,422 2245,436 2247,450 2249,467 2251,485 2252,500 2253,511 2254,521 2254,530 2251,530 2251,521 2250,511 2249,500 2248,484 2246,467 2244,450 2242,436 2240,423 2237,410 2234,395 2231,380 2227,364" fill="#474cea"/>
<polygon points="2230,362 2234,378 2238,393 2241,408 2244,422 2246,436 2249,450 2251,467 2252,485 2254,500 2255,511 2255,521 2256,530 2253,530 2252,521 2252,511 2251,500 2249,484 2248,467 2246,450 2243,436 2241,423 2238,409 2235,394 2232,379 2228,364" fill="#3c6af5"/>
<polygon points="2231,361 2235,377 2239,392 2243,407 2245,422 2248,435 2250,450 2252,467 2254,485 2255,500 2256,511 2257,521 2257,530 2254,530 2254,521 2253,511 2252,500 2251,484 2249,467 2247,450 2245,436 2242,422 2240,409 2236,394 2233,378 2229,363" fill="#2d89f6"/>
<polygon points="2233,361 2237,376 2240,392 2244,407 2247,421 2249,435 2252,450 2254,467 2255,485 2257,500 2258,511 2258,521 2259,530 2256,530 2255,521 2255,511 2254,500 2252,485 2250,467 2248,450 2246,436 2244,422 2241,408 2238,393 2234,378 2230,362" fill="#1ca1e2"/>
<polygon points="2234,360 2238,375 2242,391 2245,406 2248,421 2251,435 2253,450 2255,467 2257,485 2259,500 2260,511 2260,521 2261,530 2257,530 2257,521 2256,511 2255,500 2254,485 2252,467 2250,450 2248,435 2245,422 2242,407 2239,392 2235,377 2231,361" fill="#1ab6c9"/>
<polygon points="2235,359 2239,374 2243,390 2247,406 2250,420 2253,435 2255,450 2257,467 2259,485 2260,500 2261,511 2262,521 2262,530 2259,530 2258,521 2258,511 2257,500 2256,485 2254,467 2252,450 2249,435 2247,421 2244,407 2241,392 2237,376 2233,361" fill="#2fc3a4"/>
<polygon points="2237,358 2241,374 2245,389 2249,405 2252,420 2255,435 2257,450 2259,467 2261,485 2262,500 2263,511 2264,521 2264,530 2261,530 2260,521 2260,511 2259,500 2257,485 2255,467 2253,450 2251,435 2249,421 2246,406 2242,391 2238,375 2234,360" fill="#62c874"/>
<polygon points="2239,357 2243,372 2247,388 2251,404 2254,419 2257,434 2259,450 2261,467 2263,485 2265,500 2266,511 2266,521 2267,530 2263,530 2262,521 2262,511 2261,500 2259,485 2257,467 2255,450 2253,435 2250,420 2247,405 2244,390 2240,374 2236,359" fill="#a6c73d"/>
<polygon points="2240,355 2245,371 2249,387 2253,403 2256,419 2259,434 2262,450 2264,467 2266,485 2267,500 2268,511 2269,521 2269,530 2265,530 2265,521 2264,511 2263,500 2262,485 2260,467 2258,450 2255,435 2253,420 2249,405 2246,389 2241,373 2237,357" fill="#d8c538"/>
<polygon points="2243,354 2248,370 2252,386 2256,402 2260,418 2262,434 2265,450 2267,467 2269,485 2271,500 2272,511 2272,521 2273,530 2268,530 2267,521 2267,511 2266,500 2264,485 2262,467 2260,450 2258,434 2255,419 2252,404 2248,388 2244,372 2239,356" fill="#fdca34"/>
<polygon points="2247,351 2252,367 2257,384 2261,400 2264,417 2267,433 2270,450 2272,467 2274,485 2276,500 2277,511 2277,521 2278,530 2271,530 2270,521 2270,511 2269,500 2267,485 2265,467 2263,450 2261,434 2258,418 2255,403 2251,387 2246,371 2242,355" fill="#faeb1f"/>
<polygon points="1883,462 1911,462 1911,551 1883,553" fill="url(#g1)"/>
<polygon points="1888,470 1906,470 1906,551 1888,553" fill="url(#g2)"/>
<polygon points="2000,462 2027,462 2027,543 2000,544" fill="url(#g3)"/>
<polygon points="2005,470 2022,470 2022,543 2005,544" fill="url(#g4)"/>
<polygon points="2115,458 2139,458 2139,535 2115,536" fill="url(#g5)"/>
<polygon points="2120,466 2134,466 2134,535 2120,536" fill="url(#g6)"/>
<polygon points="2228,455 2255,455 2255,527 2228,528" fill="url(#g7)"/>
<polygon points="2233,463 2250,463 2250,527 2233,528" fill="url(#g8)"/>
</g>
<g stroke="#555" stroke-width="1.3">
<line x1="1578.5" y1="578.0" x2="1600.5" y2="575.0"/>
<line x1="1564.4" y1="502.0" x2="1586.4" y2="499.0"/>
<line x1="1550.3" y1="426.0" x2="1572.3" y2="423.0"/>
<line x1="1536.2" y1="350.0" x2="1558.2" y2="347.0"/>
<line x1="1522.1" y1="274.0" x2="1544.1" y2="271.0"/>
<line x1="1508.0" y1="198.0" x2="1530.0" y2="195.0"/>
<line x1="1600.5" y1="578.0" x2="1602.5" y2="593.0"/>
<line x1="1713.1" y1="570.0" x2="1715.1" y2="585.0"/>
<line x1="1825.7" y1="562.0" x2="1827.7" y2="577.0"/>
<line x1="1938.2" y1="554.0" x2="1940.2" y2="569.0"/>
<line x1="2050.8" y1="546.0" x2="2052.8" y2="561.0"/>
<line x1="2163.4" y1="538.0" x2="2165.4" y2="553.0"/>
<line x1="2276.0" y1="530.0" x2="2278.0" y2="545.0"/>
</g>
<g font-family="Liberation Sans, Arial, sans-serif" font-size="15" fill="#555">
<text x="1574.5" y="584.0" text-anchor="end">0</text>
<text x="1560.4" y="508.0" text-anchor="end">0.2</text>
<text x="1546.3" y="432.0" text-anchor="end">0.4</text>
<text x="1532.2" y="356.0" text-anchor="end">0.6</text>
<text x="1518.1" y="280.0" text-anchor="end">0.8</text>
<text x="1504.0" y="204.0" text-anchor="end">1</text>
<text x="1605.5" y="617.0" text-anchor="middle">2</text>
<text x="1718.1" y="609.0" text-anchor="middle">2.5</text>
<text x="1830.7" y="601.0" text-anchor="middle">3</text>
<text x="1943.2" y="593.0" text-anchor="middle">3.5</text>
<text x="2055.8" y="585.0" text-anchor="middle">4</text>
<text x="2168.4" y="577.0" text-anchor="middle">4.5</text>
<text x="2281.0" y="569.0" text-anchor="middle">5</text>
</g>
<g font-family="Liberation Sans, Arial, sans-serif" font-size="15" fill="#555">
<text transform="translate(1461,367) rotate(-90)" text-anchor="middle" font-size="15">Degree of membership</text>
<text x="1509" y="68">1</text><text x="1492" y="103">0.5</text><text x="1507" y="140">0</text>
</g>
<text x="1582.0" y="107.0" font-family="Liberation Sans, Arial, sans-serif" font-size="24.0" font-weight="normal" fill="#2b2b2b" textLength="41.0" lengthAdjust="spacingAndGlyphs">Low</text>
<text x="1708.0" y="88.5" font-family="Liberation Sans, Arial, sans-serif" font-size="24.0" font-weight="normal" fill="#2b2b2b" textLength="131.0" lengthAdjust="spacingAndGlyphs">MediumLow</text>
<text x="1845.5" y="64.5" font-family="Liberation Sans, Arial, sans-serif" font-size="24.0" font-weight="normal" fill="#2b2b2b" textLength="88.0" lengthAdjust="spacingAndGlyphs">Medium</text>
<text x="1940.0" y="82.0" font-family="Liberation Sans, Arial, sans-serif" font-size="24.0" font-weight="normal" fill="#2b2b2b" textLength="136.0" lengthAdjust="spacingAndGlyphs">MediumHigh</text>
<text x="2095.0" y="46.0" font-family="Liberation Sans, Arial, sans-serif" font-size="24.0" font-weight="normal" fill="#2b2b2b" textLength="47.0" lengthAdjust="spacingAndGlyphs">High</text>
<text x="1895.5" y="644.0" font-family="Liberation Sans, Arial, sans-serif" font-size="42.0" font-weight="normal" fill="#141414" textLength="27.0" lengthAdjust="spacingAndGlyphs" stroke="#141414" stroke-width="0.7">C</text>
<g stroke="#e8e8e8" stroke-width="1.2" fill="none">
<polyline points="1566,800 2235,755"/><polyline points="1566,770 2235,725"/><polyline points="1566,740 2235,698"/>
<line x1="1670" y1="723" x2="1670" y2="838"/>
<line x1="1790" y1="715" x2="1790" y2="830"/>
<line x1="1905" y1="707" x2="1905" y2="822"/>
<line x1="2020" y1="699" x2="2020" y2="814"/>
<line x1="2140" y1="690" x2="2140" y2="805"/>
<line x1="2235" y1="698" x2="2235" y2="800"/>
</g>
<text x="1764.0" y="815.0" font-family="Liberation Sans, Arial, sans-serif" font-size="15.0" font-weight="normal" fill="#333">M</text>
<text x="1986.0" y="800.0" font-family="Liberation Sans, Arial, sans-serif" font-size="15.0" font-weight="normal" fill="#333">M</text>
<polygon points="1629,1247 2298,1200 2235,799 1566,846" fill="#3e26a8"/>
<g clip-path="url(#cBR)">
<polygon points="1735,1223 1740,1222 1745,1221 1750,1221 1756,1220 1763,1219 1769,1218 1775,1217 1781,1216 1787,1216 1794,1215 1801,1216 1810,1216 1822,1215 1835,1215 1848,1215 1859,1214 1870,1213 1880,1212 1888,1211 1895,1211 1905,1210 1919,1209 1935,1208 1950,1206 1964,1205 1978,1204 1990,1204 2000,1203 2009,1203 2020,1202 2036,1201 2053,1199 2070,1198 2084,1197 2096,1195 2108,1195 2119,1194 2129,1194 2140,1194 2152,1193 2164,1192 2180,1191 2203,1189 2230,1188 2251,1187 2260,1187 2262,1188 2265,1189 2265,1192 2262,1192 2260,1193 2251,1193 2230,1195 2203,1197 2180,1198 2164,1199 2152,1200 2140,1201 2129,1202 2119,1202 2108,1203 2096,1204 2084,1205 2070,1206 2053,1207 2036,1208 2020,1209 2009,1210 2000,1211 1990,1211 1978,1212 1964,1213 1950,1214 1935,1215 1919,1216 1905,1217 1895,1218 1888,1219 1880,1219 1870,1220 1859,1221 1848,1221 1835,1222 1822,1223 1810,1224 1801,1225 1794,1225 1787,1226 1781,1226 1775,1226 1769,1227 1763,1227 1756,1228 1750,1228 1745,1229 1740,1229 1735,1229" fill="#4133be"/>
<polygon points="1735,1219 1740,1218 1745,1217 1750,1216 1756,1215 1763,1214 1769,1213 1775,1212 1781,1211 1787,1210 1794,1210 1801,1210 1810,1211 1822,1211 1835,1211 1848,1211 1859,1210 1870,1209 1880,1208 1888,1207 1895,1207 1905,1206 1919,1205 1935,1203 1950,1202 1964,1201 1978,1200 1990,1199 2000,1198 2009,1198 2020,1198 2036,1196 2053,1195 2070,1193 2084,1192 2096,1191 2108,1190 2119,1189 2129,1190 2140,1189 2152,1189 2164,1188 2180,1186 2203,1185 2230,1183 2251,1183 2260,1184 2262,1185 2265,1187 2265,1190 2262,1190 2260,1189 2251,1189 2230,1191 2203,1192 2180,1194 2164,1195 2152,1196 2140,1197 2129,1197 2119,1198 2108,1198 2096,1199 2084,1200 2070,1201 2053,1203 2036,1204 2020,1205 2009,1206 2000,1206 1990,1207 1978,1208 1964,1209 1950,1210 1935,1211 1919,1212 1905,1213 1895,1214 1888,1214 1880,1215 1870,1216 1859,1217 1848,1217 1835,1218 1822,1219 1810,1219 1801,1219 1794,1220 1787,1220 1781,1220 1775,1221 1769,1222 1763,1223 1756,1223 1750,1224 1745,1224 1740,1225 1735,1225" fill="#474cea"/>
<polygon points="1735,1215 1740,1214 1745,1213 1750,1212 1756,1211 1763,1210 1769,1208 1775,1207 1781,1205 1787,1204 1794,1204 1801,1205 1810,1206 1822,1206 1835,1207 1848,1207 1859,1206 1870,1204 1880,1203 1888,1203 1895,1202 1905,1202 1919,1200 1935,1199 1950,1197 1964,1196 1978,1195 1990,1194 2000,1194 2009,1194 2020,1193 2036,1192 2053,1190 2070,1189 2084,1187 2096,1186 2108,1185 2119,1185 2129,1185 2140,1185 2152,1184 2164,1183 2180,1182 2203,1181 2230,1179 2251,1179 2260,1180 2262,1183 2265,1185 2265,1189 2262,1187 2260,1186 2251,1186 2230,1186 2203,1188 2180,1190 2164,1191 2152,1192 2140,1193 2129,1193 2119,1193 2108,1193 2096,1194 2084,1195 2070,1197 2053,1198 2036,1200 2020,1201 2009,1201 2000,1202 1990,1202 1978,1203 1964,1204 1950,1205 1935,1206 1919,1208 1905,1209 1895,1210 1888,1210 1880,1211 1870,1212 1859,1213 1848,1213 1835,1214 1822,1214 1810,1214 1801,1214 1794,1214 1787,1214 1781,1215 1775,1216 1769,1217 1763,1218 1756,1219 1750,1219 1745,1220 1740,1221 1735,1222" fill="#3c6af5"/>
<polygon points="1735,1211 1740,1210 1745,1209 1750,1207 1756,1206 1763,1205 1769,1203 1775,1201 1781,1199 1787,1198 1794,1199 1801,1200 1810,1201 1822,1202 1835,1203 1848,1203 1859,1202 1870,1200 1880,1199 1888,1198 1895,1198 1905,1198 1919,1196 1935,1194 1950,1193 1964,1192 1978,1190 1990,1190 2000,1189 2009,1190 2020,1189 2036,1188 2053,1186 2070,1184 2084,1182 2096,1181 2108,1180 2119,1180 2129,1181 2140,1181 2152,1180 2164,1179 2180,1178 2203,1176 2230,1175 2251,1175 2260,1177 2262,1180 2265,1184 2265,1187 2262,1185 2260,1183 2251,1182 2230,1182 2203,1184 2180,1185 2164,1186 2152,1187 2140,1188 2129,1188 2119,1188 2108,1188 2096,1189 2084,1190 2070,1192 2053,1194 2036,1195 2020,1197 2009,1197 2000,1197 1990,1198 1978,1198 1964,1200 1950,1201 1935,1202 1919,1204 1905,1205 1895,1205 1888,1206 1880,1206 1870,1207 1859,1209 1848,1210 1835,1210 1822,1210 1810,1209 1801,1209 1794,1208 1787,1208 1781,1209 1775,1211 1769,1212 1763,1213 1756,1214 1750,1215 1745,1216 1740,1217 1735,1218" fill="#2d89f6"/>
<polygon points="1735,1207 1740,1206 1745,1204 1750,1203 1756,1201 1763,1200 1769,1198 1775,1196 1781,1194 1787,1192 1794,1193 1801,1194 1810,1196 1822,1197 1835,1198 1848,1199 1859,1198 1870,1196 1880,1195 1888,1194 1895,1194 1905,1193 1919,1192 1935,1190 1950,1188 1964,1187 1978,1186 1990,1185 2000,1185 2009,1185 2020,1185 2036,1183 2053,1181 2070,1179 2084,1177 2096,1176 2108,1175 2119,1175 2129,1176 2140,1177 2152,1176 2164,1175 2180,1173 2203,1172 2230,1171 2251,1171 2260,1174 2262,1178 2265,1182 2265,1185 2262,1182 2260,1179 2251,1178 2230,1178 2203,1179 2180,1181 2164,1182 2152,1183 2140,1184 2129,1184 2119,1183 2108,1183 2096,1184 2084,1186 2070,1187 2053,1189 2036,1191 2020,1192 2009,1193 2000,1193 1990,1193 1978,1194 1964,1195 1950,1196 1935,1198 1919,1199 1905,1201 1895,1201 1888,1202 1880,1202 1870,1203 1859,1205 1848,1206 1835,1206 1822,1205 1810,1204 1801,1204 1794,1203 1787,1202 1781,1203 1775,1205 1769,1207 1763,1208 1756,1209 1750,1210 1745,1212 1740,1213 1735,1214" fill="#1ca1e2"/>
<polygon points="1735,1203 1740,1202 1745,1200 1750,1198 1756,1197 1763,1195 1769,1193 1775,1191 1781,1188 1787,1187 1794,1187 1801,1189 1810,1191 1822,1193 1835,1194 1848,1195 1859,1194 1870,1192 1880,1190 1888,1190 1895,1190 1905,1189 1919,1188 1935,1186 1950,1184 1964,1182 1978,1181 1990,1180 2000,1180 2009,1181 2020,1181 2036,1179 2053,1177 2070,1175 2084,1173 2096,1171 2108,1170 2119,1170 2129,1172 2140,1172 2152,1172 2164,1170 2180,1169 2203,1168 2230,1167 2251,1167 2260,1170 2262,1175 2265,1180 2265,1183 2262,1180 2260,1176 2251,1174 2230,1174 2203,1175 2180,1176 2164,1178 2152,1179 2140,1180 2129,1179 2119,1178 2108,1178 2096,1179 2084,1181 2070,1183 2053,1185 2036,1187 2020,1188 2009,1188 2000,1188 1990,1188 1978,1189 1964,1190 1950,1192 1935,1193 1919,1195 1905,1196 1895,1197 1888,1197 1880,1198 1870,1199 1859,1201 1848,1202 1835,1201 1822,1200 1810,1199 1801,1198 1794,1197 1787,1197 1781,1198 1775,1200 1769,1202 1763,1203 1756,1205 1750,1206 1745,1207 1740,1209 1735,1210" fill="#1ab6c9"/>
<polygon points="1735,1199 1740,1198 1745,1196 1750,1194 1756,1192 1763,1190 1769,1188 1775,1186 1781,1182 1787,1181 1794,1182 1801,1184 1810,1186 1822,1188 1835,1190 1848,1191 1859,1190 1870,1188 1880,1186 1888,1186 1895,1186 1905,1185 1919,1183 1935,1181 1950,1179 1964,1178 1978,1177 1990,1176 2000,1176 2009,1177 2020,1176 2036,1175 2053,1172 2070,1170 2084,1168 2096,1166 2108,1164 2119,1165 2129,1167 2140,1168 2152,1167 2164,1166 2180,1165 2203,1163 2230,1163 2251,1164 2260,1167 2262,1173 2265,1178 2265,1181 2262,1177 2260,1173 2251,1170 2230,1170 2203,1171 2180,1172 2164,1173 2152,1175 2140,1176 2129,1175 2119,1174 2108,1173 2096,1174 2084,1176 2070,1178 2053,1180 2036,1182 2020,1184 2009,1184 2000,1184 1990,1184 1978,1185 1964,1186 1950,1187 1935,1189 1919,1191 1905,1192 1895,1193 1888,1193 1880,1194 1870,1195 1859,1197 1848,1198 1835,1197 1822,1196 1810,1195 1801,1193 1794,1191 1787,1191 1781,1192 1775,1195 1769,1197 1763,1199 1756,1200 1750,1202 1745,1203 1740,1205 1735,1206" fill="#2fc3a4"/>
<polygon points="1735,1196 1740,1194 1745,1192 1750,1190 1756,1188 1763,1186 1769,1183 1775,1180 1781,1177 1787,1175 1794,1176 1801,1179 1810,1181 1822,1183 1835,1186 1848,1187 1859,1186 1870,1184 1880,1182 1888,1181 1895,1181 1905,1181 1919,1179 1935,1177 1950,1175 1964,1173 1978,1172 1990,1171 2000,1171 2009,1172 2020,1172 2036,1170 2053,1168 2070,1165 2084,1163 2096,1161 2108,1159 2119,1160 2129,1163 2140,1164 2152,1163 2164,1162 2180,1160 2203,1159 2230,1158 2251,1160 2260,1164 2262,1170 2265,1176 2265,1179 2262,1174 2260,1170 2251,1166 2230,1166 2203,1167 2180,1168 2164,1169 2152,1171 2140,1171 2129,1170 2119,1169 2108,1168 2096,1169 2084,1171 2070,1173 2053,1175 2036,1178 2020,1179 2009,1180 2000,1179 1990,1179 1978,1180 1964,1181 1950,1183 1935,1184 1919,1186 1905,1188 1895,1189 1888,1189 1880,1189 1870,1191 1859,1193 1848,1194 1835,1193 1822,1191 1810,1190 1801,1188 1794,1186 1787,1185 1781,1187 1775,1189 1769,1192 1763,1194 1756,1195 1750,1197 1745,1199 1740,1201 1735,1202" fill="#62c874"/>
<polygon points="1735,1192 1740,1190 1745,1187 1750,1185 1756,1183 1763,1181 1769,1178 1775,1175 1781,1171 1787,1169 1794,1170 1801,1173 1810,1176 1822,1179 1835,1182 1848,1183 1859,1182 1870,1180 1880,1178 1888,1177 1895,1177 1905,1177 1919,1175 1935,1172 1950,1170 1964,1169 1978,1167 1990,1167 2000,1167 2009,1168 2020,1168 2036,1166 2053,1163 2070,1161 2084,1158 2096,1156 2108,1154 2119,1156 2129,1158 2140,1160 2152,1159 2164,1157 2180,1156 2203,1155 2230,1154 2251,1156 2260,1161 2262,1167 2265,1174 2265,1177 2262,1172 2260,1166 2251,1162 2230,1161 2203,1162 2180,1163 2164,1165 2152,1166 2140,1167 2129,1166 2119,1164 2108,1163 2096,1164 2084,1166 2070,1169 2053,1171 2036,1173 2020,1175 2009,1175 2000,1175 1990,1174 1978,1175 1964,1177 1950,1178 1935,1180 1919,1182 1905,1184 1895,1184 1888,1185 1880,1185 1870,1187 1859,1189 1848,1190 1835,1189 1822,1187 1810,1185 1801,1182 1794,1180 1787,1179 1781,1181 1775,1184 1769,1187 1763,1189 1756,1191 1750,1193 1745,1195 1740,1197 1735,1198" fill="#a6c73d"/>
<polygon points="1735,1188 1740,1186 1745,1183 1750,1181 1756,1178 1763,1176 1769,1173 1775,1170 1781,1166 1787,1163 1794,1165 1801,1168 1810,1171 1822,1174 1835,1177 1848,1179 1859,1178 1870,1175 1880,1173 1888,1173 1895,1173 1905,1172 1919,1170 1935,1168 1950,1166 1964,1164 1978,1163 1990,1162 2000,1162 2009,1163 2020,1163 2036,1162 2053,1159 2070,1156 2084,1153 2096,1151 2108,1149 2119,1151 2129,1154 2140,1155 2152,1155 2164,1153 2180,1152 2203,1151 2230,1150 2251,1152 2260,1157 2262,1165 2265,1172 2265,1176 2262,1169 2260,1163 2251,1159 2230,1157 2203,1158 2180,1159 2164,1160 2152,1162 2140,1163 2129,1161 2119,1159 2108,1158 2096,1159 2084,1162 2070,1164 2053,1166 2036,1169 2020,1171 2009,1171 2000,1170 1990,1170 1978,1171 1964,1172 1950,1174 1935,1176 1919,1178 1905,1180 1895,1180 1888,1180 1880,1181 1870,1183 1859,1185 1848,1186 1835,1185 1822,1182 1810,1180 1801,1177 1794,1174 1787,1173 1781,1175 1775,1179 1769,1182 1763,1184 1756,1186 1750,1188 1745,1190 1740,1192 1735,1195" fill="#d8c538"/>
<polygon points="1735,1184 1740,1181 1745,1179 1750,1176 1756,1174 1763,1171 1769,1168 1775,1164 1781,1160 1787,1158 1794,1159 1801,1163 1810,1166 1822,1170 1835,1173 1848,1175 1859,1174 1870,1171 1880,1169 1888,1169 1895,1169 1905,1168 1919,1166 1935,1164 1950,1161 1964,1160 1978,1158 1990,1157 2000,1158 2009,1159 2020,1159 2036,1157 2053,1154 2070,1151 2084,1148 2096,1146 2108,1144 2119,1146 2129,1149 2140,1151 2152,1150 2164,1149 2180,1147 2203,1146 2230,1146 2251,1148 2260,1154 2262,1162 2265,1171 2265,1174 2262,1167 2260,1160 2251,1155 2230,1153 2203,1154 2180,1155 2164,1156 2152,1158 2140,1159 2129,1157 2119,1154 2108,1153 2096,1154 2084,1157 2070,1159 2053,1162 2036,1165 2020,1167 2009,1167 2000,1166 1990,1165 1978,1166 1964,1167 1950,1169 1935,1171 1919,1174 1905,1175 1895,1176 1888,1176 1880,1177 1870,1178 1859,1181 1848,1182 1835,1180 1822,1178 1810,1175 1801,1172 1794,1169 1787,1168 1781,1170 1775,1173 1769,1177 1763,1179 1756,1182 1750,1184 1745,1186 1740,1188 1735,1191" fill="#fdca34"/>
<polygon points="1735,1183 1740,1180 1745,1178 1750,1175 1756,1172 1763,1170 1769,1167 1775,1163 1781,1158 1787,1156 1794,1158 1801,1161 1810,1165 1822,1169 1835,1172 1848,1174 1859,1173 1870,1170 1880,1168 1888,1168 1895,1168 1905,1167 1919,1165 1935,1162 1950,1160 1964,1158 1978,1157 1990,1156 2000,1157 2009,1158 2020,1158 2036,1156 2053,1153 2070,1150 2084,1147 2096,1144 2108,1143 2119,1145 2129,1148 2140,1150 2152,1149 2164,1147 2180,1146 2203,1145 2230,1145 2251,1147 2260,1153 2262,1162 2265,1170 2265,1172 2262,1164 2260,1156 2251,1151 2230,1149 2203,1149 2180,1150 2164,1152 2152,1154 2140,1154 2129,1152 2119,1150 2108,1148 2096,1149 2084,1152 2070,1155 2053,1157 2036,1160 2020,1162 2009,1162 2000,1161 1990,1161 1978,1161 1964,1163 1950,1165 1935,1167 1919,1169 1905,1171 1895,1172 1888,1172 1880,1172 1870,1174 1859,1177 1848,1178 1835,1176 1822,1173 1810,1170 1801,1167 1794,1163 1787,1162 1781,1164 1775,1168 1769,1172 1763,1175 1756,1177 1750,1179 1745,1182 1740,1184 1735,1187" fill="#faeb1f"/>
<polygon points="1780,1228 1787,1224 1794,1219 1800,1215 1804,1209 1808,1203 1812,1200 1817,1203 1823,1209 1828,1215 1833,1219 1839,1222 1844,1226" fill="#3e26a8"/>
<polygon points="1868,1226 1876,1217 1883,1207 1890,1200 1895,1195 1898,1193 1902,1192 1906,1193 1911,1196 1915,1200 1919,1207 1922,1215 1925,1224" fill="#3e26a8"/>
<polygon points="2092,1210 2095,1205 2099,1199 2102,1195 2104,1192 2106,1189 2108,1188 2110,1189 2112,1192 2115,1195 2118,1199 2122,1203 2125,1208" fill="#3e26a8"/>
<polygon points="1636,885 1637,878 1638,872 1639,867 1640,862 1641,858 1642,855 1644,852 1645,850 1646,849 1647,848 1648,847 1649,848 1651,850 1652,852 1654,855 1656,858 1658,860 1660,863 1662,866 1664,870 1666,875 1669,882 1672,889" fill="#3e26a8"/>
<polygon points="1619,1200 1617,1180 1615,1160 1613,1138 1612,1113 1610,1087 1608,1060 1607,1033 1605,1005 1604,980 1604,960 1604,942 1603,922 1602,899 1601,875 1600,850 1598,850 1599,875 1600,899 1601,922 1601,942 1602,960 1602,980 1603,1005 1604,1033 1606,1060 1608,1087 1609,1113 1611,1138 1613,1160 1615,1180 1617,1200" fill="#2e87f7"/>
<polygon points="1621,1200 1619,1180 1617,1160 1615,1138 1613,1113 1612,1087 1610,1060 1609,1033 1607,1005 1606,980 1606,960 1606,942 1605,922 1604,899 1603,875 1602,850 1600,850 1601,875 1602,899 1603,922 1603,942 1603,960 1604,980 1605,1005 1606,1033 1608,1060 1609,1087 1611,1113 1613,1138 1615,1160 1617,1180 1619,1200" fill="#1f9de6"/>
<polygon points="1623,1200 1621,1180 1619,1160 1617,1138 1615,1113 1613,1087 1612,1060 1610,1033 1609,1005 1608,980 1607,960 1607,942 1607,922 1606,899 1605,875 1604,850 1602,850 1603,875 1604,899 1605,922 1605,942 1605,960 1606,980 1607,1005 1608,1033 1610,1060 1611,1087 1613,1113 1615,1138 1617,1160 1619,1180 1621,1200" fill="#14b2d3"/>
<polygon points="1625,1200 1623,1180 1621,1160 1619,1138 1617,1113 1615,1087 1614,1060 1612,1033 1611,1005 1610,980 1609,960 1609,942 1609,922 1608,899 1607,875 1606,850 1603,850 1604,875 1606,899 1606,922 1607,942 1607,960 1607,980 1608,1005 1610,1033 1611,1060 1613,1087 1615,1113 1616,1138 1618,1160 1620,1180 1622,1200" fill="#27beb3"/>
<polygon points="1626,1200 1624,1180 1622,1160 1620,1138 1618,1113 1617,1087 1615,1060 1613,1033 1612,1005 1611,980 1611,960 1610,942 1610,922 1609,899 1608,875 1607,850 1605,850 1606,875 1607,899 1608,922 1609,942 1609,960 1609,980 1610,1005 1612,1033 1613,1060 1615,1087 1616,1113 1618,1138 1620,1160 1622,1180 1624,1200" fill="#40c88f"/>
<polygon points="1635,1200 1634,1180 1633,1160 1632,1138 1632,1113 1632,1087 1632,1060 1632,1033 1632,1005 1632,980 1632,958 1632,939 1632,922 1632,907 1633,894 1634,882 1635,872 1636,864 1637,857 1638,851 1640,847 1641,843 1642,841 1643,840 1645,841 1649,843 1654,846 1659,849 1662,853 1664,857 1666,862 1670,871 1673,881 1677,892 1682,907 1688,923 1694,939 1699,956 1705,972 1710,988 1715,1005 1720,1021 1724,1036 1729,1050 1733,1063 1737,1075 1740,1087 1744,1099 1748,1111 1752,1125 1756,1141 1760,1154 1763,1165 1765,1173 1767,1180 1769,1186 1770,1190 1772,1195 1770,1200 1768,1195 1767,1191 1765,1185 1763,1178 1761,1170 1758,1160 1754,1146 1750,1130 1746,1115 1742,1103 1739,1092 1735,1080 1731,1068 1727,1056 1723,1042 1719,1027 1714,1010 1709,994 1704,978 1698,962 1692,946 1686,929 1680,913 1675,898 1671,887 1667,877 1664,870 1661,865 1658,861 1656,858 1653,854 1651,850 1649,848 1647,847 1646,848 1645,850 1643,853 1642,857 1640,862 1639,868 1637,876 1636,885 1635,896 1634,908 1634,922 1634,939 1634,958 1634,980 1634,1005 1634,1033 1634,1060 1634,1087 1633,1113 1633,1138 1634,1160 1635,1180 1636,1200" fill="#4031bb"/>
<polygon points="1635,1200 1634,1180 1632,1160 1632,1138 1631,1113 1632,1087 1632,1060 1632,1033 1632,1005 1631,980 1631,958 1631,939 1631,922 1632,907 1632,893 1633,881 1634,871 1635,862 1636,855 1637,849 1638,844 1639,840 1640,838 1640,837 1643,837 1648,839 1655,842 1660,845 1663,849 1665,853 1668,858 1671,868 1674,878 1678,890 1683,904 1689,920 1694,937 1700,953 1705,970 1711,986 1716,1003 1720,1019 1725,1034 1729,1048 1733,1061 1737,1074 1741,1085 1745,1097 1748,1109 1753,1124 1757,1139 1761,1152 1763,1162 1766,1171 1768,1178 1770,1184 1771,1189 1773,1194 1771,1198 1769,1194 1768,1189 1766,1183 1764,1176 1761,1168 1759,1158 1755,1144 1751,1128 1747,1114 1743,1101 1739,1090 1736,1078 1732,1066 1728,1054 1723,1040 1719,1025 1714,1008 1709,992 1704,976 1698,960 1693,944 1687,927 1681,910 1676,896 1672,884 1668,874 1665,866 1662,861 1660,857 1657,854 1654,850 1650,847 1647,845 1645,844 1644,845 1643,847 1642,850 1641,855 1639,861 1638,867 1636,875 1635,884 1634,895 1634,907 1633,922 1633,939 1633,958 1633,980 1634,1005 1634,1033 1634,1060 1633,1087 1633,1113 1633,1138 1633,1160 1635,1180 1636,1200" fill="#4647e1"/>
<polygon points="1635,1200 1633,1180 1632,1160 1631,1138 1631,1113 1631,1087 1631,1060 1631,1033 1631,1005 1631,980 1631,958 1631,939 1631,922 1631,906 1631,892 1632,880 1633,870 1634,861 1635,854 1636,847 1637,842 1637,836 1637,834 1638,834 1641,834 1647,835 1655,838 1662,841 1665,844 1667,849 1669,854 1672,864 1675,876 1679,888 1684,902 1689,918 1695,934 1700,951 1706,968 1711,984 1716,1001 1721,1017 1725,1032 1730,1046 1734,1059 1738,1072 1742,1084 1745,1095 1749,1108 1753,1122 1758,1137 1761,1150 1764,1160 1767,1168 1769,1175 1770,1182 1772,1187 1774,1192 1771,1197 1770,1192 1768,1187 1766,1181 1764,1174 1762,1166 1759,1156 1756,1142 1751,1127 1747,1112 1744,1100 1740,1088 1736,1077 1732,1064 1728,1052 1724,1038 1720,1023 1715,1006 1710,990 1705,974 1699,957 1693,941 1687,925 1682,908 1677,894 1673,882 1669,871 1666,862 1664,857 1662,853 1659,850 1654,846 1649,843 1645,841 1643,841 1642,841 1641,843 1640,848 1639,853 1638,859 1637,866 1636,874 1635,883 1634,894 1633,907 1633,922 1633,939 1633,958 1633,980 1633,1005 1633,1033 1633,1060 1633,1087 1632,1113 1632,1138 1633,1160 1634,1180 1635,1200" fill="#425ff5"/>
<polygon points="1634,1200 1633,1180 1632,1160 1631,1138 1631,1113 1631,1087 1631,1060 1631,1033 1630,1005 1630,980 1630,958 1630,939 1630,922 1630,906 1631,892 1631,879 1632,868 1633,859 1634,852 1635,845 1635,839 1634,833 1635,831 1636,830 1639,830 1646,831 1655,834 1663,837 1666,840 1668,844 1670,850 1673,861 1676,873 1680,886 1685,900 1690,915 1695,931 1701,948 1706,965 1712,982 1717,998 1722,1015 1726,1030 1730,1044 1734,1057 1738,1070 1742,1082 1746,1094 1750,1106 1754,1120 1758,1135 1762,1148 1765,1158 1767,1166 1769,1173 1771,1179 1773,1185 1774,1190 1772,1195 1771,1190 1769,1185 1767,1179 1765,1172 1763,1164 1760,1154 1756,1140 1752,1125 1748,1110 1744,1098 1741,1087 1737,1075 1733,1062 1729,1050 1725,1036 1720,1020 1715,1004 1710,988 1705,971 1699,955 1694,939 1688,922 1683,906 1677,892 1674,879 1670,868 1668,858 1665,853 1663,849 1660,845 1655,842 1648,839 1643,838 1641,837 1640,838 1639,840 1639,845 1638,851 1637,857 1636,864 1635,872 1634,882 1633,894 1632,907 1632,922 1632,939 1632,958 1632,980 1632,1005 1632,1033 1633,1060 1632,1087 1632,1113 1632,1138 1633,1160 1634,1180 1635,1200" fill="#347af6"/>
<polygon points="1634,1200 1633,1180 1631,1160 1630,1138 1630,1113 1630,1087 1630,1060 1630,1033 1630,1005 1629,980 1629,959 1629,939 1629,922 1629,906 1630,891 1630,878 1631,867 1632,858 1633,850 1634,843 1634,836 1632,829 1633,827 1633,826 1636,826 1645,827 1656,829 1664,832 1668,836 1669,840 1671,846 1674,858 1677,870 1681,883 1686,897 1691,913 1696,929 1702,945 1707,963 1712,979 1717,996 1722,1012 1727,1027 1731,1042 1735,1055 1739,1068 1743,1080 1747,1092 1751,1104 1755,1118 1759,1133 1763,1145 1766,1155 1768,1164 1770,1171 1772,1177 1774,1183 1775,1188 1773,1193 1772,1188 1770,1183 1768,1177 1766,1170 1764,1162 1761,1151 1757,1138 1753,1123 1749,1109 1745,1096 1741,1085 1737,1073 1733,1060 1729,1047 1725,1033 1721,1018 1716,1002 1711,985 1706,969 1700,952 1694,936 1689,919 1683,904 1678,889 1675,877 1671,865 1669,854 1667,849 1665,845 1661,841 1655,838 1647,835 1641,834 1638,834 1637,834 1637,836 1637,843 1637,849 1636,856 1635,863 1634,871 1633,881 1632,893 1632,907 1631,922 1631,939 1631,958 1632,980 1632,1005 1632,1033 1632,1060 1632,1087 1631,1113 1632,1138 1632,1160 1634,1180 1635,1200" fill="#2792ef"/>
<polygon points="1634,1200 1632,1180 1631,1160 1630,1138 1630,1113 1630,1087 1630,1060 1629,1033 1629,1005 1629,980 1629,959 1628,940 1628,922 1629,905 1629,890 1629,877 1630,866 1631,856 1632,848 1632,840 1632,833 1630,825 1630,823 1631,823 1634,823 1644,823 1656,825 1666,828 1670,831 1671,836 1673,842 1675,854 1678,867 1682,881 1687,894 1692,910 1697,926 1702,942 1708,960 1713,977 1718,993 1723,1010 1727,1025 1732,1039 1736,1053 1740,1066 1744,1078 1748,1090 1751,1102 1756,1116 1760,1130 1764,1143 1767,1153 1769,1161 1771,1168 1773,1175 1775,1180 1776,1186 1774,1191 1772,1186 1771,1181 1769,1174 1767,1167 1765,1159 1762,1149 1758,1136 1754,1121 1749,1107 1746,1095 1742,1083 1738,1071 1734,1058 1730,1045 1726,1031 1721,1016 1717,1000 1712,983 1706,966 1701,949 1695,933 1690,917 1684,901 1679,887 1676,874 1673,862 1670,850 1668,844 1666,840 1663,837 1655,834 1646,831 1639,830 1636,830 1635,831 1634,833 1636,840 1636,847 1635,854 1634,861 1633,870 1632,880 1631,892 1631,906 1631,922 1631,939 1631,958 1631,980 1631,1005 1631,1033 1631,1060 1631,1087 1631,1113 1631,1138 1632,1160 1633,1180 1635,1200" fill="#19a7de"/>
<polygon points="1633,1200 1632,1180 1631,1160 1630,1138 1629,1113 1629,1087 1629,1060 1629,1033 1628,1005 1628,980 1628,959 1628,940 1628,922 1628,905 1628,889 1628,876 1629,864 1630,854 1631,846 1631,838 1630,830 1627,822 1628,820 1628,819 1632,819 1643,819 1657,820 1667,823 1671,827 1672,831 1674,838 1676,851 1679,864 1683,878 1688,892 1693,906 1698,922 1703,939 1708,957 1714,974 1719,991 1723,1007 1728,1022 1732,1037 1737,1050 1741,1063 1745,1076 1748,1088 1752,1100 1757,1114 1761,1128 1765,1140 1768,1150 1770,1158 1772,1166 1774,1172 1776,1178 1777,1183 1775,1189 1773,1183 1772,1178 1770,1172 1768,1165 1765,1157 1762,1147 1759,1134 1754,1119 1750,1105 1746,1093 1743,1081 1739,1069 1735,1056 1731,1043 1726,1029 1722,1013 1717,997 1712,981 1707,964 1701,946 1696,930 1690,914 1685,898 1680,885 1677,871 1674,858 1671,846 1669,840 1668,836 1664,832 1656,829 1645,827 1636,826 1633,826 1633,827 1632,829 1634,837 1634,844 1634,852 1633,859 1632,868 1631,879 1630,892 1630,906 1630,922 1630,939 1630,958 1630,980 1630,1005 1631,1033 1631,1060 1631,1087 1631,1113 1631,1138 1632,1160 1633,1180 1634,1200" fill="#1bb7c6"/>
<polygon points="1633,1200 1632,1180 1630,1160 1629,1138 1629,1113 1628,1087 1628,1060 1628,1033 1627,1005 1627,980 1627,959 1627,940 1627,922 1627,905 1627,889 1627,874 1628,862 1629,852 1630,844 1629,835 1628,827 1625,818 1625,816 1625,815 1630,815 1641,815 1657,816 1669,818 1673,822 1674,827 1675,833 1678,847 1681,861 1684,875 1689,888 1693,903 1698,919 1704,936 1709,954 1714,971 1719,988 1724,1004 1729,1019 1733,1034 1737,1048 1741,1061 1745,1074 1749,1086 1753,1098 1757,1111 1762,1125 1766,1137 1769,1147 1771,1155 1773,1163 1775,1170 1777,1175 1778,1181 1776,1186 1774,1181 1773,1176 1771,1169 1769,1162 1766,1154 1763,1144 1760,1131 1755,1117 1751,1103 1747,1091 1743,1079 1740,1066 1736,1054 1731,1040 1727,1026 1722,1010 1718,994 1713,978 1707,961 1702,943 1697,927 1691,911 1686,895 1681,882 1678,868 1675,855 1673,842 1671,835 1670,831 1666,827 1656,825 1644,823 1634,822 1631,822 1630,823 1630,825 1632,834 1633,842 1633,850 1632,857 1631,867 1630,878 1630,891 1629,906 1629,922 1629,939 1629,959 1629,980 1630,1005 1630,1033 1630,1060 1630,1087 1630,1113 1630,1138 1631,1160 1633,1180 1634,1200" fill="#2ec2a7"/>
<polygon points="1632,1200 1631,1180 1630,1160 1628,1138 1628,1113 1628,1087 1627,1060 1627,1033 1626,1005 1626,980 1626,959 1626,940 1626,922 1626,904 1626,888 1626,873 1626,860 1627,849 1628,841 1627,832 1626,823 1623,814 1623,812 1623,811 1627,810 1640,810 1657,811 1671,813 1675,817 1676,822 1677,829 1679,843 1682,857 1685,872 1690,885 1695,899 1699,915 1705,932 1710,950 1715,968 1720,985 1725,1001 1730,1016 1734,1031 1738,1045 1742,1058 1746,1071 1750,1083 1754,1095 1759,1109 1763,1122 1767,1134 1770,1144 1772,1152 1775,1160 1776,1167 1778,1172 1780,1178 1777,1184 1775,1178 1774,1173 1772,1166 1770,1159 1767,1151 1764,1141 1761,1128 1756,1114 1752,1101 1748,1088 1744,1076 1740,1064 1736,1051 1732,1037 1728,1023 1723,1007 1718,991 1713,975 1708,958 1703,940 1697,923 1692,907 1687,892 1683,879 1679,865 1676,851 1674,837 1673,831 1672,826 1667,823 1657,820 1642,819 1632,818 1628,818 1628,819 1627,821 1630,831 1631,839 1632,847 1631,855 1630,865 1629,876 1628,890 1628,905 1628,922 1628,940 1628,959 1628,980 1629,1005 1629,1033 1629,1060 1629,1087 1629,1113 1630,1138 1631,1160 1632,1180 1634,1200" fill="#54c880"/>
<polygon points="1632,1200 1630,1180 1629,1160 1628,1138 1627,1113 1627,1087 1626,1060 1626,1033 1625,1005 1625,980 1625,959 1624,940 1624,922 1624,904 1624,886 1624,871 1625,858 1625,847 1626,838 1625,828 1623,819 1620,809 1620,807 1620,806 1625,806 1639,806 1658,806 1672,808 1677,811 1677,817 1678,824 1680,838 1684,853 1687,868 1691,881 1696,895 1700,910 1705,928 1711,946 1716,964 1721,981 1726,997 1730,1012 1735,1027 1739,1042 1743,1055 1747,1068 1751,1080 1755,1093 1760,1106 1764,1119 1768,1130 1771,1140 1774,1149 1776,1156 1778,1163 1779,1169 1781,1175 1778,1181 1777,1176 1775,1170 1773,1163 1771,1156 1769,1147 1765,1138 1762,1125 1757,1112 1753,1098 1749,1086 1745,1074 1741,1061 1737,1048 1733,1034 1729,1020 1724,1004 1719,988 1714,972 1709,954 1704,936 1698,919 1693,903 1689,889 1684,876 1681,861 1678,847 1675,833 1674,826 1673,821 1669,818 1657,815 1641,814 1629,814 1625,814 1625,815 1625,817 1628,827 1629,836 1630,845 1629,853 1628,863 1628,875 1627,889 1627,905 1627,922 1627,940 1627,959 1627,980 1628,1005 1628,1033 1628,1060 1629,1087 1629,1113 1629,1138 1630,1160 1632,1180 1633,1200" fill="#8ec750"/>
<polygon points="1631,1200 1630,1180 1628,1160 1627,1138 1626,1113 1626,1087 1625,1060 1625,1033 1624,1005 1623,980 1623,959 1623,940 1623,922 1623,903 1623,885 1623,869 1623,855 1624,843 1624,834 1623,824 1621,815 1617,805 1617,803 1617,802 1622,801 1637,801 1658,801 1674,802 1679,806 1679,811 1680,819 1682,834 1685,849 1689,864 1693,877 1697,890 1702,905 1707,923 1712,942 1717,960 1722,977 1727,993 1731,1008 1736,1023 1740,1038 1745,1052 1749,1065 1753,1077 1757,1090 1761,1102 1765,1115 1769,1126 1772,1136 1775,1144 1777,1152 1779,1159 1781,1166 1782,1172 1780,1178 1778,1172 1776,1167 1775,1160 1772,1152 1770,1144 1767,1134 1763,1122 1759,1109 1754,1095 1750,1083 1746,1071 1742,1058 1738,1045 1734,1031 1730,1016 1725,1001 1720,985 1715,968 1710,950 1705,932 1699,915 1695,899 1690,885 1685,872 1682,857 1679,842 1677,828 1676,821 1675,816 1671,812 1657,810 1640,810 1627,810 1622,810 1622,811 1622,813 1626,823 1627,832 1628,842 1627,850 1627,861 1626,873 1626,888 1626,904 1626,922 1626,940 1626,959 1626,980 1627,1005 1627,1033 1628,1060 1628,1087 1628,1113 1629,1138 1630,1160 1631,1180 1633,1200" fill="#c0c639"/>
<polygon points="1631,1200 1629,1180 1627,1160 1626,1138 1625,1113 1624,1087 1624,1060 1623,1033 1622,1005 1622,980 1621,959 1621,940 1621,922 1621,903 1621,883 1620,866 1621,852 1621,839 1622,830 1620,819 1618,810 1614,800 1614,798 1613,797 1619,796 1636,795 1659,795 1676,796 1681,800 1681,806 1682,813 1684,828 1687,844 1691,859 1695,871 1699,885 1703,899 1708,917 1713,937 1718,955 1723,972 1728,988 1733,1003 1737,1018 1742,1033 1746,1048 1750,1061 1754,1074 1758,1086 1763,1098 1767,1110 1771,1121 1774,1131 1777,1139 1779,1147 1781,1155 1783,1161 1784,1168 1781,1175 1780,1169 1778,1163 1776,1156 1774,1148 1771,1140 1768,1130 1764,1118 1760,1105 1756,1092 1752,1080 1748,1068 1744,1055 1739,1041 1735,1027 1731,1012 1726,996 1721,980 1716,964 1711,946 1706,927 1701,910 1696,894 1691,881 1687,868 1684,853 1681,837 1679,823 1678,816 1678,810 1673,807 1658,805 1639,805 1624,805 1619,805 1619,806 1619,808 1623,819 1625,828 1626,838 1625,847 1625,858 1624,871 1624,886 1624,904 1624,922 1624,940 1625,959 1625,980 1625,1005 1626,1033 1626,1060 1627,1087 1627,1113 1628,1138 1629,1160 1630,1180 1632,1200" fill="#e9c438"/>
<polygon points="1630,1200 1628,1180 1626,1160 1625,1138 1623,1113 1623,1087 1622,1060 1621,1033 1620,1005 1619,980 1619,959 1619,941 1619,922 1618,902 1618,881 1617,862 1617,847 1618,834 1618,823 1616,812 1614,803 1611,794 1610,792 1610,791 1616,790 1634,789 1660,788 1678,789 1684,793 1683,799 1684,807 1686,821 1690,837 1693,852 1697,864 1701,877 1705,891 1710,909 1715,929 1720,948 1725,965 1730,981 1734,996 1739,1012 1744,1027 1748,1042 1752,1056 1756,1069 1760,1081 1765,1093 1769,1104 1773,1114 1776,1124 1779,1133 1782,1141 1784,1148 1785,1155 1787,1162 1783,1171 1781,1164 1780,1158 1778,1151 1776,1143 1773,1134 1770,1125 1766,1114 1761,1101 1757,1089 1753,1076 1749,1064 1745,1051 1741,1037 1736,1022 1732,1007 1727,991 1722,975 1717,959 1712,940 1707,921 1702,904 1698,889 1693,875 1689,863 1686,847 1683,832 1680,817 1680,810 1680,804 1675,801 1659,799 1637,799 1621,800 1616,800 1616,801 1616,803 1620,814 1622,823 1624,833 1623,843 1622,854 1622,868 1622,885 1622,903 1623,922 1623,940 1623,959 1623,980 1624,1005 1624,1033 1625,1060 1625,1087 1626,1113 1627,1138 1628,1160 1630,1180 1631,1200" fill="#fdd12f"/>
<polygon points="1626,1200 1624,1180 1622,1160 1620,1138 1618,1113 1617,1087 1615,1060 1613,1033 1612,1005 1611,980 1611,960 1610,942 1610,922 1609,898 1608,873 1607,850 1606,831 1606,814 1606,802 1606,795 1607,792 1608,790 1607,788 1607,787 1613,786 1633,784 1660,783 1680,784 1686,788 1685,794 1685,802 1689,813 1694,825 1699,838 1702,849 1706,860 1709,874 1713,893 1718,914 1723,934 1728,951 1733,966 1738,982 1743,998 1747,1015 1752,1030 1756,1044 1761,1058 1765,1070 1769,1081 1774,1091 1778,1100 1781,1109 1784,1118 1787,1127 1789,1135 1790,1142 1792,1150 1785,1165 1784,1158 1782,1152 1780,1144 1778,1136 1775,1128 1772,1118 1768,1107 1764,1096 1759,1084 1755,1071 1751,1059 1747,1045 1743,1031 1738,1016 1733,1000 1729,985 1724,969 1719,952 1714,933 1709,914 1704,896 1700,881 1696,868 1692,856 1688,841 1685,825 1682,811 1682,803 1682,797 1677,794 1659,792 1635,793 1618,794 1612,795 1612,796 1613,798 1616,807 1618,816 1620,827 1620,837 1619,850 1619,865 1619,882 1620,902 1620,922 1620,940 1620,959 1621,980 1621,1005 1622,1033 1623,1060 1624,1087 1624,1113 1625,1138 1627,1160 1628,1180 1630,1200" fill="#faed1e"/>
<polygon points="1785,1120 1784,1097 1783,1075 1782,1050 1781,1020 1780,987 1778,960 1776,944 1775,935 1773,922 1772,903 1771,881 1771,860 1771,841 1771,823 1771,805 1769,805 1769,823 1769,841 1769,860 1769,881 1770,903 1771,922 1772,935 1774,944 1776,960 1777,987 1779,1020 1780,1050 1781,1075 1782,1097 1783,1120" fill="#2e87f7"/>
<polygon points="1787,1120 1786,1097 1785,1075 1784,1050 1782,1020 1781,987 1780,960 1778,944 1776,935 1775,922 1774,903 1773,881 1773,860 1773,841 1773,823 1773,805 1771,805 1771,823 1770,841 1771,860 1771,881 1772,903 1773,922 1774,935 1776,944 1778,960 1779,987 1780,1020 1782,1050 1783,1075 1784,1097 1785,1120" fill="#1f9de6"/>
<polygon points="1788,1120 1787,1097 1786,1075 1785,1050 1784,1020 1783,987 1781,960 1780,944 1778,935 1776,922 1775,903 1775,881 1774,860 1774,841 1774,823 1774,805 1772,805 1772,823 1772,841 1772,860 1773,881 1773,903 1774,922 1776,935 1777,944 1779,960 1781,987 1782,1020 1783,1050 1784,1075 1785,1097 1786,1120" fill="#14b2d3"/>
<polygon points="1790,1120 1789,1097 1788,1075 1787,1050 1786,1020 1784,987 1783,960 1781,944 1779,935 1778,922 1777,903 1776,881 1776,860 1776,841 1776,823 1776,805 1774,805 1774,823 1774,841 1774,860 1774,881 1775,903 1776,922 1777,935 1779,944 1781,960 1782,987 1784,1020 1785,1050 1786,1075 1787,1097 1788,1120" fill="#27beb3"/>
<polygon points="1791,1120 1790,1097 1789,1075 1788,1050 1787,1020 1785,987 1784,960 1782,944 1780,935 1779,922 1778,903 1777,881 1777,860 1777,841 1777,823 1777,805 1775,805 1775,823 1775,841 1775,860 1776,881 1776,903 1777,922 1779,935 1781,944 1782,960 1784,987 1785,1020 1786,1050 1787,1075 1788,1097 1789,1120" fill="#40c88f"/>
<polygon points="1888,928 1888,908 1888,888 1888,870 1888,854 1888,840 1888,825 1886,825 1886,840 1886,854 1886,870 1886,888 1886,908 1886,928" fill="#2e87f7"/>
<polygon points="1890,928 1890,908 1890,888 1890,870 1890,854 1890,840 1890,825 1888,825 1888,840 1888,854 1888,870 1888,888 1888,908 1888,928" fill="#1f9de6"/>
<polygon points="1891,928 1891,908 1891,888 1891,870 1891,854 1891,840 1891,825 1889,825 1889,840 1889,854 1889,870 1889,888 1889,908 1889,928" fill="#14b2d3"/>
<polygon points="1893,928 1893,908 1893,888 1893,870 1893,854 1893,840 1893,825 1891,825 1891,840 1891,854 1891,870 1891,888 1891,908 1891,928" fill="#27beb3"/>
<polygon points="1894,928 1894,908 1894,888 1894,870 1894,854 1894,840 1894,825 1892,825 1892,840 1892,854 1892,870 1892,888 1892,908 1892,928" fill="#40c88f"/>
<polygon points="1998,922 1997,905 1997,888 1996,870 1996,851 1996,832 1996,812 1994,812 1994,832 1994,851 1994,870 1995,888 1995,905 1996,922" fill="#2e87f7"/>
<polygon points="2000,922 1999,905 1998,888 1998,870 1998,851 1998,832 1998,812 1996,812 1996,832 1995,851 1996,870 1996,888 1997,905 1998,922" fill="#1f9de6"/>
<polygon points="2001,922 2001,905 2000,888 1999,870 1999,851 1999,832 1999,812 1997,812 1997,832 1997,851 1997,870 1998,888 1998,905 1999,922" fill="#14b2d3"/>
<polygon points="2003,922 2002,905 2001,888 2001,870 2001,851 2001,832 2001,812 1999,812 1999,832 1999,851 1999,870 1999,888 2000,905 2001,922" fill="#27beb3"/>
<polygon points="2004,922 2003,905 2003,888 2002,870 2002,851 2002,832 2002,812 2000,812 2000,832 2000,851 2000,870 2001,888 2002,905 2002,922" fill="#40c88f"/>
<polygon points="2112,922 2112,905 2111,888 2111,870 2111,849 2111,827 2111,805 2109,805 2109,827 2109,849 2109,870 2109,888 2110,905 2110,922" fill="#2e87f7"/>
<polygon points="2114,922 2113,905 2113,888 2113,870 2113,849 2113,827 2113,805 2111,805 2111,827 2111,849 2111,870 2111,888 2111,905 2112,922" fill="#1f9de6"/>
<polygon points="2115,922 2115,905 2115,888 2114,870 2114,849 2114,827 2114,805 2112,805 2112,827 2112,849 2112,870 2112,888 2113,905 2113,922" fill="#14b2d3"/>
<polygon points="2117,922 2117,905 2116,888 2116,870 2116,849 2116,827 2116,805 2114,805 2114,827 2114,849 2114,870 2114,888 2114,905 2115,922" fill="#27beb3"/>
<polygon points="2118,922 2118,905 2117,888 2117,870 2117,849 2117,827 2117,805 2115,805 2115,827 2115,849 2115,870 2116,888 2116,905 2116,922" fill="#40c88f"/>
<polygon points="1794,1172 1790,1050 1785,960 1780,922 1778,850 1779,790 1781,777 1786,775 1848,773 1853,790 1863,826 1877,874 1889,915 1895,932 1895,850 1895,802 1896,775 1901,768 1969,766 1971,778 1981,826 1993,874 2001,905 2005,925 2003,850 2003,790 2004,765 2010,761 2072,759 2077,778 2091,826 2106,874 2115,905 2119,925 2118,850 2118,790 2119,760 2125,753 2190,749 2195,778 2209,826 2226,874 2240,922 2255,970 2269,1018 2283,1060 2292,1120 2298,1200 2265,1173 2251,1150 2180,1149 2140,1153 2108,1146 2070,1153 2020,1161 1990,1159 1950,1163 1905,1170 1880,1171 1848,1177 1810,1168 1794,1165" fill="#f8f214"/>
<polygon points="1918,985 1918,995 1918,1004 1919,1014 1919,1023 1919,1033 1920,1043 1920,1052 1921,1062 1921,1072 1922,1081 1923,1091 1923,1100 1924,1110 1924,1120 1925,1129 1925,1139 1926,1148 1926,1158 1928,1158 1927,1148 1927,1139 1926,1129 1926,1120 1925,1110 1925,1100 1924,1091 1924,1081 1923,1072 1922,1062 1922,1052 1921,1043 1921,1033 1920,1023 1920,1014 1919,1004 1919,995 1918,985" fill="#425ef5"/>
<polygon points="1918,985 1918,995 1918,1004 1918,1014 1918,1023 1919,1033 1919,1043 1919,1052 1920,1062 1920,1072 1921,1081 1922,1091 1922,1100 1923,1110 1923,1120 1924,1129 1924,1139 1925,1148 1925,1158 1927,1158 1926,1148 1926,1139 1925,1129 1925,1120 1924,1110 1924,1100 1923,1091 1923,1081 1922,1072 1921,1062 1921,1052 1920,1043 1920,1033 1920,1023 1919,1014 1919,1004 1918,995 1918,985" fill="#2e87f7"/>
<polygon points="1917,985 1918,995 1918,1004 1918,1014 1918,1023 1918,1033 1918,1043 1918,1052 1919,1062 1919,1072 1920,1081 1920,1091 1921,1100 1922,1110 1922,1120 1923,1129 1923,1139 1924,1148 1924,1158 1926,1158 1925,1148 1925,1139 1924,1129 1924,1120 1923,1110 1923,1100 1922,1091 1922,1081 1921,1072 1920,1062 1920,1052 1919,1043 1919,1033 1919,1023 1919,1014 1918,1004 1918,995 1918,985" fill="#19a7de"/>
<polygon points="1917,985 1917,995 1917,1004 1917,1014 1917,1023 1917,1033 1917,1043 1917,1052 1918,1062 1918,1072 1919,1081 1919,1091 1920,1100 1920,1110 1921,1120 1922,1129 1922,1139 1923,1148 1923,1158 1925,1158 1924,1148 1924,1139 1923,1129 1923,1120 1922,1110 1922,1100 1921,1091 1921,1081 1920,1072 1919,1062 1919,1052 1918,1043 1918,1033 1918,1023 1918,1014 1918,1004 1918,995 1918,985" fill="#26bdb4"/>
<polygon points="1917,985 1917,995 1917,1004 1916,1014 1916,1023 1916,1033 1916,1043 1916,1052 1917,1062 1917,1072 1918,1081 1918,1091 1919,1100 1919,1110 1920,1120 1920,1129 1921,1139 1922,1148 1922,1158 1924,1158 1923,1148 1923,1139 1922,1129 1922,1120 1921,1110 1921,1100 1920,1091 1919,1081 1919,1072 1918,1062 1918,1052 1917,1043 1917,1033 1917,1023 1917,1014 1917,1004 1917,995 1917,985" fill="#5ac87a"/>
<polygon points="1917,985 1917,995 1916,1004 1916,1014 1915,1023 1915,1033 1915,1043 1915,1052 1915,1062 1916,1072 1916,1081 1917,1091 1918,1100 1918,1110 1919,1120 1919,1129 1920,1139 1920,1148 1921,1158 1923,1158 1922,1148 1922,1139 1921,1129 1920,1120 1920,1110 1919,1100 1919,1091 1918,1081 1918,1072 1917,1062 1917,1052 1916,1043 1916,1033 1917,1023 1917,1014 1917,1004 1917,995 1917,985" fill="#b1c739"/>
<polygon points="1917,985 1916,995 1916,1004 1915,1014 1914,1023 1914,1033 1913,1043 1913,1052 1914,1062 1914,1072 1915,1081 1916,1091 1916,1100 1917,1110 1917,1120 1918,1129 1918,1139 1919,1148 1919,1158 1921,1158 1921,1148 1920,1139 1920,1129 1919,1120 1919,1110 1918,1100 1918,1091 1917,1081 1916,1072 1916,1062 1915,1052 1915,1043 1915,1033 1916,1023 1916,1014 1916,1004 1917,995 1917,985" fill="#f1c438"/>
<polygon points="1916,985 1916,995 1915,1004 1914,1014 1913,1023 1912,1033 1912,1043 1912,1052 1912,1062 1913,1072 1914,1081 1914,1091 1915,1100 1915,1110 1916,1120 1916,1129 1917,1139 1917,1148 1918,1158 1920,1158 1919,1148 1919,1139 1918,1129 1918,1120 1917,1110 1917,1100 1916,1091 1916,1081 1915,1072 1914,1062 1914,1052 1914,1043 1914,1033 1915,1023 1915,1014 1916,1004 1916,995 1917,985" fill="#fbe522"/>
<polygon points="1918,985 1919,995 1920,1004 1920,1014 1921,1023 1922,1033 1923,1043 1923,1052 1924,1062 1924,1072 1925,1081 1925,1091 1926,1100 1927,1110 1927,1120 1928,1129 1928,1139 1929,1148 1929,1158 1928,1158 1927,1148 1927,1139 1926,1129 1926,1120 1925,1110 1925,1100 1924,1091 1924,1081 1923,1072 1922,1062 1922,1052 1921,1043 1921,1033 1920,1023 1920,1014 1919,1004 1919,995 1918,985" fill="#3f65f5"/>
<polygon points="1918,985 1919,995 1920,1004 1921,1014 1922,1023 1923,1033 1924,1043 1924,1052 1925,1062 1925,1072 1926,1081 1926,1091 1927,1100 1928,1110 1928,1120 1929,1129 1929,1139 1930,1148 1930,1158 1929,1158 1928,1148 1928,1139 1927,1129 1927,1120 1926,1110 1926,1100 1925,1091 1924,1081 1924,1072 1923,1062 1923,1052 1922,1043 1922,1033 1921,1023 1920,1014 1919,1004 1919,995 1918,985" fill="#2397ea"/>
<polygon points="1918,985 1919,995 1920,1004 1921,1014 1923,1023 1924,1033 1924,1043 1925,1052 1926,1062 1926,1072 1927,1081 1927,1091 1928,1100 1929,1110 1929,1120 1930,1129 1930,1139 1931,1148 1931,1158 1930,1158 1929,1148 1929,1139 1928,1129 1928,1120 1927,1110 1927,1100 1926,1091 1925,1081 1925,1072 1924,1062 1924,1052 1923,1043 1922,1033 1922,1023 1921,1014 1920,1004 1919,995 1918,985" fill="#21babc"/>
<polygon points="1919,985 1920,995 1921,1004 1922,1014 1923,1023 1924,1033 1926,1043 1926,1052 1927,1062 1927,1072 1928,1081 1929,1091 1929,1100 1930,1110 1930,1120 1931,1129 1931,1139 1932,1148 1932,1158 1931,1158 1930,1148 1930,1139 1929,1129 1929,1120 1928,1110 1928,1100 1927,1091 1926,1081 1926,1072 1925,1062 1925,1052 1924,1043 1923,1033 1922,1023 1921,1014 1920,1004 1919,995 1918,985" fill="#69c86e"/>
<polygon points="1919,985 1920,995 1921,1004 1923,1014 1924,1023 1926,1033 1927,1043 1928,1052 1928,1062 1929,1072 1929,1081 1930,1091 1930,1100 1931,1110 1931,1120 1932,1129 1933,1139 1933,1148 1934,1158 1932,1158 1931,1148 1931,1139 1930,1129 1930,1120 1929,1110 1929,1100 1928,1091 1928,1081 1927,1072 1926,1062 1926,1052 1925,1043 1924,1033 1923,1023 1922,1014 1921,1004 1920,995 1919,985" fill="#d1c539"/>
<polygon points="1919,985 1921,995 1922,1004 1924,1014 1925,1023 1927,1033 1928,1043 1929,1052 1929,1062 1930,1072 1931,1081 1931,1091 1932,1100 1932,1110 1933,1120 1933,1129 1934,1139 1934,1148 1935,1158 1933,1158 1933,1148 1932,1139 1932,1129 1931,1120 1930,1110 1930,1100 1929,1091 1929,1081 1928,1072 1928,1062 1927,1052 1926,1043 1925,1033 1924,1023 1923,1014 1921,1004 1920,995 1919,985" fill="#fcde27"/>
<polygon points="2030,980 2030,990 2030,999 2031,1009 2031,1018 2031,1028 2032,1037 2032,1047 2033,1056 2033,1066 2034,1076 2035,1085 2035,1095 2036,1104 2036,1114 2037,1123 2037,1133 2038,1142 2038,1152 2040,1152 2039,1142 2039,1133 2038,1123 2038,1114 2037,1104 2037,1095 2036,1085 2036,1076 2035,1066 2034,1056 2034,1047 2033,1037 2033,1028 2032,1018 2032,1009 2031,999 2031,990 2030,980" fill="#425ef5"/>
<polygon points="2030,980 2030,990 2030,999 2030,1009 2030,1018 2031,1028 2031,1037 2031,1047 2032,1056 2032,1066 2033,1076 2034,1085 2034,1095 2035,1104 2035,1114 2036,1123 2036,1133 2037,1142 2037,1152 2039,1152 2038,1142 2038,1133 2037,1123 2037,1114 2036,1104 2036,1095 2035,1085 2035,1076 2034,1066 2033,1056 2033,1047 2032,1037 2032,1028 2032,1018 2031,1009 2031,999 2030,990 2030,980" fill="#2e87f7"/>
<polygon points="2029,980 2030,990 2030,999 2030,1009 2030,1018 2030,1028 2030,1037 2030,1047 2031,1056 2031,1066 2032,1076 2032,1085 2033,1095 2034,1104 2034,1114 2035,1123 2035,1133 2036,1142 2036,1152 2038,1152 2037,1142 2037,1133 2036,1123 2036,1114 2035,1104 2035,1095 2034,1085 2034,1076 2033,1066 2032,1056 2032,1047 2031,1037 2031,1028 2031,1018 2031,1009 2030,999 2030,990 2030,980" fill="#19a7de"/>
<polygon points="2029,980 2029,990 2029,999 2029,1009 2029,1018 2029,1028 2029,1037 2029,1047 2030,1056 2030,1066 2031,1076 2031,1085 2032,1095 2032,1104 2033,1114 2034,1123 2034,1133 2035,1142 2035,1152 2037,1152 2036,1142 2036,1133 2035,1123 2035,1114 2034,1104 2034,1095 2033,1085 2033,1076 2032,1066 2031,1056 2031,1047 2030,1037 2030,1028 2030,1018 2030,1009 2030,999 2030,990 2030,980" fill="#26bdb4"/>
<polygon points="2029,980 2029,990 2029,999 2028,1009 2028,1018 2028,1028 2028,1037 2028,1047 2029,1056 2029,1066 2030,1076 2030,1085 2031,1095 2031,1104 2032,1114 2032,1123 2033,1133 2034,1142 2034,1152 2036,1152 2035,1142 2035,1133 2034,1123 2034,1114 2033,1104 2033,1095 2032,1085 2031,1076 2031,1066 2030,1056 2030,1047 2029,1037 2029,1028 2029,1018 2029,1009 2029,999 2029,990 2029,980" fill="#5ac87a"/>
<polygon points="2029,980 2029,990 2028,999 2028,1009 2027,1018 2027,1028 2027,1037 2027,1047 2027,1056 2028,1066 2028,1076 2029,1085 2030,1095 2030,1104 2031,1114 2031,1123 2032,1133 2032,1142 2033,1152 2035,1152 2034,1142 2034,1133 2033,1123 2032,1114 2032,1104 2031,1095 2031,1085 2030,1076 2030,1066 2029,1056 2029,1047 2028,1037 2028,1028 2029,1018 2029,1009 2029,999 2029,990 2029,980" fill="#b1c739"/>
<polygon points="2029,980 2028,990 2028,999 2027,1009 2026,1018 2026,1028 2025,1037 2025,1047 2026,1056 2026,1066 2027,1076 2028,1085 2028,1095 2029,1104 2029,1114 2030,1123 2030,1133 2031,1142 2031,1152 2033,1152 2033,1142 2032,1133 2032,1123 2031,1114 2031,1104 2030,1095 2030,1085 2029,1076 2028,1066 2028,1056 2027,1047 2027,1037 2027,1028 2028,1018 2028,1009 2028,999 2029,990 2029,980" fill="#f1c438"/>
<polygon points="2028,980 2028,990 2027,999 2026,1009 2025,1018 2024,1028 2024,1037 2024,1047 2024,1056 2025,1066 2026,1076 2026,1085 2027,1095 2027,1104 2028,1114 2028,1123 2029,1133 2029,1142 2030,1152 2032,1152 2031,1142 2031,1133 2030,1123 2030,1114 2029,1104 2029,1095 2028,1085 2028,1076 2027,1066 2026,1056 2026,1047 2026,1037 2026,1028 2027,1018 2027,1009 2028,999 2028,990 2029,980" fill="#fbe522"/>
<polygon points="2030,980 2031,990 2032,999 2032,1009 2033,1018 2034,1028 2035,1037 2035,1047 2036,1056 2036,1066 2037,1076 2037,1085 2038,1095 2039,1104 2039,1114 2040,1123 2040,1133 2041,1142 2041,1152 2040,1152 2039,1142 2039,1133 2038,1123 2038,1114 2037,1104 2037,1095 2036,1085 2036,1076 2035,1066 2034,1056 2034,1047 2033,1037 2033,1028 2032,1018 2032,1009 2031,999 2031,990 2030,980" fill="#3f65f5"/>
<polygon points="2030,980 2031,990 2032,999 2033,1009 2034,1018 2035,1028 2036,1037 2036,1047 2037,1056 2037,1066 2038,1076 2038,1085 2039,1095 2040,1104 2040,1114 2041,1123 2041,1133 2042,1142 2042,1152 2041,1152 2040,1142 2040,1133 2039,1123 2039,1114 2038,1104 2038,1095 2037,1085 2036,1076 2036,1066 2035,1056 2035,1047 2034,1037 2034,1028 2033,1018 2032,1009 2031,999 2031,990 2030,980" fill="#2397ea"/>
<polygon points="2030,980 2031,990 2032,999 2033,1009 2035,1018 2036,1028 2036,1037 2037,1047 2038,1056 2038,1066 2039,1076 2039,1085 2040,1095 2041,1104 2041,1114 2042,1123 2042,1133 2043,1142 2043,1152 2042,1152 2041,1142 2041,1133 2040,1123 2040,1114 2039,1104 2039,1095 2038,1085 2037,1076 2037,1066 2036,1056 2036,1047 2035,1037 2034,1028 2034,1018 2033,1009 2032,999 2031,990 2030,980" fill="#21babc"/>
<polygon points="2031,980 2032,990 2033,999 2034,1009 2035,1018 2036,1028 2038,1037 2038,1047 2039,1056 2039,1066 2040,1076 2041,1085 2041,1095 2042,1104 2042,1114 2043,1123 2043,1133 2044,1142 2044,1152 2043,1152 2042,1142 2042,1133 2041,1123 2041,1114 2040,1104 2040,1095 2039,1085 2038,1076 2038,1066 2037,1056 2037,1047 2036,1037 2035,1028 2034,1018 2033,1009 2032,999 2031,990 2030,980" fill="#69c86e"/>
<polygon points="2031,980 2032,990 2033,999 2035,1009 2036,1018 2038,1028 2039,1037 2040,1047 2040,1056 2041,1066 2041,1076 2042,1085 2042,1095 2043,1104 2043,1114 2044,1123 2045,1133 2045,1142 2046,1152 2044,1152 2043,1142 2043,1133 2042,1123 2042,1114 2041,1104 2041,1095 2040,1085 2040,1076 2039,1066 2038,1056 2038,1047 2037,1037 2036,1028 2035,1018 2034,1009 2033,999 2032,990 2031,980" fill="#d1c539"/>
<polygon points="2031,980 2033,990 2034,999 2036,1009 2037,1018 2039,1028 2040,1037 2041,1047 2041,1056 2042,1066 2043,1076 2043,1085 2044,1095 2044,1104 2045,1114 2045,1123 2046,1133 2046,1142 2047,1152 2045,1152 2045,1142 2044,1133 2044,1123 2043,1114 2042,1104 2042,1095 2041,1085 2041,1076 2040,1066 2040,1056 2039,1047 2038,1037 2037,1028 2036,1018 2035,1009 2033,999 2032,990 2031,980" fill="#fcde27"/>
<polygon points="2148,980 2148,989 2148,999 2148,1008 2148,1018 2148,1027 2148,1037 2149,1046 2149,1056 2149,1065 2149,1074 2150,1084 2150,1093 2150,1103 2150,1112 2151,1122 2151,1131 2151,1141 2152,1150 2153,1150 2153,1141 2152,1131 2152,1122 2152,1112 2152,1103 2151,1093 2151,1084 2151,1074 2150,1065 2150,1056 2150,1046 2150,1037 2149,1027 2149,1018 2149,1008 2149,999 2148,989 2148,980" fill="#425ef5"/>
<polygon points="2148,980 2148,989 2148,999 2148,1008 2147,1018 2147,1027 2147,1037 2148,1046 2148,1056 2148,1065 2148,1074 2149,1084 2149,1093 2149,1103 2150,1112 2150,1122 2150,1131 2150,1141 2151,1150 2152,1150 2152,1141 2152,1131 2151,1122 2151,1112 2151,1103 2150,1093 2150,1084 2150,1074 2150,1065 2149,1056 2149,1046 2149,1037 2149,1027 2148,1018 2148,1008 2148,999 2148,989 2148,980" fill="#2e87f7"/>
<polygon points="2148,980 2147,989 2147,999 2147,1008 2147,1018 2147,1027 2147,1037 2147,1046 2147,1056 2147,1065 2147,1074 2148,1084 2148,1093 2148,1103 2149,1112 2149,1122 2149,1131 2149,1141 2150,1150 2151,1150 2151,1141 2151,1131 2150,1122 2150,1112 2150,1103 2150,1093 2149,1084 2149,1074 2149,1065 2148,1056 2148,1046 2148,1037 2148,1027 2148,1018 2148,1008 2148,999 2148,989 2148,980" fill="#19a7de"/>
<polygon points="2147,980 2147,989 2147,999 2146,1008 2146,1018 2146,1027 2146,1037 2146,1046 2146,1056 2146,1065 2147,1074 2147,1084 2147,1093 2147,1103 2148,1112 2148,1122 2148,1131 2148,1141 2149,1150 2150,1150 2150,1141 2150,1131 2149,1122 2149,1112 2149,1103 2149,1093 2148,1084 2148,1074 2148,1065 2147,1056 2147,1046 2147,1037 2147,1027 2147,1018 2147,1008 2147,999 2148,989 2148,980" fill="#26bdb4"/>
<polygon points="2147,980 2147,989 2146,999 2146,1008 2145,1018 2145,1027 2145,1037 2145,1046 2145,1056 2145,1065 2145,1074 2146,1084 2146,1093 2146,1103 2147,1112 2147,1122 2147,1131 2147,1141 2148,1150 2149,1150 2149,1141 2149,1131 2148,1122 2148,1112 2148,1103 2148,1093 2147,1084 2147,1074 2147,1065 2147,1056 2146,1046 2146,1037 2146,1027 2147,1018 2147,1008 2147,999 2147,989 2147,980" fill="#5ac87a"/>
<polygon points="2147,980 2146,989 2146,999 2145,1008 2145,1018 2144,1027 2144,1037 2144,1046 2144,1056 2144,1065 2144,1074 2145,1084 2145,1093 2145,1103 2145,1112 2146,1122 2146,1131 2146,1141 2147,1150 2148,1150 2148,1141 2148,1131 2147,1122 2147,1112 2147,1103 2147,1093 2146,1084 2146,1074 2146,1065 2145,1056 2145,1046 2145,1037 2145,1027 2146,1018 2146,1008 2147,999 2147,989 2147,980" fill="#b1c739"/>
<polygon points="2147,980 2146,989 2145,999 2145,1008 2144,1018 2143,1027 2142,1037 2142,1046 2143,1056 2143,1065 2143,1074 2143,1084 2144,1093 2144,1103 2144,1112 2144,1122 2145,1131 2145,1141 2145,1150 2147,1150 2147,1141 2147,1131 2146,1122 2146,1112 2146,1103 2145,1093 2145,1084 2145,1074 2145,1065 2144,1056 2144,1046 2144,1037 2144,1027 2145,1018 2146,1008 2146,999 2147,989 2147,980" fill="#f1c438"/>
<polygon points="2147,980 2146,989 2145,999 2144,1008 2143,1018 2142,1027 2141,1037 2141,1046 2141,1056 2142,1065 2142,1074 2142,1084 2142,1093 2143,1103 2143,1112 2143,1122 2143,1131 2144,1141 2144,1150 2146,1150 2146,1141 2145,1131 2145,1122 2145,1112 2144,1103 2144,1093 2144,1084 2144,1074 2143,1065 2143,1056 2143,1046 2143,1037 2143,1027 2144,1018 2145,1008 2146,999 2146,989 2147,980" fill="#fbe522"/>
<polygon points="2148,980 2149,989 2149,999 2149,1008 2150,1018 2150,1027 2151,1037 2151,1046 2151,1056 2152,1065 2152,1074 2152,1084 2153,1093 2153,1103 2153,1112 2153,1122 2154,1131 2154,1141 2154,1150 2153,1150 2153,1141 2152,1131 2152,1122 2152,1112 2152,1103 2151,1093 2151,1084 2151,1074 2150,1065 2150,1056 2150,1046 2150,1037 2149,1027 2149,1018 2149,1008 2149,999 2148,989 2148,980" fill="#3f65f5"/>
<polygon points="2148,980 2149,989 2149,999 2150,1008 2151,1018 2151,1027 2152,1037 2152,1046 2152,1056 2153,1065 2153,1074 2153,1084 2153,1093 2154,1103 2154,1112 2154,1122 2155,1131 2155,1141 2155,1150 2154,1150 2154,1141 2153,1131 2153,1122 2153,1112 2152,1103 2152,1093 2152,1084 2152,1074 2151,1065 2151,1056 2151,1046 2150,1037 2150,1027 2150,1018 2149,1008 2149,999 2149,989 2148,980" fill="#2397ea"/>
<polygon points="2148,980 2149,989 2150,999 2150,1008 2151,1018 2152,1027 2152,1037 2153,1046 2153,1056 2153,1065 2154,1074 2154,1084 2154,1093 2155,1103 2155,1112 2155,1122 2155,1131 2156,1141 2156,1150 2155,1150 2154,1141 2154,1131 2154,1122 2154,1112 2153,1103 2153,1093 2153,1084 2152,1074 2152,1065 2152,1056 2152,1046 2151,1037 2151,1027 2150,1018 2150,1008 2149,999 2149,989 2148,980" fill="#21babc"/>
<polygon points="2149,980 2149,989 2150,999 2151,1008 2152,1018 2153,1027 2153,1037 2154,1046 2154,1056 2154,1065 2155,1074 2155,1084 2155,1093 2156,1103 2156,1112 2156,1122 2156,1131 2157,1141 2157,1150 2156,1150 2155,1141 2155,1131 2155,1122 2154,1112 2154,1103 2154,1093 2154,1084 2153,1074 2153,1065 2153,1056 2153,1046 2152,1037 2152,1027 2151,1018 2150,1008 2150,999 2149,989 2148,980" fill="#69c86e"/>
<polygon points="2149,980 2150,989 2151,999 2152,1008 2153,1018 2154,1027 2155,1037 2155,1046 2155,1056 2156,1065 2156,1074 2156,1084 2156,1093 2157,1103 2157,1112 2157,1122 2158,1131 2158,1141 2158,1150 2157,1150 2156,1141 2156,1131 2156,1122 2155,1112 2155,1103 2155,1093 2155,1084 2154,1074 2154,1065 2154,1056 2154,1046 2153,1037 2152,1027 2152,1018 2151,1008 2150,999 2149,989 2149,980" fill="#d1c539"/>
<polygon points="2149,980 2150,989 2151,999 2152,1008 2153,1018 2155,1027 2156,1037 2156,1046 2157,1056 2157,1065 2157,1074 2157,1084 2158,1093 2158,1103 2158,1112 2158,1122 2159,1131 2159,1141 2159,1150 2158,1150 2157,1141 2157,1131 2157,1122 2157,1112 2156,1103 2156,1093 2156,1084 2156,1074 2155,1065 2155,1056 2155,1046 2154,1037 2153,1027 2152,1018 2151,1008 2151,999 2150,989 2149,980" fill="#fcde27"/>
<g clip-path="url(#u2)">
<path d="M1814,819 L1822,819 L1826,822 L1830,827 L1833,832 L1836,838 L1840,846 L1844,854 L1848,863 L1852,872 L1856,882 L1860,893 L1865,904 L1869,915 L1873,927 L1877,939 L1881,951 L1884,963 L1887,975 L1890,986 L1891,997 L1892,1010 L1893,1026 L1894,1044 L1894,1060 L1895,1074 L1895,1088 L1894,1100 L1894,1111 L1894,1121 L1892,1130 L1889,1139 L1885,1148 L1880,1155 L1875,1161 L1870,1165 L1865,1168 L1860,1171 L1854,1173 L1848,1173 L1842,1173 L1836,1171 L1830,1168 L1824,1165 L1819,1161 L1815,1155 L1812,1149 L1810,1141 L1809,1130 L1808,1116 L1808,1098 L1807,1080 L1807,1061 L1807,1040 L1806,1020 L1806,1000 L1806,980 L1806,960 L1806,939 L1806,919 L1806,900 L1806,884 L1806,871 L1806,860 L1806,851 L1806,843 L1806,837 L1808,830 L1810,824 L1814,819Z M1817,824 L1815,827 L1813,832 L1811,838 L1810,844 L1809,851 L1808,860 L1807,871 L1807,885 L1807,900 L1807,919 L1807,939 L1807,960 L1807,980 L1807,1000 L1807,1020 L1807,1040 L1808,1061 L1808,1080 L1808,1098 L1808,1116 L1809,1130 L1810,1141 L1812,1148 L1815,1155 L1819,1161 L1824,1165 L1830,1168 L1836,1171 L1842,1172 L1848,1173 L1854,1172 L1860,1171 L1865,1168 L1870,1165 L1875,1161 L1880,1155 L1885,1148 L1889,1139 L1892,1130 L1893,1121 L1894,1111 L1894,1100 L1894,1088 L1894,1074 L1894,1060 L1894,1044 L1893,1026 L1892,1010 L1890,997 L1889,986 L1886,975 L1883,963 L1879,952 L1875,940 L1871,928 L1866,916 L1862,905 L1857,894 L1853,884 L1848,874 L1843,865 L1839,856 L1835,848 L1831,841 L1828,835 L1825,830 L1822,826 L1819,824 L1817,824Z" fill="#4031bb" fill-rule="evenodd"/>
<path d="M1812,816 L1823,816 L1828,820 L1832,825 L1835,831 L1839,837 L1842,844 L1846,852 L1850,861 L1854,871 L1858,881 L1862,892 L1866,903 L1870,915 L1874,927 L1878,939 L1881,951 L1885,963 L1888,975 L1890,986 L1892,997 L1893,1010 L1894,1026 L1894,1044 L1894,1060 L1895,1074 L1895,1088 L1894,1100 L1894,1111 L1894,1121 L1892,1130 L1889,1139 L1885,1148 L1880,1155 L1875,1161 L1870,1165 L1865,1168 L1860,1171 L1854,1173 L1848,1173 L1842,1173 L1836,1171 L1830,1168 L1824,1165 L1819,1161 L1815,1155 L1812,1149 L1810,1141 L1809,1130 L1808,1116 L1807,1098 L1807,1080 L1807,1061 L1806,1040 L1806,1020 L1806,1000 L1806,980 L1806,960 L1806,939 L1806,919 L1806,900 L1805,884 L1805,871 L1805,860 L1805,851 L1805,843 L1804,836 L1805,830 L1807,823 L1812,816Z M1815,821 L1812,826 L1810,831 L1809,837 L1808,844 L1808,851 L1807,860 L1807,871 L1807,885 L1807,900 L1807,919 L1807,939 L1807,960 L1807,980 L1807,1000 L1807,1020 L1807,1040 L1807,1061 L1808,1080 L1808,1098 L1808,1116 L1809,1130 L1810,1141 L1812,1149 L1815,1155 L1819,1161 L1824,1165 L1830,1168 L1836,1171 L1842,1172 L1848,1173 L1854,1172 L1860,1171 L1865,1168 L1870,1165 L1875,1161 L1880,1155 L1885,1148 L1889,1139 L1892,1130 L1894,1121 L1894,1111 L1894,1100 L1894,1088 L1894,1074 L1894,1060 L1894,1044 L1893,1026 L1892,1010 L1891,997 L1889,986 L1886,975 L1883,963 L1880,951 L1876,940 L1872,928 L1867,916 L1863,905 L1859,894 L1854,883 L1850,873 L1846,864 L1841,855 L1837,847 L1834,840 L1830,833 L1827,828 L1824,824 L1821,821 L1815,821Z" fill="#4647e1" fill-rule="evenodd"/>
<path d="M1811,814 L1824,813 L1831,818 L1834,823 L1838,829 L1841,836 L1845,843 L1848,851 L1852,860 L1856,870 L1860,881 L1863,892 L1867,903 L1871,915 L1875,927 L1879,939 L1882,951 L1886,963 L1888,974 L1890,986 L1892,997 L1893,1010 L1894,1026 L1894,1044 L1895,1060 L1895,1074 L1895,1088 L1895,1100 L1894,1111 L1894,1121 L1893,1130 L1889,1139 L1885,1148 L1880,1155 L1876,1161 L1870,1165 L1865,1168 L1860,1171 L1854,1173 L1848,1173 L1842,1173 L1836,1171 L1830,1168 L1824,1165 L1819,1161 L1815,1155 L1812,1149 L1810,1141 L1808,1130 L1808,1116 L1807,1098 L1807,1080 L1806,1061 L1806,1040 L1806,1020 L1805,1000 L1805,980 L1805,960 L1805,939 L1805,919 L1805,900 L1805,884 L1805,871 L1805,860 L1804,851 L1803,843 L1802,836 L1803,829 L1805,822 L1811,814Z M1814,819 L1810,824 L1808,830 L1806,837 L1806,844 L1807,851 L1807,860 L1806,871 L1806,885 L1806,900 L1806,919 L1806,939 L1806,960 L1806,980 L1806,1000 L1806,1020 L1807,1040 L1807,1061 L1808,1080 L1808,1098 L1808,1116 L1809,1130 L1810,1141 L1812,1149 L1815,1155 L1819,1161 L1824,1165 L1830,1168 L1836,1171 L1842,1173 L1848,1173 L1854,1173 L1860,1171 L1865,1168 L1870,1165 L1875,1161 L1880,1155 L1885,1148 L1889,1139 L1892,1130 L1894,1121 L1894,1111 L1894,1100 L1894,1088 L1894,1074 L1894,1060 L1894,1044 L1893,1026 L1892,1010 L1891,997 L1889,986 L1887,975 L1884,963 L1880,951 L1877,939 L1873,928 L1868,916 L1864,904 L1860,893 L1856,882 L1852,872 L1848,863 L1844,854 L1840,846 L1836,838 L1833,832 L1830,827 L1826,822 L1822,819 L1814,819Z" fill="#425ff5" fill-rule="evenodd"/>
<path d="M1809,811 L1826,811 L1833,816 L1837,822 L1840,828 L1844,835 L1847,842 L1851,850 L1854,859 L1858,869 L1861,880 L1865,891 L1868,902 L1872,914 L1876,926 L1879,938 L1883,950 L1886,962 L1889,974 L1891,986 L1892,997 L1893,1010 L1894,1026 L1894,1043 L1895,1060 L1895,1074 L1895,1088 L1895,1100 L1894,1111 L1894,1121 L1893,1130 L1889,1139 L1885,1148 L1880,1155 L1876,1161 L1871,1165 L1865,1168 L1860,1171 L1854,1173 L1848,1173 L1842,1173 L1836,1171 L1830,1168 L1824,1165 L1819,1161 L1815,1155 L1812,1149 L1810,1141 L1808,1130 L1807,1116 L1807,1098 L1807,1080 L1806,1061 L1806,1040 L1805,1020 L1805,1000 L1805,980 L1805,960 L1805,939 L1805,919 L1805,900 L1804,884 L1804,871 L1804,860 L1803,850 L1801,843 L1800,835 L1800,828 L1802,820 L1809,811Z M1812,816 L1807,823 L1805,830 L1804,836 L1805,843 L1805,851 L1806,860 L1806,871 L1806,884 L1806,900 L1806,919 L1806,939 L1806,960 L1806,980 L1806,1000 L1806,1020 L1806,1040 L1807,1061 L1807,1080 L1808,1098 L1808,1116 L1809,1130 L1810,1141 L1812,1149 L1815,1155 L1819,1161 L1824,1165 L1830,1168 L1836,1171 L1842,1173 L1848,1173 L1854,1173 L1860,1171 L1865,1168 L1870,1165 L1875,1161 L1880,1155 L1885,1148 L1889,1139 L1892,1130 L1894,1121 L1894,1111 L1894,1100 L1895,1088 L1895,1074 L1894,1060 L1894,1044 L1894,1026 L1893,1010 L1891,997 L1890,986 L1888,975 L1885,963 L1881,951 L1877,939 L1874,927 L1869,915 L1865,904 L1861,892 L1858,882 L1854,871 L1850,861 L1846,852 L1842,844 L1839,837 L1835,831 L1832,825 L1828,820 L1823,816 L1812,816Z" fill="#347af6" fill-rule="evenodd"/>
<path d="M1808,808 L1827,808 L1835,814 L1839,820 L1843,826 L1846,833 L1850,840 L1853,849 L1857,858 L1861,868 L1863,879 L1866,890 L1869,902 L1873,914 L1877,926 L1880,938 L1884,950 L1887,962 L1890,974 L1891,986 L1893,997 L1893,1010 L1894,1026 L1895,1043 L1895,1060 L1895,1074 L1895,1088 L1895,1100 L1895,1111 L1894,1121 L1893,1130 L1889,1139 L1885,1148 L1880,1155 L1876,1161 L1871,1165 L1865,1168 L1860,1171 L1854,1173 L1848,1174 L1842,1173 L1836,1171 L1830,1168 L1824,1165 L1819,1161 L1815,1155 L1812,1149 L1810,1141 L1808,1130 L1807,1116 L1807,1098 L1806,1080 L1806,1061 L1805,1040 L1805,1020 L1805,1000 L1805,980 L1805,960 L1805,939 L1804,919 L1804,900 L1804,884 L1803,871 L1803,860 L1801,850 L1799,842 L1797,835 L1798,827 L1800,819 L1808,808Z M1811,814 L1805,822 L1803,829 L1802,836 L1803,843 L1804,851 L1805,860 L1805,871 L1805,884 L1805,900 L1805,919 L1806,939 L1806,960 L1806,980 L1806,1000 L1806,1020 L1806,1040 L1807,1061 L1807,1080 L1807,1098 L1808,1116 L1809,1130 L1810,1141 L1812,1149 L1815,1155 L1819,1161 L1824,1165 L1830,1168 L1836,1171 L1842,1173 L1848,1173 L1854,1173 L1860,1171 L1865,1168 L1870,1165 L1876,1161 L1880,1155 L1885,1148 L1889,1139 L1892,1130 L1894,1121 L1894,1111 L1894,1100 L1895,1088 L1895,1074 L1894,1060 L1894,1044 L1894,1026 L1893,1010 L1892,997 L1890,986 L1888,974 L1885,963 L1882,951 L1878,939 L1874,927 L1871,915 L1866,903 L1863,892 L1859,881 L1856,870 L1852,860 L1848,851 L1845,843 L1841,836 L1838,829 L1834,823 L1831,818 L1824,813 L1811,814Z" fill="#2792ef" fill-rule="evenodd"/>
<path d="M1806,806 L1828,805 L1837,812 L1842,818 L1845,825 L1849,832 L1852,839 L1855,848 L1859,857 L1863,867 L1865,878 L1868,890 L1871,901 L1874,913 L1878,926 L1881,938 L1885,950 L1888,962 L1890,974 L1892,985 L1893,997 L1894,1010 L1894,1026 L1895,1043 L1895,1060 L1895,1074 L1895,1088 L1895,1100 L1895,1111 L1894,1121 L1893,1130 L1890,1139 L1885,1148 L1880,1155 L1876,1161 L1871,1165 L1865,1169 L1860,1171 L1854,1173 L1848,1174 L1842,1173 L1836,1171 L1830,1169 L1824,1165 L1819,1161 L1814,1155 L1811,1149 L1809,1141 L1808,1130 L1807,1116 L1807,1098 L1806,1080 L1806,1061 L1805,1040 L1805,1020 L1804,1000 L1804,980 L1804,960 L1804,939 L1804,919 L1804,900 L1803,884 L1802,871 L1802,860 L1800,850 L1798,842 L1795,834 L1795,826 L1797,817 L1806,806Z M1809,811 L1802,820 L1800,828 L1799,835 L1801,843 L1803,850 L1804,860 L1804,871 L1805,884 L1805,900 L1805,919 L1805,939 L1805,960 L1805,980 L1805,1000 L1805,1020 L1806,1040 L1806,1061 L1807,1080 L1807,1098 L1808,1116 L1808,1130 L1810,1141 L1812,1149 L1815,1155 L1819,1161 L1824,1165 L1830,1168 L1836,1171 L1842,1173 L1848,1173 L1854,1173 L1860,1171 L1865,1168 L1870,1165 L1876,1161 L1880,1155 L1885,1148 L1889,1139 L1893,1130 L1894,1121 L1894,1111 L1895,1100 L1895,1088 L1895,1074 L1895,1060 L1894,1043 L1894,1026 L1893,1010 L1892,997 L1891,986 L1889,974 L1886,962 L1883,950 L1879,939 L1876,927 L1872,914 L1868,903 L1864,891 L1861,880 L1858,869 L1855,859 L1851,850 L1847,842 L1844,835 L1840,828 L1837,822 L1833,816 L1826,811 L1809,811Z" fill="#19a7de" fill-rule="evenodd"/>
<path d="M1804,803 L1830,802 L1839,810 L1844,817 L1848,823 L1851,830 L1855,838 L1858,846 L1861,856 L1865,866 L1867,877 L1869,889 L1872,901 L1876,913 L1879,925 L1882,937 L1885,950 L1888,962 L1891,974 L1892,985 L1893,997 L1894,1010 L1895,1026 L1895,1043 L1895,1060 L1895,1074 L1895,1088 L1895,1100 L1895,1111 L1895,1121 L1893,1130 L1890,1140 L1885,1148 L1881,1155 L1876,1161 L1871,1165 L1865,1169 L1860,1171 L1854,1173 L1848,1174 L1842,1173 L1836,1171 L1830,1169 L1824,1165 L1819,1161 L1814,1155 L1811,1149 L1809,1141 L1808,1130 L1807,1116 L1806,1098 L1806,1080 L1805,1061 L1805,1040 L1804,1020 L1804,1000 L1804,980 L1804,960 L1804,939 L1804,919 L1803,900 L1802,884 L1802,871 L1801,860 L1798,850 L1796,842 L1792,833 L1793,825 L1794,816 L1804,803Z M1808,808 L1800,819 L1798,827 L1797,835 L1799,842 L1801,850 L1803,860 L1803,871 L1804,884 L1805,900 L1805,919 L1805,939 L1805,960 L1805,980 L1805,1000 L1805,1020 L1805,1040 L1806,1061 L1807,1080 L1807,1098 L1807,1116 L1808,1130 L1810,1141 L1812,1149 L1815,1155 L1819,1161 L1824,1165 L1830,1168 L1836,1171 L1842,1173 L1848,1173 L1854,1173 L1860,1171 L1865,1168 L1871,1165 L1876,1161 L1880,1155 L1885,1148 L1889,1139 L1893,1130 L1894,1121 L1895,1111 L1895,1100 L1895,1088 L1895,1074 L1895,1060 L1895,1043 L1894,1026 L1893,1010 L1892,997 L1891,986 L1889,974 L1887,962 L1883,950 L1880,938 L1877,926 L1873,914 L1869,902 L1866,890 L1863,879 L1861,868 L1857,858 L1853,849 L1850,840 L1846,833 L1843,826 L1839,820 L1835,814 L1827,808 L1808,808Z" fill="#1bb7c6" fill-rule="evenodd"/>
<path d="M1803,800 L1831,799 L1842,808 L1847,815 L1851,822 L1854,829 L1858,836 L1861,845 L1864,855 L1867,865 L1869,876 L1871,888 L1874,900 L1877,912 L1880,925 L1883,937 L1886,949 L1889,961 L1892,974 L1893,985 L1894,997 L1894,1010 L1895,1026 L1895,1043 L1895,1060 L1895,1074 L1895,1088 L1895,1100 L1895,1111 L1895,1121 L1893,1130 L1890,1140 L1885,1148 L1881,1155 L1876,1161 L1871,1165 L1865,1169 L1860,1171 L1854,1173 L1848,1174 L1842,1173 L1836,1171 L1830,1169 L1824,1165 L1819,1161 L1814,1155 L1811,1149 L1809,1141 L1808,1130 L1807,1116 L1806,1098 L1806,1080 L1805,1061 L1804,1040 L1804,1020 L1804,1000 L1803,980 L1803,960 L1803,939 L1803,919 L1803,900 L1802,884 L1801,871 L1800,859 L1797,850 L1794,841 L1790,833 L1790,824 L1792,815 L1803,800Z M1806,805 L1797,817 L1795,826 L1794,834 L1798,842 L1800,850 L1802,860 L1803,871 L1803,884 L1804,900 L1804,919 L1804,939 L1804,960 L1804,980 L1804,1000 L1805,1020 L1805,1040 L1806,1061 L1806,1080 L1807,1098 L1807,1116 L1808,1130 L1810,1141 L1811,1149 L1814,1155 L1819,1161 L1824,1165 L1830,1169 L1836,1171 L1842,1173 L1848,1174 L1854,1173 L1860,1171 L1865,1169 L1871,1165 L1876,1161 L1880,1155 L1885,1148 L1890,1139 L1893,1130 L1894,1121 L1895,1111 L1895,1100 L1895,1088 L1895,1074 L1895,1060 L1895,1043 L1894,1026 L1893,1010 L1893,997 L1892,985 L1890,974 L1887,962 L1884,950 L1881,938 L1878,926 L1874,913 L1870,902 L1867,890 L1865,878 L1863,867 L1859,857 L1856,847 L1852,839 L1849,832 L1845,825 L1842,818 L1837,812 L1828,805 L1806,805Z" fill="#2ec2a7" fill-rule="evenodd"/>
<path d="M1801,797 L1833,796 L1844,806 L1849,813 L1853,820 L1857,827 L1860,835 L1863,844 L1867,853 L1870,864 L1871,875 L1873,887 L1875,900 L1879,912 L1882,924 L1885,937 L1887,949 L1890,961 L1892,973 L1894,985 L1894,997 L1894,1010 L1895,1026 L1895,1043 L1895,1060 L1896,1074 L1896,1088 L1895,1100 L1895,1111 L1895,1121 L1893,1130 L1890,1140 L1886,1148 L1881,1156 L1876,1161 L1871,1165 L1865,1169 L1860,1171 L1854,1173 L1848,1174 L1842,1173 L1835,1171 L1830,1169 L1824,1165 L1819,1161 L1814,1155 L1811,1149 L1809,1141 L1808,1130 L1806,1116 L1806,1098 L1805,1080 L1805,1061 L1804,1040 L1803,1020 L1803,1000 L1803,980 L1803,960 L1803,939 L1802,919 L1802,900 L1801,884 L1800,871 L1799,859 L1795,850 L1791,841 L1787,832 L1787,823 L1789,813 L1801,797Z M1804,802 L1794,816 L1792,825 L1792,833 L1796,842 L1799,850 L1801,860 L1802,871 L1803,884 L1804,900 L1804,919 L1804,939 L1804,960 L1804,980 L1804,1000 L1804,1020 L1805,1040 L1805,1061 L1806,1080 L1806,1098 L1807,1116 L1808,1130 L1809,1141 L1811,1149 L1814,1155 L1819,1161 L1824,1165 L1830,1169 L1836,1171 L1842,1173 L1848,1174 L1854,1173 L1860,1171 L1865,1169 L1871,1165 L1876,1161 L1881,1155 L1885,1148 L1890,1140 L1893,1130 L1895,1121 L1895,1111 L1895,1100 L1895,1088 L1895,1074 L1895,1060 L1895,1043 L1895,1026 L1894,1010 L1893,997 L1892,985 L1891,974 L1888,962 L1885,950 L1882,938 L1879,925 L1876,913 L1872,901 L1869,889 L1867,877 L1865,866 L1862,856 L1858,846 L1855,838 L1852,830 L1848,823 L1844,816 L1840,810 L1830,802 L1804,802Z" fill="#54c880" fill-rule="evenodd"/>
<path d="M1799,794 L1834,793 L1847,803 L1852,811 L1856,818 L1860,826 L1863,833 L1866,842 L1869,852 L1872,862 L1873,874 L1875,886 L1877,899 L1880,911 L1883,924 L1886,936 L1889,948 L1891,961 L1893,973 L1894,985 L1895,997 L1895,1010 L1895,1026 L1896,1043 L1896,1060 L1896,1074 L1896,1088 L1896,1100 L1895,1111 L1895,1121 L1894,1130 L1890,1140 L1886,1148 L1881,1156 L1876,1161 L1871,1166 L1866,1169 L1860,1172 L1854,1173 L1848,1174 L1842,1173 L1835,1172 L1830,1169 L1824,1166 L1818,1161 L1814,1156 L1811,1149 L1809,1141 L1807,1130 L1806,1116 L1806,1098 L1805,1080 L1804,1061 L1803,1040 L1803,1020 L1803,1000 L1802,980 L1802,960 L1802,939 L1802,919 L1802,900 L1800,884 L1799,871 L1798,859 L1794,849 L1789,841 L1784,831 L1784,822 L1786,811 L1799,794Z M1802,799 L1791,814 L1789,824 L1789,833 L1793,841 L1797,850 L1800,859 L1801,871 L1802,884 L1803,900 L1803,919 L1803,939 L1803,960 L1803,980 L1804,1000 L1804,1020 L1804,1040 L1805,1061 L1806,1080 L1806,1098 L1807,1116 L1808,1130 L1809,1141 L1811,1149 L1814,1155 L1819,1161 L1824,1165 L1830,1169 L1836,1171 L1842,1173 L1848,1174 L1854,1173 L1860,1171 L1865,1169 L1871,1165 L1876,1161 L1881,1155 L1885,1148 L1890,1140 L1893,1130 L1895,1121 L1895,1111 L1895,1100 L1895,1088 L1895,1074 L1895,1060 L1895,1043 L1895,1026 L1894,1010 L1894,997 L1893,985 L1891,974 L1889,961 L1886,949 L1883,937 L1880,925 L1877,912 L1874,900 L1871,888 L1869,876 L1868,865 L1864,854 L1861,845 L1858,836 L1855,829 L1851,821 L1847,814 L1842,808 L1831,799 L1802,799Z" fill="#8ec750" fill-rule="evenodd"/>
<path d="M1797,790 L1836,789 L1850,801 L1855,809 L1860,817 L1863,824 L1866,832 L1869,841 L1872,851 L1875,861 L1876,873 L1877,885 L1879,898 L1882,910 L1885,923 L1887,936 L1890,948 L1892,960 L1894,973 L1895,985 L1895,997 L1895,1010 L1896,1026 L1896,1043 L1896,1060 L1896,1074 L1896,1088 L1896,1100 L1896,1111 L1895,1121 L1894,1130 L1890,1140 L1886,1148 L1881,1156 L1876,1161 L1871,1166 L1866,1169 L1860,1172 L1854,1174 L1848,1174 L1842,1174 L1835,1172 L1829,1169 L1824,1166 L1818,1161 L1814,1156 L1811,1149 L1809,1141 L1807,1130 L1806,1116 L1805,1098 L1804,1080 L1804,1061 L1803,1040 L1802,1020 L1802,1000 L1802,980 L1802,960 L1801,939 L1801,919 L1801,900 L1799,884 L1798,871 L1796,859 L1792,849 L1787,840 L1781,831 L1781,821 L1783,810 L1797,790Z M1800,796 L1788,813 L1787,823 L1786,832 L1791,841 L1795,850 L1799,859 L1800,871 L1801,884 L1802,900 L1802,919 L1803,939 L1803,960 L1803,980 L1803,1000 L1803,1020 L1804,1040 L1805,1061 L1805,1080 L1806,1098 L1806,1116 L1808,1130 L1809,1141 L1811,1149 L1814,1155 L1819,1161 L1824,1165 L1830,1169 L1835,1172 L1842,1173 L1848,1174 L1854,1173 L1860,1171 L1865,1169 L1871,1165 L1876,1161 L1881,1156 L1886,1148 L1890,1140 L1893,1130 L1895,1121 L1895,1111 L1895,1100 L1896,1088 L1896,1074 L1895,1060 L1895,1043 L1895,1026 L1894,1010 L1894,997 L1894,985 L1892,973 L1890,961 L1888,949 L1885,937 L1882,924 L1879,912 L1875,900 L1873,887 L1871,875 L1870,863 L1867,853 L1864,843 L1861,835 L1858,827 L1854,820 L1850,812 L1845,805 L1833,795 L1800,796Z" fill="#c0c639" fill-rule="evenodd"/>
<path d="M1795,787 L1837,786 L1852,798 L1858,806 L1863,815 L1866,823 L1870,830 L1872,839 L1875,849 L1878,860 L1879,872 L1880,884 L1882,897 L1884,910 L1887,922 L1889,935 L1892,947 L1894,960 L1895,973 L1896,985 L1896,996 L1895,1010 L1896,1026 L1896,1043 L1896,1060 L1896,1074 L1896,1088 L1896,1100 L1896,1111 L1896,1121 L1894,1130 L1891,1140 L1886,1149 L1881,1156 L1876,1161 L1871,1166 L1866,1169 L1860,1172 L1854,1174 L1848,1174 L1842,1174 L1835,1172 L1829,1169 L1824,1166 L1818,1161 L1814,1156 L1811,1149 L1809,1141 L1807,1130 L1806,1116 L1805,1098 L1804,1080 L1803,1061 L1802,1040 L1802,1020 L1801,1000 L1801,980 L1801,960 L1801,939 L1800,919 L1800,900 L1798,884 L1796,871 L1794,859 L1789,849 L1784,840 L1778,830 L1778,820 L1779,808 L1795,787Z M1798,793 L1785,811 L1783,822 L1784,831 L1789,840 L1793,849 L1797,859 L1799,871 L1800,884 L1802,900 L1802,919 L1802,939 L1802,960 L1802,980 L1802,1000 L1803,1020 L1803,1040 L1804,1061 L1805,1080 L1805,1098 L1806,1116 L1807,1130 L1809,1141 L1811,1149 L1814,1156 L1818,1161 L1824,1166 L1830,1169 L1835,1172 L1842,1173 L1848,1174 L1854,1173 L1860,1172 L1866,1169 L1871,1166 L1876,1161 L1881,1156 L1886,1148 L1890,1140 L1894,1130 L1895,1121 L1895,1111 L1896,1100 L1896,1088 L1896,1074 L1896,1060 L1896,1043 L1895,1026 L1895,1010 L1895,997 L1894,985 L1893,973 L1891,961 L1889,948 L1886,936 L1883,924 L1881,911 L1877,899 L1875,886 L1874,874 L1873,862 L1870,852 L1867,842 L1864,833 L1861,826 L1857,818 L1853,810 L1847,803 L1834,792 L1798,793Z" fill="#e9c438" fill-rule="evenodd"/>
<path d="M1792,783 L1839,781 L1856,795 L1862,804 L1866,812 L1870,821 L1873,828 L1876,837 L1878,848 L1881,858 L1882,870 L1883,883 L1885,896 L1887,908 L1889,921 L1891,934 L1894,947 L1895,960 L1897,972 L1897,984 L1897,996 L1896,1010 L1896,1026 L1897,1043 L1896,1060 L1897,1074 L1897,1088 L1896,1100 L1896,1111 L1896,1121 L1894,1131 L1891,1140 L1886,1149 L1881,1156 L1876,1162 L1871,1166 L1866,1169 L1860,1172 L1854,1174 L1848,1175 L1842,1174 L1835,1172 L1829,1169 L1824,1166 L1818,1162 L1814,1156 L1810,1149 L1808,1141 L1807,1130 L1805,1116 L1804,1098 L1803,1080 L1802,1061 L1801,1040 L1801,1020 L1800,1000 L1800,980 L1800,960 L1800,939 L1799,919 L1799,900 L1797,884 L1794,871 L1792,859 L1787,849 L1781,839 L1775,829 L1774,819 L1776,806 L1792,783Z M1796,789 L1782,809 L1780,821 L1780,830 L1786,840 L1791,849 L1796,859 L1797,871 L1799,884 L1801,900 L1801,919 L1801,939 L1801,960 L1802,980 L1802,1000 L1802,1020 L1803,1040 L1803,1061 L1804,1080 L1805,1098 L1806,1116 L1807,1130 L1809,1141 L1811,1149 L1814,1156 L1818,1161 L1824,1166 L1829,1169 L1835,1172 L1842,1174 L1848,1174 L1854,1174 L1860,1172 L1866,1169 L1871,1166 L1876,1161 L1881,1156 L1886,1148 L1890,1140 L1894,1130 L1895,1121 L1896,1111 L1896,1100 L1896,1088 L1896,1074 L1896,1060 L1896,1043 L1896,1026 L1895,1010 L1895,997 L1895,985 L1894,973 L1893,960 L1890,948 L1888,936 L1885,923 L1883,910 L1880,898 L1878,885 L1877,873 L1876,861 L1873,850 L1870,840 L1867,831 L1864,824 L1860,816 L1856,808 L1850,800 L1836,788 L1796,789Z" fill="#fdd12f" fill-rule="evenodd"/>
<path d="M1791,780 L1840,779 L1858,793 L1864,802 L1869,811 L1873,819 L1876,827 L1878,836 L1881,846 L1883,857 L1886,869 L1888,881 L1891,893 L1893,906 L1894,920 L1896,933 L1897,946 L1899,959 L1900,972 L1899,984 L1898,996 L1897,1010 L1897,1026 L1897,1043 L1897,1060 L1897,1074 L1897,1088 L1897,1100 L1897,1111 L1896,1121 L1895,1131 L1891,1140 L1887,1149 L1882,1156 L1877,1162 L1871,1166 L1866,1170 L1860,1172 L1854,1174 L1848,1175 L1842,1174 L1835,1173 L1829,1170 L1823,1166 L1818,1162 L1813,1156 L1810,1149 L1808,1141 L1806,1130 L1804,1116 L1803,1098 L1802,1080 L1801,1061 L1800,1040 L1799,1020 L1799,1000 L1798,980 L1798,960 L1798,939 L1797,919 L1797,900 L1794,884 L1791,871 L1788,859 L1782,848 L1777,838 L1772,828 L1771,818 L1773,804 L1791,780Z M1794,786 L1778,807 L1776,820 L1777,830 L1783,839 L1788,849 L1793,859 L1795,871 L1797,884 L1800,900 L1800,919 L1800,939 L1800,960 L1801,980 L1801,1000 L1801,1020 L1802,1040 L1803,1061 L1804,1080 L1804,1098 L1805,1116 L1807,1130 L1808,1141 L1811,1149 L1814,1156 L1818,1162 L1824,1166 L1829,1169 L1835,1172 L1842,1174 L1848,1174 L1854,1174 L1860,1172 L1866,1169 L1871,1166 L1876,1162 L1881,1156 L1886,1149 L1891,1140 L1894,1131 L1896,1121 L1896,1111 L1896,1100 L1896,1088 L1896,1074 L1896,1060 L1896,1043 L1896,1026 L1896,1010 L1896,996 L1896,985 L1896,972 L1894,960 L1892,947 L1890,935 L1888,922 L1886,909 L1883,896 L1881,884 L1880,871 L1879,859 L1876,849 L1873,838 L1871,829 L1868,822 L1864,814 L1859,806 L1854,797 L1838,784 L1794,786Z" fill="#faed1e" fill-rule="evenodd"/>
<polygon points="1817,824 1819,824 1822,826 1825,830 1828,835 1831,841 1835,848 1839,856 1843,865 1848,874 1853,884 1857,894 1862,905 1866,916 1871,928 1875,940 1879,952 1883,963 1886,975 1889,986 1890,997 1892,1010 1893,1026 1894,1044 1894,1060 1894,1074 1894,1088 1894,1100 1894,1111 1893,1121 1892,1130 1889,1139 1885,1148 1880,1155 1875,1161 1870,1165 1865,1168 1860,1171 1854,1172 1848,1173 1842,1172 1836,1171 1830,1168 1824,1165 1819,1161 1815,1155 1812,1148 1810,1141 1809,1130 1808,1116 1808,1098 1808,1080 1808,1061 1807,1040 1807,1020 1807,1000 1807,980 1807,960 1807,939 1807,919 1807,900 1807,885 1807,871 1808,860 1809,851 1810,844 1811,838 1813,832 1815,827" fill="#3e26a8" stroke="#3e26a8" stroke-width="1.5"/>
<path d="M1938,815 L1943,816 L1947,819 L1951,822 L1953,826 L1956,830 L1958,835 L1961,842 L1964,849 L1967,856 L1969,863 L1972,870 L1974,879 L1977,890 L1980,902 L1983,914 L1986,926 L1989,938 L1992,949 L1994,961 L1997,973 L1998,985 L2000,996 L2001,1008 L2002,1020 L2002,1033 L2003,1046 L2002,1060 L2002,1074 L2001,1087 L2000,1100 L1999,1111 L1998,1121 L1996,1130 L1995,1140 L1993,1148 L1991,1153 L1989,1152 L1987,1146 L1984,1138 L1979,1127 L1972,1113 L1966,1098 L1959,1084 L1952,1070 L1946,1055 L1939,1040 L1932,1024 L1927,1008 L1923,993 L1921,977 L1919,960 L1919,940 L1919,919 L1919,900 L1919,885 L1920,871 L1921,860 L1921,850 L1922,842 L1923,835 L1924,830 L1926,826 L1927,823 L1929,819 L1933,816 L1938,815Z M1938,821 L1936,822 L1933,824 L1931,826 L1929,828 L1928,831 L1926,836 L1925,842 L1923,850 L1922,860 L1921,871 L1920,885 L1920,900 L1920,919 L1919,940 L1920,960 L1921,977 L1924,993 L1927,1008 L1932,1024 L1939,1040 L1946,1055 L1953,1070 L1959,1084 L1966,1098 L1973,1112 L1979,1127 L1984,1138 L1987,1146 L1989,1152 L1991,1153 L1993,1148 L1994,1140 L1996,1130 L1997,1121 L1999,1111 L2000,1100 L2001,1087 L2002,1074 L2002,1060 L2002,1046 L2002,1033 L2001,1020 L2000,1008 L1999,996 L1997,985 L1995,973 L1993,962 L1990,950 L1987,938 L1983,927 L1980,915 L1977,903 L1973,891 L1970,880 L1967,872 L1965,865 L1962,858 L1959,851 L1956,844 L1953,838 L1951,833 L1948,829 L1946,826 L1943,823 L1941,822 L1938,821Z" fill="#4031bb" fill-rule="evenodd"/>
<path d="M1938,811 L1945,813 L1949,816 L1953,820 L1956,824 L1958,829 L1961,834 L1964,840 L1967,848 L1969,855 L1972,862 L1974,869 L1977,878 L1979,889 L1981,902 L1984,914 L1987,926 L1990,937 L1993,949 L1995,961 L1997,973 L1999,985 L2000,996 L2001,1008 L2002,1020 L2003,1033 L2003,1046 L2003,1060 L2002,1074 L2001,1087 L2000,1100 L1999,1111 L1998,1121 L1996,1130 L1995,1140 L1993,1148 L1991,1153 L1989,1152 L1987,1146 L1984,1138 L1979,1127 L1972,1113 L1966,1098 L1959,1084 L1952,1070 L1946,1055 L1939,1040 L1932,1024 L1927,1008 L1923,993 L1920,977 L1919,960 L1918,940 L1918,919 L1919,900 L1919,885 L1920,871 L1920,860 L1921,850 L1922,842 L1922,835 L1923,830 L1924,825 L1925,821 L1927,817 L1931,814 L1938,811Z M1938,818 L1934,819 L1931,822 L1929,824 L1928,827 L1926,831 L1925,836 L1924,842 L1923,850 L1922,860 L1921,871 L1920,885 L1920,900 L1919,919 L1919,940 L1920,960 L1921,977 L1923,993 L1927,1008 L1932,1024 L1939,1040 L1946,1055 L1953,1070 L1959,1084 L1966,1098 L1972,1113 L1979,1127 L1984,1138 L1987,1146 L1989,1152 L1991,1153 L1993,1148 L1995,1140 L1996,1130 L1998,1121 L1999,1111 L2000,1100 L2001,1087 L2002,1074 L2002,1060 L2002,1046 L2002,1033 L2001,1020 L2000,1008 L1999,996 L1998,985 L1996,973 L1993,962 L1991,950 L1988,938 L1984,926 L1981,915 L1978,902 L1975,890 L1972,879 L1969,871 L1967,864 L1964,857 L1961,850 L1958,843 L1956,837 L1953,832 L1951,828 L1948,824 L1945,821 L1942,819 L1938,818Z" fill="#4647e1" fill-rule="evenodd"/>
<path d="M1938,808 L1946,810 L1951,814 L1955,818 L1959,823 L1961,828 L1964,833 L1966,839 L1969,846 L1972,854 L1974,861 L1976,868 L1979,877 L1980,889 L1983,901 L1985,914 L1988,925 L1991,937 L1994,949 L1996,961 L1998,973 L1999,985 L2001,996 L2002,1008 L2002,1020 L2003,1033 L2003,1046 L2003,1060 L2002,1074 L2002,1087 L2001,1100 L1999,1111 L1998,1121 L1997,1130 L1995,1140 L1993,1149 L1991,1153 L1989,1152 L1987,1146 L1984,1138 L1979,1127 L1972,1113 L1966,1098 L1959,1084 L1952,1070 L1946,1055 L1939,1040 L1932,1024 L1926,1008 L1923,993 L1920,977 L1918,960 L1918,940 L1918,919 L1918,900 L1919,885 L1919,871 L1920,860 L1920,850 L1921,842 L1921,835 L1922,829 L1922,824 L1923,819 L1925,815 L1930,811 L1938,808Z M1938,815 L1933,816 L1929,820 L1927,823 L1926,826 L1925,830 L1924,835 L1923,842 L1922,850 L1921,860 L1920,871 L1920,885 L1919,900 L1919,919 L1919,940 L1919,960 L1921,977 L1923,993 L1927,1008 L1932,1024 L1939,1040 L1946,1055 L1953,1070 L1959,1084 L1966,1098 L1972,1113 L1979,1127 L1984,1138 L1987,1146 L1989,1152 L1991,1153 L1993,1148 L1995,1140 L1996,1130 L1998,1121 L1999,1111 L2000,1100 L2001,1087 L2002,1074 L2002,1060 L2002,1046 L2002,1033 L2002,1020 L2001,1008 L2000,996 L1998,985 L1996,973 L1994,961 L1992,950 L1989,938 L1985,926 L1982,914 L1979,902 L1977,890 L1974,879 L1972,870 L1969,863 L1967,856 L1964,849 L1961,842 L1958,835 L1956,830 L1953,826 L1951,822 L1947,819 L1943,816 L1938,815Z" fill="#425ff5" fill-rule="evenodd"/>
<path d="M1938,805 L1947,807 L1953,811 L1958,816 L1961,821 L1964,826 L1966,831 L1969,838 L1972,845 L1975,853 L1977,860 L1979,868 L1981,877 L1982,888 L1984,901 L1986,913 L1989,925 L1992,937 L1995,949 L1997,961 L1999,973 L2000,985 L2001,996 L2002,1008 L2003,1020 L2003,1033 L2003,1046 L2003,1060 L2002,1074 L2002,1087 L2001,1100 L1999,1111 L1998,1121 L1997,1130 L1995,1140 L1993,1149 L1991,1153 L1989,1152 L1987,1146 L1984,1138 L1978,1127 L1972,1113 L1966,1098 L1959,1084 L1952,1070 L1946,1055 L1939,1040 L1932,1024 L1926,1008 L1922,993 L1920,977 L1918,960 L1917,940 L1918,919 L1918,900 L1918,885 L1919,871 L1919,860 L1919,850 L1920,841 L1920,834 L1920,828 L1921,823 L1921,818 L1923,813 L1928,808 L1938,805Z M1938,811 L1931,814 L1927,817 L1925,821 L1924,825 L1924,830 L1923,835 L1922,842 L1921,850 L1921,860 L1920,871 L1919,885 L1919,900 L1918,919 L1918,940 L1919,960 L1921,977 L1923,993 L1927,1008 L1932,1024 L1939,1040 L1946,1055 L1952,1070 L1959,1084 L1966,1098 L1972,1113 L1979,1127 L1984,1138 L1987,1146 L1989,1152 L1991,1153 L1993,1148 L1995,1140 L1996,1130 L1998,1121 L1999,1111 L2000,1100 L2001,1087 L2002,1074 L2002,1060 L2003,1046 L2002,1033 L2002,1020 L2001,1008 L2000,996 L1999,985 L1997,973 L1995,961 L1992,949 L1990,938 L1986,926 L1983,914 L1981,902 L1978,889 L1977,878 L1974,869 L1972,862 L1969,855 L1967,848 L1964,840 L1961,834 L1958,829 L1956,824 L1953,820 L1949,816 L1945,813 L1938,811Z" fill="#347af6" fill-rule="evenodd"/>
<path d="M1938,801 L1949,804 L1955,809 L1960,814 L1964,819 L1967,825 L1969,830 L1972,837 L1975,844 L1977,852 L1979,859 L1981,867 L1983,876 L1984,888 L1986,900 L1988,913 L1990,925 L1993,937 L1996,949 L1998,961 L1999,973 L2001,984 L2002,996 L2003,1008 L2003,1020 L2003,1033 L2003,1046 L2003,1060 L2003,1074 L2002,1087 L2001,1100 L2000,1111 L1998,1121 L1997,1130 L1995,1140 L1993,1149 L1991,1153 L1989,1152 L1987,1146 L1984,1138 L1978,1127 L1972,1113 L1966,1098 L1959,1084 L1952,1070 L1946,1055 L1939,1040 L1932,1024 L1926,1008 L1922,993 L1920,977 L1918,960 L1917,940 L1917,919 L1917,900 L1918,884 L1918,871 L1919,860 L1919,850 L1919,841 L1919,834 L1919,828 L1919,822 L1919,816 L1921,811 L1927,805 L1938,801Z M1938,808 L1930,811 L1925,815 L1923,819 L1922,824 L1922,829 L1922,835 L1921,842 L1920,850 L1920,860 L1919,871 L1919,885 L1918,900 L1918,919 L1918,940 L1919,960 L1920,977 L1923,993 L1927,1008 L1932,1024 L1939,1040 L1946,1055 L1952,1070 L1959,1084 L1966,1098 L1972,1113 L1979,1127 L1984,1138 L1987,1146 L1989,1152 L1991,1153 L1993,1148 L1995,1140 L1996,1130 L1998,1121 L1999,1111 L2000,1100 L2001,1087 L2002,1074 L2003,1060 L2003,1046 L2003,1033 L2002,1020 L2002,1008 L2001,996 L1999,985 L1998,973 L1996,961 L1993,949 L1991,937 L1988,925 L1985,914 L1982,901 L1980,889 L1979,877 L1976,868 L1974,861 L1972,854 L1969,846 L1966,839 L1964,833 L1961,828 L1959,823 L1955,818 L1951,814 L1946,810 L1938,808Z" fill="#2792ef" fill-rule="evenodd"/>
<path d="M1938,798 L1950,801 L1957,806 L1963,812 L1967,818 L1969,823 L1972,829 L1974,835 L1977,843 L1980,851 L1982,858 L1984,866 L1986,875 L1986,887 L1987,900 L1989,912 L1992,924 L1994,936 L1996,948 L1998,960 L2000,972 L2001,984 L2002,996 L2003,1008 L2003,1020 L2004,1033 L2004,1046 L2003,1060 L2003,1074 L2002,1087 L2001,1100 L2000,1111 L1998,1121 L1997,1130 L1995,1140 L1994,1149 L1991,1153 L1989,1152 L1987,1146 L1983,1138 L1978,1127 L1972,1113 L1965,1098 L1959,1084 L1952,1070 L1945,1055 L1938,1040 L1932,1024 L1926,1008 L1922,993 L1919,977 L1917,960 L1917,940 L1917,919 L1917,900 L1917,884 L1918,871 L1918,860 L1918,850 L1918,841 L1918,834 L1917,827 L1917,821 L1916,814 L1919,809 L1925,803 L1938,798Z M1938,805 L1928,808 L1923,813 L1921,817 L1921,823 L1921,829 L1921,835 L1920,841 L1920,850 L1920,860 L1919,871 L1918,885 L1918,900 L1918,919 L1918,940 L1918,960 L1920,977 L1923,993 L1926,1008 L1932,1024 L1939,1040 L1946,1055 L1952,1070 L1959,1084 L1966,1098 L1972,1113 L1979,1127 L1984,1138 L1987,1146 L1989,1152 L1991,1153 L1993,1149 L1995,1140 L1997,1130 L1998,1121 L1999,1111 L2001,1100 L2002,1087 L2002,1074 L2003,1060 L2003,1046 L2003,1033 L2003,1020 L2002,1008 L2001,996 L2000,985 L1998,973 L1996,961 L1994,949 L1992,937 L1989,925 L1986,913 L1984,901 L1982,888 L1981,877 L1979,868 L1977,860 L1975,853 L1972,845 L1969,838 L1966,831 L1964,826 L1961,821 L1958,816 L1953,811 L1947,807 L1938,805Z" fill="#19a7de" fill-rule="evenodd"/>
<path d="M1938,794 L1951,798 L1960,803 L1965,809 L1969,816 L1972,822 L1975,827 L1977,834 L1980,842 L1983,850 L1984,857 L1986,865 L1988,874 L1988,886 L1989,899 L1991,912 L1993,924 L1995,936 L1998,948 L1999,960 L2001,972 L2002,984 L2003,996 L2004,1008 L2004,1020 L2004,1033 L2004,1046 L2003,1060 L2003,1074 L2002,1087 L2001,1100 L2000,1111 L1999,1121 L1997,1130 L1995,1140 L1994,1149 L1991,1154 L1989,1152 L1987,1147 L1983,1138 L1978,1127 L1972,1113 L1965,1098 L1959,1084 L1952,1070 L1945,1055 L1938,1040 L1932,1024 L1926,1008 L1922,993 L1919,977 L1917,960 L1916,940 L1916,919 L1916,900 L1917,884 L1917,871 L1918,860 L1917,849 L1917,841 L1916,833 L1915,826 L1915,819 L1914,812 L1917,807 L1924,800 L1938,794Z M1938,801 L1927,805 L1921,811 L1918,816 L1919,822 L1919,828 L1919,834 L1919,841 L1919,850 L1919,860 L1918,871 L1918,884 L1918,900 L1917,919 L1917,940 L1918,960 L1920,977 L1922,993 L1926,1008 L1932,1024 L1939,1040 L1946,1055 L1952,1070 L1959,1084 L1966,1098 L1972,1113 L1978,1127 L1984,1138 L1987,1146 L1989,1152 L1991,1153 L1993,1149 L1995,1140 L1997,1130 L1998,1121 L2000,1111 L2001,1100 L2002,1087 L2003,1074 L2003,1060 L2003,1046 L2003,1033 L2003,1020 L2002,1008 L2002,996 L2000,984 L1999,973 L1997,961 L1995,949 L1993,937 L1990,925 L1987,913 L1985,900 L1984,888 L1983,876 L1981,867 L1979,859 L1977,852 L1975,844 L1972,837 L1969,830 L1967,825 L1964,819 L1960,814 L1955,809 L1949,804 L1938,801Z" fill="#1bb7c6" fill-rule="evenodd"/>
<path d="M1938,791 L1953,795 L1962,801 L1968,807 L1972,814 L1975,820 L1978,826 L1980,833 L1983,840 L1986,848 L1987,856 L1989,864 L1991,874 L1990,886 L1991,899 L1992,912 L1994,923 L1997,936 L1999,948 L2000,960 L2002,972 L2003,984 L2003,996 L2004,1008 L2004,1020 L2004,1033 L2004,1046 L2004,1060 L2003,1074 L2002,1087 L2001,1100 L2000,1111 L1999,1121 L1997,1130 L1996,1140 L1994,1149 L1992,1154 L1989,1152 L1986,1147 L1983,1138 L1978,1127 L1972,1113 L1965,1098 L1959,1084 L1952,1070 L1945,1055 L1938,1040 L1931,1024 L1926,1008 L1922,993 L1919,977 L1916,960 L1916,940 L1916,919 L1916,900 L1916,884 L1917,871 L1917,860 L1916,849 L1916,841 L1915,833 L1914,826 L1913,818 L1912,810 L1915,804 L1922,797 L1938,791Z M1938,798 L1925,802 L1919,809 L1916,814 L1917,821 L1917,827 L1918,834 L1918,841 L1918,850 L1919,860 L1918,871 L1917,884 L1917,900 L1917,919 L1917,940 L1917,960 L1919,977 L1922,993 L1926,1008 L1932,1024 L1939,1040 L1945,1055 L1952,1070 L1959,1084 L1965,1098 L1972,1113 L1978,1127 L1983,1138 L1987,1146 L1989,1152 L1991,1153 L1994,1149 L1995,1140 L1997,1130 L1998,1121 L2000,1111 L2001,1100 L2002,1087 L2003,1074 L2003,1060 L2004,1046 L2004,1033 L2003,1020 L2003,1008 L2002,996 L2001,984 L2000,972 L1998,960 L1996,948 L1994,936 L1991,924 L1989,912 L1987,900 L1986,887 L1986,875 L1984,866 L1982,858 L1980,851 L1977,843 L1975,835 L1972,829 L1970,823 L1967,817 L1963,812 L1958,806 L1950,801 L1938,798Z" fill="#2ec2a7" fill-rule="evenodd"/>
<path d="M1938,787 L1955,791 L1964,798 L1970,805 L1975,812 L1978,818 L1981,824 L1983,831 L1986,839 L1988,847 L1990,855 L1991,863 L1993,873 L1993,885 L1993,898 L1994,911 L1996,923 L1998,935 L2000,948 L2001,960 L2003,972 L2003,984 L2004,996 L2005,1008 L2005,1020 L2005,1033 L2004,1046 L2004,1060 L2003,1074 L2002,1088 L2001,1100 L2000,1111 L1999,1121 L1997,1130 L1996,1140 L1994,1149 L1992,1154 L1988,1152 L1986,1147 L1983,1138 L1978,1127 L1972,1113 L1965,1098 L1959,1084 L1952,1070 L1945,1055 L1938,1040 L1931,1024 L1926,1008 L1921,993 L1918,977 L1916,960 L1915,940 L1915,919 L1915,900 L1916,884 L1916,871 L1916,859 L1915,849 L1914,840 L1914,833 L1912,825 L1911,817 L1909,808 L1913,802 L1920,793 L1938,787Z M1938,794 L1924,799 L1917,806 L1914,812 L1915,819 L1916,826 L1917,833 L1917,841 L1917,849 L1918,860 L1917,871 L1917,884 L1917,900 L1916,919 L1916,940 L1917,960 L1919,977 L1922,993 L1926,1008 L1932,1024 L1938,1040 L1945,1055 L1952,1070 L1959,1084 L1965,1098 L1972,1113 L1978,1127 L1983,1138 L1987,1147 L1989,1152 L1991,1154 L1994,1149 L1995,1140 L1997,1130 L1999,1121 L2000,1111 L2001,1100 L2002,1087 L2003,1074 L2003,1060 L2004,1046 L2004,1033 L2004,1020 L2003,1008 L2003,996 L2002,984 L2001,972 L1999,960 L1997,948 L1995,936 L1993,924 L1990,912 L1989,899 L1988,886 L1988,874 L1986,865 L1985,857 L1983,849 L1980,842 L1978,834 L1975,827 L1973,821 L1970,816 L1965,809 L1960,803 L1952,797 L1938,794Z" fill="#54c880" fill-rule="evenodd"/>
<path d="M1937,783 L1956,788 L1966,795 L1973,802 L1978,810 L1982,817 L1984,823 L1986,830 L1989,838 L1991,846 L1993,854 L1994,862 L1996,872 L1995,884 L1995,898 L1996,910 L1998,923 L2000,935 L2001,947 L2003,960 L2004,972 L2004,984 L2005,996 L2005,1007 L2005,1020 L2005,1033 L2005,1046 L2004,1060 L2004,1074 L2003,1088 L2002,1100 L2000,1111 L1999,1121 L1998,1130 L1996,1140 L1994,1149 L1992,1154 L1988,1152 L1986,1147 L1983,1138 L1978,1127 L1972,1113 L1965,1098 L1958,1084 L1952,1070 L1945,1055 L1938,1040 L1931,1024 L1925,1008 L1921,993 L1918,977 L1915,960 L1915,940 L1915,919 L1915,900 L1915,884 L1915,871 L1916,859 L1914,849 L1913,840 L1912,832 L1910,824 L1908,815 L1907,806 L1910,799 L1919,790 L1937,783Z M1938,790 L1922,796 L1915,804 L1912,810 L1913,818 L1914,826 L1915,833 L1916,841 L1916,849 L1917,860 L1917,871 L1916,884 L1916,900 L1916,919 L1916,940 L1916,960 L1919,977 L1922,993 L1926,1008 L1931,1024 L1938,1040 L1945,1055 L1952,1070 L1959,1084 L1965,1098 L1972,1113 L1978,1127 L1983,1138 L1986,1147 L1989,1152 L1992,1154 L1994,1149 L1996,1140 L1997,1130 L1999,1121 L2000,1111 L2001,1100 L2002,1087 L2003,1074 L2004,1060 L2004,1046 L2004,1033 L2004,1020 L2004,1008 L2003,996 L2003,984 L2002,972 L2000,960 L1999,948 L1997,936 L1994,923 L1992,912 L1991,899 L1991,886 L1991,873 L1989,864 L1988,856 L1986,848 L1983,840 L1981,832 L1978,826 L1976,820 L1973,814 L1968,807 L1962,800 L1953,794 L1938,790Z" fill="#8ec750" fill-rule="evenodd"/>
<path d="M1937,779 L1958,784 L1969,792 L1976,800 L1982,808 L1985,815 L1987,821 L1990,828 L1992,836 L1995,845 L1996,853 L1997,861 L1999,871 L1998,884 L1998,897 L1998,910 L1999,922 L2001,934 L2003,947 L2004,959 L2005,972 L2005,984 L2006,996 L2006,1007 L2006,1020 L2006,1033 L2005,1046 L2004,1060 L2004,1074 L2003,1088 L2002,1100 L2001,1111 L1999,1121 L1998,1130 L1996,1140 L1994,1149 L1992,1154 L1988,1152 L1986,1147 L1983,1138 L1978,1127 L1971,1113 L1965,1098 L1958,1085 L1952,1070 L1945,1055 L1938,1040 L1931,1024 L1925,1008 L1921,993 L1917,977 L1915,960 L1914,940 L1914,919 L1914,900 L1914,884 L1914,871 L1915,859 L1913,849 L1911,840 L1910,832 L1907,823 L1906,814 L1904,804 L1908,797 L1917,787 L1937,779Z M1937,786 L1920,793 L1912,801 L1909,808 L1910,816 L1912,825 L1913,833 L1914,840 L1915,849 L1916,859 L1916,871 L1915,884 L1915,900 L1915,919 L1915,940 L1916,960 L1918,977 L1921,993 L1926,1008 L1931,1024 L1938,1040 L1945,1055 L1952,1070 L1959,1084 L1965,1098 L1972,1113 L1978,1127 L1983,1138 L1986,1147 L1988,1152 L1992,1154 L1994,1149 L1996,1140 L1997,1130 L1999,1121 L2000,1111 L2001,1100 L2002,1088 L2003,1074 L2004,1060 L2004,1046 L2005,1033 L2005,1020 L2005,1008 L2004,996 L2003,984 L2003,972 L2001,960 L2000,948 L1998,935 L1996,923 L1994,911 L1993,898 L1993,885 L1994,873 L1992,863 L1990,855 L1989,847 L1986,839 L1984,831 L1981,824 L1979,818 L1976,812 L1971,804 L1964,797 L1955,791 L1937,786Z" fill="#c0c639" fill-rule="evenodd"/>
<path d="M1937,774 L1960,780 L1972,788 L1979,797 L1985,806 L1989,813 L1991,819 L1993,827 L1996,835 L1998,843 L1999,851 L2000,860 L2002,870 L2001,883 L2000,896 L2000,909 L2002,921 L2003,934 L2005,946 L2006,959 L2006,971 L2006,984 L2007,995 L2007,1007 L2006,1020 L2006,1033 L2006,1046 L2005,1060 L2004,1074 L2003,1088 L2002,1100 L2001,1111 L2000,1121 L1998,1130 L1996,1140 L1994,1149 L1992,1154 L1988,1152 L1986,1147 L1983,1139 L1978,1127 L1971,1113 L1965,1099 L1958,1085 L1951,1070 L1945,1056 L1938,1040 L1931,1025 L1925,1009 L1920,993 L1917,977 L1914,960 L1913,940 L1913,919 L1913,900 L1913,884 L1913,871 L1914,859 L1911,849 L1909,839 L1908,831 L1905,822 L1903,812 L1902,802 L1905,794 L1915,783 L1937,774Z M1937,782 L1918,789 L1910,799 L1906,806 L1908,815 L1909,824 L1911,832 L1913,840 L1914,849 L1916,859 L1915,871 L1915,884 L1915,900 L1914,919 L1914,940 L1915,960 L1918,977 L1921,993 L1925,1008 L1931,1024 L1938,1040 L1945,1055 L1952,1070 L1958,1084 L1965,1098 L1972,1113 L1978,1127 L1983,1138 L1986,1147 L1988,1152 L1992,1154 L1994,1149 L1996,1140 L1998,1130 L1999,1121 L2000,1111 L2002,1100 L2003,1088 L2004,1074 L2004,1060 L2005,1046 L2005,1033 L2005,1020 L2005,1007 L2005,996 L2004,984 L2004,972 L2003,959 L2001,947 L2000,935 L1998,922 L1996,910 L1996,898 L1996,884 L1996,872 L1995,862 L1994,854 L1992,846 L1990,837 L1987,829 L1985,822 L1982,816 L1979,810 L1974,802 L1967,794 L1956,787 L1937,782Z" fill="#e9c438" fill-rule="evenodd"/>
<path d="M1937,769 L1962,776 L1975,785 L1983,794 L1989,803 L1993,811 L1995,817 L1997,825 L2000,833 L2002,842 L2003,850 L2004,859 L2005,869 L2004,882 L2004,895 L2004,908 L2005,920 L2006,933 L2007,946 L2008,958 L2008,971 L2008,983 L2008,995 L2008,1007 L2007,1020 L2007,1033 L2006,1046 L2005,1060 L2005,1074 L2004,1088 L2002,1100 L2001,1111 L2000,1121 L1998,1130 L1997,1140 L1995,1149 L1992,1154 L1988,1153 L1986,1147 L1983,1139 L1977,1127 L1971,1113 L1965,1099 L1958,1085 L1951,1070 L1945,1056 L1937,1040 L1930,1025 L1925,1009 L1920,993 L1916,978 L1913,960 L1912,940 L1912,919 L1912,900 L1912,884 L1912,871 L1913,859 L1910,848 L1907,839 L1905,830 L1901,821 L1900,810 L1898,799 L1902,791 L1913,779 L1937,769Z M1937,778 L1916,786 L1907,796 L1904,803 L1905,813 L1907,823 L1909,831 L1911,840 L1912,849 L1915,859 L1914,871 L1914,884 L1914,900 L1914,919 L1914,940 L1914,960 L1917,977 L1920,993 L1925,1009 L1931,1024 L1938,1040 L1945,1056 L1952,1070 L1958,1085 L1965,1099 L1971,1113 L1978,1127 L1983,1138 L1986,1147 L1988,1152 L1992,1154 L1994,1149 L1996,1140 L1998,1130 L1999,1121 L2001,1111 L2002,1100 L2003,1088 L2004,1074 L2004,1060 L2005,1046 L2006,1033 L2006,1020 L2006,1007 L2006,996 L2006,984 L2005,971 L2004,959 L2003,947 L2002,934 L2000,922 L1999,910 L1998,897 L1999,883 L1999,871 L1998,861 L1997,852 L1996,844 L1993,836 L1991,828 L1988,821 L1986,814 L1982,807 L1977,799 L1970,791 L1958,783 L1937,778Z" fill="#fdd12f" fill-rule="evenodd"/>
<path d="M1937,766 L1963,773 L1977,782 L1985,792 L1992,802 L1995,809 L1998,816 L2000,823 L2002,832 L2005,841 L2005,849 L2006,858 L2007,868 L2008,881 L2009,894 L2010,906 L2010,919 L2011,932 L2011,945 L2012,958 L2011,970 L2011,983 L2011,995 L2010,1007 L2009,1019 L2008,1033 L2007,1046 L2006,1060 L2005,1074 L2004,1088 L2003,1100 L2002,1111 L2000,1121 L1999,1130 L1997,1140 L1995,1149 L1992,1154 L1987,1153 L1985,1147 L1982,1139 L1977,1127 L1971,1113 L1964,1099 L1958,1085 L1951,1071 L1944,1056 L1937,1041 L1930,1025 L1924,1009 L1919,993 L1914,978 L1911,960 L1910,940 L1910,919 L1910,900 L1910,884 L1910,871 L1910,859 L1906,848 L1902,838 L1899,829 L1896,818 L1896,807 L1896,797 L1900,788 L1911,776 L1937,766Z M1937,773 L1914,782 L1904,793 L1900,801 L1902,811 L1903,821 L1906,831 L1908,839 L1911,849 L1913,859 L1913,871 L1913,884 L1913,900 L1913,919 L1913,940 L1913,960 L1916,977 L1920,993 L1925,1009 L1931,1025 L1938,1040 L1945,1056 L1951,1070 L1958,1085 L1965,1099 L1971,1113 L1978,1127 L1983,1139 L1986,1147 L1988,1152 L1992,1154 L1995,1149 L1996,1140 L1998,1130 L2000,1121 L2001,1111 L2002,1100 L2003,1088 L2004,1074 L2005,1060 L2006,1046 L2007,1033 L2007,1020 L2007,1007 L2007,995 L2007,983 L2007,971 L2007,959 L2006,946 L2005,933 L2003,921 L2002,909 L2002,896 L2002,882 L2003,870 L2002,860 L2001,851 L1999,843 L1997,834 L1995,826 L1992,819 L1990,812 L1986,805 L1981,796 L1973,787 L1960,778 L1937,773Z" fill="#faed1e" fill-rule="evenodd"/>
<polygon points="1938,821 1941,822 1943,823 1946,826 1948,829 1951,833 1953,838 1956,844 1959,851 1962,858 1965,865 1967,872 1970,880 1973,891 1977,903 1980,915 1983,927 1987,938 1990,950 1993,962 1995,973 1997,985 1999,996 2000,1008 2001,1020 2002,1033 2002,1046 2002,1060 2002,1074 2001,1087 2000,1100 1999,1111 1997,1121 1996,1130 1994,1140 1993,1148 1991,1153 1989,1152 1987,1146 1984,1138 1979,1127 1973,1112 1966,1098 1959,1084 1953,1070 1946,1055 1939,1040 1932,1024 1927,1008 1924,993 1921,977 1920,960 1919,940 1920,919 1920,900 1920,885 1921,871 1922,860 1923,850 1925,842 1926,836 1928,831 1929,828 1931,826 1933,824 1936,822" fill="#3e26a8" stroke="#3e26a8" stroke-width="1.5"/>
<path d="M2043,808 L2047,809 L2051,811 L2054,814 L2057,818 L2060,822 L2063,827 L2066,834 L2069,841 L2072,848 L2075,856 L2078,864 L2081,872 L2084,881 L2087,889 L2090,897 L2092,904 L2095,912 L2097,919 L2099,928 L2101,937 L2103,946 L2105,955 L2107,964 L2108,975 L2110,986 L2112,998 L2113,1010 L2114,1023 L2114,1036 L2114,1050 L2115,1064 L2115,1077 L2114,1090 L2114,1101 L2113,1111 L2112,1120 L2111,1129 L2110,1137 L2108,1141 L2104,1139 L2099,1132 L2094,1125 L2088,1118 L2082,1110 L2076,1100 L2070,1088 L2065,1074 L2060,1060 L2056,1046 L2052,1031 L2048,1018 L2043,1006 L2039,996 L2035,985 L2032,974 L2030,963 L2028,950 L2028,934 L2028,916 L2028,900 L2028,886 L2028,872 L2029,860 L2029,848 L2030,838 L2031,829 L2032,823 L2033,819 L2033,815 L2035,812 L2038,809 L2043,808Z M2043,814 L2041,814 L2040,816 L2038,818 L2037,821 L2035,824 L2034,830 L2033,838 L2031,849 L2030,860 L2029,872 L2029,886 L2029,900 L2029,916 L2029,934 L2029,950 L2030,963 L2032,974 L2035,985 L2039,996 L2043,1006 L2048,1018 L2052,1031 L2056,1046 L2060,1060 L2065,1074 L2070,1088 L2076,1100 L2082,1110 L2088,1118 L2094,1125 L2099,1132 L2104,1139 L2108,1141 L2110,1137 L2111,1129 L2112,1120 L2113,1111 L2114,1101 L2114,1090 L2114,1077 L2114,1064 L2114,1050 L2114,1036 L2113,1023 L2112,1010 L2111,998 L2109,986 L2107,975 L2105,965 L2103,955 L2101,946 L2099,937 L2097,928 L2095,920 L2093,912 L2090,905 L2087,898 L2084,890 L2080,882 L2077,874 L2074,866 L2070,858 L2067,850 L2064,843 L2061,836 L2058,830 L2055,825 L2053,821 L2050,818 L2048,816 L2045,814 L2043,814Z" fill="#4031bb" fill-rule="evenodd"/>
<path d="M2043,804 L2049,806 L2053,808 L2057,812 L2060,816 L2063,820 L2066,826 L2069,832 L2072,839 L2074,847 L2077,855 L2080,863 L2083,871 L2086,880 L2088,888 L2091,896 L2094,904 L2096,911 L2098,919 L2100,928 L2102,936 L2104,945 L2105,955 L2107,964 L2109,975 L2110,986 L2112,998 L2113,1010 L2114,1023 L2114,1036 L2115,1050 L2115,1064 L2115,1077 L2114,1090 L2114,1101 L2113,1111 L2112,1120 L2112,1129 L2110,1137 L2108,1141 L2104,1139 L2099,1133 L2094,1125 L2088,1118 L2082,1110 L2076,1100 L2070,1088 L2065,1074 L2060,1060 L2055,1046 L2052,1031 L2048,1018 L2043,1007 L2039,996 L2035,985 L2032,974 L2029,963 L2028,950 L2027,934 L2027,916 L2028,900 L2028,886 L2028,872 L2028,860 L2029,848 L2029,838 L2030,829 L2030,823 L2031,818 L2031,814 L2033,810 L2037,806 L2043,804Z M2043,811 L2040,812 L2037,814 L2036,817 L2035,820 L2034,824 L2033,830 L2032,838 L2030,849 L2030,860 L2029,872 L2029,886 L2029,900 L2028,916 L2028,934 L2029,950 L2030,963 L2032,974 L2035,985 L2039,996 L2043,1006 L2048,1018 L2052,1031 L2056,1046 L2060,1060 L2065,1074 L2070,1088 L2076,1100 L2082,1110 L2088,1118 L2094,1125 L2099,1132 L2104,1139 L2108,1141 L2110,1137 L2111,1129 L2112,1120 L2113,1111 L2114,1101 L2114,1090 L2114,1077 L2114,1064 L2114,1050 L2114,1036 L2113,1023 L2112,1010 L2111,998 L2109,986 L2108,975 L2106,965 L2104,955 L2102,946 L2100,937 L2098,928 L2096,920 L2093,912 L2091,905 L2088,898 L2085,890 L2082,881 L2079,873 L2076,865 L2073,857 L2069,849 L2066,842 L2063,835 L2061,829 L2058,824 L2055,819 L2052,816 L2049,813 L2046,812 L2043,811Z" fill="#4647e1" fill-rule="evenodd"/>
<path d="M2043,801 L2050,803 L2055,806 L2059,810 L2062,814 L2065,819 L2068,825 L2071,831 L2074,838 L2077,846 L2080,854 L2083,862 L2085,870 L2087,879 L2090,888 L2092,896 L2095,904 L2097,911 L2099,919 L2101,927 L2103,936 L2104,945 L2106,955 L2108,964 L2109,975 L2111,986 L2112,998 L2113,1010 L2114,1023 L2115,1036 L2115,1050 L2115,1064 L2115,1077 L2115,1090 L2114,1101 L2113,1111 L2113,1120 L2112,1129 L2111,1137 L2108,1141 L2104,1139 L2099,1133 L2094,1125 L2088,1118 L2082,1110 L2076,1100 L2070,1088 L2065,1074 L2060,1060 L2055,1046 L2052,1032 L2048,1018 L2043,1007 L2038,996 L2035,985 L2031,974 L2029,963 L2027,950 L2027,934 L2027,916 L2027,900 L2027,886 L2027,872 L2028,860 L2028,848 L2028,838 L2029,829 L2029,823 L2029,817 L2029,813 L2031,808 L2036,804 L2043,801Z M2043,808 L2038,809 L2035,812 L2034,815 L2033,819 L2032,824 L2032,830 L2031,838 L2030,848 L2029,860 L2029,872 L2028,886 L2028,900 L2028,916 L2028,934 L2028,950 L2030,963 L2032,974 L2035,985 L2039,996 L2043,1006 L2048,1018 L2052,1031 L2056,1046 L2060,1060 L2065,1074 L2070,1088 L2076,1100 L2082,1110 L2088,1118 L2094,1125 L2099,1132 L2104,1139 L2108,1141 L2110,1137 L2111,1129 L2112,1120 L2113,1111 L2114,1101 L2114,1090 L2114,1077 L2114,1064 L2114,1050 L2114,1036 L2113,1023 L2113,1010 L2111,998 L2110,986 L2108,975 L2106,965 L2104,955 L2102,946 L2101,937 L2099,928 L2097,919 L2094,912 L2092,905 L2089,897 L2086,889 L2084,881 L2081,872 L2078,864 L2075,856 L2072,848 L2069,841 L2066,834 L2063,827 L2060,822 L2057,818 L2054,814 L2051,811 L2047,809 L2043,808Z" fill="#425ff5" fill-rule="evenodd"/>
<path d="M2043,798 L2051,800 L2057,803 L2061,807 L2065,812 L2068,817 L2071,823 L2074,830 L2077,837 L2080,845 L2082,853 L2085,861 L2088,870 L2089,878 L2091,887 L2093,896 L2096,903 L2098,911 L2100,919 L2102,927 L2104,936 L2105,945 L2107,954 L2108,964 L2110,974 L2111,986 L2113,997 L2114,1010 L2114,1023 L2115,1036 L2115,1050 L2115,1064 L2115,1077 L2115,1090 L2114,1101 L2114,1111 L2113,1120 L2112,1129 L2111,1137 L2108,1141 L2104,1139 L2099,1133 L2094,1125 L2088,1118 L2082,1110 L2076,1100 L2070,1088 L2065,1074 L2060,1060 L2055,1046 L2052,1032 L2048,1018 L2043,1007 L2038,996 L2034,985 L2031,974 L2029,963 L2027,950 L2027,934 L2027,916 L2027,900 L2027,886 L2027,872 L2027,860 L2027,848 L2027,838 L2028,829 L2027,822 L2027,817 L2027,811 L2029,806 L2034,801 L2043,798Z M2043,804 L2037,806 L2033,810 L2031,814 L2031,818 L2031,823 L2031,829 L2030,838 L2029,848 L2029,860 L2028,872 L2028,886 L2028,900 L2028,916 L2027,934 L2028,950 L2030,963 L2032,974 L2035,985 L2039,996 L2043,1007 L2048,1018 L2052,1031 L2056,1046 L2060,1060 L2065,1074 L2070,1088 L2076,1100 L2082,1110 L2088,1118 L2094,1125 L2099,1133 L2104,1139 L2108,1141 L2110,1137 L2111,1129 L2112,1120 L2113,1111 L2114,1101 L2114,1090 L2115,1077 L2115,1064 L2114,1050 L2114,1036 L2114,1023 L2113,1010 L2112,998 L2110,986 L2109,975 L2107,964 L2105,955 L2103,946 L2101,936 L2100,928 L2098,919 L2095,911 L2093,904 L2090,897 L2088,888 L2085,880 L2083,871 L2080,863 L2077,855 L2074,847 L2072,839 L2069,832 L2066,826 L2063,820 L2060,816 L2057,812 L2053,808 L2049,806 L2043,804Z" fill="#347af6" fill-rule="evenodd"/>
<path d="M2043,794 L2052,796 L2059,800 L2064,805 L2067,810 L2071,816 L2074,822 L2077,829 L2079,836 L2082,844 L2085,852 L2087,860 L2090,869 L2091,878 L2093,887 L2094,895 L2097,903 L2099,910 L2101,918 L2103,927 L2105,936 L2106,945 L2108,954 L2109,964 L2111,974 L2112,986 L2113,997 L2114,1010 L2115,1023 L2115,1036 L2115,1050 L2115,1064 L2115,1077 L2115,1090 L2114,1101 L2114,1111 L2113,1120 L2112,1129 L2111,1137 L2108,1141 L2104,1139 L2099,1133 L2094,1125 L2088,1118 L2082,1110 L2076,1100 L2070,1088 L2064,1074 L2060,1060 L2055,1046 L2051,1032 L2048,1018 L2043,1007 L2038,996 L2034,985 L2031,974 L2029,963 L2027,950 L2026,934 L2026,916 L2026,900 L2026,886 L2026,872 L2027,860 L2026,848 L2026,837 L2026,829 L2026,822 L2025,816 L2024,810 L2027,804 L2033,798 L2043,794Z M2043,801 L2036,804 L2031,808 L2029,813 L2029,818 L2029,823 L2029,829 L2029,838 L2028,848 L2028,860 L2028,872 L2027,886 L2027,900 L2027,916 L2027,934 L2028,950 L2029,963 L2032,974 L2035,985 L2038,996 L2043,1007 L2048,1018 L2052,1031 L2055,1046 L2060,1060 L2065,1074 L2070,1088 L2076,1100 L2082,1110 L2088,1118 L2094,1125 L2099,1133 L2104,1139 L2108,1141 L2110,1137 L2112,1129 L2112,1120 L2113,1111 L2114,1101 L2114,1090 L2115,1077 L2115,1064 L2115,1050 L2114,1036 L2114,1023 L2113,1010 L2112,998 L2111,986 L2109,975 L2108,964 L2106,955 L2104,945 L2102,936 L2101,927 L2099,919 L2097,911 L2094,904 L2091,896 L2089,888 L2087,879 L2085,870 L2083,862 L2080,854 L2077,846 L2074,838 L2071,831 L2068,825 L2065,819 L2062,814 L2059,810 L2055,806 L2050,803 L2043,801Z" fill="#2792ef" fill-rule="evenodd"/>
<path d="M2043,791 L2053,793 L2061,798 L2066,803 L2070,808 L2073,814 L2077,820 L2079,827 L2082,835 L2085,842 L2087,851 L2090,859 L2092,868 L2093,877 L2094,886 L2096,894 L2098,902 L2100,910 L2102,918 L2104,927 L2106,936 L2107,945 L2108,954 L2110,964 L2111,974 L2112,985 L2114,997 L2114,1010 L2115,1023 L2115,1036 L2115,1050 L2115,1064 L2115,1077 L2115,1090 L2114,1101 L2114,1111 L2113,1120 L2112,1129 L2111,1137 L2108,1142 L2104,1139 L2099,1133 L2094,1125 L2088,1118 L2081,1110 L2075,1100 L2070,1088 L2064,1074 L2059,1060 L2055,1046 L2051,1032 L2047,1018 L2043,1007 L2038,996 L2034,985 L2031,974 L2028,963 L2026,950 L2026,934 L2026,916 L2026,900 L2026,886 L2026,872 L2026,860 L2026,848 L2025,837 L2025,828 L2024,821 L2023,815 L2022,808 L2024,802 L2031,795 L2043,791Z M2043,798 L2034,801 L2029,806 L2026,811 L2027,817 L2028,822 L2028,829 L2028,838 L2028,848 L2028,860 L2027,872 L2027,886 L2027,900 L2027,916 L2027,934 L2027,950 L2029,963 L2031,974 L2034,985 L2038,996 L2043,1007 L2048,1018 L2052,1032 L2055,1046 L2060,1060 L2065,1074 L2070,1088 L2076,1100 L2082,1110 L2088,1118 L2094,1125 L2099,1133 L2104,1139 L2108,1141 L2111,1137 L2112,1129 L2113,1120 L2113,1111 L2114,1101 L2115,1090 L2115,1077 L2115,1064 L2115,1050 L2115,1036 L2114,1023 L2114,1010 L2113,997 L2111,986 L2110,975 L2108,964 L2107,954 L2105,945 L2103,936 L2102,927 L2100,919 L2098,911 L2095,903 L2093,896 L2091,887 L2089,878 L2088,870 L2085,861 L2082,853 L2080,845 L2077,837 L2074,830 L2071,823 L2068,817 L2065,812 L2061,807 L2057,803 L2051,799 L2043,798Z" fill="#19a7de" fill-rule="evenodd"/>
<path d="M2043,787 L2055,790 L2063,795 L2068,801 L2073,806 L2076,812 L2080,819 L2082,826 L2085,834 L2088,841 L2090,850 L2092,858 L2094,867 L2095,876 L2096,885 L2097,894 L2099,902 L2102,909 L2103,918 L2105,926 L2107,935 L2108,945 L2109,954 L2111,964 L2112,974 L2113,985 L2114,997 L2115,1010 L2115,1023 L2115,1036 L2115,1050 L2116,1064 L2115,1077 L2115,1090 L2115,1101 L2114,1111 L2113,1120 L2112,1129 L2111,1137 L2108,1142 L2104,1139 L2099,1133 L2093,1125 L2088,1118 L2081,1110 L2075,1100 L2070,1088 L2064,1074 L2059,1060 L2055,1046 L2051,1032 L2047,1018 L2043,1007 L2038,996 L2034,985 L2031,974 L2028,963 L2026,950 L2025,934 L2025,916 L2025,900 L2025,886 L2025,872 L2026,860 L2025,848 L2024,837 L2024,828 L2022,821 L2021,814 L2019,807 L2022,800 L2030,792 L2043,787Z M2043,794 L2033,798 L2026,804 L2024,810 L2025,816 L2026,822 L2027,829 L2027,837 L2027,848 L2027,860 L2027,872 L2027,886 L2027,900 L2026,916 L2026,934 L2027,950 L2029,963 L2031,974 L2034,985 L2038,996 L2043,1007 L2048,1018 L2051,1032 L2055,1046 L2060,1060 L2065,1074 L2070,1088 L2076,1100 L2082,1110 L2088,1118 L2094,1125 L2099,1133 L2104,1139 L2108,1141 L2111,1137 L2112,1129 L2113,1120 L2114,1111 L2114,1101 L2115,1090 L2115,1077 L2115,1064 L2115,1050 L2115,1036 L2115,1023 L2114,1010 L2113,997 L2112,986 L2110,974 L2109,964 L2107,954 L2106,945 L2104,936 L2103,927 L2101,918 L2099,910 L2096,903 L2094,895 L2092,887 L2091,878 L2090,869 L2087,860 L2085,852 L2082,843 L2080,836 L2077,829 L2074,822 L2071,816 L2067,810 L2064,805 L2059,800 L2052,796 L2043,794Z" fill="#1bb7c6" fill-rule="evenodd"/>
<path d="M2043,784 L2056,787 L2065,792 L2071,798 L2075,804 L2079,810 L2082,817 L2085,825 L2088,832 L2090,840 L2093,848 L2095,857 L2097,866 L2097,875 L2098,884 L2099,893 L2101,901 L2103,909 L2105,917 L2106,926 L2108,935 L2109,944 L2110,954 L2111,964 L2113,974 L2114,985 L2115,997 L2115,1010 L2116,1023 L2116,1036 L2116,1050 L2116,1064 L2116,1077 L2115,1090 L2115,1101 L2114,1111 L2113,1120 L2112,1129 L2111,1137 L2108,1142 L2104,1139 L2099,1133 L2093,1125 L2088,1118 L2081,1110 L2075,1100 L2070,1088 L2064,1074 L2059,1060 L2055,1046 L2051,1032 L2047,1018 L2043,1007 L2038,996 L2034,985 L2030,974 L2027,963 L2025,950 L2025,934 L2025,916 L2025,900 L2025,885 L2025,872 L2025,860 L2024,848 L2023,837 L2022,828 L2020,820 L2018,813 L2017,805 L2020,798 L2028,789 L2043,784Z M2043,791 L2031,795 L2024,802 L2021,808 L2023,815 L2024,821 L2025,828 L2026,837 L2026,848 L2026,860 L2026,872 L2026,886 L2026,900 L2026,916 L2026,934 L2026,950 L2028,963 L2031,974 L2034,985 L2038,996 L2043,1007 L2047,1018 L2051,1032 L2055,1046 L2059,1060 L2064,1074 L2070,1088 L2075,1100 L2082,1110 L2088,1118 L2094,1125 L2099,1133 L2104,1139 L2108,1142 L2111,1137 L2112,1129 L2113,1120 L2114,1111 L2114,1101 L2115,1090 L2115,1077 L2115,1064 L2115,1050 L2115,1036 L2115,1023 L2114,1010 L2113,997 L2112,985 L2111,974 L2110,964 L2108,954 L2107,945 L2105,936 L2104,927 L2102,918 L2100,910 L2098,902 L2095,895 L2094,886 L2093,877 L2092,868 L2090,859 L2087,851 L2085,842 L2082,835 L2080,827 L2077,820 L2074,814 L2070,808 L2066,803 L2061,798 L2054,793 L2043,791Z" fill="#2ec2a7" fill-rule="evenodd"/>
<path d="M2043,780 L2057,783 L2067,789 L2073,796 L2078,802 L2082,809 L2086,816 L2088,823 L2091,831 L2093,839 L2095,847 L2097,856 L2099,865 L2099,874 L2100,884 L2100,893 L2102,901 L2104,908 L2106,917 L2108,926 L2109,935 L2110,944 L2111,953 L2112,963 L2113,974 L2114,985 L2115,997 L2116,1010 L2116,1023 L2116,1036 L2116,1050 L2116,1064 L2116,1077 L2115,1090 L2115,1101 L2114,1111 L2113,1120 L2112,1129 L2111,1137 L2108,1142 L2104,1139 L2099,1133 L2093,1126 L2087,1118 L2081,1110 L2075,1100 L2070,1088 L2064,1074 L2059,1060 L2055,1046 L2051,1032 L2047,1018 L2042,1007 L2038,996 L2034,985 L2030,975 L2027,963 L2025,950 L2024,934 L2024,916 L2024,900 L2024,885 L2024,872 L2024,860 L2023,848 L2022,837 L2020,827 L2018,820 L2016,812 L2014,804 L2017,796 L2027,786 L2043,780Z M2043,787 L2030,792 L2022,800 L2019,807 L2021,814 L2022,821 L2024,828 L2024,837 L2025,848 L2026,860 L2025,872 L2025,886 L2026,900 L2025,916 L2025,934 L2026,950 L2028,963 L2031,974 L2034,985 L2038,996 L2043,1007 L2047,1018 L2051,1032 L2055,1046 L2059,1060 L2064,1074 L2070,1088 L2075,1100 L2081,1110 L2088,1118 L2093,1125 L2099,1133 L2104,1139 L2108,1142 L2111,1137 L2112,1129 L2113,1120 L2114,1111 L2115,1101 L2115,1090 L2115,1077 L2115,1064 L2115,1050 L2115,1036 L2115,1023 L2115,1010 L2114,997 L2113,985 L2112,974 L2110,964 L2109,954 L2108,945 L2106,935 L2105,926 L2103,918 L2101,909 L2099,902 L2097,894 L2096,885 L2095,876 L2095,867 L2092,858 L2090,849 L2088,841 L2085,833 L2083,826 L2080,819 L2076,812 L2073,806 L2069,800 L2063,795 L2055,790 L2043,787Z" fill="#54c880" fill-rule="evenodd"/>
<path d="M2043,776 L2059,780 L2069,786 L2076,793 L2081,800 L2085,807 L2089,814 L2091,822 L2094,830 L2096,838 L2098,846 L2100,855 L2102,864 L2101,873 L2102,883 L2102,892 L2104,900 L2106,908 L2108,916 L2109,925 L2110,935 L2111,944 L2112,953 L2113,963 L2114,974 L2115,985 L2116,997 L2116,1010 L2116,1023 L2116,1036 L2116,1050 L2116,1064 L2116,1077 L2116,1090 L2115,1101 L2114,1111 L2114,1120 L2113,1129 L2111,1137 L2108,1142 L2103,1139 L2098,1133 L2093,1126 L2087,1119 L2081,1110 L2075,1100 L2069,1088 L2064,1074 L2059,1060 L2055,1046 L2051,1032 L2047,1018 L2042,1007 L2038,996 L2033,985 L2030,975 L2027,963 L2024,950 L2024,934 L2024,916 L2024,900 L2024,885 L2023,872 L2024,860 L2022,847 L2020,836 L2019,827 L2016,819 L2014,811 L2011,802 L2014,794 L2025,783 L2043,776Z M2043,783 L2028,789 L2019,798 L2016,805 L2018,813 L2020,820 L2022,828 L2023,837 L2024,848 L2025,860 L2025,872 L2025,885 L2025,900 L2025,916 L2025,934 L2025,950 L2028,963 L2030,974 L2034,985 L2038,996 L2043,1007 L2047,1018 L2051,1032 L2055,1046 L2059,1060 L2064,1074 L2070,1088 L2075,1100 L2081,1110 L2088,1118 L2093,1125 L2099,1133 L2104,1139 L2108,1142 L2111,1137 L2112,1129 L2113,1120 L2114,1111 L2115,1101 L2115,1090 L2116,1077 L2116,1064 L2116,1050 L2116,1036 L2116,1023 L2115,1010 L2115,997 L2114,985 L2113,974 L2111,964 L2110,954 L2109,944 L2108,935 L2106,926 L2105,917 L2103,909 L2101,901 L2099,893 L2098,884 L2097,875 L2097,866 L2095,857 L2093,848 L2091,840 L2088,832 L2086,824 L2083,817 L2079,810 L2076,804 L2071,798 L2065,792 L2056,786 L2043,783Z" fill="#8ec750" fill-rule="evenodd"/>
<path d="M2043,772 L2060,776 L2072,783 L2079,791 L2084,798 L2088,805 L2092,812 L2095,820 L2097,828 L2100,836 L2101,845 L2103,854 L2105,862 L2104,872 L2104,882 L2104,891 L2106,899 L2108,907 L2109,916 L2111,925 L2112,934 L2113,943 L2114,953 L2114,963 L2115,974 L2116,985 L2117,997 L2117,1010 L2117,1023 L2117,1036 L2116,1050 L2116,1064 L2116,1077 L2116,1090 L2115,1101 L2115,1111 L2114,1120 L2113,1129 L2111,1137 L2108,1142 L2103,1140 L2098,1133 L2093,1126 L2087,1119 L2081,1110 L2075,1101 L2069,1088 L2064,1074 L2059,1060 L2055,1046 L2051,1032 L2047,1018 L2042,1007 L2037,996 L2033,986 L2029,975 L2026,963 L2024,950 L2023,934 L2023,916 L2023,900 L2023,885 L2023,872 L2023,859 L2020,847 L2018,836 L2016,827 L2014,818 L2011,810 L2008,800 L2012,791 L2023,779 L2043,772Z M2043,779 L2026,785 L2017,795 L2013,804 L2016,812 L2018,820 L2020,827 L2022,837 L2023,848 L2024,860 L2024,872 L2024,885 L2024,900 L2024,916 L2024,934 L2025,950 L2027,963 L2030,975 L2034,985 L2038,996 L2042,1007 L2047,1018 L2051,1032 L2055,1046 L2059,1060 L2064,1074 L2070,1088 L2075,1100 L2081,1110 L2087,1118 L2093,1126 L2099,1133 L2104,1139 L2108,1142 L2111,1137 L2112,1129 L2113,1120 L2114,1111 L2115,1101 L2115,1090 L2116,1077 L2116,1064 L2116,1050 L2116,1036 L2116,1023 L2116,1010 L2115,997 L2114,985 L2113,974 L2112,963 L2111,953 L2110,944 L2109,935 L2108,926 L2106,917 L2104,908 L2102,900 L2100,893 L2100,884 L2099,874 L2100,864 L2098,856 L2096,847 L2094,839 L2091,831 L2089,823 L2086,815 L2083,808 L2079,802 L2074,795 L2067,789 L2058,783 L2043,779Z" fill="#c0c639" fill-rule="evenodd"/>
<path d="M2043,767 L2062,772 L2074,779 L2082,788 L2088,795 L2092,803 L2096,810 L2098,819 L2101,827 L2103,835 L2104,843 L2106,852 L2108,861 L2107,871 L2107,881 L2107,890 L2108,898 L2110,906 L2111,915 L2113,925 L2114,934 L2114,943 L2115,953 L2116,963 L2116,973 L2117,985 L2117,997 L2117,1009 L2118,1023 L2117,1036 L2117,1050 L2117,1064 L2116,1077 L2116,1090 L2116,1101 L2115,1111 L2114,1120 L2113,1129 L2112,1137 L2108,1142 L2103,1140 L2098,1133 L2093,1126 L2087,1119 L2081,1111 L2075,1101 L2069,1088 L2064,1075 L2059,1060 L2054,1046 L2051,1032 L2047,1018 L2042,1007 L2037,996 L2033,986 L2029,975 L2026,963 L2023,950 L2022,934 L2022,916 L2022,900 L2022,885 L2022,872 L2022,859 L2019,847 L2016,836 L2014,826 L2011,817 L2008,808 L2005,799 L2009,789 L2021,775 L2043,767Z M2043,775 L2025,782 L2014,793 L2011,802 L2013,811 L2016,819 L2018,827 L2020,836 L2022,847 L2024,860 L2023,872 L2023,885 L2024,900 L2024,916 L2024,934 L2024,950 L2027,963 L2030,975 L2033,985 L2038,996 L2042,1007 L2047,1018 L2051,1032 L2055,1046 L2059,1060 L2064,1074 L2069,1088 L2075,1101 L2081,1110 L2087,1119 L2093,1126 L2098,1133 L2103,1140 L2108,1142 L2111,1137 L2113,1129 L2114,1120 L2114,1111 L2115,1101 L2116,1090 L2116,1077 L2116,1064 L2116,1050 L2116,1036 L2117,1023 L2116,1010 L2116,997 L2115,985 L2114,974 L2114,963 L2112,953 L2111,944 L2110,934 L2109,925 L2108,916 L2106,908 L2104,900 L2102,892 L2102,883 L2102,873 L2102,863 L2101,855 L2099,846 L2097,837 L2095,829 L2092,821 L2089,814 L2086,806 L2082,800 L2077,793 L2070,785 L2059,779 L2043,775Z" fill="#e9c438" fill-rule="evenodd"/>
<path d="M2043,762 L2064,767 L2077,776 L2085,784 L2091,793 L2096,800 L2100,808 L2102,817 L2105,825 L2107,833 L2108,842 L2109,851 L2111,860 L2110,870 L2110,879 L2110,889 L2111,897 L2113,905 L2114,914 L2115,924 L2116,933 L2116,943 L2117,952 L2118,962 L2118,973 L2118,985 L2118,997 L2118,1009 L2118,1023 L2118,1036 L2117,1050 L2117,1064 L2117,1077 L2116,1090 L2116,1101 L2115,1111 L2114,1120 L2113,1129 L2112,1138 L2108,1143 L2103,1140 L2098,1133 L2093,1126 L2087,1119 L2081,1111 L2075,1101 L2069,1088 L2063,1075 L2058,1060 L2054,1046 L2050,1032 L2046,1019 L2042,1007 L2037,997 L2033,986 L2028,975 L2025,964 L2022,950 L2021,934 L2021,916 L2021,900 L2021,885 L2020,872 L2021,859 L2017,847 L2014,835 L2011,825 L2007,816 L2004,807 L2002,797 L2006,786 L2019,771 L2043,762Z M2043,771 L2023,778 L2011,790 L2007,800 L2010,809 L2013,818 L2016,826 L2018,836 L2020,847 L2023,859 L2022,872 L2023,885 L2023,900 L2023,916 L2023,934 L2023,950 L2026,963 L2029,975 L2033,986 L2037,996 L2042,1007 L2047,1018 L2051,1032 L2055,1046 L2059,1060 L2064,1074 L2069,1088 L2075,1101 L2081,1110 L2087,1119 L2093,1126 L2098,1133 L2103,1140 L2108,1142 L2112,1137 L2113,1129 L2114,1120 L2115,1111 L2115,1101 L2116,1090 L2116,1077 L2117,1064 L2116,1050 L2117,1036 L2117,1023 L2117,1010 L2117,997 L2116,985 L2116,973 L2115,963 L2114,953 L2113,943 L2112,934 L2111,925 L2110,916 L2108,907 L2107,899 L2105,891 L2105,882 L2105,872 L2105,862 L2104,853 L2102,844 L2100,836 L2098,828 L2096,820 L2093,812 L2089,804 L2085,797 L2080,790 L2072,782 L2061,775 L2043,771Z" fill="#fdd12f" fill-rule="evenodd"/>
<path d="M2043,759 L2065,764 L2079,773 L2088,782 L2094,791 L2098,799 L2102,807 L2105,816 L2107,824 L2109,832 L2111,841 L2112,850 L2113,859 L2114,868 L2115,877 L2116,886 L2117,895 L2118,904 L2119,913 L2120,923 L2120,932 L2121,942 L2121,951 L2121,962 L2121,973 L2121,984 L2121,996 L2120,1009 L2120,1023 L2119,1036 L2118,1050 L2118,1064 L2118,1077 L2117,1090 L2117,1101 L2116,1111 L2115,1120 L2114,1129 L2112,1138 L2109,1143 L2103,1140 L2098,1134 L2092,1126 L2087,1119 L2080,1111 L2074,1101 L2069,1089 L2063,1075 L2058,1061 L2054,1046 L2050,1032 L2046,1019 L2041,1007 L2036,997 L2032,986 L2027,975 L2023,964 L2020,951 L2019,934 L2019,916 L2019,900 L2018,885 L2018,872 L2018,859 L2013,846 L2009,835 L2005,824 L2002,815 L2000,805 L1999,795 L2003,784 L2018,768 L2043,759Z M2043,766 L2020,774 L2008,788 L2004,798 L2006,808 L2009,817 L2012,826 L2015,836 L2018,847 L2021,859 L2021,872 L2021,885 L2022,900 L2022,916 L2022,934 L2022,950 L2025,964 L2029,975 L2033,986 L2037,997 L2042,1007 L2047,1018 L2051,1032 L2054,1046 L2059,1060 L2064,1075 L2069,1088 L2075,1101 L2081,1111 L2087,1119 L2093,1126 L2098,1133 L2103,1140 L2108,1142 L2112,1138 L2113,1129 L2114,1120 L2115,1111 L2116,1101 L2116,1090 L2117,1077 L2117,1064 L2117,1050 L2117,1036 L2118,1023 L2118,1009 L2118,997 L2118,985 L2117,973 L2117,962 L2116,952 L2115,943 L2115,934 L2114,924 L2113,915 L2111,906 L2110,898 L2108,890 L2108,880 L2108,870 L2109,861 L2107,852 L2106,843 L2104,834 L2102,826 L2100,818 L2097,810 L2093,802 L2089,794 L2083,787 L2075,778 L2063,770 L2043,766Z" fill="#faed1e" fill-rule="evenodd"/>
<polygon points="2043,814 2045,814 2048,816 2050,818 2053,821 2055,825 2058,830 2061,836 2064,843 2067,850 2070,858 2074,866 2077,874 2080,882 2084,890 2087,898 2090,905 2093,912 2095,920 2097,928 2099,937 2101,946 2103,955 2105,965 2107,975 2109,986 2111,998 2112,1010 2113,1023 2114,1036 2114,1050 2114,1064 2114,1077 2114,1090 2114,1101 2113,1111 2112,1120 2111,1129 2110,1137 2108,1141 2104,1139 2099,1132 2094,1125 2088,1118 2082,1110 2076,1100 2070,1088 2065,1074 2060,1060 2056,1046 2052,1031 2048,1018 2043,1006 2039,996 2035,985 2032,974 2030,963 2029,950 2029,934 2029,916 2029,900 2029,886 2029,872 2030,860 2031,849 2033,838 2034,830 2035,824 2037,821 2038,818 2040,816 2041,814" fill="#3e26a8" stroke="#3e26a8" stroke-width="1.5"/>
<path d="M2157,800 L2164,801 L2168,804 L2171,808 L2174,814 L2177,821 L2180,827 L2183,833 L2186,839 L2190,848 L2195,862 L2201,879 L2207,896 L2213,912 L2219,928 L2225,945 L2230,961 L2234,977 L2238,993 L2242,1010 L2246,1026 L2248,1042 L2250,1055 L2251,1068 L2252,1080 L2252,1090 L2252,1100 L2252,1110 L2253,1123 L2253,1136 L2251,1146 L2246,1149 L2238,1149 L2230,1146 L2221,1143 L2212,1139 L2204,1132 L2197,1123 L2191,1112 L2186,1100 L2181,1087 L2178,1074 L2174,1060 L2170,1046 L2166,1031 L2162,1018 L2158,1006 L2153,996 L2150,985 L2147,974 L2145,963 L2143,950 L2143,934 L2143,916 L2143,900 L2143,886 L2143,872 L2144,860 L2144,848 L2145,838 L2146,829 L2147,823 L2147,818 L2148,813 L2150,808 L2152,804 L2157,800Z M2159,807 L2157,808 L2155,811 L2153,815 L2152,819 L2150,824 L2149,830 L2148,839 L2146,849 L2145,860 L2144,872 L2144,886 L2144,900 L2144,916 L2144,934 L2144,950 L2145,963 L2147,974 L2150,985 L2154,996 L2158,1006 L2162,1018 L2166,1031 L2170,1046 L2174,1060 L2178,1074 L2182,1087 L2186,1100 L2191,1112 L2197,1123 L2204,1132 L2212,1139 L2221,1143 L2230,1146 L2238,1148 L2246,1149 L2251,1146 L2253,1136 L2252,1123 L2251,1110 L2251,1100 L2251,1090 L2250,1080 L2249,1068 L2248,1056 L2246,1042 L2243,1027 L2239,1010 L2235,994 L2231,978 L2226,962 L2221,946 L2215,930 L2208,914 L2202,898 L2196,881 L2190,864 L2185,850 L2181,841 L2178,835 L2175,830 L2172,823 L2169,817 L2166,812 L2163,809 L2161,807 L2159,807Z" fill="#4031bb" fill-rule="evenodd"/>
<path d="M2156,797 L2165,798 L2170,802 L2174,807 L2177,813 L2180,819 L2183,826 L2186,831 L2189,837 L2193,847 L2198,861 L2203,878 L2209,895 L2215,911 L2221,928 L2227,944 L2231,960 L2235,977 L2239,993 L2243,1009 L2247,1026 L2249,1041 L2251,1055 L2252,1068 L2253,1080 L2253,1090 L2253,1100 L2252,1110 L2253,1123 L2253,1136 L2251,1146 L2246,1150 L2238,1149 L2230,1146 L2221,1143 L2212,1139 L2204,1132 L2197,1123 L2191,1112 L2186,1100 L2181,1087 L2178,1074 L2174,1060 L2170,1046 L2166,1031 L2162,1018 L2157,1007 L2153,996 L2150,985 L2147,974 L2144,963 L2143,950 L2142,934 L2142,916 L2143,900 L2143,886 L2143,872 L2143,860 L2144,848 L2144,838 L2145,829 L2145,822 L2145,817 L2145,812 L2147,807 L2150,802 L2156,797Z M2158,804 L2155,806 L2152,810 L2150,814 L2150,818 L2149,823 L2148,830 L2147,838 L2145,849 L2145,860 L2144,872 L2144,886 L2144,900 L2143,916 L2143,934 L2144,950 L2145,963 L2147,974 L2150,985 L2153,996 L2158,1006 L2162,1018 L2166,1031 L2170,1046 L2174,1060 L2178,1074 L2181,1087 L2186,1100 L2191,1112 L2197,1123 L2204,1132 L2212,1139 L2221,1143 L2230,1146 L2238,1148 L2246,1149 L2251,1146 L2253,1136 L2252,1123 L2251,1110 L2251,1100 L2251,1090 L2251,1080 L2250,1068 L2249,1056 L2247,1042 L2244,1027 L2240,1010 L2236,994 L2232,978 L2228,962 L2223,945 L2217,929 L2211,913 L2204,897 L2198,880 L2193,863 L2188,849 L2184,840 L2181,834 L2178,829 L2175,822 L2172,816 L2169,810 L2166,807 L2162,804 L2158,804Z" fill="#4647e1" fill-rule="evenodd"/>
<path d="M2155,794 L2166,795 L2173,800 L2177,805 L2180,811 L2183,818 L2186,824 L2188,830 L2192,836 L2196,846 L2200,860 L2206,878 L2211,895 L2217,910 L2223,927 L2229,943 L2233,960 L2237,976 L2240,993 L2244,1009 L2248,1026 L2250,1041 L2252,1055 L2253,1068 L2253,1080 L2254,1090 L2253,1100 L2253,1110 L2253,1123 L2254,1136 L2251,1146 L2246,1150 L2238,1149 L2230,1146 L2221,1143 L2212,1139 L2204,1132 L2197,1123 L2191,1112 L2186,1100 L2181,1087 L2177,1074 L2174,1060 L2170,1046 L2166,1032 L2162,1018 L2157,1007 L2153,996 L2149,985 L2146,974 L2144,963 L2142,950 L2142,934 L2142,916 L2142,900 L2142,886 L2142,872 L2143,860 L2143,848 L2143,838 L2144,829 L2144,822 L2143,816 L2143,810 L2144,805 L2148,800 L2155,794Z M2157,801 L2152,804 L2150,808 L2148,813 L2148,818 L2147,823 L2147,830 L2146,838 L2145,849 L2144,860 L2144,872 L2143,886 L2143,900 L2143,916 L2143,934 L2143,950 L2145,963 L2147,974 L2150,985 L2153,996 L2158,1006 L2162,1018 L2166,1031 L2170,1046 L2174,1060 L2178,1074 L2181,1087 L2186,1100 L2191,1112 L2197,1123 L2204,1132 L2212,1139 L2221,1143 L2230,1146 L2238,1149 L2246,1149 L2251,1146 L2253,1136 L2252,1123 L2252,1110 L2252,1100 L2252,1090 L2251,1080 L2251,1068 L2250,1055 L2248,1042 L2245,1026 L2241,1010 L2237,993 L2233,977 L2229,961 L2225,945 L2219,928 L2213,912 L2207,896 L2201,879 L2195,862 L2190,848 L2186,839 L2183,833 L2180,827 L2177,821 L2174,814 L2171,808 L2168,804 L2164,801 L2157,801Z" fill="#425ff5" fill-rule="evenodd"/>
<path d="M2154,790 L2168,792 L2175,797 L2180,803 L2183,810 L2186,817 L2189,823 L2191,828 L2194,835 L2198,845 L2203,859 L2208,877 L2214,894 L2219,910 L2225,926 L2231,942 L2235,959 L2238,976 L2241,992 L2245,1009 L2249,1026 L2251,1041 L2253,1055 L2254,1068 L2254,1080 L2254,1090 L2254,1100 L2253,1110 L2254,1123 L2254,1136 L2252,1146 L2246,1150 L2238,1149 L2230,1146 L2221,1143 L2212,1139 L2204,1132 L2197,1123 L2191,1112 L2186,1100 L2181,1087 L2177,1074 L2174,1060 L2170,1046 L2166,1032 L2162,1018 L2157,1007 L2153,996 L2149,985 L2146,974 L2144,963 L2142,950 L2142,934 L2142,916 L2142,900 L2142,886 L2142,872 L2142,860 L2142,848 L2142,838 L2143,829 L2142,822 L2141,816 L2140,809 L2142,804 L2145,797 L2154,790Z M2156,797 L2150,802 L2147,807 L2145,812 L2146,817 L2146,823 L2146,829 L2145,838 L2144,848 L2144,860 L2143,872 L2143,886 L2143,900 L2143,916 L2142,934 L2143,950 L2145,963 L2147,974 L2150,985 L2153,996 L2158,1007 L2162,1018 L2166,1031 L2170,1046 L2174,1060 L2178,1074 L2181,1087 L2186,1100 L2191,1112 L2197,1123 L2204,1132 L2212,1139 L2221,1143 L2230,1146 L2238,1149 L2246,1149 L2251,1146 L2253,1136 L2253,1123 L2252,1110 L2252,1100 L2253,1090 L2252,1080 L2252,1068 L2251,1055 L2249,1042 L2246,1026 L2242,1010 L2238,993 L2235,977 L2231,961 L2227,944 L2221,928 L2215,911 L2209,895 L2203,878 L2198,861 L2193,847 L2189,837 L2186,831 L2183,826 L2180,819 L2177,813 L2174,807 L2170,802 L2165,798 L2156,797Z" fill="#347af6" fill-rule="evenodd"/>
<path d="M2153,787 L2169,788 L2178,795 L2182,801 L2186,808 L2189,815 L2192,822 L2194,827 L2197,834 L2201,844 L2206,858 L2211,876 L2216,893 L2222,909 L2228,925 L2233,942 L2236,959 L2240,976 L2243,992 L2246,1009 L2250,1025 L2252,1041 L2254,1055 L2255,1068 L2255,1080 L2255,1090 L2254,1100 L2254,1110 L2254,1123 L2254,1136 L2252,1146 L2246,1150 L2238,1149 L2230,1146 L2221,1144 L2212,1139 L2204,1132 L2197,1123 L2191,1112 L2186,1100 L2181,1087 L2177,1074 L2174,1060 L2170,1046 L2166,1032 L2162,1018 L2157,1007 L2153,996 L2149,985 L2146,974 L2144,963 L2142,950 L2141,934 L2141,916 L2141,900 L2141,886 L2141,872 L2142,860 L2141,848 L2141,838 L2141,829 L2140,821 L2139,815 L2137,808 L2139,802 L2143,795 L2153,787Z M2155,794 L2148,799 L2144,805 L2143,810 L2143,816 L2144,822 L2144,829 L2144,838 L2143,848 L2143,860 L2143,872 L2142,886 L2142,900 L2142,916 L2142,934 L2143,950 L2144,963 L2147,974 L2150,985 L2153,996 L2157,1007 L2162,1018 L2166,1031 L2170,1046 L2174,1060 L2177,1074 L2181,1087 L2186,1100 L2191,1112 L2197,1123 L2204,1132 L2212,1139 L2221,1143 L2230,1146 L2238,1149 L2246,1150 L2251,1146 L2253,1136 L2253,1123 L2253,1110 L2253,1100 L2253,1090 L2253,1080 L2252,1068 L2252,1055 L2250,1041 L2247,1026 L2244,1009 L2240,993 L2236,976 L2233,960 L2229,943 L2223,927 L2217,910 L2211,895 L2206,878 L2200,860 L2196,846 L2192,836 L2188,830 L2186,824 L2183,818 L2180,811 L2177,805 L2173,800 L2166,795 L2155,794Z" fill="#2792ef" fill-rule="evenodd"/>
<path d="M2152,784 L2171,785 L2180,792 L2185,799 L2189,807 L2192,814 L2195,820 L2197,825 L2200,832 L2204,843 L2208,857 L2213,875 L2219,892 L2224,908 L2230,924 L2235,941 L2238,958 L2241,975 L2244,992 L2248,1008 L2251,1025 L2253,1041 L2255,1055 L2256,1068 L2256,1080 L2256,1090 L2255,1100 L2254,1110 L2254,1123 L2254,1137 L2252,1146 L2246,1150 L2238,1149 L2230,1147 L2221,1144 L2212,1139 L2204,1132 L2197,1123 L2191,1112 L2185,1100 L2181,1088 L2177,1074 L2173,1060 L2169,1046 L2165,1032 L2161,1018 L2157,1007 L2153,996 L2149,985 L2146,974 L2143,963 L2141,950 L2141,934 L2141,916 L2141,900 L2141,886 L2141,872 L2141,860 L2141,848 L2140,837 L2140,828 L2139,821 L2137,814 L2134,807 L2136,800 L2140,792 L2152,784Z M2154,790 L2145,797 L2142,804 L2140,809 L2141,816 L2142,822 L2143,829 L2143,838 L2143,848 L2143,860 L2142,872 L2142,886 L2142,900 L2142,916 L2142,934 L2142,950 L2144,963 L2146,974 L2149,985 L2153,996 L2157,1007 L2162,1018 L2166,1032 L2170,1046 L2174,1060 L2177,1074 L2181,1087 L2186,1100 L2191,1112 L2197,1123 L2204,1132 L2212,1139 L2221,1143 L2230,1146 L2238,1149 L2246,1150 L2252,1146 L2254,1136 L2254,1123 L2253,1110 L2254,1100 L2254,1090 L2254,1080 L2253,1068 L2253,1055 L2251,1041 L2248,1026 L2245,1009 L2241,992 L2238,976 L2235,959 L2231,942 L2225,926 L2219,910 L2214,894 L2208,877 L2203,859 L2198,845 L2194,835 L2191,828 L2189,823 L2186,817 L2183,810 L2180,803 L2175,797 L2168,792 L2154,790Z" fill="#19a7de" fill-rule="evenodd"/>
<path d="M2151,780 L2172,782 L2183,790 L2188,797 L2192,805 L2195,812 L2198,819 L2200,824 L2203,831 L2207,841 L2211,856 L2216,874 L2221,891 L2226,907 L2232,923 L2238,940 L2240,958 L2243,975 L2246,991 L2249,1008 L2252,1025 L2255,1040 L2256,1055 L2257,1068 L2257,1080 L2257,1090 L2256,1100 L2255,1110 L2255,1123 L2255,1137 L2252,1147 L2246,1150 L2238,1149 L2230,1147 L2221,1144 L2212,1139 L2203,1132 L2197,1123 L2191,1112 L2185,1100 L2181,1088 L2177,1074 L2173,1060 L2169,1046 L2165,1032 L2161,1018 L2157,1007 L2153,996 L2149,985 L2146,974 L2143,963 L2141,950 L2140,934 L2140,916 L2140,900 L2140,886 L2140,872 L2141,860 L2140,848 L2139,837 L2139,828 L2137,821 L2134,813 L2132,806 L2133,799 L2138,790 L2151,780Z M2153,787 L2143,795 L2139,802 L2137,808 L2139,815 L2141,821 L2142,829 L2142,838 L2142,848 L2142,860 L2142,872 L2142,886 L2142,900 L2141,916 L2141,934 L2142,950 L2144,963 L2146,974 L2149,985 L2153,996 L2157,1007 L2162,1018 L2166,1032 L2170,1046 L2174,1060 L2177,1074 L2181,1087 L2186,1100 L2191,1112 L2197,1123 L2204,1132 L2212,1139 L2221,1143 L2230,1146 L2238,1149 L2246,1150 L2252,1146 L2254,1136 L2254,1123 L2254,1110 L2254,1100 L2255,1090 L2255,1080 L2254,1068 L2254,1055 L2252,1041 L2249,1025 L2246,1009 L2242,992 L2239,976 L2236,959 L2233,942 L2228,925 L2222,909 L2216,893 L2211,876 L2206,858 L2201,844 L2197,833 L2194,827 L2192,822 L2189,815 L2186,808 L2183,801 L2178,795 L2169,788 L2153,787Z" fill="#1bb7c6" fill-rule="evenodd"/>
<path d="M2150,776 L2173,778 L2185,787 L2191,795 L2195,803 L2198,811 L2201,817 L2203,822 L2206,829 L2210,840 L2214,855 L2219,873 L2224,890 L2229,906 L2234,922 L2240,939 L2242,957 L2245,974 L2247,991 L2251,1008 L2254,1024 L2256,1040 L2257,1055 L2258,1068 L2258,1079 L2257,1090 L2257,1100 L2255,1110 L2255,1123 L2255,1137 L2252,1147 L2246,1150 L2238,1149 L2230,1147 L2221,1144 L2212,1139 L2203,1133 L2197,1123 L2191,1112 L2185,1100 L2181,1088 L2177,1074 L2173,1060 L2169,1046 L2165,1032 L2161,1018 L2157,1007 L2153,996 L2149,985 L2145,974 L2143,963 L2140,950 L2140,934 L2140,916 L2140,900 L2140,885 L2140,872 L2140,860 L2139,848 L2138,837 L2137,828 L2135,820 L2132,813 L2129,804 L2130,797 L2135,787 L2150,776Z M2152,783 L2140,792 L2136,800 L2134,807 L2137,814 L2139,821 L2140,828 L2141,837 L2141,848 L2141,860 L2141,872 L2141,886 L2141,900 L2141,916 L2141,934 L2141,950 L2143,963 L2146,974 L2149,985 L2153,996 L2157,1007 L2161,1018 L2165,1032 L2169,1046 L2173,1060 L2177,1074 L2181,1088 L2185,1100 L2191,1112 L2197,1123 L2204,1132 L2212,1139 L2221,1144 L2230,1147 L2238,1149 L2246,1150 L2252,1146 L2254,1137 L2254,1123 L2254,1110 L2255,1100 L2256,1090 L2256,1080 L2255,1068 L2255,1055 L2253,1041 L2251,1025 L2247,1008 L2244,992 L2241,975 L2238,958 L2235,941 L2230,924 L2224,908 L2219,892 L2214,875 L2209,857 L2204,843 L2200,832 L2197,825 L2195,820 L2192,814 L2189,806 L2186,799 L2180,792 L2171,785 L2152,783Z" fill="#2ec2a7" fill-rule="evenodd"/>
<path d="M2149,772 L2175,775 L2188,784 L2195,793 L2199,802 L2202,809 L2204,815 L2206,820 L2209,828 L2213,839 L2217,854 L2222,872 L2226,889 L2231,905 L2237,921 L2242,939 L2244,956 L2247,974 L2249,990 L2252,1007 L2255,1024 L2257,1040 L2259,1054 L2259,1067 L2259,1079 L2258,1090 L2257,1100 L2256,1110 L2256,1123 L2255,1137 L2252,1147 L2246,1150 L2238,1149 L2230,1147 L2221,1144 L2212,1139 L2203,1133 L2196,1123 L2190,1112 L2185,1100 L2181,1088 L2177,1074 L2173,1060 L2169,1046 L2165,1032 L2161,1018 L2157,1007 L2152,996 L2149,985 L2145,975 L2142,963 L2140,950 L2139,934 L2139,916 L2139,900 L2139,885 L2139,872 L2139,860 L2138,848 L2137,837 L2135,828 L2133,820 L2129,812 L2126,803 L2127,795 L2132,785 L2149,772Z M2151,780 L2137,790 L2133,799 L2131,806 L2134,813 L2137,821 L2139,828 L2139,837 L2140,848 L2141,860 L2140,872 L2140,886 L2141,900 L2140,916 L2140,934 L2141,950 L2143,963 L2146,974 L2149,985 L2153,996 L2157,1007 L2161,1018 L2165,1032 L2169,1046 L2173,1060 L2177,1074 L2181,1088 L2185,1100 L2191,1112 L2197,1123 L2204,1132 L2212,1139 L2221,1144 L2230,1147 L2238,1149 L2246,1150 L2252,1146 L2255,1137 L2255,1123 L2255,1110 L2256,1100 L2256,1090 L2257,1080 L2257,1068 L2256,1055 L2255,1041 L2252,1025 L2249,1008 L2245,991 L2243,975 L2240,958 L2238,940 L2232,923 L2227,907 L2221,891 L2216,874 L2211,856 L2207,841 L2203,831 L2200,824 L2198,818 L2195,812 L2192,805 L2189,797 L2183,789 L2172,781 L2151,780Z" fill="#54c880" fill-rule="evenodd"/>
<path d="M2148,768 L2177,771 L2191,781 L2198,791 L2202,800 L2205,808 L2207,814 L2209,819 L2212,826 L2216,838 L2220,853 L2225,871 L2229,888 L2234,904 L2239,920 L2245,938 L2247,956 L2249,973 L2251,990 L2254,1007 L2257,1024 L2259,1040 L2260,1054 L2260,1067 L2260,1079 L2260,1090 L2258,1100 L2257,1110 L2256,1123 L2256,1137 L2252,1147 L2246,1151 L2238,1150 L2230,1147 L2221,1144 L2212,1139 L2203,1133 L2196,1124 L2190,1112 L2185,1100 L2181,1088 L2177,1074 L2173,1060 L2169,1046 L2165,1032 L2161,1018 L2157,1007 L2152,996 L2148,985 L2145,975 L2142,963 L2139,950 L2139,934 L2139,916 L2139,900 L2139,885 L2138,872 L2139,860 L2137,848 L2135,837 L2133,827 L2130,819 L2126,811 L2122,802 L2124,793 L2130,782 L2148,768Z M2150,776 L2135,787 L2130,797 L2128,804 L2132,813 L2135,820 L2137,828 L2138,837 L2139,848 L2140,860 L2140,872 L2140,885 L2140,900 L2140,916 L2140,934 L2140,950 L2143,963 L2145,974 L2149,985 L2153,996 L2157,1007 L2161,1018 L2165,1032 L2169,1046 L2173,1060 L2177,1074 L2181,1088 L2185,1100 L2191,1112 L2197,1123 L2203,1133 L2212,1139 L2221,1144 L2230,1147 L2238,1149 L2246,1150 L2252,1147 L2255,1137 L2255,1123 L2255,1110 L2256,1100 L2257,1090 L2258,1079 L2258,1068 L2257,1055 L2256,1040 L2254,1024 L2250,1008 L2247,991 L2245,974 L2242,957 L2240,939 L2235,922 L2229,906 L2224,890 L2219,873 L2214,855 L2210,840 L2206,829 L2203,822 L2201,817 L2199,811 L2196,803 L2192,795 L2186,787 L2174,778 L2150,776Z" fill="#8ec750" fill-rule="evenodd"/>
<path d="M2147,764 L2178,767 L2194,778 L2201,789 L2206,798 L2209,806 L2211,812 L2212,817 L2215,825 L2219,836 L2223,852 L2228,870 L2232,887 L2237,902 L2242,919 L2247,937 L2249,955 L2251,972 L2253,989 L2256,1006 L2259,1023 L2261,1039 L2262,1054 L2262,1067 L2262,1079 L2261,1090 L2259,1100 L2258,1110 L2257,1123 L2256,1137 L2253,1147 L2246,1151 L2238,1150 L2230,1147 L2221,1144 L2212,1140 L2203,1133 L2196,1124 L2190,1112 L2185,1100 L2180,1088 L2177,1074 L2173,1060 L2169,1046 L2165,1032 L2161,1018 L2156,1007 L2152,996 L2148,985 L2144,975 L2141,963 L2139,950 L2138,934 L2138,916 L2138,900 L2138,885 L2138,872 L2138,859 L2135,847 L2133,836 L2131,827 L2128,818 L2123,810 L2119,800 L2121,791 L2127,779 L2147,764Z M2149,772 L2132,784 L2127,795 L2125,803 L2129,812 L2132,820 L2135,828 L2137,837 L2138,848 L2139,860 L2139,872 L2139,885 L2139,900 L2139,916 L2139,934 L2140,950 L2142,963 L2145,975 L2149,985 L2152,996 L2157,1007 L2161,1018 L2165,1032 L2169,1046 L2173,1060 L2177,1074 L2181,1088 L2185,1100 L2190,1112 L2196,1123 L2203,1133 L2212,1139 L2221,1144 L2230,1147 L2238,1149 L2246,1150 L2252,1147 L2255,1137 L2256,1123 L2256,1110 L2257,1100 L2258,1090 L2259,1079 L2259,1067 L2259,1054 L2257,1040 L2255,1024 L2252,1007 L2249,990 L2247,974 L2245,956 L2243,938 L2237,921 L2232,904 L2227,889 L2222,872 L2218,854 L2213,839 L2209,828 L2206,820 L2204,815 L2202,809 L2199,801 L2195,793 L2188,784 L2175,774 L2149,772Z" fill="#c0c639" fill-rule="evenodd"/>
<path d="M2146,760 L2180,763 L2197,775 L2205,786 L2210,796 L2213,804 L2214,810 L2216,815 L2219,823 L2223,835 L2227,851 L2231,869 L2235,885 L2240,901 L2245,918 L2250,936 L2252,954 L2254,972 L2255,989 L2258,1006 L2261,1023 L2263,1039 L2264,1054 L2264,1067 L2264,1079 L2262,1090 L2260,1100 L2258,1110 L2258,1123 L2256,1137 L2253,1147 L2246,1151 L2238,1150 L2230,1147 L2221,1144 L2212,1140 L2203,1133 L2196,1124 L2190,1113 L2185,1101 L2180,1088 L2176,1074 L2173,1060 L2169,1046 L2165,1032 L2161,1018 L2156,1007 L2152,996 L2148,986 L2144,975 L2141,964 L2138,950 L2137,934 L2137,916 L2137,900 L2137,885 L2137,872 L2137,859 L2134,847 L2131,836 L2129,826 L2125,818 L2120,809 L2116,799 L2117,789 L2123,776 L2146,760Z M2148,767 L2129,782 L2123,793 L2122,801 L2126,811 L2130,819 L2133,827 L2135,837 L2137,848 L2139,860 L2138,872 L2138,885 L2139,900 L2139,916 L2139,934 L2139,950 L2142,963 L2145,975 L2148,985 L2152,996 L2157,1007 L2161,1018 L2165,1032 L2169,1046 L2173,1060 L2177,1074 L2181,1088 L2185,1100 L2190,1112 L2196,1124 L2203,1133 L2212,1139 L2221,1144 L2230,1147 L2238,1150 L2246,1151 L2252,1147 L2256,1137 L2256,1123 L2257,1110 L2258,1100 L2260,1090 L2261,1079 L2261,1067 L2260,1054 L2259,1040 L2257,1024 L2254,1007 L2251,990 L2249,973 L2247,956 L2245,938 L2240,920 L2235,903 L2230,888 L2225,871 L2221,853 L2217,838 L2213,826 L2209,818 L2208,813 L2206,807 L2203,799 L2199,791 L2191,781 L2177,770 L2148,767Z" fill="#e9c438" fill-rule="evenodd"/>
<path d="M2144,755 L2182,758 L2201,772 L2209,784 L2214,794 L2217,802 L2219,808 L2220,813 L2223,821 L2227,833 L2231,850 L2235,867 L2239,884 L2243,900 L2248,917 L2253,935 L2255,953 L2257,971 L2259,988 L2261,1005 L2264,1022 L2266,1039 L2266,1054 L2266,1067 L2266,1079 L2264,1090 L2262,1100 L2260,1110 L2258,1122 L2257,1137 L2253,1147 L2246,1151 L2238,1150 L2230,1148 L2221,1144 L2211,1140 L2203,1133 L2196,1124 L2190,1113 L2185,1101 L2180,1088 L2176,1074 L2172,1060 L2168,1046 L2164,1032 L2160,1018 L2156,1007 L2152,997 L2148,986 L2143,975 L2140,964 L2137,950 L2136,934 L2136,916 L2136,900 L2136,885 L2135,872 L2136,859 L2132,847 L2129,836 L2126,826 L2121,817 L2116,808 L2112,797 L2113,787 L2120,773 L2144,755Z M2147,763 L2126,778 L2120,791 L2118,800 L2122,810 L2127,818 L2131,827 L2133,836 L2135,847 L2138,859 L2137,872 L2138,885 L2138,900 L2138,916 L2138,934 L2138,950 L2141,963 L2144,975 L2148,986 L2152,996 L2156,1007 L2161,1018 L2165,1032 L2169,1046 L2173,1060 L2177,1074 L2180,1088 L2185,1100 L2190,1112 L2196,1124 L2203,1133 L2212,1140 L2221,1144 L2230,1147 L2238,1150 L2246,1151 L2253,1147 L2256,1137 L2257,1123 L2258,1110 L2260,1100 L2261,1090 L2262,1079 L2263,1067 L2262,1054 L2261,1039 L2259,1023 L2257,1006 L2254,989 L2252,972 L2250,955 L2248,937 L2243,919 L2238,902 L2233,886 L2229,869 L2224,852 L2220,836 L2216,824 L2213,816 L2212,811 L2210,805 L2207,797 L2202,788 L2195,778 L2179,766 L2147,763Z" fill="#fdd12f" fill-rule="evenodd"/>
<path d="M2143,751 L2183,755 L2203,769 L2212,782 L2217,792 L2220,801 L2221,806 L2222,811 L2226,820 L2230,832 L2233,849 L2237,866 L2241,883 L2245,899 L2250,916 L2255,934 L2259,952 L2262,969 L2265,986 L2267,1004 L2269,1021 L2271,1038 L2271,1053 L2271,1066 L2270,1079 L2268,1090 L2265,1100 L2262,1110 L2260,1122 L2258,1137 L2254,1147 L2246,1152 L2238,1151 L2229,1148 L2221,1145 L2211,1140 L2203,1133 L2195,1124 L2189,1113 L2184,1101 L2180,1088 L2176,1074 L2172,1061 L2168,1046 L2164,1032 L2160,1019 L2156,1007 L2151,997 L2147,986 L2142,975 L2138,964 L2135,951 L2134,934 L2134,916 L2134,900 L2133,885 L2133,872 L2133,859 L2128,847 L2124,835 L2119,825 L2115,816 L2111,806 L2109,796 L2111,785 L2118,770 L2143,751Z M2145,758 L2122,775 L2116,788 L2114,798 L2118,808 L2123,817 L2127,826 L2130,836 L2133,847 L2136,859 L2136,872 L2136,885 L2137,900 L2137,916 L2137,934 L2137,950 L2140,964 L2144,975 L2148,986 L2152,996 L2156,1007 L2161,1018 L2165,1032 L2169,1046 L2173,1060 L2176,1074 L2180,1088 L2185,1101 L2190,1113 L2196,1124 L2203,1133 L2211,1140 L2221,1144 L2230,1147 L2238,1150 L2246,1151 L2253,1147 L2257,1137 L2258,1123 L2259,1110 L2261,1100 L2263,1090 L2265,1079 L2265,1067 L2265,1054 L2264,1039 L2262,1023 L2260,1005 L2257,988 L2255,971 L2253,954 L2251,936 L2246,918 L2241,901 L2237,885 L2232,868 L2228,850 L2224,835 L2220,822 L2217,814 L2216,809 L2214,803 L2211,795 L2206,785 L2198,774 L2181,761 L2145,758Z" fill="#faed1e" fill-rule="evenodd"/>
<polygon points="2159,807 2161,807 2163,809 2166,812 2169,817 2172,823 2175,830 2178,835 2181,841 2185,850 2190,864 2196,881 2202,898 2208,914 2215,930 2221,946 2226,962 2231,978 2235,994 2239,1010 2243,1027 2246,1042 2248,1056 2249,1068 2250,1080 2251,1090 2251,1100 2251,1110 2252,1123 2253,1136 2251,1146 2246,1149 2238,1148 2230,1146 2221,1143 2212,1139 2204,1132 2197,1123 2191,1112 2186,1100 2182,1087 2178,1074 2174,1060 2170,1046 2166,1031 2162,1018 2158,1006 2154,996 2150,985 2147,974 2145,963 2144,950 2144,934 2144,916 2144,900 2144,886 2144,872 2145,860 2146,849 2148,839 2149,830 2150,824 2152,819 2153,815 2155,811 2157,808" fill="#3e26a8" stroke="#3e26a8" stroke-width="1.5"/>
</g>
<polygon points="2249,1090 2265,1090 2268,1202 2250,1202" fill="#3e26a8"/>
<polygon points="2238,983 2242,998 2246,1013 2250,1029 2254,1045 2257,1062 2260,1078 2262,1091 2264,1103 2266,1120 2268,1144 2269,1173 2270,1202 2267,1202 2266,1173 2264,1144 2263,1120 2261,1104 2259,1093 2257,1080 2254,1064 2251,1047 2248,1030 2244,1015 2240,1000 2236,985" fill="#4133be"/>
<polygon points="2239,983 2243,998 2247,1013 2251,1028 2255,1044 2258,1061 2261,1077 2264,1090 2266,1103 2268,1120 2269,1144 2270,1173 2272,1202 2268,1202 2267,1173 2266,1144 2264,1120 2263,1104 2261,1092 2258,1079 2255,1063 2252,1046 2249,1029 2245,1014 2241,999 2237,984" fill="#474cea"/>
<polygon points="2240,982 2244,997 2248,1012 2252,1028 2256,1044 2259,1060 2262,1076 2265,1089 2267,1103 2269,1120 2271,1145 2272,1173 2273,1202 2270,1202 2269,1173 2267,1144 2266,1120 2264,1103 2262,1091 2260,1078 2257,1062 2254,1045 2250,1029 2246,1013 2242,999 2238,984" fill="#3c6af5"/>
<polygon points="2241,981 2245,996 2249,1011 2253,1027 2257,1043 2261,1059 2264,1075 2266,1089 2269,1102 2271,1120 2272,1145 2274,1173 2275,1202 2272,1202 2270,1173 2269,1144 2267,1120 2265,1103 2263,1090 2261,1077 2258,1061 2255,1044 2251,1028 2247,1013 2243,998 2239,983" fill="#2d89f6"/>
<polygon points="2242,980 2246,995 2251,1011 2255,1026 2259,1042 2262,1058 2265,1074 2268,1088 2270,1102 2272,1120 2274,1145 2275,1173 2277,1202 2273,1202 2272,1173 2270,1145 2269,1120 2267,1103 2265,1090 2262,1076 2259,1060 2256,1044 2252,1028 2248,1012 2244,997 2240,982" fill="#1ca1e2"/>
<polygon points="2243,979 2248,995 2252,1010 2256,1025 2260,1041 2264,1057 2267,1072 2270,1087 2272,1102 2274,1120 2276,1145 2277,1173 2279,1202 2275,1202 2274,1173 2272,1145 2271,1120 2269,1102 2266,1089 2264,1075 2261,1059 2257,1043 2253,1027 2249,1011 2245,996 2241,981" fill="#1ab6c9"/>
<polygon points="2244,978 2249,994 2253,1009 2257,1025 2261,1040 2265,1055 2269,1071 2271,1086 2274,1101 2276,1120 2278,1145 2279,1173 2281,1202 2277,1202 2275,1173 2274,1145 2272,1120 2270,1102 2268,1088 2265,1074 2262,1058 2259,1042 2255,1026 2251,1011 2246,995 2242,980" fill="#2fc3a4"/>
<polygon points="2246,977 2250,993 2255,1008 2259,1024 2263,1039 2267,1054 2270,1070 2273,1085 2276,1101 2278,1120 2280,1145 2281,1173 2283,1202 2279,1202 2277,1173 2276,1145 2274,1120 2272,1102 2270,1087 2267,1072 2264,1057 2260,1041 2256,1025 2252,1010 2248,995 2243,979" fill="#62c874"/>
<polygon points="2247,976 2252,992 2256,1007 2261,1023 2265,1038 2269,1053 2273,1068 2276,1084 2278,1100 2280,1120 2282,1145 2284,1174 2286,1202 2281,1202 2280,1173 2278,1145 2276,1120 2274,1101 2272,1086 2269,1071 2265,1055 2262,1040 2258,1025 2253,1009 2249,994 2245,978" fill="#a6c73d"/>
<polygon points="2249,975 2254,990 2258,1006 2262,1022 2267,1036 2271,1051 2275,1066 2278,1082 2281,1100 2283,1120 2285,1145 2287,1174 2288,1202 2284,1202 2282,1174 2280,1145 2279,1120 2276,1101 2274,1085 2271,1069 2267,1054 2263,1039 2259,1024 2255,1008 2251,993 2246,977" fill="#d8c538"/>
<polygon points="2251,973 2256,989 2260,1005 2265,1020 2270,1035 2274,1049 2278,1064 2281,1081 2284,1099 2286,1120 2289,1145 2290,1174 2292,1202 2287,1202 2285,1174 2283,1145 2281,1120 2279,1100 2276,1083 2273,1067 2270,1052 2266,1037 2261,1022 2257,1007 2252,991 2248,976" fill="#fdca34"/>
<polygon points="2255,970 2260,986 2264,1002 2269,1018 2274,1032 2279,1045 2283,1060 2286,1078 2289,1098 2292,1120 2294,1146 2296,1174 2298,1202 2290,1202 2288,1174 2287,1145 2285,1120 2282,1099 2280,1082 2276,1065 2273,1050 2268,1036 2264,1021 2259,1006 2255,990 2250,974" fill="#faeb1f"/>
<polygon points="1921,1150 1951,1150 1951,1223 1921,1224" fill="url(#g9)"/>
<polygon points="1926,1158 1946,1158 1946,1223 1926,1224" fill="url(#g10)"/>
<polygon points="2031,1145 2061,1145 2061,1215 2031,1216" fill="url(#g11)"/>
<polygon points="2036,1153 2056,1153 2056,1215 2036,1216" fill="url(#g12)"/>
<polygon points="2143,1145 2167,1145 2167,1207 2143,1208" fill="url(#g13)"/>
<polygon points="2148,1153 2162,1153 2162,1207 2148,1208" fill="url(#g14)"/>
<polygon points="2246,1140 2270,1140 2270,1200 2246,1201" fill="url(#g15)"/>
<polygon points="2251,1148 2265,1148 2265,1200 2251,1201" fill="url(#g16)"/>
</g>
<g stroke="#555" stroke-width="1.3">
<line x1="1607.3" y1="1249.6" x2="1629.3" y2="1246.6"/>
<line x1="1594.7" y1="1169.5" x2="1616.7" y2="1166.5"/>
<line x1="1582.1" y1="1089.4" x2="1604.1" y2="1086.4"/>
<line x1="1569.6" y1="1009.2" x2="1591.6" y2="1006.2"/>
<line x1="1557.0" y1="929.1" x2="1579.0" y2="926.1"/>
<line x1="1544.4" y1="849.0" x2="1566.4" y2="846.0"/>
<line x1="1629.3" y1="1249.6" x2="1631.3" y2="1264.6"/>
<line x1="1740.7" y1="1241.8" x2="1742.7" y2="1256.8"/>
<line x1="1852.1" y1="1234.1" x2="1854.1" y2="1249.1"/>
<line x1="1963.5" y1="1226.3" x2="1965.5" y2="1241.3"/>
<line x1="2074.9" y1="1218.5" x2="2076.9" y2="1233.5"/>
<line x1="2186.3" y1="1210.8" x2="2188.3" y2="1225.8"/>
<line x1="2297.7" y1="1203.0" x2="2299.7" y2="1218.0"/>
</g>
<g font-family="Liberation Sans, Arial, sans-serif" font-size="15" fill="#555">
<text x="1603.3" y="1255.6" text-anchor="end">0</text>
<text x="1590.7" y="1175.5" text-anchor="end">0.2</text>
<text x="1578.1" y="1095.4" text-anchor="end">0.4</text>
<text x="1565.6" y="1015.2" text-anchor="end">0.6</text>
<text x="1553.0" y="935.1" text-anchor="end">0.8</text>
<text x="1540.4" y="855.0" text-anchor="end">1</text>
<text x="1634.3" y="1288.6" text-anchor="middle">2</text>
<text x="1745.7" y="1280.8" text-anchor="middle">2.5</text>
<text x="1857.1" y="1273.1" text-anchor="middle">3</text>
<text x="1968.5" y="1265.3" text-anchor="middle">3.5</text>
<text x="2079.9" y="1257.5" text-anchor="middle">4</text>
<text x="2191.3" y="1249.8" text-anchor="middle">4.5</text>
<text x="2302.7" y="1242.0" text-anchor="middle">5</text>
</g>
<g font-family="Liberation Sans, Arial, sans-serif" font-size="15" fill="#555">
<text transform="translate(1500,1028) rotate(-90)" text-anchor="middle" font-size="15">Degree of membership</text>
<text x="1545" y="735">1</text><text x="1528" y="761">0.5</text><text x="1545" y="789">0</text>
</g>
<text x="1615.0" y="764.5" font-family="Liberation Sans, Arial, sans-serif" font-size="24.0" font-weight="normal" fill="#2b2b2b" textLength="42.0" lengthAdjust="spacingAndGlyphs">Low</text>
<text x="1724.0" y="749.6" font-family="Liberation Sans, Arial, sans-serif" font-size="24.0" font-weight="normal" fill="#2b2b2b" textLength="130.0" lengthAdjust="spacingAndGlyphs">MediumLow</text>
<text x="1850.5" y="717.0" font-family="Liberation Sans, Arial, sans-serif" font-size="24.0" font-weight="normal" fill="#2b2b2b" textLength="86.0" lengthAdjust="spacingAndGlyphs">Medium</text>
<text x="1962.0" y="738.0" font-family="Liberation Sans, Arial, sans-serif" font-size="24.0" font-weight="normal" fill="#2b2b2b" textLength="135.0" lengthAdjust="spacingAndGlyphs">MediumHigh</text>
<text x="2124.0" y="713.0" font-family="Liberation Sans, Arial, sans-serif" font-size="24.0" font-weight="normal" fill="#2b2b2b" textLength="47.0" lengthAdjust="spacingAndGlyphs">High</text>
<text x="1897.0" y="1316.5" font-family="Liberation Sans, Arial, sans-serif" font-size="42.0" font-weight="normal" fill="#141414" textLength="26.0" lengthAdjust="spacingAndGlyphs" stroke="#141414" stroke-width="0.7">S</text>
<g stroke="#8fa3cf" stroke-width="2.2">
<line x1="957" y1="679" x2="790" y2="350"/><line x1="957" y1="679" x2="790" y2="1015"/>
<line x1="1290" y1="679" x2="1410" y2="352"/><line x1="1290" y1="679" x2="1410" y2="1015"/>
</g>
<rect x="956" y="315" width="335" height="732" fill="#8eaadf"/>
<g font-family="Liberation Serif, Times New Roman, serif" font-size="60" fill="#fff" text-anchor="middle">
<text x="1123" y="629">Mamdani</text><text x="1122" y="779">9 rules</text></g>
</svg>
</body></html>
